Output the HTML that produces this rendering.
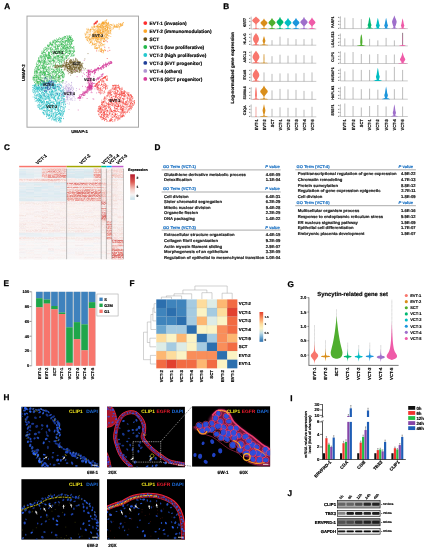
<!DOCTYPE html>
<html lang="en"><head><meta charset="utf-8"><title>Figure</title>
<style>
html,body{margin:0;padding:0;background:#fff;}
body{width:427px;height:550px;overflow:hidden;}
svg{display:block;text-rendering:geometricPrecision;font-family:"Liberation Sans", Arial, Helvetica, sans-serif;font-weight:bold;}
</style></head><body>
<svg width="427" height="550" viewBox="0 0 427 550">
<rect width="427" height="550" fill="#fff"/>
<g id="panelA"><text x="4.30" y="8.90" font-size="8.2" stroke="#000" stroke-width="0.27">A</text>
<rect x="27" y="16.1" width="111.5" height="111.1" fill="#fff" stroke="#a6a6a6" stroke-width="1"/>
<path d="M60.3 38.8h0M66.9 40.4h0M58.3 55.5h0M67 43.8h0M61.2 56.5h0M45.8 76.2h0M54.8 81h0M65.6 42.9h0M69.2 50.6h0M51.5 78h0M36.7 70.7h0M45.6 54.8h0M35.7 74.7h0M68.6 38.8h0M45.8 55.3h0M54 65.1h0M62 61.1h0M49.5 55.2h0M48.6 52.3h0M53 59.9h0M45.5 77.4h0M55.9 42.6h0M62.7 49.1h0M55.6 75.6h0M64.1 46.7h0M42.9 70.7h0M48.6 46.6h0M58.6 81h0M67.4 38.9h0M64.7 58.9h0M49.7 55.2h0M39.1 76.8h0M56.8 41.5h0M51.4 79.8h0M58.5 49h0M48.4 58.1h0M55.1 61.8h0M40 59h0M37.5 64.4h0M58.6 60.3h0M62.4 80.3h0M61.6 75.6h0M61.1 42.2h0M74 55.3h0M39.8 57.3h0M46 71.7h0M60.2 61h0M64.8 49.3h0M68 47.9h0M62.3 39.1h0M36.3 82.7h0M68.6 38.5h0M55.3 47.3h0M45.6 73.7h0M41.8 59.8h0M50.8 60.6h0M47.2 77.1h0M65 48.5h0M45.1 58.6h0M55.9 47.9h0M53 60.6h0M42.9 64.1h0M62.5 81.1h0M40.4 72.2h0M39.5 60.9h0M62.5 47.1h0M37.1 77.1h0M61.9 59.2h0M36.3 72.8h0M64.3 45.4h0M49.3 58.7h0M60 39.8h0M46.3 64.1h0M61.1 70.9h0M52.9 58.6h0M52.3 48.6h0M57.8 42.2h0M42.9 80.8h0M54 58.3h0M46.4 76.9h0M38.6 82h0M48.4 54.8h0M51.9 49.6h0M45.1 83.3h0M41.8 53.4h0M58.8 81.3h0M35.3 71.6h0M71.7 41.8h0M43.6 68.3h0M42.1 82.3h0M44 63.5h0M50.4 61.9h0M38.7 60.4h0M50.5 56.9h0M62.8 80.7h0M74.2 48.2h0M66 58.5h0M42.8 82.2h0M43.9 67.6h0M42.4 66.2h0M54 70.1h0M71.6 47h0M61.7 44.5h0M41.9 84.1h0M43 73.6h0M72.9 51.5h0M49 54.1h0M45.8 53.8h0M42.1 52.7h0M41.8 53.7h0M35.8 80.9h0M47.1 48.6h0M64 51.2h0M43.4 59.1h0M44 56.8h0M58 52.4h0M65.3 47.7h0M62.3 58.1h0M61.2 72.9h0M67.8 50.6h0M46.5 55.2h0M53.2 76.7h0M41.6 84.4h0M44.6 75.1h0M59.3 46.4h0M43.9 65.6h0M46.8 69.9h0M50 63.2h0M61.8 57.1h0M45.4 64.4h0M42.5 72.2h0M51.3 76.5h0M36.6 66.7h0M45.5 61.9h0M71.2 54.1h0M39.1 75.6h0M67.4 44.7h0M44.1 72.1h0M65.4 37.4h0M55.6 67.3h0M50.9 68.6h0M59.1 59.1h0M52.6 44.3h0M51.5 60.9h0M64.4 74.9h0M38.8 77.8h0M71.7 43.3h0M48.2 73.3h0M67.6 42.2h0M44.5 60.9h0M40.2 82.6h0M65.7 40.5h0M58.1 80h0M50.3 75.6h0M48.6 74.7h0M34.3 75.7h0M57.8 68.9h0M38.4 66.3h0M42.8 65.4h0M53.1 42.2h0M37.3 67.1h0M59.8 63.2h0M43.1 81h0M58.7 60.6h0M46.8 49.8h0M52.7 73.1h0M47.7 72.6h0M44.5 62.7h0M44.5 68.7h0M43.1 72.5h0M70.6 51.4h0M53.2 77.4h0M59.3 39.1h0M37.7 82.5h0M34.7 69.6h0M36.3 64.3h0M71.5 37.7h0M59.7 77.3h0M37.1 74.1h0M44.5 72.7h0M54.8 78.5h0M51.3 73.8h0M42.4 78.7h0M53.3 75.7h0M67.9 48.6h0M62.3 60.3h0M48.2 55.3h0M70.2 37.4h0M54.2 54.9h0M55.1 73.1h0M64.3 43h0M38.5 58.9h0M46 71.1h0M43.8 52h0M42.1 85.5h0M63.7 57h0M41.1 55.3h0M61.9 60.6h0M58.9 55.4h0M57.3 74h0M62.1 78h0M45.5 67.5h0M43.3 56.2h0M60.9 81.7h0M39.7 74.8h0M55.2 56.7h0M50.1 73.9h0M50.5 56.8h0M42.2 72.8h0M67.3 55.6h0M53.3 63.6h0M59.5 76.8h0M55.5 42.2h0M44.1 54.3h0M45.3 58.9h0M69.6 37.4h0M39.1 77.4h0M66.4 52.2h0M40.4 79.7h0M67.5 44.9h0M51.5 80.4h0M38.8 60.2h0M53.8 60.4h0M56.3 69.3h0M59.2 67h0M71.6 51.8h0M70.4 36.4h0M68.4 53.5h0M41.1 56.9h0M45 77.2h0M60.4 75.8h0M34.7 71.8h0M40.7 81.3h0M58.4 66.5h0M42.1 68.8h0M60.8 53.2h0M43.8 50.9h0M60.2 45.8h0M62.6 41.7h0M63.3 47.5h0M35.6 67.3h0M67.3 38.8h0M57.8 58.1h0M48 68.1h0M68.7 51.8h0M58.7 50.4h0M66.9 50h0M58.6 76.9h0M57.4 48.3h0M70.6 52.4h0M41.6 73.9h0M61.5 59.6h0M66.6 57.6h0M43.4 64.2h0M53.2 65.4h0M62 53.9h0M38 67.8h0M49.1 61.8h0M55.8 48.9h0M73.6 48.3h0M57.5 79h0M36.8 66.4h0M44.7 63.6h0M51.1 57.5h0M44.7 52.4h0M34.3 73.9h0M61.5 50h0M46.4 48.1h0M63.5 44.8h0M71.3 42.8h0M51.4 52.4h0M36.2 72.2h0M44.2 56.9h0M54.8 52.1h0M35.7 81.2h0M44.2 49.3h0M70.3 39.3h0M33.9 76.2h0M41.1 57.8h0M36.8 66.4h0M58.5 70.9h0M35.9 72.2h0M67.5 51.7h0M34.1 81.1h0M41.2 77.8h0M55.5 58.3h0M46.6 71.1h0M53.8 61.2h0M73.9 46.6h0M67.3 36.2h0M37.7 79.4h0M54.2 60.9h0M39.3 65.7h0M64.9 43.2h0M49.8 78.6h0M65.4 52.7h0M69.8 37.4h0M43.2 57h0M39.7 84.2h0M70.1 37.5h0M44.4 62.4h0M54.8 57.5h0M60.8 41h0M44.6 59h0M50.7 50h0M56.9 67.6h0M45.7 47.3h0M47.4 78.8h0M46.5 74.8h0M49.7 57.7h0M48.5 68.7h0M54.9 72.1h0M72.3 41.5h0M57.6 55.8h0M49 57.7h0M49.1 64.1h0M52.2 44.9h0M57.1 40.3h0M41.9 56.8h0M54.4 70.5h0M61.1 62.1h0M47.8 62.4h0M54.3 39.8h0M50.2 42.9h0M60.2 65.7h0M66.5 50.7h0M60.8 44.9h0M57.7 56.7h0M39.6 61.1h0M65.2 51.7h0M48.8 58.3h0M52.7 66.9h0M69.1 50.7h0M43.4 55.3h0M66.1 47.7h0M74.3 50.2h0M50 56.2h0M47.8 47.9h0M62.8 39.5h0M52 78h0M63.7 55.4h0M54.8 47.2h0M43.8 81.2h0M59.1 46.3h0M55.3 49.3h0M57.2 51h0M69.3 51.8h0M48.7 60.7h0M63.9 48.9h0M60.5 52.3h0M43.4 78h0M38 81.4h0M46.5 67h0M63 47.6h0M66.1 49.1h0M38.6 74.9h0M36.8 69.5h0M59.3 57.6h0M38.3 73h0M43.7 62.4h0M48.1 56.2h0M54.5 58h0M69.7 43h0M55.8 73.2h0M52.8 74.3h0M48.2 45.9h0M62.3 58.4h0M36.5 71.5h0M53.6 57.1h0M60.6 47.9h0M60.3 78.9h0M67.2 51.2h0M67.3 46.9h0M53.7 61.1h0M35.3 70.5h0M52.5 44.7h0M50.5 49.4h0M47.9 56.4h0M51.8 63.9h0M47.6 57.9h0M58.8 75.8h0M52.7 68.9h0M61.3 57.4h0M57 56h0M38.4 79.3h0M43.8 60.6h0M38.4 61.4h0M63.9 73.6h0M38.1 78.5h0M56.8 74.4h0M42.8 53.8h0M46.3 70.6h0M40.3 72.3h0M67.6 40h0M63.9 37.6h0M66.6 40.4h0M41.1 57.7h0M66.5 45.2h0M62.5 76.3h0M39.6 60.5h0M40.4 77.1h0M40.3 77.6h0M42.5 80.7h0M47.9 59.2h0M60.9 48.9h0M56.7 73.6h0M60 52.5h0M45.2 73.9h0M48.3 63.3h0M53.4 54.2h0M51.9 64.2h0M44.7 50.4h0M47.7 82.1h0M48.2 74.4h0M53.4 81h0M62.9 46.8h0M41.3 72.3h0M40.3 61.5h0M41.8 51.3h0M61.4 52.3h0M59.1 51.8h0M59.1 72.1h0M39.4 73.6h0M60.7 65.3h0M62.6 74.7h0M44.9 61.7h0M52.1 69.6h0M43 73.6h0M56.2 44.5h0M40.7 72.7h0M65 47.4h0M47.1 76.8h0M37.4 72h0M68.4 38.7h0M44.4 57.9h0M60.2 50.9h0M39.7 79.8h0M66.5 49.5h0M39.3 70h0M69.5 46.4h0M69.7 44.3h0M71.6 42.9h0M62.4 39.2h0M44.4 57.1h0M46.2 79.8h0M51.6 44.8h0M53 40.8h0M48.4 45.4h0M51 63.4h0M60 61.4h0M50.4 51.1h0M49.4 55.9h0M43.9 66.5h0M38.2 77.9h0M61.8 51.4h0M42.4 67.6h0M49.5 61.4h0M59.2 62.4h0M63.4 61.9h0M60.1 77.1h0M49.3 77.6h0M47.9 76h0M62.5 57.1h0M39.1 69.6h0M49 52.4h0M40.5 72h0M68.3 39.4h0M50.8 75.5h0M51.6 54.2h0M59.8 76.8h0M71.7 44.3h0M61 51.3h0M64.3 36.4h0M68.7 55.8h0M62 73h0M56.6 74.5h0M37.1 77.1h0M62.4 71.5h0M44.6 50.5h0M54.2 57.4h0M48.4 58.4h0M66.5 45.2h0M45.9 62h0M44.4 74.7h0M57 58.5h0M69.7 39.7h0M56.3 75.2h0M68.3 42.7h0M36.6 75.4h0M44.1 81.3h0M62.2 37.5h0M58.2 52.2h0M47.2 76.6h0M48.9 67.6h0M52.5 71.9h0M69 41.2h0M55.2 49.2h0M72.5 39.2h0M55.7 40.6h0M69.2 46.7h0M73.5 52.4h0M47.1 57.6h0M65.9 50.1h0M56.1 75.2h0M55.1 40.4h0M48.1 54.4h0M73 51.5h0M69.7 40.9h0M52.3 43.3h0M41.7 55.9h0M69.5 35.8h0M57 69.8h0M49.8 61.3h0M57.5 46.2h0M62.3 76h0M71.3 35.8h0M43.3 51.9h0M54 59.9h0M60.3 44.4h0M37.7 72.7h0M61.9 72h0M58.1 56.2h0M38 85.3h0M53 46.7h0M63.1 54.3h0M59.7 77.1h0M37.4 76.1h0M47.6 45.3h0M44 70h0M38.4 69.5h0M47.5 45.8h0M41.1 77.4h0M40.7 82.8h0M55.5 79.8h0M36.8 66.7h0M60.1 67.1h0M35.1 77.4h0M63.5 73.5h0M39.7 65.1h0M44.4 73.7h0M57.1 77.3h0M54.7 79.4h0M46 54.5h0M44.5 55h0M42.1 80.7h0M65.8 50.5h0M56.5 69.7h0M45.3 67h0M50.2 76.9h0M62.9 74.2h0M47.3 55.3h0M53.7 78.2h0M57.4 48h0M38.4 69.2h0M69.7 41h0M58.5 77.4h0M37.3 69h0M62.4 38.7h0M60 42.3h0M56.5 76h0M42.3 67.7h0M42.8 74.7h0M65.6 36.5h0M59 72.3h0M58.7 46.5h0M73.9 52h0M38.6 57.6h0M50 48.8h0M51.7 45.5h0M64.3 38.3h0M43.2 52h0M66.5 58.6h0M53.6 77.3h0M55.5 45.8h0M64 54.4h0M58.1 53.6h0M59.1 79.9h0M43.9 81.6h0M62.7 57.3h0M52.8 55.1h0M61 71.1h0M43.1 54.4h0M65.1 36.8h0M42.7 81.4h0M59.9 82h0M64.8 40h0M67.6 43.8h0M33.6 77.9h0M56.8 49.9h0M34 77.4h0M61.4 46.4h0M55.9 52h0M68.4 41h0M39.4 65.9h0M61.7 65.7h0M64.2 74.9h0M69.2 58.1h0M51.5 71.5h0M42.4 81h0M37.2 76.8h0M38.8 61.8h0M45.2 82h0M51.5 69.2h0M57.8 68.1h0M62 49.2h0M45.1 56.1h0M37.2 82.4h0M68.1 45.8h0M40.8 80.6h0M62 45h0M49.2 68.4h0M34.3 78.4h0M63.4 42.5h0M55.2 40.3h0M49.2 74.3h0M48.3 53.8h0M35.3 69h0M52.8 71.7h0M43.4 72h0M68.7 40.6h0M40.7 79.3h0M63.6 39.1h0M61.5 53.4h0M59.7 61.4h0M55.1 46.5h0M39.2 75h0M48.7 81.7h0M71.4 39.3h0M73.7 55.6h0M43.5 59.1h0M42.8 77.5h0M42.3 84.3h0M57.9 47.9h0M38.6 84.4h0M57.5 80.5h0M58.2 57.6h0M45.5 83.4h0M45.7 49.4h0M55 77.8h0M40.8 70.8h0M55.1 68.8h0M53.5 69.3h0M62.1 72.3h0M66.4 46.8h0M70.4 47.4h0M65.3 41.9h0M49.1 55.9h0M57 53.3h0M62.3 43h0M60 71.8h0M45 47.5h0M55.6 72h0M40.5 70.9h0M54.6 51.4h0M59.5 69.7h0M48.1 59.8h0M62.3 55.5h0M67 40.5h0M61.2 64.4h0M37.7 67.9h0M55.4 71.6h0M44.5 66.9h0M61 49.1h0M46.8 51.3h0M55.1 42.3h0M54.3 61h0M65.2 40.8h0M43.5 69.6h0M61.9 74.7h0M60.9 49.1h0M38.5 58.9h0M45.4 74.3h0M40.2 62.4h0M65.4 57h0M44.5 72.5h0M45.2 58.5h0M41.5 83.5h0M39.8 79.3h0M50.6 76.9h0M46.8 78.7h0M49.1 53.2h0M71.9 55.4h0M44.2 81.9h0M43.9 68.2h0M55.2 53h0M38.7 82.2h0M34.8 79.5h0M69.6 46.2h0M67.2 46.9h0M41.9 57.4h0M45.1 67.4h0M63.7 50.8h0M57.2 77.3h0M42.6 53.3h0M38 81.3h0M62.3 56.8h0M66.1 52.3h0M41.9 80.2h0M62.7 82.8h0M63.1 44.5h0M38.4 83.5h0M40.9 80.4h0M54.8 80.7h0M38.6 67.5h0M43.5 49h0M47.5 71.9h0M55.1 43.8h0M57.5 71h0M45.7 78.1h0M36.5 76.1h0M47.3 74.4h0M50.5 66.8h0M45.9 60.8h0M41.6 65.4h0M49.6 53.7h0M33 78.9h0M71.5 56.1h0M61.2 72.9h0M58.5 69.3h0M50.7 43.8h0M53.6 60h0M59.4 59.8h0M65.7 48.6h0M45.1 52.6h0M35.7 76.3h0M45.3 71.8h0M37.2 83h0M69.7 54.1h0M41.2 66h0M51.1 47.7h0M63 44.3h0M64 37.9h0M50.6 75.6h0M59.3 51.8h0M49.5 69.4h0M65.8 55.8h0M58.8 52.2h0M61.9 51.9h0M39.6 79.9h0M37.2 83.1h0M56.1 81.8h0M36.8 74.9h0M63.4 47.9h0M53.6 71.5h0M63.9 59h0M53.4 41.6h0M35.4 85.1h0M59.9 54.1h0M52.2 72.6h0M66.8 41.1h0M40.1 82.1h0M70.3 45.4h0M56.4 79.2h0M64.9 45.7h0M71.3 43h0M52.4 60.6h0M41.3 79.8h0M38.6 65.1h0M45.8 66.9h0M60.8 54.6h0M57 46.1h0M61.9 69.9h0M74.2 51h0M67.9 41.2h0M54.1 51.9h0M36.6 77.9h0M59.2 67.7h0M48.4 81.1h0M39.8 65.5h0M43.3 73.3h0M49.5 52.8h0M58.8 44.4h0M36.7 68.6h0M72.2 47.9h0M51.8 44.1h0M60.8 43.2h0M53.9 43.9h0M37.1 81.5h0M47.3 49.1h0M62.5 57.2h0M52.7 44.9h0M45.1 82.7h0M53.2 40.9h0M63 76h0M57.4 71.4h0M62.9 49.1h0M36.8 71.8h0M46.9 80.9h0M41.2 61.9h0M54.4 65.6h0M54.5 56.9h0M44.8 73.7h0M43.3 82.5h0M49.2 71.2h0M41.9 58.5h0M61.4 67.6h0M67.5 47.3h0M63.9 60.4h0M63.3 80.3h0M50.9 51.3h0M44.5 82.9h0M70.5 56.3h0M37.7 81.4h0M48.9 55h0M47.2 69.8h0M61.7 67.1h0M70.8 46.7h0M60.4 65.9h0M46.4 56.1h0M68.9 47.5h0M44.6 74.6h0M49.3 45.7h0M56.4 55h0M65.1 57.8h0M48.4 57.8h0M39.6 61.8h0M41.6 80.4h0M57.2 49.3h0M37.8 68.9h0M69 52.1h0M49.7 42.8h0M49.3 47.1h0M49.1 73.7h0M61.4 69.5h0M40.4 68.6h0M38.5 66.2h0M56 41.7h0M45.5 69h0M57.4 45.8h0M65.6 53.4h0M61.6 40.7h0M44.7 77.6h0M34.2 79.7h0M55.8 78.7h0M59.2 41.6h0M52.4 75.2h0M64.4 46.3h0M58.6 78.4h0M66.4 58.1h0M43.6 70.8h0M73 53.8h0M69.3 53.9h0M61.3 56.6h0M41.6 71.6h0M44.3 67.9h0M42.4 56.9h0M58.4 66.5h0M61 75.5h0M50.6 62h0M40.2 64.5h0M34.7 82.6h0M57.1 62h0M63.3 46.3h0M59.3 70h0M37.8 77.9h0M43.1 50.9h0M63.9 40.8h0M38.1 70.5h0M35.2 73.4h0M51.9 56.8h0M40 56.1h0M56.6 59.2h0M70.4 38.1h0M59.9 78.3h0M62.5 71.6h0M51.5 51.8h0M61 50.2h0M68 41.4h0M34.5 72.4h0M53.7 56.1h0M73.8 55.8h0M46 68.5h0M69.8 45h0M40.6 61.1h0M43.7 63.7h0M71.4 50.3h0M71.8 40.5h0M41.6 60.9h0M69.3 38.1h0M62.1 65.5h0M40.6 57.1h0M44.9 67.2h0M54.1 61.1h0M71.7 48h0M72.4 47.9h0M36.5 79.7h0M41.9 59h0M60.8 71.2h0M49.3 55.9h0M60.1 55.5h0M52.6 77h0M69.5 48.7h0M49 75.1h0M57.2 46h0M62.7 47.3h0M46.4 48.7h0M69.6 54h0M37 71.2h0M71 41.5h0M55.8 76.4h0M49.1 44.4h0M46.7 70.4h0M51.7 58.8h0M58.7 75.3h0M54.4 52h0M40.9 84.8h0M50.2 78.1h0M45.6 59.6h0M57.4 64.9h0M58.7 38.7h0M64.3 76.3h0M64.7 37h0M70.3 47.9h0M57 81.6h0M52.8 66.2h0M70.5 38.2h0M66.8 47.9h0M54.2 65.2h0M43 62.1h0M40.6 63.4h0M45 61h0M46.5 71.4h0M54.6 42h0M36.6 73.4h0M74.7 51.5h0M61.4 69.7h0M44.4 61.9h0M44 71.2h0M65.1 51.5h0M53.1 76.9h0M70 43h0M60.6 38.4h0M50.1 58.2h0M62.3 41.9h0M63.9 46.9h0M60.9 59h0M37.8 61h0M49 78h0M59.6 72.4h0M53.6 49.9h0M39.4 81.6h0M48.9 76.7h0M50.4 44.8h0M49.8 55.4h0M60.2 53.9h0M57.2 58h0M50.2 43.4h0M50.5 47.8h0M42.5 74.7h0M61.9 69.7h0M56.9 68.5h0M34.5 73.1h0M40.7 76.1h0M61 56.3h0M61.7 62.4h0M41.9 78.3h0M62.1 50.9h0M56.1 77.6h0M33.1 79.6h0M65.5 50.4h0M64.8 59.6h0M43.7 68.5h0M41.8 62h0M45.7 53.2h0M58 44.4h0M44.6 60.5h0M44.7 73.1h0M35.3 77.7h0M43.4 65.1h0M47 81.6h0M38.1 82.4h0M42.8 62.8h0M59.7 45.5h0M41 71.5h0M39.5 61.7h0M59.4 79.7h0M46.6 56.4h0M70.7 45.1h0M37.5 83.1h0M46.5 69.8h0M71.3 54.8h0M45.6 62.8h0M36.6 70.9h0M59.2 76.8h0M64.7 45.3h0M57.6 41.7h0M63.2 37.2h0M40 61.9h0M50.1 48.8h0M55.5 80.3h0M46.8 51h0M63.7 73.3h0M63.6 72.4h0M59.5 68.5h0M56.7 41.8h0M56.2 53.7h0M49.5 58.2h0M33.7 80.1h0M62.1 75.9h0M69.9 40.8h0M52.4 42.2h0M52.8 80.3h0M58.5 56.1h0M46.7 64.6h0M42 71.3h0M46.3 66.3h0M60.3 52.9h0M59 81.6h0M44.7 75.4h0M71.4 43.7h0M46.6 55.5h0M48.8 75h0M55.1 70h0M69.6 53.5h0M48 69.8h0M46.8 48.1h0M62.5 80.2h0M54.9 77.1h0M68 41.8h0M41 75.5h0M45.1 48.9h0M57.7 53.3h0M59.9 69.4h0M42.5 60.9h0M34.8 77.6h0M58.1 75.8h0M62.1 40h0M39.9 68.8h0M48.6 63.6h0M55.9 75.4h0M36.8 80h0M37.7 70h0M49 52h0M66.3 52.3h0M69.3 53.6h0M48.5 48.6h0M56.2 62.4h0M71.3 39.6h0M72.2 38.5h0M39.9 62.6h0M50.7 59.2h0M60.7 50.6h0M47.8 80.2h0M53.2 79h0M67.5 53.9h0M56.8 51.5h0M56.2 57.4h0M63.9 77.4h0M73.7 46.4h0M45.4 69.1h0M63 59.2h0M53.3 65.6h0M53.5 42.5h0M48.7 53.4h0M47.2 81.6h0M67.6 36.8h0M73 40.3h0M73.6 47.8h0M57.7 52.9h0M70.4 48.2h0M72.3 47.8h0M37 81.5h0M52.9 75.2h0M44.6 60.7h0M68.6 55.6h0M68.9 36.1h0M40.9 56h0M37 72.3h0M51.6 47.1h0M36.4 71h0M74.1 51.6h0M50.1 70.4h0M37.6 66.9h0M58 73.8h0M58.1 56.7h0M55.9 51.2h0M42.1 52.8h0M53.8 72.7h0M58.6 46h0M48.1 67.5h0M47 80.1h0M58.8 75.8h0M56.2 56.4h0M62.8 41.6h0M60.1 50.7h0M63.6 76h0M55.1 47.3h0M49.3 73.6h0M63.8 47.8h0M54 70.3h0M50.8 72.7h0M57.4 55.9h0M35 71.3h0M63.5 77.8h0M50.2 48.2h0M72 43.8h0M46.4 62.2h0M43.1 68.6h0M49.2 45.8h0M46.7 56.2h0M43.2 81.8h0M70.2 41.1h0M46.1 66h0M34 77.6h0M65.7 44.7h0M44.1 64.8h0M37.7 75.9h0M60.5 66.8h0M42 62.6h0M58.5 62.4h0M58.4 39.8h0M54.9 52.7h0M55.9 77.2h0M64.6 46.2h0M65.3 46.3h0M63.6 72h0M44.7 68.9h0M53.3 62.5h0M51.3 52.7h0M44.9 52.4h0M49.1 55.3h0M64.1 55.2h0M48.7 49.4h0M66.6 38.1h0M65.8 41.7h0M52.9 80.7h0M40.2 79.4h0M53.2 60h0M64.2 60h0M70 43.9h0M58.1 59.1h0M56.7 50.3h0M49.4 56.9h0M39.4 60.5h0M54.6 76.5h0M37.5 73.1h0M70 46.7h0M47.4 71.5h0M36.9 65.4h0M62.5 41.3h0M36.8 75.7h0M58.7 41.5h0M60.6 78.8h0M69.9 40.3h0M54.7 40.6h0M57.8 46.8h0M59.6 44.8h0M54.7 50.5h0M58.9 49.7h0M42.3 74.3h0M72.3 47.6h0M47.5 57.9h0M57.7 40.4h0M51.7 61.7h0M47.4 45.1h0M59.6 60.8h0M38.8 81.8h0M59.3 76.4h0M58.7 79.5h0M64.2 38.5h0M61.6 43.6h0M53.7 51.1h0M44.8 56.7h0M53.3 69.9h0M44.9 74.7h0M34.5 71h0M55.3 44.6h0M54.1 71.6h0M34.7 85.5h0M68.5 48.9h0M63.4 48.4h0M68.2 48.1h0M61.9 62.6h0M62.3 51.6h0M44.6 61.4h0M65.2 53.5h0M35.7 83.8h0M70.7 50.9h0M61 38.5h0M40.6 67.1h0M40.2 73h0M55.6 76.5h0M46.4 80.3h0M73.3 52.8h0M59.9 57.3h0M55.5 59.9h0M66.8 56.9h0M70.4 37.6h0M50.4 73.8h0M55.1 49.6h0M56.9 53.1h0M45.3 57h0M61 56.5h0M56.3 71.7h0M60.9 52.8h0M62 63.8h0M49 66.6h0M48.8 54.3h0M39.8 69.7h0M69.2 36.1h0M58.7 66.7h0M56.6 48.5h0M69.7 50.9h0M41.8 68.2h0M45.9 75.8h0M37.1 71.5h0M72 55.2h0M34.8 80.4h0M40.5 83.1h0M56.3 44.9h0M61.4 61.5h0M68.7 37.2h0M57.8 46.9h0M58.8 72h0M49.9 79.9h0M44.6 81.2h0M51.8 54.6h0M69.5 36.7h0M68.4 39.8h0M50.9 65.2h0M55.7 58.3h0M61.7 82.2h0M56.1 80.6h0M68.3 44.5h0M51.6 50.7h0M42.1 60.2h0M73.8 49.6h0M40 78.5h0M55 43.6h0M42.2 65.4h0M36.9 62.3h0M62.3 76.5h0M52.7 78.6h0M44.2 66.7h0M61.3 44h0M35.6 83.9h0M40.3 73.7h0M48.6 72.5h0M39.8 81.5h0M58 51.1h0M36.6 77.9h0M62.1 55.6h0M45.3 72.9h0M62.3 51.9h0M44.1 65.4h0M70.6 53.1h0M37.7 61.1h0M36 77.5h0M36.4 77h0M50 60.8h0M61.7 69.8h0M44.1 76.2h0M69.1 48.5h0M61.6 40.9h0M67.5 47.4h0M63.7 51.7h0M61.7 53.1h0M56.7 41.9h0M38.8 79.4h0M58.9 56h0M45.6 55.7h0M61.9 43.7h0M68.9 39.6h0M61.2 38.9h0M48.9 57.7h0M45.7 49.6h0M72.5 40.9h0M43.6 61.2h0M61.6 43.1h0M34.7 75.7h0M67.8 39.1h0M60 42.1h0M52.6 45.2h0M59.3 37.5h0M57.5 60h0M53.8 45.8h0M62.7 45.3h0M52.9 60.6h0M45.8 54.7h0M64.1 53.8h0M48.8 80h0M66.1 56.4h0M65.6 44h0M52.8 41.9h0M62.3 51h0M69.8 49.7h0M45.5 57.1h0M36.8 83.8h0M40.2 83.2h0M49.3 75.5h0M67.2 52.6h0M54.3 74.3h0M39.3 72.1h0M61.3 44.5h0M33.2 78.2h0M59.6 82.1h0M55.8 56.3h0M45.3 73.4h0M38.5 60.8h0M40 83.6h0M38.5 63.6h0M64.1 41.5h0M62.7 72.6h0M71.9 39.6h0M51.2 69.3h0M66.9 40.8h0M43 56.1h0M38.5 76.8h0M38.3 69.8h0M38.7 62.4h0M58 48h0M57.3 39.6h0M54.3 72.9h0M63.3 45.2h0M70.5 39.5h0M52.1 77.9h0M65 42.5h0M62.3 44.1h0M61.1 57.5h0M40.9 80.4h0M62.5 57.7h0M67.6 37.6h0M55.3 63.2h0M59.6 70.9h0M74 54.5h0M57.8 45.8h0M58 59.9h0M54.6 52.9h0M72.8 56.2h0M55.2 43.6h0M66.6 52.2h0M45.7 77.3h0M43.6 72.8h0M34.7 82.5h0M59.6 64.7h0M46.9 69.3h0M39.4 72.5h0M66.9 52.1h0M58.6 73.2h0M63.9 57.9h0M44.2 78.8h0M50.9 58.7h0M70.2 50.3h0M62.6 74.6h0M47.3 74.6h0M50.8 48.9h0M58.8 72.2h0M55.2 46.6h0M35.2 68.2h0M61.9 81.3h0M50.1 61.9h0M56.3 71.1h0M48.7 70.2h0M53.3 78.3h0M59.7 42.9h0M50 64.1h0M43.8 52.7h0M43.7 63.7h0M58.4 39.4h0M72.5 53.7h0M32.9 77.2h0M48.6 46.6h0M44.3 83.1h0M51.9 49.4h0M52.6 53.3h0M50 67.1h0M70.8 41.7h0M65.9 38.5h0M66.2 49.6h0M59.6 52.5h0M48 46.5h0M45.2 72.2h0M50.8 56.4h0M63.2 77h0M55.7 53.1h0M48 74.5h0M36.4 77.5h0M53 59.3h0M64.9 54.9h0M49 52.8h0M36.7 80.4h0M64 74.1h0M41.9 60.9h0M70.7 44.5h0M56.5 72.3h0M59.1 78.3h0M49.2 72.5h0M48.6 52.3h0M56.7 66.7h0M49.2 61.4h0M60.1 57.8h0M47.7 64.2h0M44.1 71.9h0M57.5 69.9h0M38.7 78.2h0M48.7 67.4h0M63.4 41.7h0M40.3 56.1h0M57.1 61.1h0M67.6 49.2h0M47.7 57.5h0M66.1 45.2h0M65.8 41.6h0M61.4 46.7h0M66.4 55.6h0M73.3 40.6h0M45.6 59.3h0M64.2 48.3h0M53 53.1h0M60.7 59.7h0M69.2 51.1h0M66.8 47.7h0M34.4 77.3h0M55.7 72h0M40.3 67.5h0M40.4 62.6h0M55.5 48h0M50.4 44.2h0M70 51.5h0M60.6 73.4h0M63.6 80.8h0M54.6 78.4h0M72.8 50.6h0M47.3 50.5h0M70.5 38.6h0M66.9 56.5h0M72 53.5h0M65.6 45.1h0M38.5 78.2h0M50.3 43.7h0M70.1 50.9h0M59.6 75.3h0M38.7 83.4h0M59.9 51.2h0M44.8 80h0M42.1 67.8h0M49.4 76.4h0M37 81.5h0M42 74.4h0M52.9 76.9h0M49 71.4h0M39 58.9h0M72.1 40.2h0M59.6 63.5h0M43.9 52.2h0M55.4 57.5h0M52.4 49.9h0M56 71.9h0M39 69.2h0M34.9 85.6h0M48.5 72.3h0M37.2 64.7h0M50.4 42.1h0M43.3 71.2h0M48.9 57.9h0M71 46.3h0M57.2 66h0M62.1 39.4h0M68.2 42.4h0M64.1 49h0M36.9 80.2h0M48.4 56h0M70.1 39.3h0M67.8 55.7h0M43.8 55.2h0M47.3 61h0M47.3 64.5h0M49.4 44.8h0M36.6 63.6h0M70.4 52.2h0M57.9 74.1h0M56.5 82.2h0M65.8 41.3h0M44.9 71.6h0M35.8 75.7h0M43.4 72.5h0M69.5 43.1h0M52.3 49.2h0M36.6 85h0M49 60.4h0M58.3 48.5h0M67.2 57h0M59.4 70.5h0M43.7 61.9h0M47.5 58.4h0M61.5 45.1h0M57.6 52.1h0M58.6 41.6h0M45.2 75.3h0M52.1 59.9h0M58.6 58.8h0M42.8 65.3h0M33.6 77.6h0M70 37.5h0M42.7 67.9h0M34.4 75.3h0M66.9 35.7h0M58 56.6h0M53.5 58.2h0M49.4 74.1h0M55.4 51.6h0M38.1 84.4h0M63.1 53.8h0M53.1 71.2h0M70 42.2h0M51.5 44.5h0M56.5 38.8h0M60.1 60.9h0M40.2 82.6h0M51 43h0M66.2 48.1h0M67.8 47.4h0M53.9 47.2h0M53 72.4h0M62.2 48.5h0M63.6 50.9h0M60.3 41.5h0M50.5 58.1h0M73.9 50.3h0M58.7 56.2h0M57.4 70.9h0M53.8 71.5h0M35.9 79.1h0M50.3 52h0M63.2 60.8h0M56.9 40.1h0M65.4 48.6h0M65.2 36.6h0M46.1 63.5h0M42.9 66.6h0M48 64.6h0M43.7 68.9h0M41.6 72.9h0M41.3 84.7h0M53.7 42.3h0M58.7 56.4h0M69.8 53.5h0M56.5 41.5h0M38.1 68.8h0M42.9 66.7h0M40.4 76h0M62 54.2h0M40.6 74.7h0M40.9 63.8h0M62.4 77.5h0M44.9 78.9h0M71.9 41.8h0M55.5 63.8h0M40.2 75.2h0M56.9 49.4h0" stroke="#2FB74C" stroke-width="0.66" stroke-linecap="round" fill="none"/>
<path d="M41.4 89.1h0M44.4 105.2h0M51.1 92.4h0M33.8 85.2h0M49.7 104h0M53.6 113.2h0M63.5 104.2h0M46 86.9h0M57.3 117.4h0M46.7 102.3h0M50.2 85.6h0M33.8 85.7h0M52.5 119h0M49.8 95.1h0M61.4 91.3h0M41.4 93.5h0M56 95.9h0M43.7 103.1h0M40.3 97.5h0M55.5 119.6h0M62.5 90.2h0M39.8 95.7h0M62.5 98.3h0M59 104h0M48.1 94.8h0M55.3 92.3h0M40.9 87.8h0M53.2 103.8h0M43.9 103.4h0M37.5 89.7h0M50 104.7h0M53.4 119.9h0M43.7 106.4h0M54.7 95.6h0M40 84.1h0M41.5 92.9h0M64.1 101.9h0M49.9 114.1h0M44.3 88h0M47.1 104.7h0M46.6 106.6h0M54.5 84.9h0M57.2 95.7h0M47.2 107h0M43.2 83.6h0M41.7 105.9h0M52.1 96.9h0M40.5 106.1h0M41.4 96.7h0M54.5 98.9h0M49.7 104h0M47.1 106.6h0M43.8 100.6h0M51.1 93.3h0M46.7 98.8h0M51 83.5h0M39.8 90.6h0M54.1 96.9h0M49.2 118.2h0M40.6 84.7h0M45.4 84.5h0M58.4 96.4h0M34.2 88h0M35 92.4h0M50.9 91.2h0M64.1 109.2h0M54.2 83.1h0M47.4 89.6h0M53.4 92.8h0M58.4 120.3h0M44.8 94.3h0M49.3 107.4h0M62.7 114h0M55.3 87.3h0M49 110.7h0M49.8 85.9h0M44.4 108.1h0M62.3 112.4h0M39.6 99.6h0M40.1 100.2h0M53.9 98.5h0M44 82.5h0M47.4 111.5h0M60.6 120.9h0M47.5 112.4h0M51.9 83.2h0M45.4 90.7h0M42.9 112.1h0M51.2 111h0M54.8 99.1h0M42.4 91.8h0M63.8 108.8h0M56.8 106.9h0M46.3 92h0M47.4 96.8h0M62.1 90.6h0M54.4 105.9h0M50.3 94.4h0M44.1 107.6h0M61.8 99.1h0M48.4 89.2h0M45.7 96.5h0M55.8 93.5h0M46.3 96.8h0M47.8 97.1h0M48.7 107.3h0M37.9 106h0M58.2 97.2h0M39.8 105.8h0M44.4 102.2h0M44.1 110.4h0M50.7 85h0M38 101.3h0M47.6 108.9h0M50.9 109.6h0M44.3 89.1h0M41.5 103.8h0M58.1 102.3h0M63.2 91.7h0M59.6 102.1h0M58.3 88.9h0M48 93.6h0M42.1 87.5h0M50.9 113.8h0M60.6 93.1h0M56.6 102.5h0M59.4 122.3h0M46.5 82.2h0M40.1 89.6h0M63.5 92.2h0M61.1 114.6h0M45 106.8h0M60.9 87.9h0M34.5 91.6h0M41.7 102.3h0M39.8 103.9h0M41.6 105.8h0M64.1 99h0M42.4 101.3h0M56.8 93.3h0M56 101.4h0M47.1 108.4h0M46.7 104.5h0M49.5 110.5h0M54.4 85.8h0M42.3 86.6h0M55.6 105h0M34.9 96.7h0M41.2 90.8h0M46.7 95.3h0M56.5 89.3h0M63 116.2h0M62.4 115.4h0M51.5 89.8h0M55.4 90.6h0M43.4 90.6h0M34.1 90.8h0M53.8 86.1h0M65.1 94.9h0M49.8 102.3h0M58.3 103.3h0M57.3 104.8h0M47.9 114.7h0M60.4 107.2h0M57.8 98h0M58.7 120.3h0M37.5 88h0M47.4 87.7h0M44.6 101.4h0M48.1 83.5h0M51.9 85.2h0M50 87.8h0M61.6 85.1h0M46.9 105.4h0M55.1 83h0M47.6 87.8h0M57.4 93.9h0M61.9 102.5h0M54.6 119.6h0M59.1 86.9h0M51.8 115.7h0M36.2 101.4h0M54 106.5h0M62.7 109.1h0M53.9 116.5h0M55.9 115.8h0M47.2 115h0M39.3 88.3h0M62.1 97.9h0M61.8 96.7h0M60.2 110.2h0M56.6 105.2h0M61.1 112.1h0M40.7 95.7h0M54 119.5h0M61.5 116h0M53.8 103.9h0M34.2 93.9h0M39.4 94.2h0M51.8 91.3h0M55.4 90.7h0M55.4 80.9h0M63.6 111.6h0M45.9 87.9h0M44 82.9h0M56.6 106.8h0M59.5 118.7h0M36 90.7h0M42.9 102.3h0M59.5 93.2h0M59.6 113.5h0M54.6 81.2h0M52.7 106.8h0M52 85.1h0M58.7 118.3h0M44 114.6h0M43.7 107.3h0M41.8 96.6h0M37.5 88.3h0M55 109.7h0M44.2 106.3h0M39.5 98.2h0M54.7 96.9h0M53.6 113.5h0M55 112h0M50.2 87h0M36.1 97.2h0M60.8 90.6h0M39.1 105h0M40.1 88.6h0M59.3 116.2h0M44.8 93.8h0M44.2 86.9h0M40 102.7h0M49.6 91.5h0M58.2 85.6h0M52.4 94.1h0M49 98.2h0M51.2 101.3h0M37 87.7h0M64.9 102.7h0M50.3 89.1h0M47.4 109.7h0M48.8 97.2h0M39.2 100.5h0M57.7 94.3h0M57.8 109.4h0M49.3 114.2h0M54.5 87.6h0M32.5 91.2h0M56 116.2h0M40.7 85.4h0M64 104.2h0M62.7 89.9h0M41.1 85.7h0M51.5 110.3h0M49.1 97h0M38 84.3h0M54.9 106.8h0M62.2 102.5h0M46.6 114.3h0M41.4 90.4h0M54 96.8h0M60.9 97.8h0M52.6 110.2h0M64.6 111h0M59.5 117.6h0M38 87.8h0M45.8 99.4h0M48.1 82.4h0M54.6 119.2h0M51.4 115.7h0M57.3 102.7h0M50.5 102.8h0M42.6 98.4h0M46.8 83.1h0M45.5 98.9h0M63 102.7h0M63.9 109.2h0M54.9 93.2h0M63.9 90.4h0M39.2 86.3h0M39.6 90.3h0M40.2 98.4h0M40.2 91.4h0M61.7 106.4h0M47 93.6h0M37.3 89h0M52 88.3h0M49.1 110.5h0M55.4 95.7h0M48.4 115.2h0M41.1 104.9h0M60.9 118.5h0M64.1 101.8h0M41.4 89.5h0M62.4 94.9h0M58.8 118h0M53 117.3h0M63.1 102.9h0M47 108.3h0M51.1 112.8h0M43.6 108h0M40.5 100.7h0M35.4 85.4h0M43.3 82.9h0M46.6 91.7h0M59.2 95.3h0M39.6 90.7h0M41.4 84.7h0M56 118.3h0M44.9 86.8h0M48.9 88.5h0M53.2 105.7h0M54 120h0M38.3 97h0M42.7 108.3h0M46.3 108.1h0M63.6 112.7h0M55.2 89.2h0M63.2 93.7h0M44.3 114.6h0M34.8 95.2h0M46.8 115.8h0M36.1 98.3h0M35.7 89.1h0M57 121.8h0M60.2 88.3h0M59 83.7h0M38.5 98.5h0M48.6 102.7h0M44 82.9h0M53.7 107.8h0M56.1 121.4h0M43.3 87.5h0M37.8 88.3h0M38.1 86.2h0M47.7 102.3h0M53.2 117.9h0M37 85.9h0M46.9 107.4h0M51.3 97.6h0M56.2 113h0M46.3 90h0M51.3 96.8h0M41.2 98.1h0M61.5 92.2h0M48.2 99.3h0M49 100.1h0M44 95.1h0M39.9 102.2h0M49.8 106.2h0M60.4 108.9h0M57.7 100.4h0M61.4 94.7h0M38.3 100.8h0M47.3 84.8h0M60.3 91.5h0M51.3 109.3h0M32.5 85.6h0M61.1 90.1h0M50.5 106.4h0M62.6 92.9h0M54.8 86.2h0M53.7 80.8h0M54.5 103.8h0M51.5 106.3h0M38.5 101.5h0M36.4 88.5h0M43.4 89.1h0M45.2 114h0M58.7 89.1h0M62.6 93.9h0M60.8 110.6h0M55.7 87.2h0M46.1 111.3h0M48.4 83.5h0M51.8 91.9h0M49.7 118.5h0M47.6 96.4h0M50.2 88.8h0M63.4 100.4h0M50.2 94.9h0M52.8 93.9h0M49.5 105.3h0M43.4 110.6h0M40.1 106.4h0M58.9 113.6h0M55.6 100.5h0M47 94.1h0M56.2 112.6h0M54.6 84.5h0M52.4 90.6h0M43 106.5h0M56.9 107.8h0M52.4 109.2h0M51.4 89.3h0M62.4 94.7h0M52.8 84.5h0M48.5 103h0M47.1 114h0M64.9 101h0M59.5 95.5h0M49.1 92h0M50.7 102.7h0M35.1 92.4h0M50.2 85.3h0M56 82.8h0M34.3 86.2h0M62.9 114.1h0M46.2 82.7h0M51.8 85.5h0M50.5 106.9h0M33.2 89.4h0M60.3 88.3h0M60.5 90.7h0M39.9 89.8h0M64.5 108h0M52.6 104.5h0M64.1 100.1h0M44 100.3h0M37.5 90.3h0M48.4 83h0M47.4 104.3h0M51.5 87.4h0M60.9 105.8h0M47.1 110.2h0M56.3 104.2h0M43.6 107.7h0M44.3 91.3h0M38.3 107.1h0M55 96.8h0M50.6 106.1h0M54.2 94.4h0M60.9 100.8h0M52.5 91.6h0M49.8 92.6h0M41.9 85.5h0M45.7 84.4h0M47.9 98.3h0M43.3 112.5h0M51.5 95.6h0M35.6 93.6h0M49.2 86.3h0M57.4 86.8h0M35.9 86.6h0M45 96.3h0M43.8 88.2h0M64.6 96.1h0M39.1 93.6h0M58 84.5h0M53 107.8h0M61.5 121.1h0M52.9 83h0M41.1 86h0M36.9 96.1h0M51.3 91.9h0M56.2 101.1h0M47.5 103.3h0M60.5 120.4h0M42.8 83.8h0M58.7 110.3h0M49.4 92.9h0M50.2 111.8h0M59.2 104h0M57.8 103.4h0M52.3 117.6h0M50.7 100.6h0M59.5 120h0M33.1 97h0M52.9 88.8h0M39.4 97h0M64 103.2h0M55.1 84.6h0M59.2 87.9h0M45.4 87.4h0M50 117.1h0M60.4 84.1h0M34.7 86.8h0M53.2 101.7h0M51.4 116h0M56.6 101h0M61.6 111.1h0M60.1 110.2h0M36.1 88.2h0M55.8 95.4h0M40.1 99.5h0M59.7 111.9h0M42.7 103h0M60.5 113.9h0M59.8 105.7h0M40 100.5h0M58.2 92.8h0M61.6 106.5h0M46.7 87.8h0M55.3 107.6h0M43 89.9h0M63.6 118.4h0M56.3 103.8h0M46.4 88.3h0M59.1 118.6h0M49.1 85.1h0M55.5 100.8h0M62.1 100.8h0M45.5 97h0M49.7 97.4h0M37.2 90.9h0M52.8 112.1h0M52.4 91.3h0M60.9 118.9h0M51.7 91.5h0M41.6 100.3h0M36.7 87.4h0M35.9 86.8h0M59.6 103.9h0M56.6 81.6h0M47.2 101.8h0M49.5 84.1h0M46.9 109.9h0M53 87.5h0M35.7 84.5h0M57 118.1h0M43.4 87.8h0M53.3 85.8h0M40.3 97.1h0M50.3 84.1h0M52 96h0M51.5 102.3h0M40.1 95.8h0M47.7 86h0M51.3 118.9h0M42.2 107.9h0M39.2 96.5h0M52 90.9h0M50.9 104.5h0M38.3 88.5h0M48.1 118.6h0M34.7 88.9h0M43.1 93h0M59.1 102.4h0M54.2 97.4h0M37.3 89.2h0M38.3 105.7h0M54 97.5h0M50.4 93.2h0M48.5 96.4h0M39.9 108.6h0M59.6 94.9h0M61 85.5h0M60.2 117.4h0M64.4 96.5h0M61.9 113.5h0M60.8 108.6h0M60.5 100.3h0M38.1 87.7h0M49.5 82h0M54.8 86.2h0M59.4 87.7h0M50.5 105.4h0M54.2 115.9h0M51.5 114.7h0M49.6 114.9h0M64.1 98.9h0M61.3 98.6h0M45.8 106h0M48.3 83h0M37.8 94.9h0M58.7 86.5h0M52.7 84.9h0M34.3 88.6h0M55 90h0M48.5 110.5h0M35.5 87.3h0M54.6 87.5h0M58.6 111.5h0M46.1 110.4h0M58.3 98.3h0M53 80.8h0M55.1 117.8h0M53.5 86.9h0M57.2 97.1h0M42.3 87.5h0M55.7 95.1h0M46.9 107.3h0M38.9 107.4h0M38.6 98.5h0M45.7 91.4h0M40 94.1h0M41.4 100.1h0M54.8 91.2h0M36.8 91.7h0M60.4 115.5h0M40.6 86.1h0M40.7 101.3h0M57.8 103h0M59.6 84.1h0M54.5 89.1h0M56.9 87.8h0M43.3 93.9h0M57 103.7h0M53.9 82.8h0M47.5 102.1h0M34.4 90.5h0M43.4 113.4h0M46.3 102.6h0M60.1 104.2h0M55 108.6h0M44.6 113.8h0M63.2 101.6h0M57.5 94.4h0M54.4 96.9h0M44.8 97h0M38 107.2h0M59.5 112.3h0M35.6 89.3h0M41.8 102.6h0M43.9 94.4h0M45.3 92.9h0M37.9 93.9h0M50.9 94.5h0M34.6 97.5h0M42.2 98.1h0M53.8 99.7h0M63.6 89.6h0M48.4 81.5h0M64.1 92.9h0M52.4 87.8h0M51.4 113.3h0M55.6 99.7h0M38.5 89.2h0M32.7 87.5h0M63.3 95.3h0M59.1 109.6h0M59.3 104.9h0M53.1 115.2h0M37.1 87.3h0M36.5 88.9h0M56.3 120h0M61.7 104.3h0M37.1 95.9h0M63.6 87.9h0M63.2 111.5h0M57.6 94.3h0M42 109.9h0M41.8 83.2h0M38.1 99.5h0M54.8 98.6h0M35.8 91.7h0M53.5 88.6h0M41 95.7h0M55.8 112.4h0M57.4 86.2h0M37.4 88.2h0M38.9 88.8h0M42.4 107.5h0M42.4 94.5h0M36.8 100.3h0M51.7 120h0M46.9 83h0M43.7 92.5h0M34.7 85h0M58.5 87.2h0M55.5 88.3h0M49.2 110h0M53.4 106.6h0M37.5 99.4h0M55 99.3h0M41.8 102.7h0M63.1 91.9h0M45.3 110.9h0M45.5 112.2h0M47.6 85.9h0M59.6 95.8h0M48.3 96.5h0M47.2 110.9h0M49.7 104.3h0M55.6 111.1h0M62.2 106.6h0M37.8 102.7h0M40 109.4h0M43 90h0M51.2 92.5h0M45.7 89.7h0M43.9 112.5h0M52.7 92.3h0M43.8 87.7h0M41.4 100.8h0M45.4 104.8h0M46.9 93.5h0M59.2 98.3h0M43.3 88.4h0M47.9 113.5h0M37.3 105.3h0M52.5 87.7h0M48.5 94.4h0M32.5 89.9h0M56.6 110.3h0M61.4 118.6h0M55.4 84.8h0M44.7 93.7h0M49.2 80.9h0M63.8 93.3h0M42.6 88.9h0M61.4 94.2h0M34.8 86.3h0M39.1 87.5h0M48.6 108.2h0M55.5 86.9h0M62.9 97.1h0M33.6 88.9h0M60.3 112.8h0M36.1 97.4h0M49.9 84.2h0M52.4 97.2h0M55.3 109.9h0M38.8 87.5h0M35.2 101.2h0M42.4 97h0M52.7 114.1h0M46.7 83.9h0M42.3 92.9h0M45.5 107.6h0M54.8 120.7h0M46.5 105.7h0M61.6 102.8h0M38.7 96.2h0M62.8 112h0M41.4 95.7h0M39.7 95.8h0M55.7 115h0M58.6 106.9h0M64.6 99.8h0M51.6 116.2h0M49.1 115.4h0M34.7 94.9h0M49.6 115.1h0M50.1 96h0M38.6 91.4h0M54.1 90.9h0M55.6 118.1h0M38.9 89.5h0M39.6 94.1h0M46.7 99h0M59.7 113.3h0M55.4 116.2h0M36 89.9h0M39.1 104.3h0M45.8 92.5h0M44.5 110.7h0M38.6 94.6h0M42.6 95.4h0M62.1 116h0M58.1 110.7h0M46.4 112.6h0M34.5 88.7h0M63.6 93.7h0M50.9 98.8h0M35 84.5h0M56.9 90.4h0M47 92h0M55.3 88.7h0M43.2 113.4h0M48.7 103.3h0M64.1 98.7h0M55.7 99.4h0M39.3 99.9h0M63.6 105h0M54.1 105.7h0M53.1 118.5h0M43.1 104.9h0M58.7 120.9h0M48.7 105.5h0M37 100.2h0M44.8 110h0M49 101.7h0M46.1 95.2h0M57.7 99.3h0M63.5 93h0M62.3 115h0M48.9 114.9h0M42.6 90.8h0M38 100.4h0M52.5 116.3h0M54.9 88.1h0M42.8 101.7h0M37.2 99h0M43.3 85.7h0M59.3 100.9h0M40.4 91.3h0M39.3 87h0M51.9 102.4h0M48.4 116.3h0M62 96.5h0M42.3 92.5h0M48.6 95.3h0M63.4 96.4h0M62.9 110.8h0M63.5 113.6h0M54.3 109.4h0M47.9 90.9h0M58.6 98h0M42.9 104.5h0M56.5 103.2h0M44.4 84.5h0M63.5 95.2h0M38 95.6h0M50.1 106.4h0M52.5 97.9h0M59.7 101.9h0M54.6 117.5h0M61.9 100h0M53.3 91.7h0M40.1 86.8h0M51.7 81.1h0M49.4 112.5h0M57.2 107.8h0M33.8 90.8h0M36.2 98.4h0M44 84.6h0M42.2 101.7h0M58.2 102.2h0M51.7 111.6h0M55.9 86.7h0M60.2 113.6h0M50.6 108.5h0M41.4 96.4h0M58.3 116.5h0M41.6 92.3h0M53.2 95.1h0M50.1 106.4h0M48.6 109.9h0M49.3 98.8h0M41.7 83.6h0M47.4 87.2h0M47.1 105.1h0M61.1 95.9h0M53 94.7h0M59.5 119h0M46.2 102.6h0M52.3 85.5h0M63.6 107.2h0M50.8 111.2h0M53.7 82.4h0M44.3 103.8h0M44.4 102.1h0M36.2 91.9h0M38.3 86.3h0M58.3 105.4h0M34.6 99.1h0M36.8 94.9h0M38.4 89.9h0M42 90.1h0M51.1 110.8h0M51.6 93.7h0M63.7 105h0M51.2 108.6h0M64.5 111.8h0M36.9 98.2h0M35.8 89.7h0M51 115.5h0M64 92.1h0M63 93.4h0M36.2 100.7h0M55.5 115.8h0M58.8 99.1h0M57.7 114.6h0M48.5 101.3h0M33.4 92.3h0M58.4 111.3h0M55.5 116.5h0M48.1 115.7h0M57.1 94.6h0M53.5 97.7h0M42.9 85.1h0M40.7 95.1h0M63.7 93.1h0M50.5 117.2h0M63.5 99.2h0M57.6 98.6h0M40.9 88.3h0M42.8 99.4h0M56.6 114.7h0M58.5 111.3h0M59.7 90.4h0M52.1 84.9h0M56 104.8h0M58.8 87.9h0M39.2 87.8h0M47.1 87.8h0M49.7 100.4h0M45.3 98.7h0M51.4 105.6h0M53 86.5h0M56.3 120.3h0M61.1 106.5h0M44.6 98.2h0M45.9 85.1h0M59.6 89.5h0M58.3 89.3h0M50.2 94.9h0M47 109.9h0M47.2 86.6h0M51 82.8h0M50.4 88.2h0M44.7 110.9h0M51.5 94.7h0M39.8 87.5h0M34.7 85.7h0M58.8 106h0M54 92h0M41.7 108.3h0M54.1 108.9h0M38.4 100.2h0M47 85.7h0M55.1 108h0M37.5 100.3h0M59.7 112.9h0M50.5 100.8h0M59.5 102.6h0M57.9 101.6h0M55.8 87.3h0M46.5 101.4h0M39.4 100.6h0M36.1 89.3h0M52.3 91.2h0M55.8 113.9h0M48.5 96.4h0M47.1 101.6h0M52.3 102.5h0M53.6 85.1h0M60 96.4h0M60.9 117.5h0M63.7 96h0M46.2 88.7h0M35.9 95.5h0M48.3 97.8h0M56.9 88h0M44.5 88.9h0M43.6 110.2h0M58.6 95.2h0M55.7 105.2h0M49.8 98.6h0M41 94.6h0M58.3 108.8h0M60.6 115h0M60.7 119h0M36.2 87.2h0M64.3 94h0M60.9 114.3h0M41.3 88.4h0M49.1 111.2h0M44.2 96.2h0M56.1 113.6h0M50.3 116.4h0M55.4 119.1h0M40.7 89.1h0M53.1 102.9h0M64 101.7h0M48.2 94.8h0M48.5 98.4h0M65.6 104.5h0M52 104.6h0M47.9 95.9h0M42.9 104.7h0M51.1 102.4h0M49.7 91.2h0M33.9 87.4h0M56.6 114.7h0M44.6 106h0M41.2 108.3h0M49.3 106.2h0M41.2 108.1h0M53.9 103.3h0M40.7 96.4h0M34.8 88.3h0M55.7 85.8h0M59.6 94.2h0M46 91.9h0M49.9 103.3h0M63.3 99.4h0M39.4 99.5h0M42.6 84.8h0M60.3 114.2h0M58.2 108.5h0M55.4 109.3h0M60.2 121.2h0M46.4 114.2h0M57.3 110h0M59.3 103.4h0M58.6 113.3h0M46.4 116.7h0M36.7 86.4h0M53.4 102.4h0M61.2 97.8h0M46.6 116.2h0M37.7 92.1h0M61.7 113.3h0M49.8 117.7h0M51.8 80.1h0M54.8 112.5h0M41.2 89.4h0M40 106.3h0M45.5 91.4h0M53.5 108.4h0M50.3 85.9h0M61.8 91.9h0M52.6 92.9h0M41.2 84.9h0M59.7 103.5h0M40.1 97.6h0M51.6 116.2h0M55.1 91.3h0M58.2 89.6h0M53 84h0M52.9 113.7h0M54.3 103.3h0M56 95h0M39.4 108.6h0M43.8 95.5h0M48.2 103.6h0M53.2 85.6h0M51.4 83.3h0M56.8 118h0M53.1 94.2h0M52.8 101.2h0M56.7 92.4h0M43.7 94.1h0M47 104.3h0M52.3 87.1h0M40.6 97.5h0M58.8 105.2h0M52.4 86.6h0M62.6 93.6h0M61.2 118.2h0M57.1 98h0M42.6 84h0M39.4 107.6h0M45.9 103.6h0M44 86h0M39.9 105h0M57 86.3h0M38.8 104.5h0M55.5 106.7h0M58 106.1h0M43.1 98.1h0M59.3 84.5h0M49.9 97.1h0M47.8 85h0M57.7 112.2h0M57.5 112.5h0M61.6 111.7h0M59.3 119.9h0M58.5 109.6h0M41.8 108.9h0M38.8 87.1h0M46.5 87.9h0M50 99.8h0M52.1 111.8h0M63.5 118.7h0M65.3 106.7h0M45.1 84.9h0M55.7 99.7h0M46 92.2h0M45.4 105.3h0M49.3 114.9h0M57.8 93.1h0M62.8 107.3h0M59.2 105.6h0M58.4 120.3h0M37.1 94.4h0M37.9 89.9h0M61.6 118.4h0M54.6 113.9h0M54.8 81.3h0M49.1 84.8h0M59.6 93.6h0M49.6 115.6h0M41.1 97.4h0M40.6 95.5h0M36.9 95.2h0M39.7 93.7h0M35.7 98.5h0M57.1 91.8h0M60.1 88.9h0M50.8 96.1h0M48.4 103.7h0M57.6 84.4h0M51 90h0M57.5 114.4h0M40.8 100.1h0M39.4 102.2h0M59.3 98.9h0M44.1 84.4h0M52 82.4h0M56.3 89.9h0M49.4 99.9h0M65.1 106.1h0M43.4 92.9h0M42.8 82h0M59.6 95.4h0M55.6 108.8h0M47.1 98.2h0M59.9 93.9h0M34.3 86.5h0M43.3 100.1h0M40.6 82.9h0M58.6 96.3h0M59.7 119.4h0M45.5 96.2h0M63.5 114.1h0M56 84.5h0M46.1 88.6h0M55.3 116.8h0M43.6 98.8h0M58.4 107.5h0M43.4 113h0M37.5 87.4h0M49 85.1h0M54.6 105.2h0M60.8 107.1h0M61.6 100.3h0M38.6 88.4h0M46.7 101.5h0M52.1 111.3h0M39.6 99.8h0M56.5 90.7h0M50 81.2h0M36.1 95.7h0M63.3 95.9h0M56.3 86h0M57.6 86.4h0M61.4 86.8h0M58.2 110.6h0M53.5 114.7h0M41.8 101.7h0M42 98.1h0M40.3 100.3h0M65.2 107.1h0M57.7 119.2h0M44.4 87.9h0M60.8 114.3h0M51.5 97.7h0M57.8 84.3h0M58.3 113.5h0M54.1 101.7h0M44.5 99.3h0M44.8 85.2h0M50.9 93.5h0M46.2 86.1h0M61 110.7h0M60.8 122.4h0M53.3 98.5h0M45.7 104.4h0M46.7 113.4h0M64.4 110.8h0M49.3 84.1h0M43.3 97h0M50 107.3h0M44.9 107.7h0M41.2 97.7h0M33.2 92.6h0M58.4 98h0M63.1 107.7h0M46.8 91.7h0M38.8 85.4h0M62.3 110.3h0M55.8 81.6h0M59.9 102.5h0M59.9 114.6h0M40.8 84.6h0M58.8 90.8h0M47.5 114.9h0M44.1 95.2h0M48.2 106.8h0M57.2 104.1h0M46.8 97.4h0M49.9 83h0M36.3 88.2h0M46.1 97.7h0M40 89h0M59.7 102.6h0M45.5 99.5h0M41.4 86.2h0M60.2 121.2h0M33.1 87.6h0M37.6 91.7h0M53.1 94.4h0M42.2 102.6h0M46.6 104h0M42.8 112.4h0M49.6 103.9h0M50 94.9h0M39.8 87.7h0M55.2 93.8h0M48.5 83.1h0M42.7 109h0M52.1 108.7h0M41.5 89.9h0M48.3 118.3h0M42.1 102.2h0M38.5 98.8h0M41.6 89.3h0M51.2 105.4h0M58.8 94.1h0M53.3 95.6h0M58.2 104.2h0M45.9 84h0M40.6 101.7h0M59.7 93.4h0M65.5 104.1h0M57.9 108.9h0M48.8 87.3h0M41.8 108.9h0M57.2 108.9h0M54.7 84.8h0M56.6 119h0M36 98.6h0M52.8 90h0M40.2 109h0M56.1 114.5h0M44.1 84.7h0M40.8 98.8h0M62.8 95.6h0M58.7 114.4h0M57.3 105.7h0M45.9 111.7h0M43.4 101.5h0M54.3 87.8h0M43.1 88h0M38.5 92.6h0M55.3 120.1h0M63.5 96.1h0M56.9 115.4h0M61.7 94.3h0M58.3 106.8h0M59.8 107h0M61.9 86.2h0M41.6 102.3h0M49.8 81.7h0M47.7 114.2h0M59.7 110.8h0M53.5 115h0M47.6 104.9h0M61 103.7h0M44.1 102.3h0M44.1 96.4h0M61.7 91.3h0M44.5 93.4h0M50.6 107.5h0M46.9 108.1h0" stroke="#22BEC3" stroke-width="0.66" stroke-linecap="round" fill="none"/>
<path d="M79 63.2h0M69.5 67.1h0M78.7 68.4h0M73.2 60.8h0M80.7 66.3h0M69.4 72.5h0M69.5 68.6h0M63.6 65.5h0M79 66.3h0M77.4 65.8h0M69.1 66.4h0M78.6 64.3h0M78.7 68.3h0M82.9 67.9h0M66.6 65.8h0M63.9 65.7h0M81.1 64.7h0M70.2 66.5h0M68.3 68.4h0M69.1 66.9h0M66.9 64.2h0M75.1 67.4h0M70 70.5h0M73.6 64.7h0M81.3 67.3h0M75.7 65.4h0M77.6 71.2h0M66.4 62.5h0M71.4 63h0M70.5 70.1h0M73 61.9h0M72.3 71.4h0M72.7 64.7h0M66.2 62.8h0M66 67.3h0M69.6 66.7h0M69 64.3h0M69.2 61.9h0M73.9 65.7h0M71.6 61.9h0M72 70.1h0M68.3 68.6h0M80.9 65.4h0M70.4 69.2h0M72.5 68.2h0M80.2 62h0M73.5 65.7h0M66.2 65.7h0M76.1 67.9h0M80.1 64.3h0M76.2 67.5h0M69.2 69.1h0M82 65.9h0M64.7 65.4h0M70.2 62.7h0M69 64.5h0M71.8 67.6h0M73.3 59.9h0M79.3 66.6h0M80.7 70h0M67.3 70.6h0M74.2 67.7h0M79.5 72.5h0M75.8 70h0M76.5 63.6h0M72.7 66.1h0M78.2 67.4h0M72.2 62.8h0M79.6 67.7h0M73.3 67.3h0M74.7 69.2h0M64.4 63.3h0M69.7 70.2h0M73 71.8h0M76.5 71.6h0M70.7 61.5h0M72.7 64.2h0M81 63.5h0M71.5 62.7h0M71.9 70.4h0M80.5 62.5h0M69.8 61.3h0M73.5 62.8h0M70.1 67.1h0M78.6 61.5h0M67.4 64.4h0M67.8 70.1h0M81.5 66.2h0M80.7 66.9h0M71.7 71.2h0M77.6 69.7h0M63.9 65.2h0M69.7 65.6h0M68.2 70.1h0M79.7 67h0M80.4 71.1h0M68.5 64.5h0M71.2 59.8h0M79.3 70.2h0M78.2 69.1h0M65.3 64.6h0M79.1 68.7h0M75.8 60.9h0M71.5 71.9h0M68 68.2h0M70.4 67.6h0M64.8 69.8h0M81.2 68.5h0M70.5 72.1h0M70.2 66.7h0M66.5 61.1h0M79.5 71.3h0M74.5 69.1h0M71.5 64.8h0M67.4 67h0M79 62.3h0M66.5 61.8h0M66.9 67.6h0M69.4 61.3h0M77.7 71.6h0M78.5 67.4h0M72.4 69h0M64.1 67.3h0M77.4 64h0M67.7 68.1h0M64.8 62.2h0M70 66.7h0M70.4 68.4h0M73.2 67.1h0M70.8 65.7h0M72.3 64.8h0M77.2 60.1h0M75.1 64.4h0M71.2 60.2h0M70.5 66.2h0M70.9 64h0M69 66.2h0M69.1 63.9h0M68.2 64.3h0M68.4 68.9h0M67.6 70.2h0M74.8 62.4h0M75.1 71.9h0M73 64.6h0M67.4 68.2h0M66.6 62.9h0M70.9 64.1h0M70.5 62.8h0M72.5 73.2h0M70.5 63.1h0M67.1 66h0M82 65.5h0M66.7 62.8h0M75.5 72.3h0M77.7 61.2h0M80.5 69.9h0M64.6 68.9h0M79.2 64.5h0M71.4 71.6h0M75.1 65h0M71.9 69.6h0M72 71.4h0M77.4 62.1h0M74 67.6h0M73.8 61.3h0M70.9 69.5h0M72.6 61.7h0M82.9 63.4h0M80.2 65.7h0M73.6 66.9h0M79 67.1h0M71.3 71.8h0M73.9 72.4h0M67.7 62.5h0M67.2 71h0M70.3 66h0M80.7 65.3h0M69.5 60.7h0M76 64.2h0M77.4 66h0M74.3 69.3h0M71.7 72.1h0M79.4 69.8h0M79.7 63h0M76.4 69.8h0M68.9 66.5h0M76.2 66.9h0M75.4 59.6h0M79.9 68h0M80.7 67.4h0M78.5 67.9h0M68.4 64.4h0M68.9 63.8h0M72.5 64h0M75.5 62h0M66.9 60.5h0M65.4 65.5h0M72.4 63h0M66.8 60.5h0M68.1 64.8h0M73.9 64h0M77.1 65.4h0M68.7 68.8h0M78.7 64.1h0M66 69.7h0M79.9 63h0M67.8 66.9h0M76.2 59h0M68.3 71.6h0M81.1 69.5h0M81.7 68.9h0M65.5 66.2h0M78.6 68.9h0M69.2 64.7h0M74.5 70.1h0M71 71.3h0M78 61.3h0M77.1 60h0M75.7 60.9h0M66 65.5h0M82.2 63.2h0M75.1 67.9h0M77.7 68.4h0M77.7 62.2h0M77.5 70.9h0M69.9 62.5h0M81 65.5h0M71.2 68.6h0M79.8 68.1h0M63.6 64h0M73.3 64.8h0M69.9 62.3h0M67.3 68.7h0M78.7 68h0M80.6 67.1h0M66.9 66.2h0M75.2 67.2h0M71.1 67.1h0M79.9 70.8h0M64.9 66.8h0M68.5 63.6h0M64.8 69.1h0M70.8 63.3h0M76.3 65.3h0M73.2 62.7h0M67.9 65.9h0M74.6 61.5h0M73.6 64.3h0M66.7 62.6h0M62.7 64.7h0M81.2 72h0M67.4 67.6h0M72.7 72.6h0M78.8 65.4h0M72.9 67.9h0M72.1 68.8h0M73.5 69.9h0M80 63.6h0M79.3 65.5h0M71.7 60.9h0M66 67.9h0M79.8 61.5h0M80 62.6h0M76 70.8h0M74 69.6h0M74.5 61h0M77.3 64.6h0M70.9 61.4h0M73.6 62.2h0M70.7 60.4h0M75.3 61.5h0M70.2 71.2h0M67.1 68.2h0M69.7 68.5h0M71.2 70.9h0M77.7 63.9h0M77.2 64h0M76.2 71h0M76.9 61.9h0M79.9 67.6h0M73.4 70.6h0M71.1 68.8h0M79.6 69h0M69.8 62.2h0M73.4 66.4h0M70.2 60.2h0M69.8 68.1h0M65.2 64.9h0M65.7 68h0M69.9 63.3h0M79.5 65.4h0M76.9 67.7h0M73.8 63.4h0M69.3 64.9h0M82.3 67.4h0M65 63.2h0M64.6 61.3h0M72.6 66h0M76.4 66.5h0M77 61h0M72.7 62h0M76.1 67.3h0M64.9 62.4h0M77.6 62.2h0M66.2 66.2h0M81.1 70h0M77.2 65.6h0M75.4 65h0M67.3 67.7h0M79.7 69h0M78 65.1h0M74.7 71.8h0M81.8 65.1h0M80.9 65.8h0M67 66.3h0M76.5 67.6h0M80.2 64.3h0M75.3 66.8h0M66.9 63.6h0M69.7 66.2h0M68.9 66.6h0M74.7 62.4h0M76.8 70.8h0M74.3 63.2h0M71.3 62.4h0M70.2 67.2h0M68.3 71.9h0M77.4 67.1h0M71.7 65.5h0M69.9 69.9h0M70 72.7h0M78.6 63.8h0M82.5 66.5h0M71.6 67.8h0M73.8 71.8h0M71 62h0M65.2 66.5h0M68 62.5h0M74.2 64.8h0M73.6 63.9h0M73.1 66h0M81.9 64.5h0M64 70h0M65.9 66.6h0M78.2 72.1h0M65.9 64.4h0M79.7 70.3h0M66.7 64.9h0M74.9 68.1h0M69.5 65.6h0M56.5 65.9h0M54.8 67.5h0M62.3 66.8h0M62.8 66.5h0M55.8 65.9h0M55.1 66.4h0M60.2 66.8h0M63.1 65.6h0M57.2 65.7h0M55.7 65.1h0M61.3 66h0M55.5 67.2h0M63 65.9h0M62.5 66.8h0M58 65.4h0M61.9 65.6h0M58.5 66.7h0M63.9 65.6h0M54.1 66.8h0M62.7 65.2h0M55.6 67.5h0M58.2 67h0M56.8 66.9h0M56 65.6h0M59.8 66h0M59.2 66.1h0M60 66.8h0M57.8 67.8h0M59.6 65.9h0M63.8 66.7h0M57.8 65.7h0M58.1 66.4h0M56.9 68.1h0M55.4 66h0M61.8 67h0M63.4 65.3h0M56.8 67.5h0M60.8 65.5h0M58.6 66h0M55.7 64.6h0M83.8 68.2h0M87.7 71.2h0M88 53.6h0M79 70.9h0M84.1 70h0M76.5 68.6h0M75.2 69.8h0M84.9 58.9h0M70.7 59.6h0M69.7 68.4h0M75 68.9h0M78.8 69.2h0M71.5 66.4h0M66.4 64.7h0M73 68.9h0M62.8 72.6h0M73.2 59.2h0M72.6 69.9h0M74.4 64.9h0M67.6 68.1h0M74.8 68.5h0M71 73.2h0M61.2 67h0M62.4 57.2h0M74.9 71.2h0M71.7 69.2h0M72.4 72.8h0M69.6 69.7h0M75.9 59h0M81.7 64h0M65.8 63.7h0M79.6 64.9h0M79 62.3h0M75.4 58.3h0M71.6 73.5h0M70 67.9h0M61.1 75.3h0M72.1 69.3h0M70.9 61.8h0M71.2 65.3h0M66.5 66.2h0M66.9 64.5h0M54.1 62.1h0M75.7 68.1h0M71.9 69h0M85.4 68.7h0M74.4 66.5h0M75.9 70.2h0M58.3 77.5h0M80.1 69.3h0M69.4 66.4h0M68.3 73.7h0M68.8 58.9h0M72 62.7h0M74.8 67.7h0M67.7 59.3h0M71.2 60.5h0M72.2 67.8h0M70.8 67.8h0M70.7 75.2h0" stroke="#6E5A22" stroke-width="0.7" stroke-linecap="round" fill="none"/>
<path d="M62.2 87.6h0M72.1 86.9h0M70.4 91.9h0M68.2 85.9h0M66.8 92.2h0M60.9 93h0M66.7 81.8h0M68.7 91.2h0M63 98.7h0M67.8 87.3h0M65.1 94.4h0M66.3 96.5h0M63.9 94.2h0M69.7 95.5h0M65.4 88.2h0M64.3 93.4h0M61.1 106.8h0M67.2 98.9h0M67.1 99.5h0M67.3 97.9h0M71.5 94.4h0M63.9 95h0M68.7 91.4h0M67.4 96.3h0M61.1 95.6h0M73.6 89.6h0M72.3 90.7h0M67.1 91.2h0M68 89.1h0M66.1 91.8h0M65 92.6h0M71.6 88.8h0M68.8 89.2h0M64.2 92.8h0M67.2 97.8h0M70.5 93.4h0M65.9 99.6h0M63.7 89.1h0M70.6 94.9h0M70.2 91.8h0M70.6 98.7h0M61.6 95.5h0M71.4 87.8h0M64.9 94.7h0M70.2 92.8h0M62.6 93.9h0M67.7 91h0M71.6 82.4h0M68.4 89.9h0M70.1 91.3h0M73.9 93.8h0M66.3 84.9h0M67.2 92.6h0M73.4 94.7h0M68.7 88.4h0M68.8 88.1h0M63.4 95h0M66.6 86.3h0M71.9 98.8h0M69.6 84.8h0M65.3 88.1h0M69 109.5h0M71.2 92.3h0M65.3 86h0M65.6 93.7h0M67.3 95.3h0M69.9 87.3h0M70.9 93h0M73.5 92.2h0M66.9 92.3h0M72.3 95.4h0M72.1 97.9h0M69.2 104.2h0M67.8 91.7h0M71.9 87.2h0M69.2 97.7h0M65.1 83.6h0M63.4 98.4h0M76.5 88.5h0M63.7 86.7h0M73.4 96.6h0M70.4 89.3h0M70.4 89.2h0M70.1 89.1h0M63.9 90.6h0M69.6 94.4h0M66.3 97.3h0M62.8 83.2h0M70.2 92.1h0M68.1 90.6h0M70 93.9h0M72.9 88.2h0M63.9 92.2h0M67.3 91.3h0M60.9 94.6h0M73.9 94.6h0M72.4 95.7h0M69.1 94.8h0M71.9 95.1h0M70.4 92.5h0M65.7 94.5h0M66.9 95.6h0M60.7 101.5h0M72.7 100.3h0M69.6 87.7h0M66.9 87.1h0M69.7 92.9h0M68.8 83.7h0M63.2 82.1h0M73 95.3h0M68.5 91.1h0M62.2 91h0M66.9 88.7h0M71.7 82.9h0M68.9 96.8h0M71 85.4h0M58.8 99.6h0M73.2 92h0M67.4 94.5h0M72 93.4h0M67.2 93.9h0M69.6 102.9h0M68.4 88.3h0M74.9 100.2h0M73.4 88.2h0M66.3 86.1h0M67.9 99.3h0M71.6 93.1h0M69.2 95.2h0M67.9 87.7h0M66 101h0M65.2 87.2h0M70.3 91.2h0M67.2 93.6h0M67.9 84.7h0M71.6 93.9h0M74.3 97h0M66.4 90.7h0M66 82h0M71 89.5h0M71.8 93.7h0M68 100.8h0M65.2 101.5h0M67.2 103.4h0M72.4 90.3h0M74.5 94.9h0M69.7 90.9h0M68.3 90.8h0M67.3 96.8h0M71.3 99h0M72.6 92.5h0M71.1 91.6h0M70.5 95.9h0M69.8 89h0M64.4 101.3h0M65.8 89.8h0M69.8 91h0M70 99.6h0M63.2 93.3h0M70.6 86h0M71 100.1h0M68.6 95.2h0M67.5 97.7h0M66.8 92.9h0M66.2 89.4h0M72.5 92.6h0M71.6 85.1h0M64.4 88.5h0M75.1 98.6h0M76.2 90.7h0" stroke="#B59AD6" stroke-width="0.7" stroke-linecap="round" fill="none"/>
<path d="M50.9 86.4h0M47.5 87.3h0M48.4 86.8h0M41.5 80.8h0M44.6 91.5h0M52 81.1h0M50.5 82.7h0M44.1 81.3h0M60.3 85.3h0M48.2 89.8h0M49.6 80.6h0M57 93.6h0M51.7 81.6h0M48.3 85.4h0M44.2 95.3h0M48.6 82.7h0M47.5 83.6h0M38.6 85.5h0M53.2 85.8h0M50.3 84.6h0M41.7 87.2h0M51.2 80.9h0M44.1 82.6h0M43.3 75.2h0M47 82.6h0M49 89.6h0M45 78.8h0M48.1 87.6h0M54.2 88.6h0M49.1 85.1h0M41.7 87.6h0M51.6 84.6h0M47.4 86.5h0M50.3 87h0M50.2 78.9h0M46.3 78.4h0M51.7 95h0M45.4 84.4h0M49.5 82.2h0M55.2 85.7h0M57 93.9h0M50.5 82h0M53.7 83.9h0M45.4 84.1h0M53 81.8h0M47.6 88.4h0M47.4 88.4h0M53.3 83h0M43.9 80.3h0M53.5 87.1h0M48.8 83.4h0M52.7 83h0M59.2 86.2h0M42.2 89.1h0M49.5 84.9h0M47.8 89.6h0M46.6 91h0M45.5 88.5h0M42.6 88.7h0M44.7 84h0M51.5 81.9h0M50.6 84.9h0M53.6 88.4h0M49.5 84.2h0M45 90.4h0M47.6 80h0M45.4 77.5h0M45.1 83.1h0M49.5 88.5h0M51.7 77.8h0M46.6 87.2h0M49.8 84.8h0M45.4 87.6h0M48.1 83.9h0M48 84h0M49.7 89.2h0M48.8 82.4h0M48 84.3h0M50.4 87.8h0M54.9 88.4h0M41.8 81.6h0M43.5 86h0M57.7 86.7h0M46.2 90.3h0M50.9 81.7h0M44.7 90.6h0M51.4 76.7h0M45.5 87.1h0M43.1 84.8h0M45 78.3h0" stroke="#24429B" stroke-width="0.7" stroke-linecap="round" fill="none"/>
<path d="M109.3 27.1h0M100.1 25h0M97.5 35.7h0M95.7 31.9h0M104 23.3h0M96.5 37.9h0M100.2 32.5h0M96.3 40.8h0M93 31.5h0M102.2 22.2h0M102.3 44.1h0M95.8 43.5h0M102.2 31.5h0M94.5 32.4h0M87.3 39.9h0M89.3 40.3h0M94 26.1h0M98 31.8h0M97.7 32.8h0M99.3 37.7h0M100.6 35.8h0M100.6 45.8h0M110.6 24.5h0M121.9 25.5h0M107.8 23.4h0M122.6 24.9h0M101.9 29.8h0M98.5 29.3h0M108.6 30.5h0M107.6 39h0M99.9 23.7h0M103.6 52.8h0M97.6 26.3h0M86.6 32.7h0M103.8 27.8h0M92.7 40h0M92.7 44.3h0M93.8 29.2h0M102.1 30.8h0M103.8 31.7h0M116.6 26.8h0M93.7 33h0M96.6 41.8h0M86.5 34h0M110.8 36.5h0M101.8 23.8h0M98.2 44.9h0M106.1 39.8h0M87.6 38h0M87.8 40.4h0M106 25.7h0M92.9 38h0M109.6 28.6h0M117.9 24.5h0M100.9 32.9h0M114.3 25.1h0M94.9 31.2h0M101.7 24.9h0M86.6 29h0M90.5 42.5h0M100.4 29.9h0M99.2 30.9h0M103.8 44.5h0M100.3 27h0M94.6 44.4h0M105.4 21h0M91.9 45.3h0M99.2 35.3h0M85 33.3h0M101.9 24.2h0M99.9 29.4h0M89.3 36h0M101.4 43.5h0M110.3 33.4h0M102 25.6h0M101.2 46h0M102.4 22.5h0M91.3 37.7h0M103.7 22.1h0M103.5 29.7h0M105.8 21.2h0M100.6 51.5h0M91.4 38.4h0M106.5 23h0M100 28.4h0M100.7 25.4h0M105.1 28.2h0M104.3 49.8h0M97.9 29.4h0M107.4 30.1h0M90.8 31.9h0M108.8 33.7h0M99.4 36.3h0M95.3 35.2h0M106.8 25.6h0M97.9 32.9h0M94 36.5h0M87.9 29.6h0M99.2 47.3h0M91.9 39.8h0M123.5 22.6h0M104.8 38.2h0M102.2 23.1h0M111.8 27.3h0M98.6 39.6h0M104.1 46h0M97.7 31.9h0M103.8 22.5h0M113.2 24.1h0M103.7 27.1h0M98.8 38.9h0M89 38.5h0M88.4 37.6h0M106.7 34.8h0M93.3 39.2h0M103.6 41.7h0M109.7 25.7h0M94.6 44.7h0M105.3 29.7h0M95 36.2h0M104.8 44.2h0M87.8 32.3h0M89.9 39.6h0M96.2 39.2h0M101.5 37.2h0M92.4 43.5h0M110.7 30.4h0M90.1 29.7h0M92.7 37.4h0M90.8 29.7h0M120.2 23.7h0M105.5 30.8h0M101.8 23.9h0M98.5 41.6h0M100.9 30.4h0M103.6 51.6h0M97.3 39.8h0M98.8 31.1h0M96.3 38.4h0M123.2 22.9h0M92.9 34.6h0M94.6 33.7h0M90 30.9h0M122.6 23.3h0M95.4 32.7h0M101.4 38.9h0M115.1 27.2h0M111.7 25.3h0M88.2 38.1h0M101.2 25.2h0M97.4 37.7h0M102.8 25.1h0M107.4 28.9h0M107.8 24.6h0M109.1 32.9h0M102.3 33.3h0M100.5 36.5h0M103.1 38.4h0M102.8 28.8h0M101.5 49.8h0M118.8 27.3h0M108.8 33.2h0M105.9 21.9h0M93.3 33.4h0M94.8 35.2h0M90.9 42.8h0M90.7 39.5h0M91.4 41.8h0M100.7 37.3h0M98.6 42.1h0M97.9 26h0M115.4 26.5h0M90.3 42.6h0M108.2 35.3h0M94.7 26.7h0M101.4 52.1h0M97.8 27.2h0M101.1 27.2h0M98.7 37.5h0M102.8 29.6h0M93.1 37.3h0M90.1 34.5h0M93.2 26.4h0M95 29.7h0M91.9 36.8h0M103.4 23.1h0M91.1 35.4h0M103.7 33.8h0M85.3 34.9h0M99.1 37.8h0M104 41.1h0M107.6 28.6h0M99.8 33.7h0M105.5 22.5h0M96.5 34.1h0M121.3 26h0M100.5 44.5h0M98.3 33.5h0M85.8 37.1h0M93.8 34.4h0M89.5 39.6h0M102.9 30.9h0M98 43.1h0M100.4 27.2h0M106.9 23.6h0M97.7 39.3h0M118 25.5h0M101.6 32.9h0M106.6 23.9h0M94.9 38.4h0M90.4 38.3h0M100.1 27.9h0M102.7 26.8h0M97.2 39.2h0M102 49.3h0M100.8 36.1h0M105.1 23.7h0M104.3 30.7h0M105.5 31.1h0M102.7 25.8h0M92.3 44.1h0M95.1 27.1h0M110.7 30.2h0M89.9 39.5h0M100.8 42.1h0M104.2 41.4h0M88 32.9h0M86.5 31.7h0M94.3 37.8h0M96.2 47.4h0M102.9 23.6h0M117.5 27.2h0M106.6 36.1h0M101.6 35.3h0M85.8 34.2h0M100.4 33.3h0M90.4 29.2h0M100.7 32.8h0M104.9 49.3h0M108.1 33h0M86.4 37.1h0M99.4 36.6h0M101.3 37.6h0M105.4 28.5h0M98.2 30.9h0M109.8 29.7h0M95 40.1h0M102.2 27.1h0M92.8 44.4h0M92.5 29.6h0M101.8 37.5h0M103 28.1h0M94.7 33.1h0M101.5 50.6h0M98.1 33.8h0M100 39.5h0M100.4 38.4h0M94.6 37.6h0M117.7 26.5h0M106.5 33.1h0M86.3 39.7h0M95.5 36.8h0M98.5 24.8h0M110.2 30.9h0M106.7 27.3h0M100.2 32.5h0M99.5 31.9h0M97.2 25.9h0M98.7 35.7h0M98.9 47.6h0M107.5 29.4h0M97.9 39.7h0M98 32.3h0M101.2 48.2h0M114.3 27.2h0M99 23.9h0M104 41h0M103.1 27.8h0M100 32h0M101.2 50.3h0M97.9 37.8h0M103.5 22h0M90.5 41.6h0M89.9 30h0M110.9 30.7h0M103 39.9h0M105.5 34.3h0M96.2 29h0M94.1 43.5h0M101.4 38.1h0M105.6 33.1h0M101.7 40.2h0M104.1 22.2h0M109.9 27h0M103.5 44.9h0M107.5 24.5h0M100.9 42.2h0M104.4 38.7h0M96.2 43.6h0M102.1 23h0M103.2 38.4h0M104.8 32.9h0M110.4 32.5h0M105.3 30.1h0M93.1 35h0M104.2 36.9h0M119.8 24.3h0M95.6 37h0M95.3 31.8h0M91.5 27h0M97.2 38.9h0M107 28h0M94.4 47.8h0M101.2 49.3h0M87.1 32.8h0M89.9 32.7h0M93.3 38.7h0M112.6 29h0M118.8 26.4h0M95.3 48.5h0M108.7 38.3h0M103.3 50.5h0M93.6 44.6h0M96 38.4h0M85.9 37.6h0M104 26.5h0M94.5 41.8h0M121.4 25.2h0M103.2 22.8h0M100.7 31.1h0M94.3 27.2h0M108 28.6h0M95 48.5h0M101.8 33.2h0M102.7 33.4h0M108.4 31.9h0M92 38.3h0M99.5 36.6h0M102.7 32.4h0M90.3 31.2h0M107.3 34.6h0M100.6 38.1h0M99.4 26.6h0M89.9 39.1h0M97.7 29.7h0M100.2 26.8h0M105.2 24.7h0M104.4 35.7h0M97.1 41.5h0M103.1 32.1h0M103.3 27.1h0M105.3 30.4h0M107.5 27.8h0M103.3 24.5h0M106.7 34.7h0M101.1 43.5h0M92.6 28h0M104.6 31.8h0M102.5 35.4h0M119.4 27.8h0M106.2 20.8h0M104.2 33h0M92.1 41.8h0M110.8 31.7h0M104.6 23.8h0M96.8 49h0M111.3 24.5h0M108.9 29h0M97.9 37.2h0M88.4 30h0M105.3 28.5h0M85.2 34.4h0M101.9 35.4h0M99.9 49.2h0M89.4 43.3h0M104.9 28.9h0M98.1 28.5h0M104.8 28.5h0M98.2 30.7h0M100 33.5h0M107.3 35.1h0M103.8 31.4h0M100 39.1h0M96.4 26.3h0M110.4 28.3h0M97.5 31.4h0M103.5 23.8h0M96.7 48.5h0M95.7 45.8h0M104.4 34.2h0M94.1 30.4h0M102.1 34.3h0M111.9 25h0M107.4 27.9h0M94.5 30h0M106.1 29.7h0M94.5 27.1h0M89.4 38.2h0M97.2 36.9h0M96.9 36.7h0M92.8 42.8h0M122 24.4h0M118.7 23.4h0M96.3 32.2h0M98.1 37.4h0M100.1 30.4h0M93.7 37h0M87.2 30.1h0M104.4 21.1h0M106.1 24.8h0M97.2 34.6h0M99.5 48h0M110.1 31.2h0M105.7 34.1h0M97.8 38.1h0M99.7 41.8h0M107.2 37.1h0M93 33.8h0M93.8 35.1h0M101.3 41.9h0M95.2 34.4h0M104.7 39.4h0M104.3 38.7h0M94.5 32h0M97.2 32.4h0M101.8 28.3h0M93.4 29.8h0M98.3 26.3h0M90.9 41.8h0M98.7 27.5h0M98.5 45.8h0M112.2 25.3h0M94.7 26.8h0M95.6 47.9h0M100 50.6h0M101.2 48.5h0M98.3 34h0M93.6 38.5h0M97.5 48.6h0M93.1 27.7h0M92.6 38h0M122.9 24.9h0M89 36.2h0M106.7 33.3h0M95.7 36.5h0M89.3 34.4h0M99.5 24.7h0M97.3 25.1h0M104.9 24.6h0M106 23.2h0M93.8 30h0M110.1 25h0M108.2 23.9h0M96.1 36.6h0M108.6 23h0M95.9 37.4h0M102.2 37.7h0M98.3 32.9h0M116.6 26.1h0M102.2 45.7h0M102.4 22.4h0M106.9 26.7h0M102.6 23.5h0M106.5 30.2h0M102.4 25.4h0M99.6 29.3h0M103.4 37.2h0M89.1 31.2h0M86.9 38.7h0M94.7 44.2h0M102.3 50.5h0M94.1 25.6h0M104.2 50.7h0M99.9 32.1h0M119.7 26.7h0M104.1 36.6h0M108.7 27.2h0M107.7 27.6h0M88.6 41.8h0M100.1 26.8h0M97.2 47.6h0M96.7 30.8h0M116.3 26.7h0M96.3 48.2h0M100.1 33.5h0M99 26.6h0M92.7 43.2h0M105.5 22.8h0M87.7 31h0M90.9 29.7h0M108.2 23.4h0M102 24.1h0M100.1 51.3h0M99.7 26.8h0M99.9 26.8h0M114.2 26h0M108.5 22.3h0M98 26.7h0M95.1 38.4h0M105.2 37h0M103.1 37.8h0M105.3 34.8h0M107.8 23.7h0M93.3 33.2h0M100.1 35h0M101.1 40.1h0M95.9 44.2h0M96.9 40.2h0M109.5 31h0M120.8 23.5h0M102.7 33.6h0M106.5 34.9h0M95.6 39.4h0M116.5 24.4h0M102.1 32.9h0M113.4 28.7h0M96.6 35h0M90.8 33.9h0M114.3 25.4h0M100.9 49.8h0M101.7 28.8h0M99.5 35.2h0M87.8 32.1h0M98.7 28.9h0M106.4 31h0M104.4 22.9h0M97.2 32.1h0M113.2 27.1h0M96.2 34.4h0M103.9 32.3h0M122.4 25.4h0M116.6 26h0M98.2 38.6h0M107.7 30h0M103.5 51.1h0M104.5 22.9h0M108.2 31.9h0M100.9 49.2h0M99 32.4h0M107.6 35.5h0M107.2 29.5h0M100.5 40.7h0M99 38.2h0M85.4 37.6h0M95.7 34.4h0M101.1 33.9h0M105.7 28.3h0M88.2 38.9h0M107 26.2h0M97.4 30.5h0M88.1 28.4h0M107.8 31.6h0M109.1 26h0M119.9 26.8h0M103.8 30.1h0M89.8 40.9h0M108.6 25.6h0M100.6 31h0M103.6 35.1h0M102.7 23.2h0M86.9 36.3h0M102.8 50.1h0M102 38.6h0M118.3 25.7h0M94.3 35.6h0M110.4 26.6h0M91 42.3h0M103.7 22.8h0M120.5 24.5h0M102.1 29.6h0M114.5 26.6h0M107.6 34.4h0M101.1 32.8h0M103.8 27.5h0M95.4 40.4h0M106.5 36.1h0M107 25.1h0M108.6 36.1h0M118 24.9h0M91.3 28.1h0M109.9 28.4h0M115 25.3h0M100.2 33.4h0M101.2 34.2h0M108.5 27.2h0M105.9 35.6h0M106.4 25.4h0M106.8 19.6h0M102.9 22.9h0M99.2 34.2h0M96.6 45.5h0M98.9 24.1h0M100.4 24.9h0M99.5 34.8h0M110.4 30.3h0M101.9 25.5h0M105.2 28.3h0M95.9 30.9h0M104.7 29.6h0M107.2 37.5h0M106.3 22.9h0M97 28.9h0M98.5 31.3h0M95 26.3h0M103.6 26.3h0M101 45.1h0M106.5 37.2h0M109.4 33.1h0M97.8 48.4h0M101.7 27.6h0M100.5 32h0M99.4 45.5h0M106.3 29.5h0M106.2 32.9h0M98.3 27.8h0M86.7 37.2h0M122.3 23.8h0M106.9 31.8h0M116.7 27.5h0M120.1 26.2h0M102.1 45.1h0M96.2 37.6h0M108 25.7h0M95.4 37.7h0M107.7 32.7h0M105.6 40.4h0M90.3 29.8h0M102.9 38.2h0M109.8 24.3h0M92.4 38.3h0M96.1 31.5h0M101.9 27.1h0M97.9 47.3h0M107.5 38h0M96.7 26.8h0M91.1 29.8h0M96.3 41.2h0M104.3 35.5h0M100.1 29.4h0M103 29h0M107.7 26.2h0M105.7 26.5h0M90 34.8h0M98 26.1h0M102.6 26.8h0M98 32.8h0M101 32.8h0M111.5 29.1h0M94.6 46.7h0M109.3 35.9h0M99.5 42.1h0M98.1 32.1h0M102.8 31.2h0M106.9 27.4h0M121.1 24.9h0M103 24.1h0M104.5 38.6h0M120.1 24.6h0M103.6 26.1h0M98.7 34.6h0M105.2 26.1h0M102.5 38.1h0M95.5 33.2h0M94.9 36.2h0M106.5 22.7h0M87.2 37.8h0M96 44.6h0M99.6 37.5h0M108.7 23.2h0M96.8 26.8h0M99.4 46.5h0M89.4 36.7h0M103.6 23.9h0M121 24.4h0M103 28.3h0M85.3 35.8h0M102.7 44.3h0M93.2 35.7h0M103.4 23.1h0M105.2 27h0M113.8 26.3h0M101.6 26.6h0M94.1 44.9h0M95.6 46.3h0M96.5 48.1h0M110.2 27.8h0M103.9 39.1h0M107.5 27.8h0M107.7 33.1h0M88.9 37.1h0M97.5 37.5h0M102.1 23.4h0M93 28.3h0M98.3 50.9h0M106.5 20.4h0M106.5 25.1h0M98.8 40.2h0M87.7 40.1h0M102.1 39.1h0M99.3 31.7h0M91.3 40.1h0M90.8 29.6h0M104.4 26.3h0M99.8 43.9h0M96.9 37.3h0M97.3 27.4h0M100.5 26.1h0M106.8 30.5h0M111 33.9h0M102.5 35.1h0M94 40.1h0M105.2 25.8h0M97.7 42.2h0M101.2 24h0M103.2 50.9h0M108.6 31.2h0M97.8 31.2h0M100.9 27.6h0M106.7 38.1h0M97.5 35.5h0M120.5 25.5h0M87.3 40.7h0M108.5 24.4h0M95.4 29h0M103.6 31.7h0M88.3 29.5h0M105.8 31.8h0M102.4 31.1h0M100.5 30.6h0M106.9 22.7h0M96.1 37.9h0M100.3 30.5h0M105.4 36.9h0M105.2 37.3h0M92.7 36.4h0M102.7 35.3h0M90.9 40.3h0M104.2 23.2h0M107.6 31.2h0M105.3 26.4h0M96 36.6h0M101.4 38.9h0M107.2 26.4h0M104.7 41.7h0M88.1 34.4h0M103.8 30h0M96.6 34.9h0M117.4 27.2h0M113.3 27.8h0M97.4 41.1h0M115.3 27.2h0M99.2 36.2h0M96.9 41.9h0M97.9 37.6h0M114.8 26.6h0M102.8 52.6h0M92.9 27.1h0M97.3 26.1h0M94.7 35.1h0M99.6 30.7h0M106.3 37.1h0M102.6 22.1h0M103.2 31.9h0M105.3 37.9h0M98.8 36.9h0M93.9 37.5h0M87.8 36.2h0M96.4 37.8h0M102.8 31.4h0M92.4 34.8h0M99.9 26.5h0M96.2 30.5h0M105.1 28h0M90.2 35.9h0M116.7 26.1h0M120.7 26.1h0M119.2 29.1h0M99.7 35.3h0M104.3 39.7h0M100.3 40h0" stroke="#F8A42A" stroke-width="0.68" stroke-linecap="round" fill="none"/>
<path d="M111 120.3h0M114.2 100.2h0M116.2 100.4h0M108.8 91h0M119.5 101.9h0M103.9 115.1h0M111.5 97.6h0M103.8 102.9h0M122.7 109h0M123.3 107.2h0M116.5 102.1h0M121.8 88.9h0M126.1 104.1h0M110.7 101.8h0M101.8 109.8h0M102.6 113.1h0M102.9 117.4h0M131.4 98h0M117.8 120h0M103 114.3h0M107.7 95.9h0M123.5 99.6h0M114.5 85.2h0M103.5 101.5h0M122.6 102.1h0M127.8 96.9h0M114.7 105.2h0M116.6 88h0M106.2 105.4h0M114.2 88.6h0M113.1 85.4h0M129.1 96.8h0M122.4 112.3h0M106.5 108.6h0M125.5 111.8h0M109.3 104.4h0M118.3 116h0M100.8 116.5h0M109.9 100.6h0M114 89.6h0M116.2 100.4h0M121.1 111.6h0M112.5 91.5h0M105 118.8h0M127.5 93.9h0M127.6 94.5h0M100.8 108.1h0M108.8 93.5h0M130.5 105.1h0M105 98.1h0M121.7 107.5h0M101.5 117h0M111.2 119.1h0M106.8 95.9h0M116.1 103.8h0M115.4 101.1h0M120.7 117.4h0M102.6 110.1h0M110.5 121.1h0M123 113.2h0M125.2 103.7h0M126.1 108.6h0M130.2 97.8h0M106.4 120h0M130.1 110h0M129.4 100.1h0M130 94.5h0M107.1 116.8h0M101.3 106.3h0M118.1 106.3h0M129.9 108.3h0M117.7 92.6h0M113.5 96.5h0M123.5 106.2h0M123.9 93.5h0M122.2 116.4h0M116.4 103h0M119.7 94.2h0M132.4 101.1h0M108.2 117.7h0M104.5 98.9h0M121.4 108.7h0M124.9 94.3h0M104.2 110h0M109.9 121.3h0M120.6 94.2h0M122.9 114.5h0M111.7 104.9h0M128 95h0M125.3 109.8h0M128.3 95.6h0M116.7 108.5h0M115.7 95.8h0M118.6 96.5h0M122.9 115.6h0M100.6 108.5h0M114.7 115.6h0M121.8 115.2h0M105.2 110.8h0M109.2 96.7h0M114.8 102.8h0M124.6 116h0M104.2 105.1h0M119.3 88.2h0M121.9 106.8h0M112.2 100h0M109.3 99.3h0M131.1 104.2h0M99 111.9h0M123.2 98.7h0M118.4 119.1h0M122.8 93.7h0M119 103.7h0M131.3 95.2h0M116.2 105.2h0M114.2 106.7h0M107.9 111.8h0M128.5 101.8h0M116.2 111.5h0M104.4 113.5h0M104.2 114.8h0M121.8 110h0M104.6 120.1h0M107.5 115.6h0M123.6 101.6h0M123 103.6h0M134.1 101.9h0M117.8 115.6h0M110.9 91.6h0M115.2 97.7h0M116.5 103.9h0M117.4 113.9h0M102.7 119.3h0M121.5 106.9h0M123.9 106.4h0M101.8 102h0M111 90.8h0M103.2 117.9h0M114.3 116.4h0M109.4 100.9h0M124.3 103.8h0M130.4 103.5h0M117.1 94.2h0M111.3 105.3h0M123.1 111.2h0M123.7 109h0M114.4 85.4h0M122.8 93.1h0M111.2 111.1h0M123.7 93.6h0M123.4 100.5h0M99.2 106.7h0M109.1 114.2h0M128.6 94.9h0M119.5 101.9h0M127.8 101.1h0M110.2 120.5h0M108.2 100.3h0M114.8 110.9h0M111.1 102h0M129.5 99.4h0M124.5 104.7h0M115.6 97.3h0M129 108.6h0M122.6 105.1h0M124.3 96.8h0M118.2 109.4h0M108.1 106.2h0M117.5 90.7h0M120.3 105.2h0M131.9 97.7h0M127.6 111.9h0M100.6 117.8h0M105.3 114.2h0M106.2 102.7h0M134.4 102.4h0M110.1 119.8h0M100.5 112.6h0M105 103.2h0M121.6 116.4h0M125.3 94.5h0M117.4 87.5h0M107.3 116.7h0M120.8 90.9h0M118.8 86.3h0M115.7 85.9h0M119.5 94.7h0M120.9 98.1h0M103.6 118.5h0M126.8 93.1h0M115.1 99.9h0M101.4 116.7h0M116.6 93.8h0M98.4 114h0M126.1 104.4h0M98.5 108.8h0M130.3 107h0M114.1 91.4h0M106.8 107h0M125.7 101.6h0M120.8 106.8h0M131.3 108.8h0M114.4 99h0M120.6 116h0M133.9 101.8h0M115.4 97h0M106.6 112h0M109 121.5h0M126 107.7h0M128.1 95.7h0M107.6 103.7h0M110.5 98.9h0M106 97.2h0M101.5 111.7h0M111.3 100.6h0M111.1 102.4h0M126.8 109.1h0M127.7 107.2h0M111.5 100.2h0M111.9 113.9h0M114.3 116.7h0M111.8 119.7h0M128.7 106.7h0M114.3 116.6h0M113 89.9h0M120.6 109.1h0M121.4 112.3h0M123.2 106.7h0M123.1 98.6h0M100.8 107.5h0M119.9 109.1h0M115.3 93.8h0M126.8 102h0M124.8 99.5h0M123.8 114h0M102.4 109.2h0M108 92.3h0M109.1 99.5h0M106.8 116.5h0M130.6 105.9h0M100 112.2h0M107 104h0M125.3 96.1h0M119.9 93.5h0M114.6 107.5h0M124.4 92h0M115.4 114.7h0M101.9 103h0M100.6 107.3h0M98 111.5h0M97.8 110.7h0M120.7 113.9h0M127.2 110.7h0M106.3 108h0M116.3 99.8h0M111 110.1h0M103.7 107.1h0M114.1 88.3h0M122.9 93.6h0M107.2 114.3h0M102.3 102.4h0M119.4 100.8h0M116.9 97.1h0M113.9 87h0M120 94.9h0M114.1 93.6h0M110.5 92.5h0M130.1 104.7h0M116.1 85.8h0M134.3 103.4h0M121.5 91.8h0M132.9 97.7h0M104.3 98.4h0M109.8 96.1h0M115.2 86.1h0M117.2 90.4h0M109.7 90.3h0M113.3 112.3h0M111 99.7h0M113.1 100.3h0M112.1 97.2h0M131 103.8h0M115.8 92.6h0M106.5 119.5h0M108.4 105h0M124.4 112.6h0M110.8 107.8h0M128.2 106.4h0M128.2 103.9h0M110.1 90.9h0M128.3 109.1h0M105.6 119.2h0M110.4 99.8h0M111.6 115h0M131.6 108.9h0M119.7 92.4h0M117.8 85.8h0M115.7 114h0M119.8 118.2h0M103.3 118.5h0M115.4 116.9h0M100.6 109.9h0M98.8 106.6h0M113.1 85.7h0M118.7 104.1h0M109.8 111.8h0M113.9 92.1h0M107.1 106.6h0M109.7 112.9h0M116.8 106.4h0M101.8 108.9h0M103.2 107.1h0M103.8 105.7h0M104.8 96.6h0M122.7 98.6h0M122.8 116.3h0M122.5 106.5h0M112.7 111.4h0M120.9 116.1h0M112.9 105.9h0M119.1 118.9h0M110.7 109h0M104.2 105.4h0M131.1 95.2h0M104.3 97.9h0M113.8 110.9h0M123.2 103.8h0M110.2 120h0M121.2 101.5h0M104.2 116.2h0M127 105.2h0M118.9 98.9h0M124 95.2h0M127.2 97.7h0M114.3 89.2h0M106.7 116h0M106.2 105.2h0M111.4 111.4h0M100.5 108.7h0M106.8 95.9h0M109.6 114.1h0M104.9 99.9h0M131.5 96.5h0M108 114.6h0M117.8 120h0M109.1 106.8h0M121.3 107.5h0M101.9 104.9h0M128.4 94.7h0M119.6 88.5h0M134.3 100.8h0M126.3 104.3h0M115.2 111.5h0M114.3 113.8h0M103.5 115.9h0M110.3 108.6h0M130.1 97.2h0M121.1 110h0M121.9 102.3h0M120.2 106.1h0M127.1 112.1h0M119.8 97.6h0M112.2 117.1h0M116 96.8h0M122.4 116.9h0M114.9 110.7h0M110.1 93h0M118.8 105h0M124 111.4h0M118 105.4h0M122.5 95.5h0M118.7 91.4h0M115.5 92.6h0M130.1 102.9h0M120.6 98.4h0M126.4 101.1h0M103.6 102.5h0M117.2 111h0M116.1 88.4h0M104.2 112.9h0M123.8 96.6h0M126.7 102.5h0M124.7 95.7h0M108.3 107.5h0M123.9 116h0M104.6 111.7h0M120.3 88.4h0M114.7 108.6h0M106.5 113.8h0M105.5 106.4h0M101.4 114.9h0M122.2 111.9h0M112.8 121.6h0M115.3 104.9h0M120.8 92h0M116.4 96.3h0M131 100.9h0M121.8 93.1h0M120.9 116h0M115.3 115h0M110.6 93.5h0M99.5 110.2h0M119.9 119.1h0M125.4 92h0M124.2 111.8h0M108.7 115.5h0M98.3 111.3h0M123.5 112.9h0M116.9 108.9h0M107.1 114.6h0M103.8 107.3h0M130.3 102h0M104 100.1h0M109.3 92.4h0M107.4 114.8h0M99.7 108.1h0M126 102.8h0M113 104.8h0M103.4 99.1h0M116.1 90h0M110.4 110.9h0M108.1 95.1h0M132 107.5h0M120.1 94.7h0M104.3 118.6h0M115.7 89h0M108.6 102.2h0M122.6 109h0M129.1 96.8h0M105 106h0M108.9 108.5h0M112.7 100.7h0M101.7 114.6h0M116.1 85.7h0M118.4 111.5h0M131.5 95.9h0M107.4 96h0M112 101h0M117.6 97.5h0M114.2 89h0M122 100.3h0M115.4 102.7h0M111 89.5h0M120.8 100.7h0M132.8 98.6h0M116.3 99.7h0M132.2 105.8h0M124.6 107.2h0M108.8 99.6h0M118 90.7h0M113.8 92.9h0M110.2 95.4h0M112.8 88.7h0M124.2 92.8h0M115 89.5h0M120.6 101.1h0M114.4 111.1h0M112.6 111.5h0M106.2 110h0M125.8 104.7h0M111.4 102.1h0M115.4 85.3h0M119 99.6h0M108.2 117h0M123 102.1h0M123.4 115.8h0M115.4 102.2h0M113.4 99.9h0M109.7 113.3h0M108.2 92.2h0M101.9 119.6h0M132.2 105.6h0M115.2 105.2h0M127.9 110h0M111.7 94.6h0M126 105.8h0M104.8 114.1h0M115.3 93.4h0M119.9 112h0M103.1 101.9h0M101.8 108.4h0M124.5 92h0M100.4 108.7h0M104.5 120.6h0M119.1 106.6h0M102.1 114.6h0M116.2 106.4h0M102.2 117.4h0M108.7 94.9h0M129.9 108.3h0M111.3 118h0M130 106.9h0M107.6 110.6h0M122.7 110.2h0M114.6 104.1h0M112 103.3h0M119.8 118h0M101.4 112.7h0M119.7 115.4h0M116.8 92.7h0M116.8 89.7h0M100 106.3h0M121.3 92.8h0M114.9 99.3h0M111.8 102.9h0M120.7 108h0M129.4 106h0M131 96.1h0M108.2 92.6h0M129.5 106.6h0M122.2 105.3h0M114.1 112.6h0M121.2 95.7h0M119.9 103.5h0M109 104.8h0M100.7 116.3h0M119.5 86.8h0M125.9 112.7h0M109 92.2h0M121.9 92.5h0M116.8 98h0M110.8 91.9h0M130.6 99.3h0M111.6 95.2h0M118.1 107.1h0M120.7 105.7h0M118.6 94.4h0M116.6 93.5h0M120.8 94.4h0M111.5 111.4h0M106.6 103.5h0M104.9 108.8h0M122 94.5h0M103 118.9h0M123.5 92.9h0M113.9 101h0M123.2 95.3h0M114.2 120.9h0M113.7 103.1h0M131.7 102.8h0M123.1 98.2h0M112.2 103.2h0M127.5 112h0M109.6 120.5h0M100.7 117.1h0M127.4 99.2h0M102.9 101.8h0M126.2 112.2h0M125.6 104.6h0M117.3 85.6h0M118.4 85.6h0M124 96.2h0M118.4 105.9h0M106 105.5h0M123.2 108.3h0M122.2 111.4h0M114.9 94.4h0M122.1 88.5h0M117.8 98.4h0M126.9 106.5h0M104.2 118.4h0M104.8 97.5h0M109.6 93.7h0M121.6 96.7h0M116 106.5h0M102.9 117.4h0M129.6 95.7h0M106.1 108.6h0M117.6 107h0M129.1 102.6h0M108.6 103h0M108.2 104h0M126 98.1h0M111.2 118.6h0M118.7 106.3h0M115.5 113.8h0M116 109h0M99 114.5h0M129.4 98.5h0M102.4 104.9h0M122.8 91.6h0M110.2 94.1h0M116.3 87h0M115.3 95.5h0M131.5 100.5h0M122.2 110.4h0M110 103.8h0M128.4 98.7h0M121.1 100.1h0M121.5 90.1h0M110.3 109.5h0M115.5 91.4h0M98.2 109.1h0M102.8 109.8h0M101.3 112.4h0M106.2 118.1h0M115 102h0M101.8 104.6h0M129.4 112.3h0M103.2 101.9h0M125.7 103.6h0M128.5 94.8h0M103.6 101.7h0M132.8 104.3h0M124.1 94.2h0M109.6 92.1h0M109.6 109.9h0M120.2 99.3h0M131.6 102.4h0M127.9 103.3h0M99.4 116.3h0M122.1 116.2h0M106.2 99.4h0M131.1 107.2h0M112.7 87h0M104.1 106.9h0M121.3 94h0M111.4 97.9h0M123.4 99.4h0M128.4 109.8h0M111.7 92.6h0M117.1 106.5h0M117.5 106.8h0M104.2 112.4h0M123.9 108.3h0M124.3 93.3h0M124.7 91.2h0M123.4 115.4h0M104.5 116.6h0M117.2 108.4h0M114.3 105.8h0M109 110.8h0M127.8 105.1h0M115.5 110.9h0M104.3 114.8h0M114.9 91.8h0M121.7 113.5h0M100.3 113.3h0M112.6 100.7h0M110 113.1h0M115.7 118.9h0M109.9 93.9h0M118.6 105.9h0M112.1 98.6h0M130.1 95.3h0M104.7 101.8h0M102.4 105.6h0M132.2 96.6h0M127 104.2h0M122.6 115.3h0M101.3 111.6h0M119.2 112.1h0M115.3 96.6h0M98.6 111h0M107.2 110.6h0M116.8 111.4h0M107.7 110.1h0M127.8 104.3h0M122.8 110.2h0M104.9 101.1h0M110.3 104.6h0M104.6 106.8h0M119.5 98h0M122.6 98.7h0M116.1 85h0M117.5 117.4h0M118.7 105.7h0M105 101h0M115.5 87.3h0M123 102.7h0M107.5 111.3h0M132.1 96.5h0M113.4 100.3h0M115.7 108.7h0M117.6 104h0M113.7 117.2h0M125.3 102.5h0M118.9 118.2h0M107 98.4h0M125.8 95.7h0M115.9 108h0M120.7 114.4h0M121.9 112.9h0M132.3 103.9h0M133.1 101.2h0M100.7 107.8h0M131.4 101.9h0M127.4 100.4h0M107.9 104.7h0M107.8 94.7h0M106.8 110.7h0M110.2 106.3h0M104.1 112.1h0M118.6 106.4h0M118.1 111.4h0M123.2 110.5h0M130.4 100.6h0M117.5 109h0M124.4 90.7h0M131.3 99.5h0M101.3 109.9h0M101.8 100.2h0M118.6 102.1h0M120.9 104.8h0M114.4 107.3h0M104.9 108.8h0M128.7 110.9h0M108.7 104.6h0M118.2 104.6h0M112.2 88.8h0M107.5 120.9h0M115.8 87.7h0M99.4 112.9h0M118.4 87.2h0M112.1 97h0M115.8 112.1h0M111 90.2h0M122.8 111.1h0M104 119.4h0M115.6 94h0M115.6 114.4h0M103.1 115.6h0M113.4 110.5h0M122.8 102.9h0M111.3 110.4h0M117.4 104h0M105.3 111.5h0M110 97.6h0M116.7 101.6h0M115.1 114.9h0M109 112.1h0M112.1 121.1h0M99.9 109h0M107.7 93.4h0M101.5 104.4h0M118.5 101.1h0M133.7 104.2h0M105.3 98.6h0M117.6 110.3h0M121.2 89.2h0M111.7 103h0M114.3 98.6h0M130.4 98.7h0M134.3 100.6h0M114.1 110.5h0M115 88.9h0M121.6 95h0M122 87.4h0M123.9 103.9h0M128.6 95h0M99.9 108.1h0M100 108.7h0M127 93.4h0M125.9 101.5h0M130.9 107.9h0M102.1 107.3h0M110.9 95h0M122.3 94.8h0M103.5 112.3h0M116.5 118.2h0M116.5 116.5h0M116.5 116.9h0M121.8 91.8h0M111 94.4h0M116.4 114.6h0M126.9 92.2h0M124.4 98.3h0M105.5 119.4h0M107.3 110.7h0M122.8 91.9h0M118.5 85h0M102.1 107h0M127.3 98.5h0M118 88.2h0M101.7 102.2h0M100.7 111.6h0M108.4 106.9h0M133.4 105.5h0M103.8 116.3h0M103.9 104.7h0M124.8 103.2h0M130.7 94.8h0M119.9 89.7h0M110.3 104.3h0M106.8 121.4h0M106.6 114.8h0M122.5 108.5h0M118.3 98.3h0M102 104.3h0M98.9 110.9h0M112.3 100h0M130.2 99.3h0M132.5 103.5h0M125.5 113.9h0M132.5 98.9h0M110.1 116h0M103.4 110.1h0M129.3 101.3h0M112.7 119.5h0M116.5 108.7h0M122.3 89.6h0M101.3 114.5h0M121.5 95.2h0M123.4 91.1h0M121.5 109.5h0M116.7 95.5h0M103.7 117.7h0M109 103.2h0M98.7 108.8h0M115.5 105.7h0M100.6 108.8h0M125.9 107.3h0M99.5 109.7h0M105.5 109.3h0M131.3 97.1h0M114.6 93.3h0M104.3 106.5h0M111.9 94.9h0M125.2 91.8h0M134.3 102.6h0M116 117.7h0M112.5 85.4h0M112.8 104.7h0M98.9 114.9h0M108.9 104.2h0M120.3 107.3h0M120.5 97.1h0M119.2 101.5h0M120.9 109.1h0M117.5 118.5h0M130.7 95.1h0M113.4 85.7h0M114.3 109.1h0M113.9 101.3h0M100 106.7h0M109 107.7h0M114.5 119.3h0M118.6 101.8h0M119.5 89.2h0M105.3 108.2h0M106 102.2h0M117.7 91.3h0M110.3 120.6h0M101.9 103.2h0M114.9 120.9h0M104 114.2h0M118.1 99.2h0M115.2 114.9h0M128 92.5h0M118 94.5h0M101.3 115.6h0M108.8 105.1h0M120.8 97.6h0M132.3 103.7h0M118.1 87.8h0M118.1 117.7h0M115.3 90.2h0M118.5 117.9h0M123 109.2h0M119.1 87.7h0M112.8 114.3h0M109.9 100.1h0M117.1 102.6h0M105.7 115h0M117 94.6h0M122 101.4h0M112.6 114.5h0M131.6 106.2h0M109.9 101.7h0M101.7 117.9h0M115.2 119.9h0M124.3 93.5h0M126.9 102h0M113.5 85.9h0M104.4 112.3h0M104 115.3h0M112.7 99.2h0M122.3 109.9h0M109.7 107.5h0M119.2 93.7h0M111.3 119.8h0M118.9 105.9h0M102.5 103.7h0M129.8 100.7h0M103.3 113.4h0M103.4 112.2h0M124.6 95.6h0M100 105.6h0M129 92.7h0M122.4 116.4h0M110 113.9h0M118.7 87.5h0M126.2 96h0M124.2 109.8h0M111 112h0M115.8 113.9h0M111.4 120.5h0M121.5 91.5h0M110.3 119h0M112 116.4h0M105 114.3h0M123.1 95.6h0M116.2 117.2h0M116.6 102.9h0M106.9 112.8h0M122.5 110.5h0M115.3 110.2h0M112.9 103.9h0M111.2 111.1h0M123.7 102.8h0M112.4 114.3h0M113.3 115.3h0M115.3 88.2h0M118.4 94.5h0M111.6 97.4h0M120.3 109h0M113.8 96.1h0M120.2 102.3h0M127.4 97.8h0M105.6 107h0M123.5 112.4h0M123.6 102.2h0M123.9 93h0M115.2 100.1h0M119.5 96.1h0M112.6 99.1h0M122 93.5h0M105 109.7h0M123 109.6h0M111.8 109.9h0M128.8 93.6h0M120.9 92.9h0M134.2 104.1h0M119.3 95.6h0M129.5 109.6h0M115.4 87.3h0M120 100.1h0M131.1 106.4h0M112.6 113h0M129.6 105.3h0M99.5 109h0M105.6 117.4h0M102.9 111.1h0M101.8 110.7h0M114.9 110.7h0M116.8 95.2h0M123.1 93.2h0M98.8 107.2h0M124.5 96.4h0M130.6 103.3h0M113.2 103.9h0M109.3 106.2h0M120.2 90.8h0M115 96.5h0M120.4 112.7h0M112.2 88.1h0M110.8 102.7h0M117.5 91.3h0M120 102.6h0M110.6 108.6h0M119.9 89.3h0M112.5 105.4h0M121.6 93.3h0M106.1 117.1h0M132.3 106.9h0M103.9 112.6h0M108.7 93.8h0M118.9 116.3h0M108.3 103.9h0M124.5 112.2h0M108.6 100.1h0M117.4 93.2h0M112.5 117.5h0M114.1 87.7h0M100.4 110.1h0M130.2 108.5h0M121.7 102.8h0M124.1 93h0M104.1 111h0M121.6 117.2h0M100.3 92.9h0M107.2 88.3h0M105.6 84.7h0M99.1 84.4h0M99 88.8h0M97.7 85h0M101.6 83.1h0M98.2 88.3h0M98 87.8h0M100.3 88.6h0M101.8 89.2h0M106.3 85.8h0M104.5 85.1h0M100.1 85.6h0M104.8 92.5h0M100.9 91.5h0M106 87h0M102 81h0M101.6 84.6h0M106.2 80h0M107.6 79h0M107.3 87.2h0M100.6 93h0M107.6 80.1h0M102.9 86.5h0M107 88.8h0M103.1 80.3h0M103.3 81.7h0M97.7 86.4h0M102.8 88.6h0M102.6 86.3h0M105.5 78.6h0M97 87.1h0M97.5 87h0M106.2 79.1h0M98 87h0M103.2 85.4h0M103.9 91.9h0M104.9 83.7h0M107.4 76.2h0M99.3 92.8h0M100.5 89.5h0M99.1 92.4h0M102.1 82.2h0M104 85.5h0M104.2 82h0M106.4 79.7h0M105.6 88.5h0M105.5 89.5h0M102 90.4h0M97.6 87.9h0M100.9 85.4h0M104.9 85.8h0M98.3 88h0M100 88.9h0M100.4 90.3h0M100.9 87.4h0M104.1 83.5h0M105.5 87.9h0M104.6 78h0M102.6 81.1h0M101.5 84.6h0M103.8 93.6h0M100.1 88.6h0M105.6 84h0M104.1 87.5h0M103.7 87.4h0M106.9 80.4h0M104.7 90.8h0M106.4 85.9h0M103.9 81.1h0M107.6 78.1h0M96.4 88h0M101.4 93h0M98 89.9h0M102.4 90.9h0M97.7 86.7h0M103 80.3h0M99 90.1h0M101.5 81.2h0M98 87.8h0M107.8 85.8h0M98.3 85.3h0M105.5 86.5h0M99 84.5h0M103.6 81.9h0M101.8 84.3h0M99.2 90.9h0M97.1 89.3h0M99.3 82.8h0M102.2 92.9h0M101.4 84.3h0M105.6 85.8h0M100 90.9h0M103.6 84.6h0M105.1 77.7h0M99.1 82.4h0M104.3 91.8h0M101.8 90.3h0M105.2 87.8h0M102.1 84.5h0M97.1 85.7h0M106 84.4h0M107.1 80.2h0M97.9 89.2h0M106.1 86.5h0M105.6 87.9h0M105.5 77.6h0M100.1 87.9h0M103.9 88.1h0M97.2 83.9h0M95.3 85.2h0M99 81.9h0M96.5 84.8h0M96.1 86h0M97 84.5h0M99.5 81.3h0M94.8 86.3h0M97.4 83.5h0M98.5 81.9h0M97.4 82.9h0M96 85.4h0M96.8 83.6h0M95.8 85h0M94.4 86h0M98 82.4h0M96.6 83.5h0M98.1 83h0M99.3 81.3h0M95.4 86.3h0M99 81.3h0M95.4 86.6h0M95.6 85.9h0M96 84.2h0M96.5 84.5h0M105.2 76.6h0M103.8 77.6h0M105.9 76.6h0M103.3 78.4h0M103.4 77.9h0M106.5 75.9h0M100.9 80.6h0M104.7 76.9h0M102.7 78.8h0M100.5 80.3h0M101.5 78.9h0M104.8 77.6h0M105.9 76.8h0M104.6 77.3h0M105.5 76.7h0M105 77h0M104.1 78.1h0M101 79.4h0M103.3 77.8h0M100.9 80h0M104.8 77.5h0M102.6 79h0M102.7 78.6h0M100.5 79.6h0M103.2 78.2h0" stroke="#F53A32" stroke-width="0.64" stroke-linecap="round" fill="none"/>
<path d="M95.3 23.4h0M96.1 23.8h0M95.2 22.3h0M95.5 22.7h0M97.1 22.4h0M96.1 23.1h0M96.1 22h0M94.8 23.8h0M94.7 23.5h0M96.1 23.2h0M95.7 22.8h0M97.1 21.6h0M94.6 24.4h0M97.5 21.3h0M97.2 21.3h0M96.2 22.4h0M96.8 21.2h0M94 23.8h0M96.8 21.7h0M94.7 23.3h0M97.3 21h0M95.5 23.3h0M93.9 24.2h0M95.7 23.2h0M96 22.3h0M107.9 51.1h0M99.9 42.8h0M108.9 47.8h0M107.2 58.5h0M104.8 47.3h0M106.1 40.9h0M103.7 41.2h0M107.3 41.8h0M105.5 50.6h0M101.3 51.6h0M96.7 50.9h0M109.8 50.4h0" stroke="#F53A32" stroke-width="0.8" stroke-linecap="round" fill="none"/>
<path d="M93.8 70.4h0M111.1 62h0M106.2 66.1h0M105.1 65.8h0M104 67.2h0M103.4 64h0M94.7 69.2h0M100.3 68.1h0M107.2 64.6h0M100.5 67.7h0M100.4 68.1h0M111.9 62.9h0M95.8 69.5h0M105.1 64.8h0M99.3 69.1h0M106.3 66.6h0M102.6 66.9h0M111.8 62.6h0M103.6 64.9h0M101.1 68.9h0M110 63.2h0M101.8 67.3h0M111.1 62h0M108.5 62.2h0M106.5 66.5h0M111.2 63.4h0M97.4 68.8h0M100.9 68.6h0M95.2 71.7h0M106.7 65h0M94.6 70.3h0M103.1 65.5h0M108.7 65.6h0M106.2 64.6h0M105.8 63.3h0M105.4 64.5h0M98.4 68.6h0M106.7 65h0M99.7 65.5h0M105.8 64.5h0M98.1 69.1h0M101.4 66.8h0M97.4 68h0M101.2 68.7h0M102.5 66.5h0M102.9 66.7h0M96.2 69.6h0M104.1 65h0M111.2 62.1h0M102 66.8h0M103.3 67.2h0M110 63.5h0M94.8 70.4h0M98.8 68h0M101.9 69.1h0M98.6 67.5h0M109.9 62.8h0M96 68.9h0M104.7 65h0M107 63.3h0M111.5 62.2h0M108.6 62.6h0M109.9 63h0M110.9 63.5h0M105.7 64h0M107.5 64h0M111.1 62.3h0M107.9 64.2h0M103.2 65.8h0M110.1 61.7h0M106.9 65.2h0M107.5 64.4h0M100.4 67.6h0M95.9 69.7h0M102.9 65.6h0M98 68.6h0M105.6 63.1h0M95.6 70.4h0M104.2 67.4h0M94.8 70.3h0M105 65.3h0M105.2 64.8h0M96.6 69.4h0M102.8 67.4h0M99.2 68.5h0M94.4 70h0M97 70.2h0M109.6 64.2h0M103.5 68.4h0M107.2 64.6h0M111.2 62.9h0M94.5 71.7h0M110 63.7h0M103.6 66.2h0M103.3 67.8h0M98.4 70.7h0M103.2 66.5h0M102.7 65.5h0M110.8 61.6h0M105.7 66.1h0M96.5 69.7h0M109.5 64h0M101.3 67.8h0M97 69h0M98 68.5h0M107.9 63.4h0M94 71h0M94.2 70.6h0M98.7 69h0M110.9 63.3h0M98.8 68.7h0M109.7 63.2h0M106.4 64.2h0M108.2 63.4h0M108.7 63.7h0M98 68.7h0M95.1 71.4h0M99.1 68.4h0M95.8 70.2h0M110.1 61.4h0M89.3 84.6h0M88.1 74.2h0M88.7 79.8h0M88.1 75.2h0M87.8 79.9h0M87.7 80.4h0M88 81.7h0M88.9 87.7h0M90 74.5h0M87.9 70.3h0M88.8 74.5h0M90.3 85.6h0M88.6 73.9h0M89.1 80.7h0M88.8 70.7h0M88.5 79.3h0M90.9 77.6h0M90 81.8h0M91 88.5h0M90.7 87.4h0M88.8 87.3h0M90.5 87.6h0M87.9 72.7h0M90.7 87.5h0M89.3 79.4h0M90.1 80.5h0M88.8 82h0M90.5 81.3h0M89.3 80.4h0M90 89h0M88.5 73.3h0M88.9 76.7h0M87.6 76.8h0M87.6 76.7h0M88.9 78.2h0M90.3 79.1h0M89.9 80h0M88.9 76.3h0M89.2 80.5h0M90.2 88.1h0M89.4 87h0M90.4 85.4h0M91.8 83.1h0M86.5 72.5h0M91 89.5h0M89.6 85.2h0M90.3 88.2h0M89.1 77h0M91.1 84.3h0M88.6 72.9h0M89.3 70.4h0M88.2 73.2h0M88.3 74.8h0M89.6 72h0M90 83.5h0M91.2 82.2h0M88.4 82.5h0M89.8 74.5h0M91.3 80.6h0M87.1 70.2h0M88.6 74.4h0M89.5 72.2h0M88.9 70.9h0M88.6 75.7h0M89.1 84.7h0M89.6 71.7h0M88.9 80.7h0M89.5 85.6h0M90.2 74.2h0M90.2 81.1h0M90.6 87.7h0M91.5 87.7h0M88.8 77.7h0M90.7 85.1h0M88.3 70.6h0M87.2 83.1h0M87.9 81.1h0M91.5 85.4h0M91.3 83.5h0M89.8 85.4h0M90.8 71.1h0M92.1 84.7h0M88.8 78.3h0M89.4 77.9h0M90.7 84.8h0M90.5 82.7h0M89.6 84.4h0M90.7 71.2h0M90.2 75.4h0M88.2 79h0M88 72.3h0M88.9 83.3h0M88.4 80h0M89.8 78.3h0M91.7 89.5h0M92.1 83.4h0M88.4 73.7h0M90 87.9h0M89.9 83.2h0M89.3 87.9h0M89.1 85.9h0M92.1 84.9h0M89.2 83.4h0M91.3 81.1h0M88.1 76.1h0M89.1 75.2h0M89.3 73.9h0M89.7 77.1h0M90.1 78.8h0M91.8 83.7h0M81.7 94.5h0M87.3 91h0M80.8 94.6h0M87.1 90.1h0M84.8 95.5h0M89.6 88.3h0M80.6 98.2h0M86.3 92.1h0M84.5 93.3h0M87.6 91h0M84.6 91.9h0M84.6 92.5h0M80.8 97.7h0M83.4 95.1h0M83.9 94.6h0M88.3 88.8h0M79.2 95.9h0M90 88.7h0M79.8 96.3h0M80.8 98.2h0M90 89.9h0M83.6 95.6h0M82.8 95.5h0M78.5 97.5h0M88.1 90h0M78.1 97.7h0M81.5 95.9h0M83.4 95.4h0M88 89.3h0M87 90.8h0M82.5 94.1h0M84 92.9h0M85.9 91.5h0M83.2 93.7h0M87 91.7h0M89 88.6h0M81.4 96h0M91 89.4h0M84.6 93.7h0M80 98h0M85.1 93h0M85.2 94.3h0M88.8 88.1h0M86.6 92.7h0M85.8 92.2h0M82.8 97.8h0M89.5 90.1h0M82.6 94.3h0M85.2 91.1h0M85.7 92.9h0M87.6 93h0M82 94.6h0M79.7 98.4h0M84.3 95.4h0M80.1 97.1h0M83 93.5h0M87.5 87.3h0M79 97.6h0M83.9 92.8h0M77.9 98.3h0M79.9 97.5h0M88.6 90.4h0M81.1 94.7h0M86 92.6h0M79.8 100.2h0M89.5 88.8h0M90 88.2h0M90.1 90.2h0M83.9 92h0M79.6 96.4h0M85.1 92.4h0M85.7 92.5h0M80.1 96.6h0M80.7 96.9h0M83.9 93.8h0M82.4 93.9h0M83.1 92.1h0M86.7 91.2h0M78.7 98.2h0M88.4 91.7h0M87.4 90.2h0M83 92h0M88 89h0M85.7 91.3h0M79.9 97.2h0M89.9 89.9h0M79.9 94.8h0M88.8 88.9h0M79.7 98.3h0M86.8 91.1h0M89.5 86.9h0M91.5 88.3h0M91.6 91h0M90 86.8h0M91.5 86.6h0M90.8 86h0M89.4 86.5h0M89.6 87.6h0M90.5 86.8h0M89.8 85.4h0M90.8 85.7h0M92.6 86.1h0M88.3 86.8h0M91.9 85.9h0M92.2 84.8h0M91.5 86.7h0M90.5 85.5h0M90 85.8h0M91.3 86h0M89 87.1h0M87.5 87.6h0M89.1 87h0M93 87.1h0M90.7 85.7h0M90.7 87.6h0M88.5 85.8h0M88.2 86.9h0M89 89.5h0M91.4 87h0M89.4 88.8h0M91.3 87.2h0M88.6 87.2h0M91.5 88.2h0M91.7 86.6h0M92.2 86.4h0M91.9 88.4h0M88.7 87.1h0M92 87.1h0M89.2 85.5h0M91.2 86.3h0M91.7 86.8h0M91.4 86.6h0M89.5 86h0M91.5 87.3h0M90.2 86.9h0M89.8 87.7h0M87.6 88.7h0M91.7 87.1h0M90.2 85.5h0M90.5 87.6h0M91.8 87.9h0M89.1 84.5h0M87.6 86.7h0M90 86.5h0M87 87.6h0M92.6 88.8h0M92.1 86h0M89.7 84.7h0M91 88.6h0M89.9 85.6h0M94 86.4h0M90.7 85.8h0M89 83.8h0M89.5 86.4h0M90.9 86h0M89.1 87.8h0M91.2 86h0M87.7 89.4h0M89.9 87.6h0M88.7 86.6h0M96.3 70.6h0M90.8 71.7h0M88.5 71.5h0M88.4 70.1h0M92.4 71.8h0M93.7 71.4h0M89.4 72.1h0M94.7 70.6h0M89.4 71.3h0M93.1 70.9h0M90.7 73.4h0M93.4 71h0M90.8 72.3h0M90.8 71.3h0M94.2 73.6h0M90 70h0M92 71h0M94.4 72.8h0M92.3 72.1h0M88.4 71.2h0M92.7 72.3h0M88.7 72.4h0M94.3 72.6h0M92.3 72.6h0M95.6 72.6h0M88.8 71.8h0M90.8 71.6h0M95.4 72.4h0M94.4 73h0M88.7 70.3h0M77.1 76.7h0M96.7 92.9h0M96.7 86.8h0M88 87.5h0M85.3 79.9h0M88.5 71h0M86.8 89.7h0M97.3 78.7h0M84.4 74.3h0M81.9 70.5h0M94.7 74h0M78.2 110h0M96.7 78.9h0M106 66.9h0M93.8 76.8h0M94.9 88.9h0M93.3 80.2h0M93.6 83.6h0M98 67.6h0M91.5 79.6h0M87.1 98.5h0M98.6 85.5h0M92.1 71.7h0M94.4 80.2h0M93 98.8h0M93.7 83.4h0M88.7 78.2h0M91.1 92.6h0M86.8 88.1h0M96.2 79.7h0M91.3 69.5h0M91.8 83.9h0M94.4 83.4h0M92.4 82.5h0M75.3 70.4h0M82.4 76.1h0M85.6 86.7h0M98.4 78.4h0M100.3 94h0M98 89.7h0M79.3 89.2h0M89.5 86h0M91.9 71.8h0M92.1 83.2h0M86.5 75.7h0M93.8 99.2h0M97.1 85.2h0M92 92.6h0M87.2 92.6h0M98.7 92.1h0M82.6 86.3h0M101.1 69.5h0M97.5 87.5h0M86.6 72.7h0M90 87.3h0M87.2 77.4h0M84.2 60.4h0M95.9 83.8h0M92.8 71.5h0M83.3 73.1h0M101.2 76.5h0M98.7 79.4h0M102.9 74.3h0M101.9 75.5h0M98.2 78.8h0M99 77.4h0M99.5 78.2h0M102.9 74.8h0M101.8 76.2h0M101.1 74.8h0M97.7 79h0M97.6 77.6h0M99 77.5h0M103 73.5h0M100.7 77h0M101.9 74.5h0M97.3 78.9h0M99.8 76.7h0M99.8 77.9h0M98.4 78.8h0M96 79.5h0M102.3 76.3h0M102.4 74.4h0M96.6 80.7h0M98.7 78.3h0" stroke="#D63E9C" stroke-width="0.7" stroke-linecap="round" fill="none"/>
<text x="97.70" y="37.20" font-size="3.9" text-anchor="middle" fill="#1a1a1a" stroke="#1a1a1a" stroke-width="0.15">EVT-2</text>
<text x="58.00" y="53.50" font-size="3.9" text-anchor="middle" fill="#1a1a1a" stroke="#1a1a1a" stroke-width="0.15">VCT-1</text>
<text x="76.30" y="64.50" font-size="3.9" text-anchor="middle" fill="#1a1a1a" stroke="#1a1a1a" stroke-width="0.15">SCT</text>
<text x="48.20" y="85.50" font-size="3.9" text-anchor="middle" fill="#1a1a1a" stroke="#1a1a1a" stroke-width="0.15">VCT-3</text>
<text x="69.30" y="94.60" font-size="3.9" text-anchor="middle" fill="#1a1a1a" stroke="#1a1a1a" stroke-width="0.15">VCT-4</text>
<text x="51.70" y="107.90" font-size="3.9" text-anchor="middle" fill="#1a1a1a" stroke="#1a1a1a" stroke-width="0.15">VCT-2</text>
<text x="89.50" y="81.10" font-size="3.9" text-anchor="middle" fill="#1a1a1a" stroke="#1a1a1a" stroke-width="0.15">VCT-5</text>
<text x="115.00" y="102.30" font-size="3.9" text-anchor="middle" fill="#1a1a1a" stroke="#1a1a1a" stroke-width="0.15">EVT-1</text>
<text x="79.60" y="132.90" font-size="4.4" text-anchor="middle" stroke="#000" stroke-width="0.17">UMAP-1</text>
<text transform="translate(24.80 72.60) rotate(-90)" font-size="4.35" text-anchor="middle" stroke="#000" stroke-width="0.17">UMAP-2</text>
<circle cx="145.3" cy="23.10" r="1.9" fill="#FF2D2D"/>
<text x="149.60" y="24.80" font-size="4.78" stroke="#000" stroke-width="0.17">EVT-1 (invasion)</text>
<circle cx="145.3" cy="31.07" r="1.9" fill="#FFA726"/>
<text x="149.60" y="32.77" font-size="4.78" stroke="#000" stroke-width="0.17">EVT-2 (immunomodulation)</text>
<circle cx="145.3" cy="39.04" r="1.9" fill="#5E4B1A"/>
<text x="149.60" y="40.74" font-size="4.78" stroke="#000" stroke-width="0.17">SCT</text>
<circle cx="145.3" cy="47.01" r="1.9" fill="#22B84A"/>
<text x="149.60" y="48.71" font-size="4.78" stroke="#000" stroke-width="0.17">VCT-1 (low proliferative)</text>
<circle cx="145.3" cy="54.98" r="1.9" fill="#24C8CE"/>
<text x="149.60" y="56.68" font-size="4.78" stroke="#000" stroke-width="0.17">VCT-2 (high proliferative)</text>
<circle cx="145.3" cy="62.95" r="1.9" fill="#1F3F99"/>
<text x="149.60" y="64.65" font-size="4.78" stroke="#000" stroke-width="0.17">VCT-3 (EVT progenitor)</text>
<circle cx="145.3" cy="70.92" r="1.9" fill="#B094D2"/>
<text x="149.60" y="72.62" font-size="4.78" stroke="#000" stroke-width="0.17">VCT-4 (others)</text>
<circle cx="145.3" cy="78.89" r="1.9" fill="#D63C9A"/>
<text x="149.60" y="80.59" font-size="4.78" stroke="#000" stroke-width="0.17">VCT-5 (SCT progenitor)</text></g>
<g id="panelB"><text x="223.20" y="8.80" font-size="8.2" stroke="#000" stroke-width="0.27">B</text>
<text transform="translate(234.20 67.70) rotate(-90)" font-size="4.58" text-anchor="middle" stroke="#000" stroke-width="0.17">Log-normalized gene expression</text>
<line x1="251.20" y1="29.00" x2="316.30" y2="29.00" stroke="#b5b5b5" stroke-width="0.7"/>
<line x1="251.20" y1="16.60" x2="251.20" y2="29.00" stroke="#b8b8b8" stroke-width="0.8"/>
<line x1="250.30" y1="28.40" x2="251.20" y2="28.40" stroke="#555" stroke-width="0.4"/>
<text x="249.90" y="29.00" font-size="1.6" text-anchor="end" fill="#444" stroke="#444" stroke-width="0.07">0</text>
<line x1="250.30" y1="25.00" x2="251.20" y2="25.00" stroke="#555" stroke-width="0.4"/>
<text x="249.90" y="25.60" font-size="1.6" text-anchor="end" fill="#444" stroke="#444" stroke-width="0.07">1</text>
<line x1="250.30" y1="21.60" x2="251.20" y2="21.60" stroke="#555" stroke-width="0.4"/>
<text x="249.90" y="22.20" font-size="1.6" text-anchor="end" fill="#444" stroke="#444" stroke-width="0.07">2</text>
<line x1="250.30" y1="18.20" x2="251.20" y2="18.20" stroke="#555" stroke-width="0.4"/>
<text x="249.90" y="18.80" font-size="1.6" text-anchor="end" fill="#444" stroke="#444" stroke-width="0.07">3</text>
<text transform="translate(245.50 22.60) rotate(-90) scale(0.93 1)" font-size="3.8" text-anchor="middle" stroke="#000" stroke-width="0.17">KRT7</text>
<path d="M259.00 29.00C259.90 28.92 258.81 28.66 258.40 28.50C257.99 28.33 256.85 28.71 256.55 27.99C256.25 27.28 256.43 25.05 256.60 24.21C256.78 23.37 257.17 23.41 257.60 22.95C258.03 22.49 258.83 21.88 259.20 21.44C259.57 21.00 259.87 20.73 259.80 20.31C259.73 19.89 259.27 19.40 258.80 18.92C258.33 18.44 257.46 17.83 257.00 17.41C256.54 16.99 256.23 16.57 256.05 16.40C255.88 16.23 256.12 16.23 255.95 16.40C255.77 16.57 255.46 16.99 255.00 17.41C254.54 17.83 253.67 18.44 253.20 18.92C252.73 19.40 252.27 19.89 252.20 20.31C252.13 20.73 252.43 21.00 252.80 21.44C253.17 21.88 253.97 22.49 254.40 22.95C254.83 23.41 255.23 23.37 255.40 24.21C255.57 25.05 255.75 27.28 255.45 27.99C255.15 28.71 254.01 28.33 253.60 28.50C253.19 28.66 252.10 28.92 253.00 29.00C253.90 29.08 258.10 29.08 259.00 29.00Z" fill="#F8766D"/>
<path d="M267.15 29.00C268.13 28.93 267.17 28.74 266.73 28.58C266.29 28.42 264.88 28.41 264.52 28.05C264.17 27.70 264.42 26.92 264.58 26.48C264.74 26.04 265.08 25.83 265.47 25.43C265.86 25.03 266.61 24.47 266.94 24.07C267.27 23.66 267.48 23.38 267.46 23.02C267.45 22.65 267.24 22.33 266.83 21.86C266.43 21.39 265.51 20.74 265.05 20.18C264.59 19.62 264.24 18.78 264.05 18.50C263.87 18.22 264.13 18.22 263.95 18.50C263.76 18.78 263.41 19.62 262.95 20.18C262.49 20.74 261.57 21.39 261.17 21.86C260.76 22.33 260.55 22.65 260.54 23.02C260.52 23.38 260.73 23.66 261.06 24.07C261.39 24.47 262.14 25.03 262.53 25.43C262.92 25.83 263.26 26.04 263.42 26.48C263.58 26.92 263.83 27.70 263.48 28.05C263.12 28.41 261.71 28.42 261.27 28.58C260.83 28.74 259.87 28.93 260.85 29.00C261.83 29.07 266.17 29.07 267.15 29.00Z" fill="#D98E1A"/>
<path d="M275.24 29.00C276.25 28.93 275.26 28.72 274.81 28.56C274.36 28.39 272.91 28.38 272.54 28.01C272.17 27.64 272.43 26.82 272.59 26.36C272.76 25.90 273.11 25.68 273.51 25.26C273.92 24.84 274.68 24.25 275.02 23.83C275.37 23.41 275.58 23.12 275.56 22.73C275.55 22.34 275.33 22.02 274.92 21.52C274.50 21.02 273.56 20.35 273.08 19.76C272.60 19.17 272.24 18.29 272.05 18.00C271.87 17.71 272.13 17.71 271.95 18.00C271.76 18.29 271.40 19.17 270.92 19.76C270.44 20.35 269.50 21.02 269.08 21.52C268.67 22.02 268.45 22.34 268.44 22.73C268.42 23.12 268.63 23.41 268.98 23.83C269.32 24.25 270.08 24.84 270.49 25.26C270.89 25.68 271.24 25.90 271.41 26.36C271.57 26.82 271.83 27.64 271.46 28.01C271.09 28.38 269.64 28.39 269.19 28.56C268.74 28.72 267.75 28.93 268.76 29.00C269.77 29.07 274.23 29.07 275.24 29.00Z" fill="#4FAE2E"/>
<path d="M283.15 29.00C284.13 28.92 283.17 28.70 282.73 28.52C282.29 28.34 280.88 28.32 280.52 27.92C280.17 27.52 280.42 26.62 280.58 26.12C280.74 25.62 281.08 25.38 281.47 24.92C281.86 24.46 282.61 23.82 282.94 23.36C283.27 22.90 283.48 22.58 283.46 22.16C283.45 21.74 283.24 21.38 282.83 20.84C282.43 20.30 281.51 19.56 281.05 18.92C280.59 18.28 280.24 17.32 280.05 17.00C279.87 16.68 280.13 16.68 279.95 17.00C279.76 17.32 279.41 18.28 278.95 18.92C278.49 19.56 277.57 20.30 277.17 20.84C276.76 21.38 276.55 21.74 276.54 22.16C276.52 22.58 276.73 22.90 277.06 23.36C277.39 23.82 278.14 24.46 278.53 24.92C278.92 25.38 279.26 25.62 279.42 26.12C279.58 26.62 279.83 27.52 279.48 27.92C279.12 28.32 277.71 28.34 277.27 28.52C276.83 28.70 275.87 28.92 276.85 29.00C277.83 29.08 282.17 29.08 283.15 29.00Z" fill="#00B871"/>
<path d="M291.15 29.00C292.13 28.93 291.17 28.72 290.73 28.56C290.29 28.39 288.88 28.38 288.52 28.01C288.17 27.64 288.42 26.82 288.58 26.36C288.74 25.90 289.08 25.68 289.47 25.26C289.86 24.84 290.61 24.25 290.94 23.83C291.27 23.41 291.48 23.12 291.46 22.73C291.45 22.34 291.24 22.02 290.83 21.52C290.43 21.02 289.51 20.35 289.05 19.76C288.59 19.17 288.24 18.29 288.05 18.00C287.87 17.71 288.13 17.71 287.95 18.00C287.76 18.29 287.41 19.17 286.95 19.76C286.49 20.35 285.57 21.02 285.17 21.52C284.76 22.02 284.55 22.34 284.54 22.73C284.52 23.12 284.73 23.41 285.06 23.83C285.39 24.25 286.14 24.84 286.53 25.26C286.92 25.68 287.26 25.90 287.42 26.36C287.58 26.82 287.83 27.64 287.48 28.01C287.12 28.38 285.71 28.39 285.27 28.56C284.83 28.72 283.87 28.93 284.85 29.00C285.83 29.07 290.17 29.07 291.15 29.00Z" fill="#00BDC2"/>
<path d="M299.15 29.00C300.13 28.93 299.17 28.72 298.73 28.56C298.29 28.39 296.88 28.38 296.52 28.01C296.17 27.64 296.42 26.82 296.58 26.36C296.74 25.90 297.08 25.68 297.47 25.26C297.86 24.84 298.61 24.25 298.94 23.83C299.27 23.41 299.48 23.12 299.46 22.73C299.45 22.34 299.24 22.02 298.83 21.52C298.43 21.02 297.51 20.35 297.05 19.76C296.59 19.17 296.24 18.29 296.05 18.00C295.87 17.71 296.13 17.71 295.95 18.00C295.76 18.29 295.41 19.17 294.95 19.76C294.49 20.35 293.57 21.02 293.17 21.52C292.76 22.02 292.55 22.34 292.54 22.73C292.52 23.12 292.73 23.41 293.06 23.83C293.39 24.25 294.14 24.84 294.53 25.26C294.92 25.68 295.26 25.90 295.42 26.36C295.58 26.82 295.83 27.64 295.48 28.01C295.12 28.38 293.71 28.39 293.27 28.56C292.83 28.72 291.87 28.93 292.85 29.00C293.83 29.07 298.17 29.07 299.15 29.00Z" fill="#1C96DC"/>
<path d="M307.30 29.00C308.33 28.92 307.32 28.70 306.86 28.52C306.40 28.34 304.93 28.32 304.55 27.92C304.17 27.52 304.44 26.62 304.61 26.12C304.77 25.62 305.13 25.38 305.54 24.92C305.95 24.46 306.73 23.82 307.08 23.36C307.43 22.90 307.65 22.58 307.63 22.16C307.61 21.74 307.39 21.38 306.97 20.84C306.55 20.30 305.59 19.56 305.10 18.92C304.61 18.28 304.25 17.32 304.06 17.00C303.86 16.68 304.14 16.68 303.94 17.00C303.75 17.32 303.39 18.28 302.90 18.92C302.41 19.56 301.45 20.30 301.03 20.84C300.61 21.38 300.39 21.74 300.37 22.16C300.35 22.58 300.57 22.90 300.92 23.36C301.27 23.82 302.05 24.46 302.46 24.92C302.87 25.38 303.23 25.62 303.39 26.12C303.56 26.62 303.83 27.52 303.45 27.92C303.07 28.32 301.60 28.34 301.14 28.52C300.68 28.70 299.67 28.92 300.70 29.00C301.73 29.08 306.27 29.08 307.30 29.00Z" fill="#9F6FCB"/>
<path d="M315.15 29.00C316.13 28.92 315.17 28.71 314.73 28.54C314.29 28.37 312.88 28.35 312.52 27.96C312.17 27.58 312.42 26.72 312.58 26.24C312.74 25.76 313.08 25.53 313.47 25.09C313.86 24.65 314.61 24.04 314.94 23.59C315.27 23.15 315.48 22.85 315.46 22.45C315.45 22.04 315.24 21.70 314.83 21.18C314.43 20.66 313.51 19.95 313.05 19.34C312.59 18.73 312.24 17.81 312.05 17.50C311.87 17.19 312.13 17.19 311.95 17.50C311.76 17.81 311.41 18.73 310.95 19.34C310.49 19.95 309.57 20.66 309.17 21.18C308.76 21.70 308.55 22.04 308.54 22.45C308.52 22.85 308.73 23.15 309.06 23.59C309.39 24.04 310.14 24.65 310.53 25.09C310.92 25.53 311.26 25.76 311.42 26.24C311.58 26.72 311.83 27.58 311.48 27.96C311.12 28.35 309.71 28.37 309.27 28.54C308.83 28.71 307.87 28.92 308.85 29.00C309.83 29.08 314.17 29.08 315.15 29.00Z" fill="#EF5BA8"/>
<line x1="251.20" y1="45.20" x2="316.30" y2="45.20" stroke="#b5b5b5" stroke-width="0.7"/>
<line x1="251.20" y1="32.80" x2="251.20" y2="45.20" stroke="#b8b8b8" stroke-width="0.8"/>
<line x1="250.30" y1="44.60" x2="251.20" y2="44.60" stroke="#555" stroke-width="0.4"/>
<text x="249.90" y="45.20" font-size="1.6" text-anchor="end" fill="#444" stroke="#444" stroke-width="0.07">0</text>
<line x1="250.30" y1="41.20" x2="251.20" y2="41.20" stroke="#555" stroke-width="0.4"/>
<text x="249.90" y="41.80" font-size="1.6" text-anchor="end" fill="#444" stroke="#444" stroke-width="0.07">1</text>
<line x1="250.30" y1="37.80" x2="251.20" y2="37.80" stroke="#555" stroke-width="0.4"/>
<text x="249.90" y="38.40" font-size="1.6" text-anchor="end" fill="#444" stroke="#444" stroke-width="0.07">2</text>
<line x1="250.30" y1="34.40" x2="251.20" y2="34.40" stroke="#555" stroke-width="0.4"/>
<text x="249.90" y="35.00" font-size="1.6" text-anchor="end" fill="#444" stroke="#444" stroke-width="0.07">3</text>
<text transform="translate(245.50 38.80) rotate(-90) scale(0.93 1)" font-size="3.8" text-anchor="middle" stroke="#000" stroke-width="0.17">HLA-G</text>
<path d="M259.40 45.20C260.43 45.12 259.22 44.91 258.80 44.71C258.38 44.50 257.13 44.30 256.90 43.97C256.67 43.64 257.13 43.25 257.40 42.74C257.67 42.23 258.23 41.51 258.50 40.90C258.77 40.28 258.98 39.67 259.00 39.05C259.02 38.44 258.85 37.86 258.60 37.20C258.35 36.55 257.85 35.71 257.50 35.11C257.15 34.52 256.74 34.01 256.50 33.64C256.26 33.27 256.14 33.02 256.05 32.90C255.96 32.78 256.04 32.78 255.95 32.90C255.86 33.02 255.74 33.27 255.50 33.64C255.26 34.01 254.85 34.52 254.50 35.11C254.15 35.71 253.65 36.55 253.40 37.20C253.15 37.86 252.98 38.44 253.00 39.05C253.02 39.67 253.23 40.28 253.50 40.90C253.77 41.51 254.33 42.23 254.60 42.74C254.87 43.25 255.33 43.64 255.10 43.97C254.87 44.30 253.62 44.50 253.20 44.71C252.78 44.91 251.57 45.12 252.60 45.20C253.63 45.28 258.37 45.28 259.40 45.20Z" fill="#F8766D"/>
<path d="M267.74 45.20C268.84 45.14 267.39 44.99 266.86 44.84C266.33 44.69 264.88 44.69 264.55 44.30C264.22 43.91 264.73 43.10 264.88 42.50C265.03 41.90 265.43 41.30 265.43 40.70C265.43 40.10 265.06 39.50 264.88 38.90C264.70 38.30 264.47 37.55 264.33 37.10C264.19 36.65 264.12 36.35 264.06 36.20C263.99 36.05 264.01 36.05 263.94 36.20C263.88 36.35 263.81 36.65 263.67 37.10C263.53 37.55 263.30 38.30 263.12 38.90C262.94 39.50 262.57 40.10 262.57 40.70C262.57 41.30 262.97 41.90 263.12 42.50C263.27 43.10 263.78 43.91 263.45 44.30C263.12 44.69 261.67 44.69 261.14 44.84C260.61 44.99 259.16 45.14 260.26 45.20C261.36 45.26 266.64 45.26 267.74 45.20Z" fill="#D98E1A"/>
<line x1="272.00" y1="45.20" x2="272.00" y2="40.20" stroke="#858585" stroke-width="0.55"/>
<line x1="280.00" y1="45.20" x2="280.00" y2="36.70" stroke="#858585" stroke-width="0.55"/>
<line x1="288.00" y1="45.20" x2="288.00" y2="38.20" stroke="#858585" stroke-width="0.55"/>
<line x1="296.00" y1="45.20" x2="296.00" y2="39.20" stroke="#858585" stroke-width="0.55"/>
<line x1="304.00" y1="45.20" x2="304.00" y2="39.20" stroke="#858585" stroke-width="0.55"/>
<line x1="312.00" y1="45.20" x2="312.00" y2="38.70" stroke="#858585" stroke-width="0.55"/>
<line x1="251.20" y1="63.20" x2="316.30" y2="63.20" stroke="#b5b5b5" stroke-width="0.7"/>
<line x1="251.20" y1="50.80" x2="251.20" y2="63.20" stroke="#b8b8b8" stroke-width="0.8"/>
<line x1="250.30" y1="62.60" x2="251.20" y2="62.60" stroke="#555" stroke-width="0.4"/>
<text x="249.90" y="63.20" font-size="1.6" text-anchor="end" fill="#444" stroke="#444" stroke-width="0.07">0</text>
<line x1="250.30" y1="59.20" x2="251.20" y2="59.20" stroke="#555" stroke-width="0.4"/>
<text x="249.90" y="59.80" font-size="1.6" text-anchor="end" fill="#444" stroke="#444" stroke-width="0.07">1</text>
<line x1="250.30" y1="55.80" x2="251.20" y2="55.80" stroke="#555" stroke-width="0.4"/>
<text x="249.90" y="56.40" font-size="1.6" text-anchor="end" fill="#444" stroke="#444" stroke-width="0.07">2</text>
<line x1="250.30" y1="52.40" x2="251.20" y2="52.40" stroke="#555" stroke-width="0.4"/>
<text x="249.90" y="53.00" font-size="1.6" text-anchor="end" fill="#444" stroke="#444" stroke-width="0.07">3</text>
<text transform="translate(245.50 56.80) rotate(-90) scale(0.93 1)" font-size="3.8" text-anchor="middle" stroke="#000" stroke-width="0.17">ASCL2</text>
<path d="M259.91 63.20C261.10 63.12 259.70 62.91 259.22 62.70C258.74 62.50 257.30 62.29 257.04 61.96C256.77 61.63 257.30 61.24 257.61 60.72C257.92 60.20 258.57 59.48 258.88 58.86C259.18 58.24 259.43 57.62 259.45 57.00C259.47 56.38 259.28 55.80 258.99 55.14C258.70 54.48 258.13 53.63 257.73 53.03C257.32 52.43 256.85 51.92 256.57 51.54C256.30 51.17 256.16 50.92 256.06 50.80C255.95 50.68 256.05 50.68 255.94 50.80C255.84 50.92 255.70 51.17 255.43 51.54C255.15 51.92 254.68 52.43 254.28 53.03C253.87 53.63 253.30 54.48 253.01 55.14C252.72 55.80 252.53 56.38 252.55 57.00C252.57 57.62 252.82 58.24 253.12 58.86C253.43 59.48 254.08 60.20 254.39 60.72C254.70 61.24 255.23 61.63 254.97 61.96C254.70 62.29 253.26 62.50 252.78 62.70C252.30 62.91 250.90 63.12 252.09 63.20C253.28 63.28 258.72 63.28 259.91 63.20Z" fill="#F8766D"/>
<line x1="264.00" y1="63.20" x2="264.00" y2="54.20" stroke="#c9922e" stroke-width="0.6"/>
<path d="M267.60 63.20C268.60 63.14 266.95 62.98 266.40 62.84C265.85 62.71 264.66 63.08 264.30 62.39C263.94 61.70 264.29 60.07 264.25 58.70C264.21 57.34 264.10 54.95 264.05 54.20C264.00 53.45 264.00 53.45 263.95 54.20C263.90 54.95 263.79 57.34 263.75 58.70C263.71 60.07 264.06 61.70 263.70 62.39C263.34 63.08 262.15 62.71 261.60 62.84C261.05 62.98 259.40 63.14 260.40 63.20C261.40 63.26 266.60 63.26 267.60 63.20Z" fill="#D98E1A"/>
<line x1="272.00" y1="63.20" x2="272.00" y2="56.20" stroke="#858585" stroke-width="0.55"/>
<line x1="280.00" y1="63.20" x2="280.00" y2="54.70" stroke="#858585" stroke-width="0.55"/>
<line x1="288.00" y1="63.20" x2="288.00" y2="55.70" stroke="#858585" stroke-width="0.55"/>
<line x1="296.00" y1="63.20" x2="296.00" y2="54.70" stroke="#858585" stroke-width="0.55"/>
<line x1="304.00" y1="63.20" x2="304.00" y2="55.20" stroke="#858585" stroke-width="0.55"/>
<line x1="312.00" y1="63.20" x2="312.00" y2="55.70" stroke="#858585" stroke-width="0.55"/>
<line x1="251.20" y1="81.40" x2="316.30" y2="81.40" stroke="#b5b5b5" stroke-width="0.7"/>
<line x1="251.20" y1="69.00" x2="251.20" y2="81.40" stroke="#b8b8b8" stroke-width="0.8"/>
<line x1="250.30" y1="80.80" x2="251.20" y2="80.80" stroke="#555" stroke-width="0.4"/>
<text x="249.90" y="81.40" font-size="1.6" text-anchor="end" fill="#444" stroke="#444" stroke-width="0.07">0</text>
<line x1="250.30" y1="77.40" x2="251.20" y2="77.40" stroke="#555" stroke-width="0.4"/>
<text x="249.90" y="78.00" font-size="1.6" text-anchor="end" fill="#444" stroke="#444" stroke-width="0.07">1</text>
<line x1="250.30" y1="74.00" x2="251.20" y2="74.00" stroke="#555" stroke-width="0.4"/>
<text x="249.90" y="74.60" font-size="1.6" text-anchor="end" fill="#444" stroke="#444" stroke-width="0.07">2</text>
<line x1="250.30" y1="70.60" x2="251.20" y2="70.60" stroke="#555" stroke-width="0.4"/>
<text x="249.90" y="71.20" font-size="1.6" text-anchor="end" fill="#444" stroke="#444" stroke-width="0.07">3</text>
<text transform="translate(245.50 75.00) rotate(-90) scale(0.93 1)" font-size="3.8" text-anchor="middle" stroke="#000" stroke-width="0.17">ITGA5</text>
<path d="M259.74 81.40C260.88 81.32 259.54 81.11 259.08 80.90C258.62 80.69 257.25 80.48 256.99 80.15C256.73 79.82 257.25 79.42 257.54 78.90C257.83 78.38 258.46 77.65 258.75 77.03C259.04 76.40 259.28 75.78 259.30 75.15C259.32 74.53 259.13 73.94 258.86 73.28C258.59 72.61 258.03 71.75 257.65 71.15C257.26 70.55 256.82 70.03 256.55 69.65C256.28 69.28 256.16 69.03 256.06 68.90C255.95 68.78 256.05 68.78 255.94 68.90C255.84 69.03 255.72 69.28 255.45 69.65C255.18 70.03 254.73 70.55 254.35 71.15C253.97 71.75 253.41 72.61 253.14 73.28C252.86 73.94 252.68 74.53 252.70 75.15C252.72 75.78 252.96 76.40 253.25 77.03C253.54 77.65 254.17 78.38 254.46 78.90C254.75 79.42 255.27 79.82 255.01 80.15C254.75 80.48 253.38 80.69 252.92 80.90C252.46 81.11 251.12 81.32 252.26 81.40C253.40 81.48 258.60 81.48 259.74 81.40Z" fill="#F8766D"/>
<line x1="264.00" y1="81.40" x2="264.00" y2="72.40" stroke="#858585" stroke-width="0.55"/>
<line x1="272.00" y1="81.40" x2="272.00" y2="73.90" stroke="#858585" stroke-width="0.55"/>
<line x1="280.00" y1="81.40" x2="280.00" y2="73.40" stroke="#858585" stroke-width="0.55"/>
<line x1="288.00" y1="81.40" x2="288.00" y2="73.40" stroke="#858585" stroke-width="0.55"/>
<line x1="296.00" y1="81.40" x2="296.00" y2="73.40" stroke="#858585" stroke-width="0.55"/>
<line x1="304.00" y1="81.40" x2="304.00" y2="72.90" stroke="#858585" stroke-width="0.55"/>
<line x1="312.00" y1="81.40" x2="312.00" y2="72.40" stroke="#858585" stroke-width="0.55"/>
<line x1="251.20" y1="99.40" x2="316.30" y2="99.40" stroke="#b5b5b5" stroke-width="0.7"/>
<line x1="251.20" y1="87.00" x2="251.20" y2="99.40" stroke="#b8b8b8" stroke-width="0.8"/>
<line x1="250.30" y1="98.80" x2="251.20" y2="98.80" stroke="#555" stroke-width="0.4"/>
<text x="249.90" y="99.40" font-size="1.6" text-anchor="end" fill="#444" stroke="#444" stroke-width="0.07">0</text>
<line x1="250.30" y1="95.40" x2="251.20" y2="95.40" stroke="#555" stroke-width="0.4"/>
<text x="249.90" y="96.00" font-size="1.6" text-anchor="end" fill="#444" stroke="#444" stroke-width="0.07">1</text>
<line x1="250.30" y1="92.00" x2="251.20" y2="92.00" stroke="#555" stroke-width="0.4"/>
<text x="249.90" y="92.60" font-size="1.6" text-anchor="end" fill="#444" stroke="#444" stroke-width="0.07">2</text>
<line x1="250.30" y1="88.60" x2="251.20" y2="88.60" stroke="#555" stroke-width="0.4"/>
<text x="249.90" y="89.20" font-size="1.6" text-anchor="end" fill="#444" stroke="#444" stroke-width="0.07">3</text>
<text transform="translate(245.50 93.00) rotate(-90) scale(0.93 1)" font-size="3.8" text-anchor="middle" stroke="#000" stroke-width="0.17">S100A4</text>
<path d="M259.40 99.40C260.40 99.32 259.05 99.09 258.60 98.91C258.15 98.72 256.98 98.83 256.70 98.29C256.42 97.76 256.93 96.76 256.95 95.71C256.97 94.66 256.89 93.25 256.80 92.02C256.71 90.79 256.52 89.15 256.40 88.33C256.27 87.51 256.12 87.31 256.05 87.10C255.98 86.90 256.02 86.90 255.95 87.10C255.88 87.31 255.72 87.51 255.60 88.33C255.47 89.15 255.29 90.79 255.20 92.02C255.11 93.25 255.03 94.66 255.05 95.71C255.07 96.76 255.58 97.76 255.30 98.29C255.03 98.83 253.85 98.72 253.40 98.91C252.95 99.09 251.60 99.32 252.60 99.40C253.60 99.48 258.40 99.48 259.40 99.40Z" fill="#F8766D"/>
<path d="M267.42 99.40C268.48 99.31 267.44 99.05 266.96 98.84C266.49 98.63 264.96 98.61 264.57 98.14C264.18 97.67 264.46 96.62 264.63 96.04C264.80 95.46 265.17 95.18 265.60 94.64C266.02 94.10 266.83 93.36 267.19 92.82C267.55 92.28 267.78 91.91 267.76 91.42C267.74 90.93 267.51 90.51 267.08 89.88C266.64 89.25 265.64 88.39 265.14 87.64C264.64 86.89 264.26 85.77 264.06 85.40C263.86 85.03 264.14 85.03 263.94 85.40C263.74 85.77 263.36 86.89 262.86 87.64C262.36 88.39 261.36 89.25 260.92 89.88C260.49 90.51 260.26 90.93 260.24 91.42C260.22 91.91 260.45 92.28 260.81 92.82C261.17 93.36 261.98 94.10 262.40 94.64C262.83 95.18 263.20 95.46 263.37 96.04C263.54 96.62 263.82 97.67 263.43 98.14C263.04 98.61 261.51 98.63 261.04 98.84C260.56 99.05 259.52 99.31 260.58 99.40C261.64 99.49 266.36 99.49 267.42 99.40Z" fill="#D98E1A"/>
<line x1="272.00" y1="99.40" x2="272.00" y2="90.40" stroke="#858585" stroke-width="0.55"/>
<line x1="280.00" y1="99.40" x2="280.00" y2="88.90" stroke="#858585" stroke-width="0.55"/>
<line x1="288.00" y1="99.40" x2="288.00" y2="89.40" stroke="#858585" stroke-width="0.55"/>
<line x1="296.00" y1="99.40" x2="296.00" y2="89.90" stroke="#858585" stroke-width="0.55"/>
<line x1="304.00" y1="99.40" x2="304.00" y2="90.90" stroke="#858585" stroke-width="0.55"/>
<line x1="312.00" y1="99.40" x2="312.00" y2="91.40" stroke="#858585" stroke-width="0.55"/>
<line x1="251.20" y1="116.80" x2="316.30" y2="116.80" stroke="#b5b5b5" stroke-width="0.7"/>
<line x1="251.20" y1="104.40" x2="251.20" y2="116.80" stroke="#b8b8b8" stroke-width="0.8"/>
<line x1="250.30" y1="116.20" x2="251.20" y2="116.20" stroke="#555" stroke-width="0.4"/>
<text x="249.90" y="116.80" font-size="1.6" text-anchor="end" fill="#444" stroke="#444" stroke-width="0.07">0</text>
<line x1="250.30" y1="112.80" x2="251.20" y2="112.80" stroke="#555" stroke-width="0.4"/>
<text x="249.90" y="113.40" font-size="1.6" text-anchor="end" fill="#444" stroke="#444" stroke-width="0.07">1</text>
<line x1="250.30" y1="109.40" x2="251.20" y2="109.40" stroke="#555" stroke-width="0.4"/>
<text x="249.90" y="110.00" font-size="1.6" text-anchor="end" fill="#444" stroke="#444" stroke-width="0.07">2</text>
<line x1="250.30" y1="106.00" x2="251.20" y2="106.00" stroke="#555" stroke-width="0.4"/>
<text x="249.90" y="106.60" font-size="1.6" text-anchor="end" fill="#444" stroke="#444" stroke-width="0.07">3</text>
<text transform="translate(245.50 110.40) rotate(-90) scale(0.93 1)" font-size="3.8" text-anchor="middle" stroke="#000" stroke-width="0.17">C1QA</text>
<line x1="256.00" y1="116.80" x2="256.00" y2="106.80" stroke="#e8837c" stroke-width="0.6"/>
<path d="M257.08 116.80C257.38 116.73 256.89 116.55 256.72 116.40C256.56 116.25 256.20 116.67 256.09 115.90C255.98 115.13 256.09 113.32 256.07 111.80C256.06 110.28 256.03 107.63 256.01 106.80C256.00 105.97 256.00 105.97 255.99 106.80C255.97 107.63 255.94 110.28 255.93 111.80C255.91 113.32 256.02 115.13 255.91 115.90C255.80 116.67 255.44 116.25 255.28 116.40C255.12 116.55 254.62 116.73 254.92 116.80C255.22 116.87 256.78 116.87 257.08 116.80Z" fill="#F8766D"/>
<path d="M267.74 116.80C268.84 116.72 267.39 116.51 266.86 116.30C266.33 116.09 264.88 116.09 264.55 115.55C264.22 115.01 264.73 113.88 264.88 113.05C265.03 112.22 265.43 111.38 265.43 110.55C265.43 109.72 265.06 108.88 264.88 108.05C264.70 107.22 264.47 106.17 264.33 105.55C264.19 104.92 264.12 104.51 264.06 104.30C263.99 104.09 264.01 104.09 263.94 104.30C263.88 104.51 263.81 104.92 263.67 105.55C263.53 106.17 263.30 107.22 263.12 108.05C262.94 108.88 262.57 109.72 262.57 110.55C262.57 111.38 262.97 112.22 263.12 113.05C263.27 113.88 263.78 115.01 263.45 115.55C263.12 116.09 261.67 116.09 261.14 116.30C260.61 116.51 259.16 116.72 260.26 116.80C261.36 116.88 266.64 116.88 267.74 116.80Z" fill="#D98E1A"/>
<line x1="272.00" y1="116.80" x2="272.00" y2="108.80" stroke="#858585" stroke-width="0.55"/>
<line x1="280.00" y1="116.80" x2="280.00" y2="107.30" stroke="#858585" stroke-width="0.55"/>
<line x1="288.00" y1="116.80" x2="288.00" y2="107.80" stroke="#858585" stroke-width="0.55"/>
<line x1="296.00" y1="116.80" x2="296.00" y2="107.80" stroke="#858585" stroke-width="0.55"/>
<line x1="304.00" y1="116.80" x2="304.00" y2="109.80" stroke="#858585" stroke-width="0.55"/>
<line x1="312.00" y1="116.80" x2="312.00" y2="106.80" stroke="#858585" stroke-width="0.55"/>
<text transform="translate(257.60 119.30) rotate(-90) scale(0.9 1)" font-size="4.4" text-anchor="end" stroke="#000" stroke-width="0.17">EVT-1</text>
<text transform="translate(265.60 119.30) rotate(-90) scale(0.9 1)" font-size="4.4" text-anchor="end" stroke="#000" stroke-width="0.17">EVT-2</text>
<text transform="translate(273.60 119.30) rotate(-90) scale(0.9 1)" font-size="4.4" text-anchor="end" stroke="#000" stroke-width="0.17">SCT</text>
<text transform="translate(281.60 119.30) rotate(-90) scale(0.9 1)" font-size="4.4" text-anchor="end" stroke="#000" stroke-width="0.17">VCT-1</text>
<text transform="translate(289.60 119.30) rotate(-90) scale(0.9 1)" font-size="4.4" text-anchor="end" stroke="#000" stroke-width="0.17">VCT-2</text>
<text transform="translate(297.60 119.30) rotate(-90) scale(0.9 1)" font-size="4.4" text-anchor="end" stroke="#000" stroke-width="0.17">VCT-3</text>
<text transform="translate(305.60 119.30) rotate(-90) scale(0.9 1)" font-size="4.4" text-anchor="end" stroke="#000" stroke-width="0.17">VCT-4</text>
<text transform="translate(313.60 119.30) rotate(-90) scale(0.9 1)" font-size="4.4" text-anchor="end" stroke="#000" stroke-width="0.17">VCT-5</text>
<line x1="340.40" y1="28.60" x2="407.80" y2="28.60" stroke="#b5b5b5" stroke-width="0.7"/>
<line x1="340.40" y1="16.20" x2="340.40" y2="28.60" stroke="#b8b8b8" stroke-width="0.8"/>
<line x1="339.50" y1="28.00" x2="340.40" y2="28.00" stroke="#555" stroke-width="0.4"/>
<text x="339.10" y="28.60" font-size="1.6" text-anchor="end" fill="#444" stroke="#444" stroke-width="0.07">0</text>
<line x1="339.50" y1="24.60" x2="340.40" y2="24.60" stroke="#555" stroke-width="0.4"/>
<text x="339.10" y="25.20" font-size="1.6" text-anchor="end" fill="#444" stroke="#444" stroke-width="0.07">1</text>
<line x1="339.50" y1="21.20" x2="340.40" y2="21.20" stroke="#555" stroke-width="0.4"/>
<text x="339.10" y="21.80" font-size="1.6" text-anchor="end" fill="#444" stroke="#444" stroke-width="0.07">2</text>
<line x1="339.50" y1="17.80" x2="340.40" y2="17.80" stroke="#555" stroke-width="0.4"/>
<text x="339.10" y="18.40" font-size="1.6" text-anchor="end" fill="#444" stroke="#444" stroke-width="0.07">3</text>
<text transform="translate(333.80 22.20) rotate(-90) scale(0.93 1)" font-size="3.8" text-anchor="middle" stroke="#000" stroke-width="0.17">PARP1</text>
<line x1="344.80" y1="28.60" x2="344.80" y2="17.60" stroke="#858585" stroke-width="0.55"/>
<line x1="353.06" y1="28.60" x2="353.06" y2="18.10" stroke="#858585" stroke-width="0.55"/>
<line x1="361.32" y1="28.60" x2="361.32" y2="19.10" stroke="#858585" stroke-width="0.55"/>
<path d="M373.38 28.60C374.55 28.52 373.21 28.31 372.78 28.14C372.35 27.97 371.06 27.87 370.78 27.57C370.50 27.26 370.96 26.74 371.08 26.30C371.20 25.86 371.51 25.40 371.48 24.92C371.45 24.44 371.03 23.96 370.88 23.43C370.73 22.89 370.68 22.28 370.58 21.70C370.48 21.13 370.39 20.55 370.28 19.98C370.17 19.40 370.04 18.73 369.93 18.25C369.82 17.77 369.70 17.29 369.63 17.10C369.56 16.91 369.60 16.91 369.53 17.10C369.46 17.29 369.34 17.77 369.23 18.25C369.12 18.73 368.99 19.40 368.88 19.98C368.77 20.55 368.68 21.13 368.58 21.70C368.48 22.28 368.43 22.89 368.28 23.43C368.13 23.96 367.71 24.44 367.68 24.92C367.65 25.40 367.96 25.86 368.08 26.30C368.20 26.74 368.66 27.26 368.38 27.57C368.10 27.87 366.81 27.97 366.38 28.14C365.95 28.31 364.61 28.52 365.78 28.60C366.95 28.68 372.21 28.68 373.38 28.60Z" fill="#00B871"/>
<path d="M381.83 28.60C383.06 28.53 381.66 28.34 381.20 28.18C380.75 28.02 379.40 27.94 379.10 27.66C378.80 27.38 379.29 26.90 379.42 26.50C379.54 26.10 379.87 25.68 379.84 25.24C379.80 24.80 379.36 24.37 379.21 23.88C379.05 23.38 379.00 22.82 378.89 22.30C378.79 21.78 378.69 21.25 378.58 20.73C378.46 20.20 378.32 19.59 378.21 19.15C378.09 18.71 377.96 18.28 377.89 18.10C377.82 17.93 377.86 17.93 377.79 18.10C377.72 18.28 377.59 18.71 377.47 19.15C377.36 19.59 377.22 20.20 377.11 20.73C376.99 21.25 376.90 21.78 376.79 22.30C376.69 22.82 376.63 23.38 376.48 23.88C376.32 24.37 375.88 24.80 375.85 25.24C375.81 25.68 376.14 26.10 376.27 26.50C376.39 26.90 376.88 27.38 376.58 27.66C376.28 27.94 374.94 28.02 374.48 28.18C374.03 28.34 372.62 28.53 373.85 28.60C375.08 28.67 380.61 28.67 381.83 28.60Z" fill="#00BDC2"/>
<path d="M389.90 28.60C391.07 28.53 389.73 28.34 389.30 28.18C388.87 28.02 387.58 27.94 387.30 27.66C387.02 27.38 387.48 26.90 387.60 26.50C387.72 26.10 388.03 25.68 388.00 25.24C387.97 24.80 387.55 24.37 387.40 23.88C387.25 23.38 387.20 22.82 387.10 22.30C387.00 21.78 386.91 21.25 386.80 20.73C386.69 20.20 386.56 19.59 386.45 19.15C386.34 18.71 386.22 18.28 386.15 18.10C386.08 17.93 386.12 17.93 386.05 18.10C385.98 18.28 385.86 18.71 385.75 19.15C385.64 19.59 385.51 20.20 385.40 20.73C385.29 21.25 385.20 21.78 385.10 22.30C385.00 22.82 384.95 23.38 384.80 23.88C384.65 24.37 384.23 24.80 384.20 25.24C384.17 25.68 384.48 26.10 384.60 26.50C384.72 26.90 385.18 27.38 384.90 27.66C384.62 27.94 383.33 28.02 382.90 28.18C382.47 28.34 381.13 28.53 382.30 28.60C383.47 28.67 388.73 28.67 389.90 28.60Z" fill="#1C96DC"/>
<path d="M396.92 28.60C397.69 28.51 396.73 28.30 396.44 28.08C396.15 27.86 395.24 27.86 395.16 27.30C395.08 26.74 395.71 25.57 395.96 24.70C396.21 23.83 396.63 22.86 396.68 22.10C396.73 21.34 396.55 20.91 396.28 20.15C396.01 19.39 395.39 18.31 395.08 17.55C394.77 16.79 394.53 15.93 394.40 15.60C394.27 15.28 394.45 15.28 394.32 15.60C394.19 15.93 393.95 16.79 393.64 17.55C393.33 18.31 392.71 19.39 392.44 20.15C392.17 20.91 391.99 21.34 392.04 22.10C392.09 22.86 392.51 23.83 392.76 24.70C393.01 25.57 393.64 26.74 393.56 27.30C393.48 27.86 392.57 27.86 392.28 28.08C391.99 28.30 391.03 28.51 391.80 28.60C392.57 28.69 396.15 28.69 396.92 28.60Z" fill="#9F6FCB"/>
<path d="M406.04 28.60C407.09 28.53 405.89 28.35 405.50 28.20C405.11 28.05 403.95 27.97 403.70 27.70C403.44 27.43 403.87 26.98 403.97 26.60C404.08 26.22 404.36 25.82 404.33 25.40C404.30 24.98 403.93 24.57 403.79 24.10C403.66 23.63 403.61 23.10 403.52 22.60C403.43 22.10 403.35 21.60 403.25 21.10C403.15 20.60 403.03 20.02 402.94 19.60C402.84 19.18 402.73 18.77 402.67 18.60C402.61 18.43 402.63 18.43 402.57 18.60C402.51 18.77 402.40 19.18 402.31 19.60C402.21 20.02 402.09 20.60 401.99 21.10C401.89 21.60 401.81 22.10 401.72 22.60C401.63 23.10 401.58 23.63 401.45 24.10C401.31 24.57 400.94 24.98 400.91 25.40C400.88 25.82 401.16 26.22 401.27 26.60C401.38 26.98 401.80 27.43 401.54 27.70C401.29 27.97 400.13 28.05 399.74 28.20C399.35 28.35 398.15 28.53 399.20 28.60C400.25 28.67 404.99 28.67 406.04 28.60Z" fill="#EF5BA8"/>
<line x1="340.40" y1="45.90" x2="407.80" y2="45.90" stroke="#b5b5b5" stroke-width="0.7"/>
<line x1="340.40" y1="33.50" x2="340.40" y2="45.90" stroke="#b8b8b8" stroke-width="0.8"/>
<line x1="339.50" y1="45.30" x2="340.40" y2="45.30" stroke="#555" stroke-width="0.4"/>
<text x="339.10" y="45.90" font-size="1.6" text-anchor="end" fill="#444" stroke="#444" stroke-width="0.07">0</text>
<line x1="339.50" y1="41.90" x2="340.40" y2="41.90" stroke="#555" stroke-width="0.4"/>
<text x="339.10" y="42.50" font-size="1.6" text-anchor="end" fill="#444" stroke="#444" stroke-width="0.07">1</text>
<line x1="339.50" y1="38.50" x2="340.40" y2="38.50" stroke="#555" stroke-width="0.4"/>
<text x="339.10" y="39.10" font-size="1.6" text-anchor="end" fill="#444" stroke="#444" stroke-width="0.07">2</text>
<line x1="339.50" y1="35.10" x2="340.40" y2="35.10" stroke="#555" stroke-width="0.4"/>
<text x="339.10" y="35.70" font-size="1.6" text-anchor="end" fill="#444" stroke="#444" stroke-width="0.07">3</text>
<text transform="translate(333.80 39.50) rotate(-90) scale(0.93 1)" font-size="3.8" text-anchor="middle" stroke="#000" stroke-width="0.17">LGALS13</text>
<line x1="344.80" y1="45.90" x2="344.80" y2="38.40" stroke="#858585" stroke-width="0.55"/>
<line x1="353.06" y1="45.90" x2="353.06" y2="38.90" stroke="#858585" stroke-width="0.55"/>
<path d="M365.23 45.90C366.38 45.82 364.83 45.61 364.31 45.44C363.79 45.27 362.44 45.36 362.12 44.87C361.81 44.37 362.39 43.43 362.41 42.45C362.43 41.47 362.35 40.15 362.24 39.00C362.13 37.85 361.92 36.32 361.78 35.55C361.64 34.78 361.46 34.59 361.38 34.40C361.29 34.21 361.35 34.21 361.26 34.40C361.18 34.59 361.00 34.78 360.86 35.55C360.72 36.32 360.51 37.85 360.40 39.00C360.29 40.15 360.21 41.47 360.23 42.45C360.25 43.43 360.83 44.37 360.51 44.87C360.20 45.36 358.85 45.27 358.33 45.44C357.81 45.61 356.26 45.82 357.41 45.90C358.56 45.98 364.08 45.98 365.23 45.90Z" fill="#4FAE2E"/>
<line x1="369.58" y1="45.90" x2="369.58" y2="38.90" stroke="#858585" stroke-width="0.55"/>
<line x1="377.84" y1="45.90" x2="377.84" y2="40.40" stroke="#858585" stroke-width="0.55"/>
<line x1="386.10" y1="45.90" x2="386.10" y2="37.90" stroke="#858585" stroke-width="0.55"/>
<line x1="394.36" y1="45.90" x2="394.36" y2="40.40" stroke="#858585" stroke-width="0.55"/>
<line x1="402.62" y1="45.90" x2="402.62" y2="32.90" stroke="#333" stroke-width="0.6"/>
<path d="M405.86 45.90C406.76 45.81 405.28 45.57 404.78 45.38C404.29 45.18 403.21 45.73 402.89 44.73C402.57 43.73 402.88 41.37 402.85 39.40C402.81 37.43 402.71 33.98 402.67 32.90C402.62 31.82 402.62 31.82 402.57 32.90C402.53 33.98 402.43 37.43 402.39 39.40C402.36 41.37 402.67 43.73 402.35 44.73C402.03 45.73 400.95 45.18 400.46 45.38C399.96 45.57 398.48 45.81 399.38 45.90C400.28 45.99 404.96 45.99 405.86 45.90Z" fill="#EF5BA8"/>
<line x1="340.40" y1="63.50" x2="407.80" y2="63.50" stroke="#b5b5b5" stroke-width="0.7"/>
<line x1="340.40" y1="51.10" x2="340.40" y2="63.50" stroke="#b8b8b8" stroke-width="0.8"/>
<line x1="339.50" y1="62.90" x2="340.40" y2="62.90" stroke="#555" stroke-width="0.4"/>
<text x="339.10" y="63.50" font-size="1.6" text-anchor="end" fill="#444" stroke="#444" stroke-width="0.07">0</text>
<line x1="339.50" y1="59.50" x2="340.40" y2="59.50" stroke="#555" stroke-width="0.4"/>
<text x="339.10" y="60.10" font-size="1.6" text-anchor="end" fill="#444" stroke="#444" stroke-width="0.07">1</text>
<line x1="339.50" y1="56.10" x2="340.40" y2="56.10" stroke="#555" stroke-width="0.4"/>
<text x="339.10" y="56.70" font-size="1.6" text-anchor="end" fill="#444" stroke="#444" stroke-width="0.07">2</text>
<line x1="339.50" y1="52.70" x2="340.40" y2="52.70" stroke="#555" stroke-width="0.4"/>
<text x="339.10" y="53.30" font-size="1.6" text-anchor="end" fill="#444" stroke="#444" stroke-width="0.07">3</text>
<text transform="translate(333.80 57.10) rotate(-90) scale(0.93 1)" font-size="3.8" text-anchor="middle" stroke="#000" stroke-width="0.17">CLIP1</text>
<line x1="344.80" y1="63.50" x2="344.80" y2="52.50" stroke="#858585" stroke-width="0.55"/>
<line x1="353.06" y1="63.50" x2="353.06" y2="52.00" stroke="#858585" stroke-width="0.55"/>
<line x1="361.32" y1="63.50" x2="361.32" y2="54.00" stroke="#858585" stroke-width="0.55"/>
<line x1="369.58" y1="63.50" x2="369.58" y2="54.50" stroke="#858585" stroke-width="0.55"/>
<line x1="377.84" y1="63.50" x2="377.84" y2="54.00" stroke="#858585" stroke-width="0.55"/>
<line x1="386.10" y1="63.50" x2="386.10" y2="55.00" stroke="#858585" stroke-width="0.55"/>
<line x1="394.36" y1="63.50" x2="394.36" y2="54.50" stroke="#858585" stroke-width="0.55"/>
<path d="M406.42 63.50C407.59 63.43 406.29 63.24 405.82 63.05C405.35 62.87 403.85 62.68 403.62 62.38C403.39 62.08 404.14 61.73 404.42 61.26C404.70 60.79 405.29 60.14 405.32 59.58C405.35 59.02 404.90 58.55 404.62 57.90C404.34 57.25 403.89 56.37 403.62 55.66C403.35 54.95 403.18 54.20 403.02 53.64C402.86 53.08 402.75 52.52 402.67 52.30C402.60 52.08 402.64 52.08 402.57 52.30C402.50 52.52 402.38 53.08 402.22 53.64C402.06 54.20 401.89 54.95 401.62 55.66C401.35 56.37 400.90 57.25 400.62 57.90C400.34 58.55 399.89 59.02 399.92 59.58C399.95 60.14 400.54 60.79 400.82 61.26C401.10 61.73 401.85 62.08 401.62 62.38C401.39 62.68 399.89 62.87 399.42 63.05C398.95 63.24 397.65 63.43 398.82 63.50C399.99 63.57 405.25 63.57 406.42 63.50Z" fill="#EF5BA8"/>
<line x1="340.40" y1="80.90" x2="407.80" y2="80.90" stroke="#b5b5b5" stroke-width="0.7"/>
<line x1="340.40" y1="68.50" x2="340.40" y2="80.90" stroke="#b8b8b8" stroke-width="0.8"/>
<line x1="339.50" y1="80.30" x2="340.40" y2="80.30" stroke="#555" stroke-width="0.4"/>
<text x="339.10" y="80.90" font-size="1.6" text-anchor="end" fill="#444" stroke="#444" stroke-width="0.07">0</text>
<line x1="339.50" y1="76.90" x2="340.40" y2="76.90" stroke="#555" stroke-width="0.4"/>
<text x="339.10" y="77.50" font-size="1.6" text-anchor="end" fill="#444" stroke="#444" stroke-width="0.07">1</text>
<line x1="339.50" y1="73.50" x2="340.40" y2="73.50" stroke="#555" stroke-width="0.4"/>
<text x="339.10" y="74.10" font-size="1.6" text-anchor="end" fill="#444" stroke="#444" stroke-width="0.07">2</text>
<line x1="339.50" y1="70.10" x2="340.40" y2="70.10" stroke="#555" stroke-width="0.4"/>
<text x="339.10" y="70.70" font-size="1.6" text-anchor="end" fill="#444" stroke="#444" stroke-width="0.07">3</text>
<text transform="translate(333.80 74.50) rotate(-90) scale(0.93 1)" font-size="3.8" text-anchor="middle" stroke="#000" stroke-width="0.17">NUSAP1</text>
<line x1="344.80" y1="80.90" x2="344.80" y2="71.40" stroke="#858585" stroke-width="0.55"/>
<line x1="353.06" y1="80.90" x2="353.06" y2="69.40" stroke="#858585" stroke-width="0.55"/>
<line x1="361.32" y1="80.90" x2="361.32" y2="69.90" stroke="#858585" stroke-width="0.55"/>
<line x1="369.58" y1="80.90" x2="369.58" y2="69.90" stroke="#858585" stroke-width="0.55"/>
<path d="M381.64 80.90C382.81 80.81 381.47 80.58 381.04 80.38C380.61 80.19 379.32 80.08 379.04 79.73C378.76 79.38 379.22 78.80 379.34 78.30C379.46 77.80 379.77 77.28 379.74 76.74C379.71 76.20 379.29 75.66 379.14 75.05C378.99 74.44 378.94 73.75 378.84 73.10C378.74 72.45 378.65 71.80 378.54 71.15C378.43 70.50 378.30 69.74 378.19 69.20C378.08 68.66 377.96 68.12 377.89 67.90C377.82 67.68 377.86 67.68 377.79 67.90C377.72 68.12 377.60 68.66 377.49 69.20C377.38 69.74 377.25 70.50 377.14 71.15C377.03 71.80 376.94 72.45 376.84 73.10C376.74 73.75 376.69 74.44 376.54 75.05C376.39 75.66 375.97 76.20 375.94 76.74C375.91 77.28 376.22 77.80 376.34 78.30C376.46 78.80 376.92 79.38 376.64 79.73C376.36 80.08 375.07 80.19 374.64 80.38C374.21 80.58 372.87 80.81 374.04 80.90C375.21 80.99 380.47 80.99 381.64 80.90Z" fill="#00BDC2"/>
<line x1="386.10" y1="80.90" x2="386.10" y2="70.40" stroke="#858585" stroke-width="0.55"/>
<line x1="394.36" y1="80.90" x2="394.36" y2="66.90" stroke="#858585" stroke-width="0.55"/>
<line x1="402.62" y1="80.90" x2="402.62" y2="69.90" stroke="#858585" stroke-width="0.55"/>
<line x1="340.40" y1="99.20" x2="407.80" y2="99.20" stroke="#b5b5b5" stroke-width="0.7"/>
<line x1="340.40" y1="86.80" x2="340.40" y2="99.20" stroke="#b8b8b8" stroke-width="0.8"/>
<line x1="339.50" y1="98.60" x2="340.40" y2="98.60" stroke="#555" stroke-width="0.4"/>
<text x="339.10" y="99.20" font-size="1.6" text-anchor="end" fill="#444" stroke="#444" stroke-width="0.07">0</text>
<line x1="339.50" y1="95.20" x2="340.40" y2="95.20" stroke="#555" stroke-width="0.4"/>
<text x="339.10" y="95.80" font-size="1.6" text-anchor="end" fill="#444" stroke="#444" stroke-width="0.07">1</text>
<line x1="339.50" y1="91.80" x2="340.40" y2="91.80" stroke="#555" stroke-width="0.4"/>
<text x="339.10" y="92.40" font-size="1.6" text-anchor="end" fill="#444" stroke="#444" stroke-width="0.07">2</text>
<line x1="339.50" y1="88.40" x2="340.40" y2="88.40" stroke="#555" stroke-width="0.4"/>
<text x="339.10" y="89.00" font-size="1.6" text-anchor="end" fill="#444" stroke="#444" stroke-width="0.07">3</text>
<text transform="translate(333.80 92.80) rotate(-90) scale(0.93 1)" font-size="3.8" text-anchor="middle" stroke="#000" stroke-width="0.17">HAPLN1</text>
<line x1="344.80" y1="99.20" x2="344.80" y2="86.20" stroke="#858585" stroke-width="0.55"/>
<line x1="353.06" y1="99.20" x2="353.06" y2="87.20" stroke="#858585" stroke-width="0.55"/>
<line x1="361.32" y1="99.20" x2="361.32" y2="89.20" stroke="#858585" stroke-width="0.55"/>
<line x1="369.58" y1="99.20" x2="369.58" y2="88.70" stroke="#858585" stroke-width="0.55"/>
<line x1="377.84" y1="99.20" x2="377.84" y2="89.70" stroke="#858585" stroke-width="0.55"/>
<path d="M389.71 99.20C390.82 99.12 389.55 98.89 389.14 98.70C388.73 98.51 387.51 98.41 387.24 98.08C386.97 97.74 387.41 97.18 387.53 96.70C387.64 96.22 387.94 95.72 387.91 95.20C387.87 94.68 387.48 94.16 387.34 93.58C387.19 92.99 387.14 92.33 387.05 91.70C386.96 91.08 386.87 90.45 386.77 89.83C386.66 89.20 386.54 88.47 386.43 87.95C386.33 87.43 386.21 86.91 386.15 86.70C386.08 86.49 386.12 86.49 386.05 86.70C385.99 86.91 385.87 87.43 385.77 87.95C385.66 88.47 385.54 89.20 385.44 89.83C385.33 90.45 385.25 91.08 385.15 91.70C385.06 92.33 385.01 92.99 384.87 93.58C384.72 94.16 384.33 94.68 384.30 95.20C384.26 95.72 384.56 96.22 384.68 96.70C384.79 97.18 385.23 97.74 384.96 98.08C384.69 98.41 383.47 98.51 383.06 98.70C382.65 98.89 381.38 99.12 382.49 99.20C383.60 99.28 388.60 99.28 389.71 99.20Z" fill="#1C96DC"/>
<line x1="394.36" y1="99.20" x2="394.36" y2="89.20" stroke="#858585" stroke-width="0.55"/>
<line x1="402.62" y1="99.20" x2="402.62" y2="87.20" stroke="#858585" stroke-width="0.55"/>
<line x1="340.40" y1="116.50" x2="407.80" y2="116.50" stroke="#b5b5b5" stroke-width="0.7"/>
<line x1="340.40" y1="104.10" x2="340.40" y2="116.50" stroke="#b8b8b8" stroke-width="0.8"/>
<line x1="339.50" y1="115.90" x2="340.40" y2="115.90" stroke="#555" stroke-width="0.4"/>
<text x="339.10" y="116.50" font-size="1.6" text-anchor="end" fill="#444" stroke="#444" stroke-width="0.07">0</text>
<line x1="339.50" y1="112.50" x2="340.40" y2="112.50" stroke="#555" stroke-width="0.4"/>
<text x="339.10" y="113.10" font-size="1.6" text-anchor="end" fill="#444" stroke="#444" stroke-width="0.07">1</text>
<line x1="339.50" y1="109.10" x2="340.40" y2="109.10" stroke="#555" stroke-width="0.4"/>
<text x="339.10" y="109.70" font-size="1.6" text-anchor="end" fill="#444" stroke="#444" stroke-width="0.07">2</text>
<line x1="339.50" y1="105.70" x2="340.40" y2="105.70" stroke="#555" stroke-width="0.4"/>
<text x="339.10" y="106.30" font-size="1.6" text-anchor="end" fill="#444" stroke="#444" stroke-width="0.07">3</text>
<text transform="translate(333.80 110.10) rotate(-90) scale(0.93 1)" font-size="3.8" text-anchor="middle" stroke="#000" stroke-width="0.17">SRSF1</text>
<line x1="344.80" y1="116.50" x2="344.80" y2="103.50" stroke="#858585" stroke-width="0.55"/>
<line x1="353.06" y1="116.50" x2="353.06" y2="106.00" stroke="#858585" stroke-width="0.55"/>
<line x1="361.32" y1="116.50" x2="361.32" y2="107.50" stroke="#858585" stroke-width="0.55"/>
<line x1="369.58" y1="116.50" x2="369.58" y2="106.00" stroke="#858585" stroke-width="0.55"/>
<line x1="377.84" y1="116.50" x2="377.84" y2="105.00" stroke="#858585" stroke-width="0.55"/>
<line x1="386.10" y1="116.50" x2="386.10" y2="106.50" stroke="#858585" stroke-width="0.55"/>
<path d="M397.59 116.50C398.58 116.42 397.45 116.20 397.08 116.02C396.71 115.84 395.62 115.74 395.38 115.42C395.14 115.10 395.54 114.56 395.63 114.10C395.73 113.64 396.00 113.16 395.98 112.66C395.95 112.16 395.59 111.66 395.47 111.10C395.34 110.54 395.30 109.90 395.21 109.30C395.13 108.70 395.05 108.10 394.96 107.50C394.86 106.90 394.75 106.20 394.66 105.70C394.57 105.20 394.46 104.70 394.40 104.50C394.35 104.30 394.37 104.30 394.32 104.50C394.26 104.70 394.15 105.20 394.06 105.70C393.97 106.20 393.86 106.90 393.76 107.50C393.67 108.10 393.59 108.70 393.51 109.30C393.43 109.90 393.38 110.54 393.25 111.10C393.13 111.66 392.77 112.16 392.75 112.66C392.72 113.16 392.99 113.64 393.09 114.10C393.18 114.56 393.58 115.10 393.34 115.42C393.10 115.74 392.01 115.84 391.64 116.02C391.27 116.20 390.14 116.42 391.13 116.50C392.12 116.58 396.60 116.58 397.59 116.50Z" fill="#9F6FCB"/>
<line x1="402.62" y1="116.50" x2="402.62" y2="106.50" stroke="#858585" stroke-width="0.55"/>
<text transform="translate(346.40 119.30) rotate(-90) scale(0.9 1)" font-size="4.4" text-anchor="end" stroke="#000" stroke-width="0.17">EVT-1</text>
<text transform="translate(354.66 119.30) rotate(-90) scale(0.9 1)" font-size="4.4" text-anchor="end" stroke="#000" stroke-width="0.17">EVT-2</text>
<text transform="translate(362.92 119.30) rotate(-90) scale(0.9 1)" font-size="4.4" text-anchor="end" stroke="#000" stroke-width="0.17">SCT</text>
<text transform="translate(371.18 119.30) rotate(-90) scale(0.9 1)" font-size="4.4" text-anchor="end" stroke="#000" stroke-width="0.17">VCT-1</text>
<text transform="translate(379.44 119.30) rotate(-90) scale(0.9 1)" font-size="4.4" text-anchor="end" stroke="#000" stroke-width="0.17">VCT-2</text>
<text transform="translate(387.70 119.30) rotate(-90) scale(0.9 1)" font-size="4.4" text-anchor="end" stroke="#000" stroke-width="0.17">VCT-3</text>
<text transform="translate(395.96 119.30) rotate(-90) scale(0.9 1)" font-size="4.4" text-anchor="end" stroke="#000" stroke-width="0.17">VCT-4</text>
<text transform="translate(404.22 119.30) rotate(-90) scale(0.9 1)" font-size="4.4" text-anchor="end" stroke="#000" stroke-width="0.17">VCT-5</text></g>
<g id="panelC"><text x="3.90" y="149.90" font-size="8.2" stroke="#000" stroke-width="0.27">C</text>
<defs><filter id="hn" x="0" y="0" width="1" height="1" color-interpolation-filters="sRGB"><feTurbulence type="fractalNoise" baseFrequency="0.7 1.3" numOctaves="2" seed="5" result="n"/><feColorMatrix in="n" type="matrix" values="0 0 0 0 0.98  0 0 0 0 0.97  0 0 0 0 0.97  2.3 0 0 0 -0.98" result="w"/><feComposite in="w" in2="SourceGraphic" operator="over"/></filter></defs>
<g filter="url(#hn)">
<rect x="19.20" y="168.70" width="104.20" height="90.50" fill="#faf8f8"/>
<path d="M41.7 169.00h6.3M60 176.20h6.6M54 179.20h6M41.7 179.80h6.3M54 180.40h6M93.5 182.80h7.7M84 194.20h9.5M84 194.80h9.5M101.2 196.00h5.2M93.5 200.80h7.7M106.4 238.60h5.4" stroke="#ea968a" stroke-width="0.65" fill="none"/>
<path d="M48 169.00h6M48 173.20h6M48 174.40h6M41.7 175.60h6.3M66.6 185.20h8.4M93.5 187.00h7.7M93.5 193.60h7.7M84 197.20h9.5M106.4 239.20h5.4M111.8 242.80h5.7M111.8 245.80h5.7M117.5 250.00h5.9M117.5 251.80h5.9" stroke="#ea7e72" stroke-width="0.65" fill="none"/>
<path d="M54 169.00h6M54 174.40h6M60 174.40h6.6M93.5 175.60h7.7M93.5 176.80h7.7M84 187.60h9.5M93.5 187.60h7.7M66.6 192.40h8.4M75 193.60h9M66.6 196.60h8.4M75 196.60h9M93.5 197.20h7.7M84 200.20h9.5M93.5 200.20h7.7M101.2 206.20h5.2M106.4 226.00h5.4M106.4 237.40h5.4M111.8 257.80h5.7M117.5 258.95h5.9" stroke="#e47266" stroke-width="0.65" fill="none"/>
<path d="M60 169.00h6.6M41.7 176.80h6.3M66.6 190.60h8.4M75 194.20h9M101.2 202.60h5.2M106.4 226.60h5.4M106.4 228.40h5.4M106.4 229.00h5.4M106.4 234.40h5.4M106.4 235.60h5.4M117.5 253.00h5.9M117.5 253.60h5.9M111.8 256.60h5.7" stroke="#ea8478" stroke-width="0.65" fill="none"/>
<path d="M93.5 169.00h7.7M93.5 171.40h7.7M60 175.00h6.6M75 185.20h9M84 193.60h9.5M66.6 197.20h8.4M111.8 245.20h5.7" stroke="#e4786c" stroke-width="0.65" fill="none"/>
<path d="M101.2 169.00h5.2M93.5 170.20h7.7M117.5 170.20h5.9M106.4 170.80h5.4M101.2 171.40h5.2M106.4 172.60h5.4M117.5 176.20h5.9M26 179.20h8M66.6 179.20h8.4M101.2 179.20h5.2M75 179.80h9M66.6 180.40h8.4M93.5 186.40h7.7M66.6 190.00h8.4M75 190.00h9M84 190.00h9.5M106.4 191.80h5.4M106.4 196.00h5.4M117.5 198.40h5.9M75 199.00h9M19.2 202.00h6.8M54 202.00h6M75 203.20h9M41.7 203.80h6.3M60 204.40h6.6M84 206.20h9.5M106.4 206.20h5.4M84 208.60h9.5M41.7 214.00h6.3M66.6 214.00h8.4M75 214.00h9M84 214.00h9.5M66.6 215.20h8.4M75 215.20h9M93.5 215.80h7.7M34 216.40h7.7M41.7 216.40h6.3M93.5 216.40h7.7M117.5 216.40h5.9M75 217.60h9M117.5 217.60h5.9M41.7 218.20h6.3M54 218.20h6M101.2 219.40h5.2M101.2 220.60h5.2M111.8 221.80h5.7M117.5 221.80h5.9M26 222.40h8M54 222.40h6M66.6 222.40h8.4M117.5 222.40h5.9M48 224.20h6M66.6 224.20h8.4M84 224.20h9.5M111.8 224.20h5.7M84 224.80h9.5M41.7 226.00h6.3M54 226.00h6M93.5 226.00h7.7M48 226.60h6M93.5 226.60h7.7M101.2 227.80h5.2M66.6 229.00h8.4M75 229.00h9M101.2 229.00h5.2M26 230.20h8M66.6 230.20h8.4M75 230.20h9M34 230.80h7.7M60 230.80h6.6M75 230.80h9M84 230.80h9.5M111.8 230.80h5.7M48 231.40h6M19.2 232.60h6.8M41.7 232.60h6.3M48 232.60h6M60 232.60h6.6M84 232.60h9.5M111.8 233.20h5.7M101.2 233.80h5.2M117.5 234.40h5.9M19.2 237.40h6.8M34 237.40h7.7M54 237.40h6M93.5 237.40h7.7M117.5 237.40h5.9M26 238.00h8M34 238.00h7.7M48 238.00h6M54 238.00h6M19.2 238.60h6.8M54 238.60h6M117.5 238.60h5.9M19.2 239.20h6.8M41.7 239.20h6.3M117.5 239.20h5.9M117.5 241.60h5.9M117.5 244.00h5.9M111.8 246.40h5.7M106.4 250.60h5.4M111.8 258.40h5.7" stroke="#f6ded8" stroke-width="0.65" fill="none"/>
<path d="M106.4 169.00h5.4M48 170.20h6M93.5 172.00h7.7M66.6 173.80h8.4M101.2 176.80h5.2M48 178.00h6M84 178.00h9.5M101.2 178.00h5.2M117.5 178.00h5.9M101.2 178.60h5.2M75 179.20h9M84 179.20h9.5M106.4 179.20h5.4M117.5 179.20h5.9M84 179.80h9.5M106.4 179.80h5.4M106.4 180.40h5.4M93.5 181.00h7.7M101.2 181.00h5.2M48 181.60h6M54 181.60h6M117.5 183.40h5.9M111.8 184.00h5.7M19.2 188.20h6.8M93.5 188.80h7.7M111.8 189.40h5.7M48 190.00h6M84 191.20h9.5M106.4 191.20h5.4M117.5 191.80h5.9M111.8 192.40h5.7M106.4 193.00h5.4M111.8 193.00h5.7M117.5 193.60h5.9M106.4 194.20h5.4M117.5 194.80h5.9M106.4 195.40h5.4M117.5 199.00h5.9M111.8 199.60h5.7M106.4 200.80h5.4M117.5 200.80h5.9M41.7 201.40h6.3M75 202.00h9M117.5 202.60h5.9M54 203.20h6M93.5 203.20h7.7M106.4 203.80h5.4M75 205.00h9M101.2 205.00h5.2M19.2 205.60h6.8M106.4 205.60h5.4M111.8 205.60h5.7M66.6 206.20h8.4M117.5 206.80h5.9M54 208.00h6M106.4 208.00h5.4M106.4 209.20h5.4M111.8 209.20h5.7M54 210.40h6M60 210.40h6.6M54 211.00h6M106.4 211.60h5.4M41.7 212.20h6.3M106.4 212.20h5.4M48 212.80h6M75 212.80h9M117.5 212.80h5.9M66.6 213.40h8.4M111.8 214.60h5.7M19.2 215.20h6.8M106.4 215.20h5.4M111.8 215.20h5.7M54 217.00h6M66.6 217.00h8.4M75 218.20h9M93.5 218.80h7.7M111.8 218.80h5.7M41.7 220.00h6.3M106.4 220.00h5.4M111.8 220.00h5.7M93.5 220.60h7.7M34 221.20h7.7M60 221.20h6.6M101.2 221.20h5.2M19.2 221.80h6.8M54 221.80h6M75 222.40h9M34 223.00h7.7M101.2 223.00h5.2M106.4 223.00h5.4M41.7 223.60h6.3M54 224.20h6M60 224.80h6.6M93.5 224.80h7.7M19.2 225.40h6.8M26 225.40h8M34 225.40h7.7M48 226.00h6M54 226.60h6M111.8 226.60h5.7M75 227.20h9M84 227.20h9.5M41.7 227.80h6.3M48 228.40h6M60 228.40h6.6M111.8 228.40h5.7M34 229.00h7.7M54 229.00h6M93.5 229.00h7.7M19.2 230.20h6.8M48 230.20h6M93.5 230.80h7.7M101.2 230.80h5.2M66.6 231.40h8.4M101.2 231.40h5.2M111.8 231.40h5.7M66.6 232.00h8.4M101.2 232.00h5.2M93.5 232.60h7.7M101.2 236.20h5.2M75 238.00h9M34 238.60h7.7M41.7 238.60h6.3M84 240.40h9.5M106.4 244.60h5.4M101.2 245.80h5.2M75 247.00h9M93.5 247.00h7.7M48 250.60h6M101.2 250.60h5.2M75 252.40h9M75 253.60h9M34 254.20h7.7M54 254.20h6M60 255.40h6.6M106.4 255.40h5.4M19.2 257.20h6.8M34 258.95h7.7" stroke="#f6eae4" stroke-width="0.65" fill="none"/>
<path d="M111.8 169.00h5.7M117.5 174.40h5.9M111.8 175.00h5.7M117.5 175.60h5.9" stroke="#f0bab4" stroke-width="0.65" fill="none"/>
<path d="M117.5 169.00h5.9M111.8 174.40h5.7M48 179.20h6M60 182.20h6.6M101.2 182.80h5.2M101.2 194.20h5.2" stroke="#f0b4a8" stroke-width="0.65" fill="none"/>
<path d="M41.7 169.60h6.3M41.7 170.80h6.3M111.8 171.40h5.7M93.5 176.20h7.7M101.2 185.20h5.2M106.4 230.20h5.4" stroke="#f0a29c" stroke-width="0.65" fill="none"/>
<path d="M48 169.60h6M60 179.80h6.6M60 180.40h6.6M66.6 182.80h8.4M75 189.40h9M93.5 199.60h7.7M101.2 200.20h5.2M106.4 231.40h5.4M106.4 235.00h5.4" stroke="#f09c90" stroke-width="0.65" fill="none"/>
<path d="M54 169.60h6M41.7 175.00h6.3M54 179.80h6M66.6 184.60h8.4M93.5 194.80h7.7M101.2 196.60h5.2M106.4 236.20h5.4M117.5 247.00h5.9M117.5 248.80h5.9M111.8 258.95h5.7" stroke="#f09690" stroke-width="0.65" fill="none"/>
<path d="M60 169.60h6.6M60 170.80h6.6M93.5 170.80h7.7M41.7 171.40h6.3M60 172.60h6.6M93.5 172.60h7.7M93.5 173.20h7.7M41.7 177.40h6.3M48 179.80h6M75 182.80h9M84 182.80h9.5M84 184.60h9.5M84 187.00h9.5M93.5 189.40h7.7M66.6 194.20h8.4M75 199.60h9M106.4 222.40h5.4M106.4 232.60h5.4M117.5 245.80h5.9" stroke="#ea9084" stroke-width="0.65" fill="none"/>
<path d="M93.5 169.60h7.7M111.8 173.20h5.7M48 176.20h6M93.5 179.80h7.7" stroke="#f0aea2" stroke-width="0.65" fill="none"/>
<path d="M101.2 169.60h5.2M106.4 169.60h5.4M41.7 172.00h6.3M54 172.00h6M60 173.80h6.6M84 173.80h9.5M101.2 174.40h5.2M101.2 177.40h5.2M54 178.00h6M111.8 178.00h5.7M106.4 178.60h5.4M106.4 181.00h5.4M66.6 181.60h8.4M106.4 181.60h5.4M117.5 182.20h5.9M106.4 182.80h5.4M111.8 185.20h5.7M106.4 185.80h5.4M117.5 186.40h5.9M106.4 187.60h5.4M106.4 188.20h5.4M117.5 188.20h5.9M106.4 189.40h5.4M106.4 190.00h5.4M117.5 190.00h5.9M111.8 190.60h5.7M75 191.20h9M117.5 191.20h5.9M106.4 197.20h5.4M111.8 197.20h5.7M26 197.80h8M101.2 199.00h5.2M117.5 200.20h5.9M26 201.40h8M93.5 201.40h7.7M111.8 201.40h5.7M34 202.00h7.7M84 202.00h9.5M111.8 202.00h5.7M75 202.60h9M34 203.20h7.7M117.5 203.20h5.9M75 203.80h9M84 203.80h9.5M19.2 204.40h6.8M48 204.40h6M75 204.40h9M26 205.00h8M41.7 205.00h6.3M66.6 205.00h8.4M106.4 205.00h5.4M111.8 205.00h5.7M41.7 205.60h6.3M48 205.60h6M60 205.60h6.6M93.5 205.60h7.7M101.2 205.60h5.2M48 206.20h6M26 206.80h8M34 206.80h7.7M60 206.80h6.6M106.4 206.80h5.4M48 207.40h6M60 207.40h6.6M93.5 207.40h7.7M117.5 207.40h5.9M60 208.00h6.6M111.8 208.00h5.7M41.7 208.60h6.3M48 208.60h6M48 209.20h6M41.7 209.80h6.3M48 209.80h6M54 209.80h6M93.5 209.80h7.7M111.8 209.80h5.7M117.5 209.80h5.9M75 210.40h9M111.8 210.40h5.7M117.5 210.40h5.9M34 211.00h7.7M48 211.00h6M75 211.00h9M93.5 211.00h7.7M117.5 211.00h5.9M34 211.60h7.7M41.7 211.60h6.3M54 211.60h6M60 211.60h6.6M34 212.20h7.7M84 212.20h9.5M111.8 212.20h5.7M34 212.80h7.7M54 212.80h6M84 212.80h9.5M111.8 212.80h5.7M26 213.40h8M34 213.40h7.7M41.7 213.40h6.3M75 213.40h9M26 214.60h8M34 214.60h7.7M41.7 214.60h6.3M54 214.60h6M54 215.20h6M117.5 215.20h5.9M41.7 215.80h6.3M60 215.80h6.6M75 215.80h9M84 215.80h9.5M75 216.40h9M111.8 216.40h5.7M48 217.60h6M93.5 217.60h7.7M60 218.20h6.6M84 218.20h9.5M93.5 218.20h7.7M41.7 218.80h6.3M54 218.80h6M60 218.80h6.6M84 219.40h9.5M106.4 219.40h5.4M111.8 219.40h5.7M26 220.00h8M60 220.00h6.6M19.2 220.60h6.8M26 220.60h8M41.7 220.60h6.3M60 220.60h6.6M66.6 220.60h8.4M106.4 220.60h5.4M26 221.20h8M48 221.20h6M54 221.20h6M66.6 221.20h8.4M75 221.20h9M93.5 221.20h7.7M41.7 221.80h6.3M48 221.80h6M60 221.80h6.6M93.5 222.40h7.7M111.8 222.40h5.7M54 223.00h6M93.5 223.00h7.7M19.2 223.60h6.8M26 223.60h8M34 223.60h7.7M60 223.60h6.6M66.6 223.60h8.4M84 223.60h9.5M93.5 223.60h7.7M106.4 223.60h5.4M111.8 223.60h5.7M26 224.20h8M60 224.20h6.6M101.2 224.20h5.2M19.2 224.80h6.8M54 224.80h6M75 224.80h9M54 225.40h6M60 225.40h6.6M66.6 225.40h8.4M93.5 225.40h7.7M19.2 226.00h6.8M60 226.00h6.6M66.6 226.60h8.4M19.2 227.20h6.8M41.7 227.20h6.3M66.6 227.20h8.4M93.5 227.20h7.7M19.2 227.80h6.8M54 227.80h6M66.6 227.80h8.4M19.2 228.40h6.8M54 228.40h6M84 228.40h9.5M41.7 229.00h6.3M34 229.60h7.7M117.5 229.60h5.9M93.5 230.20h7.7M93.5 231.40h7.7M75 232.00h9M66.6 232.60h8.4M101.2 236.80h5.2M75 238.60h9M26 239.20h8M93.5 239.20h7.7M54 241.00h6M34 242.20h7.7M75 242.20h9M106.4 243.40h5.4M111.8 244.00h5.7M75 245.80h9M106.4 245.80h5.4M19.2 248.80h6.8M106.4 248.80h5.4M75 249.40h9M48 250.00h6M106.4 250.00h5.4M106.4 251.20h5.4M54 252.40h6M84 252.40h9.5M26 253.60h8M84 254.20h9.5M101.2 256.60h5.2M34 257.20h7.7M106.4 257.20h5.4M34 257.80h7.7M84 258.95h9.5M101.2 258.95h5.2" stroke="#f6eaea" stroke-width="0.65" fill="none"/>
<path d="M111.8 169.60h5.7M117.5 169.60h5.9M117.5 170.80h5.9M106.4 171.40h5.4M117.5 172.60h5.9M34 179.80h7.7M106.4 184.60h5.4M117.5 185.20h5.9M111.8 195.40h5.7M111.8 196.60h5.7M106.4 199.60h5.4M111.8 200.20h5.7M111.8 203.20h5.7M106.4 211.00h5.4M41.7 224.20h6.3M48 224.80h6M111.8 224.80h5.7M117.5 230.20h5.9M26 230.80h8M117.5 233.20h5.9M111.8 233.80h5.7M117.5 233.80h5.9M111.8 234.40h5.7M26 237.40h8M41.7 238.00h6.3" stroke="#f6d2cc" stroke-width="0.65" fill="none"/>
<path d="M19.2 170.20h6.8M41.7 178.00h6.3M66.6 185.80h8.4M54 197.80h6M26 202.00h8M54 205.00h6M54 207.40h6M41.7 209.20h6.3M93.5 213.40h7.7M48 214.60h6M19.2 216.40h6.8M117.5 219.40h5.9M117.5 221.20h5.9M41.7 222.40h6.3M19.2 229.60h6.8M26 229.60h8M19.2 231.40h6.8M111.8 232.00h5.7M101.2 235.00h5.2M19.2 241.00h6.8M101.2 241.60h5.2M60 244.00h6.6M66.6 244.00h8.4M26 245.20h8M34 245.20h7.7M93.5 245.20h7.7M60 246.40h6.6M26 247.60h8M84 248.20h9.5M41.7 251.20h6.3M106.4 251.80h5.4M93.5 253.00h7.7M101.2 253.00h5.2M48 256.60h6M41.7 257.80h6.3M101.2 257.80h5.2M54 258.95h6" stroke="#fcf6f0" stroke-width="0.65" fill="none"/>
<path d="M26 170.20h8M75 170.20h9M101.2 170.20h5.2M101.2 172.00h5.2M93.5 173.80h7.7M34 178.60h7.7M84 178.60h9.5M41.7 181.00h6.3M34 181.60h7.7M41.7 181.60h6.3M117.5 181.60h5.9M54 185.80h6M93.5 185.80h7.7M117.5 185.80h5.9M19.2 186.40h6.8M26 188.20h8M54 190.00h6M26 191.20h8M60 191.20h6.6M66.6 191.20h8.4M93.5 191.20h7.7M101.2 191.20h5.2M41.7 197.80h6.3M75 201.40h9M48 205.00h6M19.2 206.20h6.8M34 206.20h7.7M66.6 209.20h8.4M19.2 210.40h6.8M34 210.40h7.7M48 210.40h6M66.6 210.40h8.4M101.2 211.60h5.2M19.2 212.20h6.8M101.2 213.40h5.2M75 214.60h9M26 215.20h8M26 215.80h8M66.6 215.80h8.4M19.2 217.00h6.8M26 217.00h8M34 218.20h7.7M19.2 218.80h6.8M66.6 220.00h8.4M75 220.60h9M84 221.80h9.5M117.5 223.60h5.9M111.8 225.40h5.7M117.5 225.40h5.9M41.7 229.60h6.3M66.6 229.60h8.4M93.5 229.60h7.7M19.2 232.00h6.8M34 232.00h7.7M41.7 232.00h6.3M48 232.00h6M106.4 232.00h5.4M117.5 232.00h5.9M101.2 234.40h5.2M54 236.80h6M60 236.80h6.6M75 236.80h9M106.4 236.80h5.4M117.5 236.80h5.9M26 239.80h8M54 239.80h6M60 239.80h6.6M75 239.80h9M101.2 239.80h5.2M34 240.40h7.7M48 240.40h6M54 240.40h6M60 240.40h6.6M66.6 240.40h8.4M101.2 240.40h5.2M41.7 241.00h6.3M75 241.00h9M101.2 241.00h5.2M54 241.60h6M60 241.60h6.6M75 241.60h9M84 241.60h9.5M93.5 241.60h7.7M19.2 242.20h6.8M26 242.20h8M48 242.20h6M54 242.20h6M19.2 242.80h6.8M26 242.80h8M34 242.80h7.7M41.7 242.80h6.3M48 242.80h6M75 242.80h9M84 242.80h9.5M19.2 243.40h6.8M41.7 243.40h6.3M48 243.40h6M75 243.40h9M26 244.00h8M34 244.00h7.7M48 244.00h6M54 244.00h6M75 244.00h9M84 244.00h9.5M93.5 244.00h7.7M101.2 244.00h5.2M26 244.60h8M34 244.60h7.7M48 244.60h6M54 244.60h6M60 244.60h6.6M66.6 244.60h8.4M75 244.60h9M84 244.60h9.5M101.2 244.60h5.2M19.2 245.20h6.8M54 245.20h6M66.6 245.20h8.4M41.7 245.80h6.3M54 245.80h6M60 245.80h6.6M93.5 245.80h7.7M34 246.40h7.7M48 246.40h6M75 246.40h9M93.5 246.40h7.7M101.2 246.40h5.2M19.2 247.00h6.8M26 247.00h8M41.7 247.00h6.3M48 247.00h6M54 247.00h6M60 247.00h6.6M66.6 247.00h8.4M84 247.00h9.5M101.2 247.00h5.2M19.2 247.60h6.8M34 247.60h7.7M48 247.60h6M54 247.60h6M101.2 247.60h5.2M26 248.20h8M48 248.20h6M75 248.20h9M93.5 248.20h7.7M117.5 248.20h5.9M34 248.80h7.7M41.7 248.80h6.3M93.5 248.80h7.7M101.2 248.80h5.2M26 249.40h8M41.7 249.40h6.3M66.6 249.40h8.4M101.2 249.40h5.2M26 250.00h8M34 250.00h7.7M54 250.00h6M101.2 250.00h5.2M41.7 250.60h6.3M75 250.60h9M19.2 251.20h6.8M34 251.20h7.7M54 251.20h6M66.6 251.20h8.4M84 251.20h9.5M93.5 251.20h7.7M101.2 251.20h5.2M26 251.80h8M34 251.80h7.7M54 251.80h6M60 251.80h6.6M66.6 251.80h8.4M84 251.80h9.5M41.7 252.40h6.3M60 252.40h6.6M26 253.00h8M34 253.00h7.7M48 253.00h6M54 253.00h6M60 253.00h6.6M66.6 253.00h8.4M19.2 253.60h6.8M41.7 253.60h6.3M19.2 254.20h6.8M26 254.20h8M66.6 254.20h8.4M101.2 254.20h5.2M34 254.80h7.7M41.7 254.80h6.3M48 254.80h6M60 254.80h6.6M66.6 254.80h8.4M75 254.80h9M19.2 255.40h6.8M26 255.40h8M54 255.40h6M41.7 256.00h6.3M48 256.00h6M54 256.00h6M66.6 256.00h8.4M75 256.00h9M34 256.60h7.7M41.7 256.60h6.3M54 256.60h6M60 256.60h6.6M66.6 256.60h8.4M75 256.60h9M84 256.60h9.5M75 257.20h9M84 257.20h9.5M101.2 257.20h5.2M66.6 257.80h8.4M75 257.80h9M19.2 258.40h6.8M26 258.40h8M34 258.40h7.7M54 258.40h6M75 258.40h9M84 258.40h9.5M93.5 258.40h7.7M101.2 258.40h5.2M41.7 258.95h6.3M66.6 258.95h8.4" stroke="#fcf6f6" stroke-width="0.65" fill="none"/>
<path d="M41.7 170.20h6.3M66.6 170.20h8.4M26 172.00h8M48 172.00h6M101.2 172.60h5.2M106.4 173.20h5.4M106.4 174.40h5.4M106.4 175.00h5.4M101.2 175.60h5.2M106.4 175.60h5.4M106.4 176.20h5.4M106.4 178.00h5.4M66.6 178.60h8.4M66.6 179.80h8.4M48 181.00h6M111.8 181.00h5.7M66.6 182.20h8.4M101.2 182.20h5.2M117.5 184.00h5.9M106.4 185.20h5.4M106.4 186.40h5.4M111.8 187.60h5.7M93.5 188.20h7.7M101.2 188.20h5.2M111.8 188.20h5.7M84 188.80h9.5M111.8 188.80h5.7M111.8 190.00h5.7M106.4 190.60h5.4M111.8 191.20h5.7M111.8 193.60h5.7M111.8 194.20h5.7M117.5 194.20h5.9M117.5 196.60h5.9M117.5 197.20h5.9M84 197.80h9.5M93.5 197.80h7.7M106.4 197.80h5.4M106.4 198.40h5.4M111.8 198.40h5.7M19.2 199.00h6.8M41.7 199.00h6.3M54 199.00h6M106.4 202.00h5.4M26 202.60h8M41.7 203.20h6.3M106.4 203.20h5.4M26 203.80h8M48 203.80h6M54 204.40h6M111.8 204.40h5.7M117.5 204.40h5.9M41.7 206.20h6.3M93.5 206.20h7.7M101.2 206.80h5.2M41.7 208.00h6.3M93.5 208.00h7.7M60 208.60h6.6M93.5 210.40h7.7M106.4 210.40h5.4M111.8 211.00h5.7M101.2 212.20h5.2M106.4 213.40h5.4M106.4 214.00h5.4M106.4 214.60h5.4M41.7 215.20h6.3M93.5 215.20h7.7M48 215.80h6M106.4 215.80h5.4M66.6 216.40h8.4M106.4 216.40h5.4M54 217.60h6M19.2 218.20h6.8M48 218.20h6M48 218.80h6M75 218.80h9M34 220.00h7.7M111.8 220.60h5.7M41.7 221.20h6.3M19.2 223.00h6.8M48 223.00h6M101.2 223.60h5.2M117.5 224.20h5.9M34 224.80h7.7M41.7 224.80h6.3M66.6 224.80h8.4M48 225.40h6M101.2 225.40h5.2M75 226.00h9M101.2 226.00h5.2M41.7 226.60h6.3M60 226.60h6.6M54 227.20h6M75 227.80h9M26 229.00h8M101.2 229.60h5.2M41.7 230.20h6.3M101.2 230.20h5.2M60 231.40h6.6M26 232.60h8M34 232.60h7.7M117.5 236.20h5.9M93.5 238.60h7.7M75 240.40h9M41.7 242.20h6.3M117.5 244.60h5.9M60 245.20h6.6M75 245.20h9M19.2 249.40h6.8M48 249.40h6M54 249.40h6M26 250.60h8M19.2 252.40h6.8M106.4 253.00h5.4M75 254.20h9M106.4 254.20h5.4M54 254.80h6M26 257.20h8M19.2 257.80h6.8M54 257.80h6M117.5 258.40h5.9" stroke="#f6e4e4" stroke-width="0.65" fill="none"/>
<path d="M54 170.20h6M111.8 176.20h5.7M19.2 180.40h6.8M101.2 184.60h5.2M93.5 199.00h7.7M101.2 221.80h5.2M41.7 228.40h6.3M19.2 238.00h6.8M111.8 239.80h5.7" stroke="#f6ccc6" stroke-width="0.65" fill="none"/>
<path d="M60 170.20h6.6M101.2 173.20h5.2M60 178.00h6.6M19.2 179.20h6.8M111.8 179.20h5.7M101.2 179.80h5.2M111.8 179.80h5.7M117.5 179.80h5.9M111.8 180.40h5.7M19.2 182.20h6.8M26 182.20h8M75 182.20h9M111.8 184.60h5.7M84 186.40h9.5M111.8 187.00h5.7M66.6 188.20h8.4M84 188.20h9.5M93.5 190.00h7.7M106.4 192.40h5.4M111.8 194.80h5.7M106.4 196.60h5.4M66.6 197.80h8.4M66.6 199.00h8.4M111.8 200.80h5.7M101.2 201.40h5.2M93.5 202.00h7.7M60 202.60h6.6M111.8 203.80h5.7M106.4 204.40h5.4M101.2 207.40h5.2M111.8 208.60h5.7M41.7 211.00h6.3M111.8 214.00h5.7M19.2 215.80h6.8M84 217.00h9.5M106.4 218.20h5.4M101.2 222.40h5.2M19.2 224.20h6.8M117.5 224.80h5.9M26 227.20h8M111.8 227.20h5.7M60 227.80h6.6M111.8 227.80h5.7M66.6 228.40h8.4M75 228.40h9M84 229.00h9.5M117.5 229.00h5.9M106.4 229.60h5.4M34 230.20h7.7M41.7 230.80h6.3M54 230.80h6M101.2 232.60h5.2M111.8 235.60h5.7M111.8 236.20h5.7M60 238.00h6.6M93.5 238.00h7.7M84 238.60h9.5M117.5 246.40h5.9M106.4 253.60h5.4" stroke="#f6d8d2" stroke-width="0.65" fill="none"/>
<path d="M106.4 170.20h5.4M111.8 170.20h5.7M101.2 170.80h5.2M84 172.00h9.5M106.4 172.00h5.4M117.5 172.00h5.9M106.4 176.80h5.4M106.4 177.40h5.4M75 180.40h9M84 180.40h9.5M101.2 180.40h5.2M117.5 180.40h5.9M84 182.20h9.5M106.4 182.20h5.4M111.8 182.80h5.7M106.4 183.40h5.4M111.8 183.40h5.7M106.4 184.00h5.4M19.2 185.80h6.8M34 185.80h7.7M111.8 185.80h5.7M54 186.40h6M111.8 186.40h5.7M117.5 187.60h5.9M75 188.80h9M101.2 188.80h5.2M106.4 188.80h5.4M111.8 191.80h5.7M117.5 192.40h5.9M106.4 193.60h5.4M111.8 196.00h5.7M117.5 196.00h5.9M111.8 197.80h5.7M106.4 199.00h5.4M111.8 199.00h5.7M106.4 200.20h5.4M106.4 201.40h5.4M54 202.60h6M84 202.60h9.5M106.4 202.60h5.4M19.2 203.20h6.8M26 203.20h8M48 203.20h6M19.2 203.80h6.8M34 203.80h7.7M66.6 203.80h8.4M34 204.40h7.7M111.8 206.20h5.7M101.2 208.00h5.2M75 208.60h9M106.4 208.60h5.4M117.5 208.60h5.9M101.2 209.20h5.2M106.4 209.80h5.4M60 211.00h6.6M106.4 212.80h5.4M26 214.00h8M48 214.00h6M101.2 214.60h5.2M48 215.20h6M34 215.80h7.7M111.8 215.80h5.7M60 216.40h6.6M84 216.40h9.5M75 217.00h9M106.4 217.60h5.4M66.6 218.20h8.4M106.4 218.80h5.4M93.5 220.00h7.7M60 222.40h6.6M75 224.20h9M84 225.40h9.5M111.8 226.00h5.7M117.5 226.00h5.9M19.2 226.60h6.8M34 227.20h7.7M101.2 227.20h5.2M101.2 228.40h5.2M117.5 228.40h5.9M48 229.00h6M60 229.00h6.6M111.8 229.00h5.7M54 229.60h6M60 230.20h6.6M84 230.20h9.5M111.8 230.20h5.7M19.2 230.80h6.8M66.6 230.80h8.4M117.5 230.80h5.9M41.7 231.40h6.3M117.5 231.40h5.9M54 232.60h6M75 232.60h9M117.5 235.00h5.9M117.5 235.60h5.9M41.7 237.40h6.3M48 237.40h6M66.6 237.40h8.4M75 237.40h9M84 237.40h9.5M66.6 238.00h8.4M84 238.00h9.5M26 238.60h8M66.6 238.60h8.4M34 239.20h7.7M54 239.20h6M60 239.20h6.6M66.6 239.20h8.4M75 239.20h9M48 241.00h6M93.5 241.00h7.7M106.4 241.00h5.4M111.8 241.60h5.7M111.8 243.40h5.7M60 250.00h6.6M60 250.60h6.6M117.5 251.20h5.9M84 257.80h9.5M106.4 258.95h5.4" stroke="#f6e4de" stroke-width="0.65" fill="none"/>
<path d="M48 170.80h6M54 170.80h6M48 180.40h6M93.5 180.40h7.7M93.5 184.60h7.7M101.2 193.00h5.2M117.5 256.60h5.9" stroke="#f09c96" stroke-width="0.65" fill="none"/>
<path d="M111.8 170.80h5.7M41.7 179.20h6.3M34 180.40h7.7M101.2 187.00h5.2M101.2 187.60h5.2" stroke="#f0aea8" stroke-width="0.65" fill="none"/>
<path d="M48 171.40h6M54 171.40h6M84 183.40h9.5M93.5 191.80h7.7M84 192.40h9.5M84 196.60h9.5M101.2 217.00h5.2M101.2 220.00h5.2M117.5 250.60h5.9M117.5 252.40h5.9" stroke="#d8544e" stroke-width="0.65" fill="none"/>
<path d="M60 171.40h6.6M60 173.20h6.6M84 185.20h9.5M84 190.60h9.5M66.6 193.00h8.4M66.6 195.40h8.4M84 196.00h9.5M93.5 196.60h7.7M101.2 214.00h5.2M106.4 227.80h5.4M106.4 230.80h5.4M106.4 233.80h5.4" stroke="#de605a" stroke-width="0.65" fill="none"/>
<path d="M117.5 171.40h5.9M111.8 172.60h5.7M117.5 173.20h5.9M117.5 175.00h5.9M41.7 176.20h6.3M60 179.20h6.6M48 182.20h6M101.2 194.80h5.2M84 199.00h9.5M101.2 199.60h5.2M111.8 237.40h5.7M111.8 238.00h5.7M117.5 238.00h5.9M111.8 239.20h5.7" stroke="#f6c0ba" stroke-width="0.65" fill="none"/>
<path d="M60 172.00h6.6M101.2 173.80h5.2M48 178.60h6M93.5 178.60h7.7M75 185.80h9M117.5 226.60h5.9M84 236.80h9.5M19.2 239.80h6.8M41.7 239.80h6.3M66.6 239.80h8.4M93.5 239.80h7.7M26 241.60h8M34 241.60h7.7M41.7 241.60h6.3M48 241.60h6M66.6 241.60h8.4M66.6 242.20h8.4M101.2 242.20h5.2M54 242.80h6M93.5 242.80h7.7M101.2 242.80h5.2M26 243.40h8M54 243.40h6M66.6 243.40h8.4M84 243.40h9.5M101.2 243.40h5.2M41.7 244.00h6.3M19.2 244.60h6.8M93.5 244.60h7.7M41.7 245.20h6.3M34 245.80h7.7M48 245.80h6M66.6 245.80h8.4M19.2 246.40h6.8M26 246.40h8M66.6 246.40h8.4M84 246.40h9.5M34 247.00h7.7M41.7 247.60h6.3M60 247.60h6.6M66.6 247.60h8.4M75 247.60h9M93.5 247.60h7.7M19.2 248.20h6.8M41.7 248.20h6.3M54 248.20h6M60 248.20h6.6M66.6 248.20h8.4M101.2 248.20h5.2M54 248.80h6M60 248.80h6.6M84 248.80h9.5M19.2 250.00h6.8M41.7 250.00h6.3M75 250.00h9M84 250.00h9.5M93.5 250.00h7.7M34 250.60h7.7M93.5 250.60h7.7M26 251.20h8M19.2 251.80h6.8M41.7 251.80h6.3M48 251.80h6M34 252.40h7.7M48 252.40h6M75 253.00h9M34 253.60h7.7M54 253.60h6M60 253.60h6.6M84 253.60h9.5M41.7 254.20h6.3M60 254.20h6.6M93.5 254.20h7.7M19.2 254.80h6.8M26 254.80h8M84 254.80h9.5M93.5 254.80h7.7M101.2 254.80h5.2M41.7 255.40h6.3M48 255.40h6M66.6 255.40h8.4M93.5 255.40h7.7M101.2 255.40h5.2M19.2 256.00h6.8M60 256.00h6.6M84 256.00h9.5M93.5 256.00h7.7M101.2 256.00h5.2M19.2 256.60h6.8M26 256.60h8M93.5 256.60h7.7M41.7 257.20h6.3M54 257.20h6M41.7 258.40h6.3M48 258.40h6M66.6 258.40h8.4M26 258.95h8M60 258.95h6.6M75 258.95h9" stroke="#f6f6f6" stroke-width="0.65" fill="none"/>
<path d="M111.8 172.00h5.7M117.5 173.80h5.9M101.2 175.00h5.2M66.6 178.00h8.4M19.2 178.60h6.8M26 178.60h8M75 178.60h9M26 181.00h8M60 181.00h6.6M75 181.00h9M117.5 181.00h5.9M19.2 181.60h6.8M26 181.60h8M84 181.60h9.5M93.5 181.60h7.7M117.5 182.80h5.9M60 185.80h6.6M34 186.40h7.7M101.2 186.40h5.2M117.5 187.00h5.9M54 188.20h6M117.5 189.40h5.9M41.7 190.00h6.3M60 190.00h6.6M117.5 190.60h5.9M117.5 195.40h5.9M48 197.80h6M117.5 197.80h5.9M19.2 201.40h6.8M34 201.40h7.7M48 201.40h6M60 201.40h6.6M66.6 201.40h8.4M84 201.40h9.5M117.5 201.40h5.9M34 202.60h7.7M66.6 202.60h8.4M84 203.20h9.5M54 203.80h6M60 203.80h6.6M93.5 203.80h7.7M117.5 203.80h5.9M26 204.40h8M19.2 205.00h6.8M60 205.00h6.6M84 205.00h9.5M93.5 205.00h7.7M117.5 205.00h5.9M26 205.60h8M34 205.60h7.7M54 205.60h6M26 206.20h8M54 206.20h6M60 206.20h6.6M75 206.20h9M19.2 206.80h6.8M75 206.80h9M111.8 206.80h5.7M19.2 207.40h6.8M26 207.40h8M34 207.40h7.7M41.7 207.40h6.3M75 207.40h9M84 207.40h9.5M111.8 207.40h5.7M19.2 208.00h6.8M26 208.00h8M34 208.00h7.7M48 208.00h6M66.6 208.00h8.4M84 208.00h9.5M19.2 208.60h6.8M34 208.60h7.7M66.6 208.60h8.4M34 209.20h7.7M54 209.20h6M75 209.20h9M84 209.20h9.5M19.2 209.80h6.8M26 209.80h8M34 209.80h7.7M66.6 209.80h8.4M26 211.00h8M19.2 211.60h6.8M26 211.60h8M48 211.60h6M84 211.60h9.5M111.8 211.60h5.7M117.5 211.60h5.9M26 212.20h8M48 212.20h6M54 212.20h6M60 212.20h6.6M66.6 212.20h8.4M75 212.20h9M93.5 212.20h7.7M117.5 212.20h5.9M19.2 212.80h6.8M41.7 212.80h6.3M60 212.80h6.6M66.6 212.80h8.4M93.5 212.80h7.7M19.2 213.40h6.8M54 213.40h6M84 213.40h9.5M117.5 213.40h5.9M34 214.00h7.7M60 214.00h6.6M117.5 214.00h5.9M19.2 214.60h6.8M60 214.60h6.6M93.5 214.60h7.7M117.5 214.60h5.9M84 215.20h9.5M54 215.80h6M117.5 215.80h5.9M26 216.40h8M48 216.40h6M54 216.40h6M60 217.00h6.6M111.8 217.00h5.7M19.2 217.60h6.8M26 217.60h8M34 217.60h7.7M66.6 217.60h8.4M26 218.20h8M111.8 218.20h5.7M117.5 218.20h5.9M26 218.80h8M34 218.80h7.7M66.6 218.80h8.4M19.2 219.40h6.8M26 219.40h8M34 219.40h7.7M41.7 219.40h6.3M54 219.40h6M60 219.40h6.6M66.6 219.40h8.4M75 219.40h9M93.5 219.40h7.7M19.2 220.00h6.8M48 220.00h6M54 220.00h6M75 220.00h9M84 220.00h9.5M117.5 220.00h5.9M34 220.60h7.7M48 220.60h6M54 220.60h6M84 220.60h9.5M19.2 221.20h6.8M84 221.20h9.5M26 221.80h8M34 221.80h7.7M41.7 223.00h6.3M60 223.00h6.6M66.6 223.00h8.4M75 223.00h9M84 223.00h9.5M111.8 223.00h5.7M48 223.60h6M54 223.60h6M75 223.60h9M34 224.20h7.7M26 224.80h8M106.4 225.40h5.4M26 226.00h8M84 226.00h9.5M34 226.60h7.7M75 226.60h9M34 227.80h7.7M26 228.40h8M34 228.40h7.7M93.5 228.40h7.7M48 229.60h6M75 229.60h9M84 229.60h9.5M111.8 229.60h5.7M26 232.00h8M60 232.00h6.6M84 232.00h9.5M101.2 233.20h5.2M101.2 235.60h5.2M41.7 236.80h6.3M48 236.80h6M93.5 236.80h7.7M111.8 236.80h5.7M101.2 237.40h5.2M101.2 238.00h5.2M101.2 238.60h5.2M48 239.20h6M48 239.80h6M84 239.80h9.5M106.4 239.80h5.4M117.5 239.80h5.9M19.2 240.40h6.8M93.5 240.40h7.7M106.4 240.40h5.4M34 241.00h7.7M60 241.00h6.6M84 242.20h9.5M93.5 242.20h7.7M66.6 242.80h8.4M60 243.40h6.6M106.4 244.00h5.4M41.7 244.60h6.3M111.8 244.60h5.7M48 245.20h6M101.2 245.20h5.2M19.2 245.80h6.8M26 245.80h8M84 247.60h9.5M106.4 247.60h5.4M111.8 247.60h5.7M106.4 248.20h5.4M111.8 248.20h5.7M66.6 248.80h8.4M34 249.40h7.7M60 249.40h6.6M84 249.40h9.5M93.5 249.40h7.7M19.2 250.60h6.8M54 250.60h6M66.6 250.60h8.4M60 251.20h6.6M101.2 251.80h5.2M93.5 252.40h7.7M106.4 252.40h5.4M84 253.00h9.5M93.5 253.60h7.7M48 254.20h6M34 255.40h7.7M75 255.40h9M34 256.00h7.7M106.4 256.00h5.4M106.4 256.60h5.4M60 257.20h6.6M26 257.80h8M48 257.80h6M93.5 257.80h7.7M106.4 258.40h5.4M19.2 258.95h6.8" stroke="#fcf0f0" stroke-width="0.65" fill="none"/>
<path d="M41.7 172.60h6.3M111.8 175.60h5.7M66.6 189.40h8.4M101.2 190.60h5.2M101.2 191.80h5.2M101.2 192.40h5.2" stroke="#f0a296" stroke-width="0.65" fill="none"/>
<path d="M48 172.60h6M101.2 183.40h5.2M101.2 193.60h5.2M75 194.80h9" stroke="#f0a8a2" stroke-width="0.65" fill="none"/>
<path d="M54 172.60h6M66.6 193.60h8.4M66.6 194.80h8.4" stroke="#f0968a" stroke-width="0.65" fill="none"/>
<path d="M41.7 173.20h6.3M41.7 174.40h6.3M84 184.00h9.5M75 184.60h9M66.6 187.00h8.4M75 187.00h9M93.5 194.20h7.7M75 197.20h9M66.6 199.60h8.4M84 199.60h9.5M75 200.80h9M84 200.80h9.5M111.8 248.80h5.7M111.8 251.80h5.7M117.5 256.00h5.9" stroke="#ea8a7e" stroke-width="0.65" fill="none"/>
<path d="M54 173.20h6M54 175.60h6M48 176.80h6M60 176.80h6.6M54 177.40h6M75 184.00h9M84 195.40h9.5" stroke="#de6660" stroke-width="0.65" fill="none"/>
<path d="M48 173.80h6M111.8 181.60h5.7M84 185.80h9.5M54 232.00h6M93.5 232.00h7.7M41.7 233.20h6.3M93.5 233.20h7.7M60 234.40h6.6M60 236.20h6.6M41.7 240.40h6.3M26 241.00h8M66.6 241.00h8.4M19.2 241.60h6.8M60 242.20h6.6M34 243.40h7.7M84 245.20h9.5M54 246.40h6M26 248.80h8M84 250.60h9.5M66.6 257.20h8.4M60 258.40h6.6" stroke="#f0f6f6" stroke-width="0.65" fill="none"/>
<path d="M54 173.80h6M106.4 173.80h5.4M93.5 178.00h7.7M34 181.00h7.7M60 181.60h6.6M117.5 184.60h5.9M26 185.80h8M101.2 185.80h5.2M101.2 190.00h5.2M117.5 193.00h5.9M106.4 194.80h5.4M34 197.80h7.7M34 199.00h7.7M54 201.40h6M117.5 202.00h5.9M19.2 202.60h6.8M41.7 202.60h6.3M93.5 202.60h7.7M111.8 202.60h5.7M41.7 204.40h6.3M84 204.40h9.5M34 205.00h7.7M66.6 205.60h8.4M75 205.60h9M117.5 205.60h5.9M117.5 206.20h5.9M41.7 206.80h6.3M48 206.80h6M54 206.80h6M66.6 206.80h8.4M84 206.80h9.5M93.5 206.80h7.7M66.6 207.40h8.4M106.4 207.40h5.4M75 208.00h9M117.5 208.00h5.9M26 208.60h8M54 208.60h6M19.2 209.20h6.8M60 209.20h6.6M93.5 209.20h7.7M117.5 209.20h5.9M60 209.80h6.6M75 209.80h9M84 209.80h9.5M26 210.40h8M84 210.40h9.5M19.2 211.00h6.8M66.6 211.00h8.4M66.6 211.60h8.4M75 211.60h9M93.5 211.60h7.7M26 212.80h8M60 213.40h6.6M111.8 213.40h5.7M19.2 214.00h6.8M93.5 214.00h7.7M66.6 214.60h8.4M84 214.60h9.5M34 215.20h7.7M60 215.20h6.6M34 217.00h7.7M41.7 217.00h6.3M48 217.00h6M93.5 217.00h7.7M84 217.60h9.5M111.8 217.60h5.7M117.5 218.80h5.9M48 219.40h6M117.5 220.60h5.9M66.6 221.80h8.4M75 221.80h9M93.5 221.80h7.7M19.2 222.40h6.8M48 222.40h6M84 222.40h9.5M26 223.00h8M117.5 223.00h5.9M41.7 225.40h6.3M75 225.40h9M34 226.00h7.7M66.6 226.00h8.4M26 226.60h8M84 226.60h9.5M48 227.20h6M26 227.80h8M48 227.80h6M84 227.80h9.5M93.5 227.80h7.7M60 229.60h6.6M66.6 236.80h8.4M101.2 239.20h5.2M26 240.40h8M84 241.00h9.5M106.4 241.60h5.4M106.4 242.20h5.4M60 242.80h6.6M106.4 246.40h5.4M106.4 247.00h5.4M106.4 249.40h5.4M26 252.40h8M41.7 253.00h6.3M101.2 253.60h5.2M106.4 254.80h5.4M26 256.00h8M48 257.20h6M60 257.80h6.6M106.4 257.80h5.4M93.5 258.95h7.7" stroke="#fcf0ea" stroke-width="0.65" fill="none"/>
<path d="M93.5 174.40h7.7M54 175.00h6M54 176.80h6M48 177.40h6M93.5 177.40h7.7M93.5 185.20h7.7M75 200.20h9M101.2 217.60h5.2M106.4 224.20h5.4M106.4 233.20h5.4M117.5 245.20h5.9M111.8 253.00h5.7" stroke="#e46c66" stroke-width="0.65" fill="none"/>
<path d="M48 175.00h6M93.5 184.00h7.7M111.8 253.60h5.7" stroke="#ea908a" stroke-width="0.65" fill="none"/>
<path d="M93.5 175.00h7.7M60 177.40h6.6M111.8 247.00h5.7" stroke="#ea786c" stroke-width="0.65" fill="none"/>
<path d="M48 175.60h6M66.6 187.60h8.4M66.6 200.20h8.4" stroke="#e4726c" stroke-width="0.65" fill="none"/>
<path d="M60 175.60h6.6M66.6 196.00h8.4M117.5 254.80h5.9" stroke="#de5a54" stroke-width="0.65" fill="none"/>
<path d="M54 176.20h6M106.4 227.20h5.4" stroke="#ea8a84" stroke-width="0.65" fill="none"/>
<path d="M101.2 176.20h5.2M19.2 181.00h6.8M54 181.00h6M101.2 181.60h5.2M117.5 188.80h5.9M48 202.00h6M66.6 202.00h8.4M66.6 204.40h8.4M93.5 204.40h7.7M84 205.60h9.5M26 209.20h8M41.7 210.40h6.3M48 213.40h6M84 218.80h9.5M93.5 224.20h7.7M19.2 236.80h6.8M60 238.60h6.6M106.4 245.20h5.4M75 251.80h9M93.5 251.80h7.7M48 258.95h6" stroke="#fceaea" stroke-width="0.65" fill="none"/>
<path d="M111.8 176.80h5.7M19.2 179.80h6.8" stroke="#f6c0b4" stroke-width="0.65" fill="none"/>
<path d="M117.5 176.80h5.9M26 180.40h8M41.7 182.20h6.3M101.2 189.40h5.2M101.2 197.20h5.2M101.2 224.80h5.2M111.8 251.20h5.7" stroke="#f6c6c0" stroke-width="0.65" fill="none"/>
<path d="M111.8 177.40h5.7M117.5 177.40h5.9M93.5 179.20h7.7M66.6 184.00h8.4M101.2 184.00h5.2M101.2 200.80h5.2" stroke="#f0b4ae" stroke-width="0.65" fill="none"/>
<path d="M34 179.20h7.7M54 182.20h6" stroke="#f0baae" stroke-width="0.65" fill="none"/>
<path d="M26 179.80h8M93.5 182.20h7.7" stroke="#f6bab4" stroke-width="0.65" fill="none"/>
<path d="M41.7 180.40h6.3M101.2 195.40h5.2M101.2 198.40h5.2M66.6 200.80h8.4" stroke="#f0a89c" stroke-width="0.65" fill="none"/>
<path d="M66.6 181.00h8.4M66.6 186.40h8.4M75 186.40h9M106.4 187.00h5.4M75 188.20h9M66.6 188.80h8.4M75 197.80h9M101.2 197.80h5.2M41.7 202.00h6.3M60 202.00h6.6M48 202.60h6M60 203.20h6.6M66.6 203.20h8.4M93.5 208.60h7.7M101.2 210.40h5.2M84 211.00h9.5M106.4 217.00h5.4M60 217.60h6.6M34 222.40h7.7M101.2 226.60h5.2M60 227.20h6.6M117.5 227.20h5.9M117.5 227.80h5.9M19.2 229.00h6.8M54 230.20h6M26 231.40h8M34 231.40h7.7M54 231.40h6M117.5 232.60h5.9M111.8 235.00h5.7M60 237.40h6.6M84 239.20h9.5M106.4 242.80h5.4M48 248.80h6M101.2 252.40h5.2" stroke="#f6dede" stroke-width="0.65" fill="none"/>
<path d="M84 181.00h9.5M34 182.20h7.7M111.8 182.20h5.7M117.5 199.60h5.9M54 214.00h6M117.5 217.00h5.9M41.7 217.60h6.3M106.4 221.20h5.4M75 231.40h9M84 231.40h9.5M111.8 232.60h5.7M48 238.60h6M111.8 238.60h5.7" stroke="#f6d8d8" stroke-width="0.65" fill="none"/>
<path d="M66.6 183.40h8.4M111.8 242.20h5.7M111.8 252.40h5.7" stroke="#d84e4e" stroke-width="0.65" fill="none"/>
<path d="M75 183.40h9M101.2 204.40h5.2M101.2 215.20h5.2" stroke="#d24242" stroke-width="0.65" fill="none"/>
<path d="M93.5 183.40h7.7M75 191.80h9M93.5 193.00h7.7M101.2 208.60h5.2M101.2 211.00h5.2M101.2 216.40h5.2M111.8 254.20h5.7" stroke="#d84e48" stroke-width="0.65" fill="none"/>
<path d="M75 187.60h9M84 189.40h9.5M75 190.60h9M93.5 190.60h7.7M66.6 198.40h8.4M117.5 242.80h5.9M111.8 250.00h5.7M111.8 254.80h5.7M117.5 257.80h5.9" stroke="#e46c60" stroke-width="0.65" fill="none"/>
<path d="M66.6 191.80h8.4M84 191.80h9.5M93.5 192.40h7.7M75 195.40h9M117.5 249.40h5.9" stroke="#de665a" stroke-width="0.65" fill="none"/>
<path d="M75 192.40h9M93.5 196.00h7.7M106.4 221.80h5.4M106.4 238.00h5.4" stroke="#de6054" stroke-width="0.65" fill="none"/>
<path d="M75 193.00h9M111.8 240.40h5.7" stroke="#cc3030" stroke-width="0.65" fill="none"/>
<path d="M84 193.00h9.5M84 198.40h9.5M101.2 215.80h5.2M101.2 218.20h5.2M111.8 241.00h5.7M117.5 241.00h5.9M111.8 250.60h5.7M117.5 254.20h5.9" stroke="#d24842" stroke-width="0.65" fill="none"/>
<path d="M93.5 195.40h7.7M75 196.00h9M75 198.40h9M106.4 224.80h5.4M111.8 249.40h5.7M111.8 256.00h5.7" stroke="#d85a54" stroke-width="0.65" fill="none"/>
<path d="M93.5 198.40h7.7M101.2 203.80h5.2" stroke="#de6c60" stroke-width="0.65" fill="none"/>
<path d="M101.2 202.00h5.2M111.8 255.40h5.7" stroke="#cc3636" stroke-width="0.65" fill="none"/>
<path d="M101.2 203.20h5.2" stroke="#d24e48" stroke-width="0.65" fill="none"/>
<path d="M101.2 209.80h5.2M117.5 243.40h5.9" stroke="#f6c6ba" stroke-width="0.65" fill="none"/>
<path d="M101.2 212.80h5.2" stroke="#d23c3c" stroke-width="0.65" fill="none"/>
<path d="M101.2 218.80h5.2" stroke="#cc3630" stroke-width="0.65" fill="none"/>
<path d="M48 230.80h6" stroke="#f6d2c6" stroke-width="0.65" fill="none"/>
<path d="M48 233.80h6M84 235.00h9.5M60 235.60h6.6M93.5 235.60h7.7M34 239.80h7.7M93.5 243.40h7.7M41.7 246.40h6.3M117.5 247.60h5.9M75 248.80h9M66.6 250.00h8.4M75 251.20h9M66.6 252.40h8.4M19.2 253.00h6.8M48 253.60h6M66.6 253.60h8.4M84 255.40h9.5M93.5 257.20h7.7" stroke="#f0f0f6" stroke-width="0.65" fill="none"/>
<path d="M117.5 240.40h5.9" stroke="#cc3c36" stroke-width="0.65" fill="none"/>
<path d="M117.5 242.20h5.9" stroke="#d24848" stroke-width="0.65" fill="none"/>
<path d="M117.5 255.40h5.9" stroke="#d2423c" stroke-width="0.65" fill="none"/>
<path d="M111.8 257.20h5.7" stroke="#c62a2a" stroke-width="0.65" fill="none"/>
<path d="M117.5 257.20h5.9" stroke="#c63030" stroke-width="0.65" fill="none"/>
</g>
<g opacity="0.85"><path d="M19.2 169.00h6.8M34 169.00h7.7M26 170.80h8M75 170.80h9M19.2 172.00h6.8M75 172.00h9M19.2 172.60h6.8M66.6 173.20h8.4M26 175.00h8M19.2 175.60h6.8M34 175.60h7.7M19.2 176.80h6.8M19.2 177.40h6.8M26 178.00h8M19.2 182.80h6.8M54 182.80h6M60 182.80h6.6M19.2 183.40h6.8M48 183.40h6M19.2 184.00h6.8M60 184.00h6.6M19.2 184.60h6.8M41.7 184.60h6.3M54 184.60h6M41.7 185.20h6.3M60 185.20h6.6M41.7 185.80h6.3M48 185.80h6M41.7 186.40h6.3M60 186.40h6.6M54 187.00h6M60 187.00h6.6M26 187.60h8M41.7 188.80h6.3M48 188.80h6M60 188.80h6.6M19.2 189.40h6.8M34 189.40h7.7M48 189.40h6M19.2 190.60h6.8M26 190.60h8M34 190.60h7.7M48 190.60h6M60 190.60h6.6M19.2 191.20h6.8M41.7 191.20h6.3M54 191.20h6M26 191.80h8M34 191.80h7.7M41.7 191.80h6.3M48 191.80h6M54 191.80h6M54 192.40h6M19.2 193.00h6.8M41.7 193.00h6.3M48 193.00h6M60 193.00h6.6M26 193.60h8M60 193.60h6.6M19.2 194.20h6.8M26 194.20h8M41.7 194.20h6.3M54 194.20h6M34 194.80h7.7M41.7 194.80h6.3M48 194.80h6M19.2 195.40h6.8M41.7 195.40h6.3M48 195.40h6M34 196.00h7.7M41.7 196.00h6.3M48 196.00h6M60 196.00h6.6M19.2 196.60h6.8M54 196.60h6M60 196.60h6.6M41.7 197.20h6.3M19.2 197.80h6.8M41.7 198.40h6.3M48 198.40h6M54 198.40h6M26 199.00h8M41.7 199.60h6.3M54 199.60h6M26 200.20h8M41.7 200.20h6.3M48 200.20h6M54 200.80h6M19.2 233.80h6.8" stroke="#d2e4f0" stroke-width="0.65" fill="none"/><path d="M26 169.00h8M75 169.00h9M19.2 169.60h6.8M84 169.60h9.5M84 170.80h9.5M19.2 171.40h6.8M66.6 171.40h8.4M66.6 172.00h8.4M19.2 173.20h6.8M26 173.80h8M75 173.80h9M19.2 175.00h6.8M66.6 175.00h8.4M84 175.00h9.5M75 175.60h9M19.2 176.20h6.8M26 176.20h8M26 177.40h8M84 177.40h9.5M26 182.80h8M26 183.40h8M41.7 183.40h6.3M60 183.40h6.6M34 184.00h7.7M41.7 184.00h6.3M54 184.00h6M19.2 185.20h6.8M26 185.20h8M34 185.20h7.7M54 185.20h6M48 186.40h6M19.2 187.00h6.8M34 187.00h7.7M41.7 187.00h6.3M48 187.00h6M41.7 187.60h6.3M34 188.20h7.7M41.7 188.20h6.3M26 188.80h8M34 188.80h7.7M54 189.40h6M34 191.20h7.7M48 191.20h6M19.2 192.40h6.8M54 193.00h6M41.7 193.60h6.3M34 194.20h7.7M60 194.20h6.6M19.2 194.80h6.8M26 194.80h8M54 194.80h6M26 195.40h8M19.2 196.00h6.8M41.7 196.60h6.3M19.2 199.60h6.8M26 199.60h8M19.2 200.20h6.8M34 200.20h7.7M34 200.80h7.7M41.7 200.80h6.3M60 200.80h6.6" stroke="#cce4f0" stroke-width="0.65" fill="none"/><path d="M66.6 169.00h8.4M66.6 169.60h8.4M84 171.40h9.5M84 173.20h9.5M66.6 174.40h8.4M75 174.40h9M84 175.60h9.5M66.6 176.80h8.4M66.6 177.40h8.4M75 177.40h9M75 178.00h9M34 187.60h7.7M54 197.20h6" stroke="#c0deea" stroke-width="0.65" fill="none"/><path d="M84 169.00h9.5M84 170.20h9.5M19.2 170.80h6.8M66.6 170.80h8.4M75 172.60h9M26 174.40h8M75 175.00h9M84 176.80h9.5M34 184.60h7.7M26 187.00h8M60 188.20h6.6M54 193.60h6M26 196.60h8M26 197.20h8M34 197.20h7.7M19.2 198.40h6.8M19.2 200.80h6.8" stroke="#cce4ea" stroke-width="0.65" fill="none"/><path d="M26 169.60h8M26 171.40h8M34 172.00h7.7M26 172.60h8M26 173.20h8M34 173.20h7.7M34 173.80h7.7M34 174.40h7.7M34 176.20h7.7M26 176.80h8M34 176.80h7.7M19.2 178.00h6.8M41.7 182.80h6.3M48 182.80h6M34 183.40h7.7M26 184.00h8M48 184.00h6M48 184.60h6M26 186.40h8M19.2 187.60h6.8M48 188.20h6M19.2 188.80h6.8M41.7 189.40h6.3M60 189.40h6.6M19.2 190.00h6.8M54 190.60h6M60 191.80h6.6M34 192.40h7.7M48 192.40h6M34 193.00h7.7M34 193.60h7.7M48 194.20h6M60 194.80h6.6M34 195.40h7.7M60 195.40h6.6M48 196.60h6M60 197.20h6.6M48 199.00h6M60 199.00h6.6M34 199.60h7.7M48 199.60h6M60 200.20h6.6M48 200.80h6M93.5 233.80h7.7M19.2 234.40h6.8" stroke="#d8eaf0" stroke-width="0.65" fill="none"/><path d="M34 169.60h7.7M34 170.20h7.7M34 170.80h7.7M34 172.60h7.7M111.8 173.80h5.7M26 184.60h8M60 184.60h6.6M48 185.20h6M54 187.60h6M60 187.60h6.6M26 190.00h8M41.7 192.40h6.3M60 192.40h6.6M48 193.60h6M26 196.00h8M19.2 197.20h6.8M60 198.40h6.6M60 199.60h6.6M54 200.20h6M19.2 233.20h6.8M26 233.20h8M48 233.20h6M66.6 233.20h8.4M75 233.20h9M26 233.80h8M34 233.80h7.7M66.6 233.80h8.4M26 234.40h8M34 234.40h7.7M48 234.40h6M66.6 234.40h8.4M19.2 235.00h6.8M34 235.00h7.7M41.7 235.00h6.3M66.6 235.00h8.4M93.5 235.00h7.7M26 235.60h8M34 235.60h7.7M66.6 235.60h8.4M41.7 236.20h6.3M48 236.20h6" stroke="#deeaf0" stroke-width="0.65" fill="none"/><path d="M75 169.60h9M75 171.40h9M66.6 172.60h8.4M84 172.60h9.5M75 173.20h9M19.2 173.80h6.8M19.2 174.40h6.8M84 174.40h9.5M66.6 175.60h8.4M66.6 176.20h8.4M75 176.20h9M84 176.20h9.5M75 176.80h9M34 182.80h7.7M54 183.40h6M54 188.80h6M26 189.40h8M34 190.00h7.7M19.2 191.80h6.8M26 192.40h8M26 193.00h8M34 196.60h7.7M26 200.80h8" stroke="#c6deea" stroke-width="0.65" fill="none"/><path d="M34 171.40h7.7M60 197.80h6.6M60 233.20h6.6M75 233.80h9M75 234.40h9M26 235.00h8M84 235.60h9.5" stroke="#e4eaf0" stroke-width="0.65" fill="none"/><path d="M41.7 173.80h6.3M34 178.00h7.7M41.7 178.60h6.3M111.8 178.60h5.7M75 181.60h9M111.8 221.20h5.7M54 233.20h6M41.7 233.80h6.3M54 233.80h6M60 233.80h6.6M54 234.40h6M84 234.40h9.5M93.5 234.40h7.7M60 235.00h6.6M75 235.00h9M19.2 235.60h6.8M41.7 235.60h6.3M54 235.60h6M19.2 236.20h6.8M26 236.20h8M54 236.20h6M75 236.20h9M34 236.80h7.7M19.2 244.00h6.8M84 245.80h9.5M34 248.20h7.7M48 251.20h6" stroke="#eaf0f6" stroke-width="0.65" fill="none"/><path d="M34 175.00h7.7M60 178.60h6.6M54 235.00h6M48 235.60h6M66.6 236.20h8.4" stroke="#e4f0f0" stroke-width="0.65" fill="none"/><path d="M26 175.60h8M48 187.60h6M41.7 190.60h6.3M19.2 193.60h6.8M54 195.40h6M54 196.00h6M26 198.40h8M34 198.40h7.7" stroke="#d8e4f0" stroke-width="0.65" fill="none"/><path d="M34 177.40h7.7M54 178.60h6M117.5 178.60h5.9M34 233.20h7.7M84 233.20h9.5M84 233.80h9.5M41.7 234.40h6.3M48 235.00h6M75 235.60h9M34 236.20h7.7M84 236.20h9.5M93.5 236.20h7.7M26 236.80h8" stroke="#e4f0f6" stroke-width="0.65" fill="none"/><path d="M48 197.20h6" stroke="#c6e4ea" stroke-width="0.65" fill="none"/></g>
<line x1="66.60" y1="168.70" x2="66.60" y2="259.20" stroke="#666" stroke-width="0.4"/>
<line x1="101.20" y1="168.70" x2="101.20" y2="259.20" stroke="#666" stroke-width="0.4"/>
<line x1="106.40" y1="168.70" x2="106.40" y2="259.20" stroke="#666" stroke-width="0.4"/>
<line x1="111.80" y1="168.70" x2="111.80" y2="259.20" stroke="#666" stroke-width="0.4"/>
<line x1="123.50" y1="168.70" x2="123.50" y2="259.20" stroke="#666" stroke-width="0.4"/>
<rect x="19.20" y="165.80" width="47.40" height="1.50" fill="#F8766D"/>
<rect x="66.60" y="165.80" width="34.60" height="1.50" fill="#A3A500"/>
<rect x="101.20" y="165.80" width="5.20" height="1.50" fill="#00BF7D"/>
<rect x="106.40" y="165.80" width="5.40" height="1.50" fill="#00B0F6"/>
<rect x="111.80" y="165.80" width="11.60" height="1.50" fill="#C25ECD"/>
<text transform="translate(37.60 164.70) rotate(-42)" font-size="4.5" stroke="#000" stroke-width="0.17">VCT-1</text>
<text transform="translate(81.20 164.70) rotate(-42)" font-size="4.5" stroke="#000" stroke-width="0.17">VCT-2</text>
<text transform="translate(103.50 164.70) rotate(-42)" font-size="4.5" stroke="#000" stroke-width="0.17">VCT-3</text>
<text transform="translate(110.10 164.70) rotate(-42)" font-size="4.5" stroke="#000" stroke-width="0.17">VCT-4</text>
<text transform="translate(118.10 164.70) rotate(-42)" font-size="4.5" stroke="#000" stroke-width="0.17">VCT-5</text>
<text x="128.10" y="170.90" font-size="3.65" stroke="#000" stroke-width="0.17">Expression</text>
<defs><linearGradient id="cg" x1="0" y1="0" x2="0" y2="1"><stop offset="0" stop-color="#b2182b"/><stop offset="0.3" stop-color="#dd5a52"/><stop offset="0.6" stop-color="#f6cfc8"/><stop offset="0.8" stop-color="#f7f4f4"/><stop offset="1" stop-color="#c4dfe9"/></linearGradient></defs>
<rect x="130.20" y="174.30" width="4.70" height="25.50" fill="url(#cg)"/>
<text x="136.40" y="179.40" font-size="3.3" stroke="#000" stroke-width="0.13">2</text>
<text x="136.40" y="187.90" font-size="3.3" stroke="#000" stroke-width="0.13">1</text>
<text x="136.40" y="197.40" font-size="3.3" stroke="#000" stroke-width="0.13">0</text></g>
<g id="panelD"><text x="154.60" y="150.30" font-size="8.2" stroke="#000" stroke-width="0.27">D</text>
<text x="162.90" y="168.30" font-size="4.14" fill="#1f74c4" stroke="#1f74c4" stroke-width="0.17">GO Term (VCT-1)</text>
<text x="265.30" y="168.30" font-size="4.14" fill="#1f74c4" stroke="#1f74c4" stroke-width="0.17"><tspan font-style="italic">P</tspan> value</text>
<line x1="161.60" y1="169.90" x2="280.70" y2="169.90" stroke="#444" stroke-width="0.45"/>
<text x="164.00" y="175.50" font-size="4.2" fill="#1a1a1a" stroke="#1a1a1a" stroke-width="0.17">Glutathione derivative metabolic process</text>
<text x="280.40" y="175.50" font-size="4.2" text-anchor="end" fill="#1a1a1a" stroke="#1a1a1a" stroke-width="0.17">4.6E-05</text>
<text x="164.00" y="181.20" font-size="4.2" fill="#1a1a1a" stroke="#1a1a1a" stroke-width="0.17">Detoxification</text>
<text x="280.40" y="181.20" font-size="4.2" text-anchor="end" fill="#1a1a1a" stroke="#1a1a1a" stroke-width="0.17">1.1E-04</text>
<text x="162.90" y="190.40" font-size="4.14" fill="#1f74c4" stroke="#1f74c4" stroke-width="0.17">GO Term (VCT-2)</text>
<text x="265.30" y="190.40" font-size="4.14" fill="#1f74c4" stroke="#1f74c4" stroke-width="0.17"><tspan font-style="italic">P</tspan> value</text>
<line x1="161.60" y1="192.00" x2="280.70" y2="192.00" stroke="#444" stroke-width="0.45"/>
<text x="164.00" y="197.50" font-size="4.2" fill="#1a1a1a" stroke="#1a1a1a" stroke-width="0.17">Cell division</text>
<text x="280.40" y="197.50" font-size="4.2" text-anchor="end" fill="#1a1a1a" stroke="#1a1a1a" stroke-width="0.17">6.4E-31</text>
<text x="164.00" y="203.15" font-size="4.2" fill="#1a1a1a" stroke="#1a1a1a" stroke-width="0.17">Sister chromatid segregation</text>
<text x="280.40" y="203.15" font-size="4.2" text-anchor="end" fill="#1a1a1a" stroke="#1a1a1a" stroke-width="0.17">6.2E-29</text>
<text x="164.00" y="208.80" font-size="4.2" fill="#1a1a1a" stroke="#1a1a1a" stroke-width="0.17">Mitotic nuclear division</text>
<text x="280.40" y="208.80" font-size="4.2" text-anchor="end" fill="#1a1a1a" stroke="#1a1a1a" stroke-width="0.17">5.4E-28</text>
<text x="164.00" y="214.45" font-size="4.2" fill="#1a1a1a" stroke="#1a1a1a" stroke-width="0.17">Organelle fission</text>
<text x="280.40" y="214.45" font-size="4.2" text-anchor="end" fill="#1a1a1a" stroke="#1a1a1a" stroke-width="0.17">2.2E-25</text>
<text x="164.00" y="220.10" font-size="4.2" fill="#1a1a1a" stroke="#1a1a1a" stroke-width="0.17">DNA packaging</text>
<text x="280.40" y="220.10" font-size="4.2" text-anchor="end" fill="#1a1a1a" stroke="#1a1a1a" stroke-width="0.17">1.4E-22</text>
<text x="162.90" y="228.50" font-size="4.14" fill="#1f74c4" stroke="#1f74c4" stroke-width="0.17">GO Term (VCT-3)</text>
<text x="265.30" y="228.50" font-size="4.14" fill="#1f74c4" stroke="#1f74c4" stroke-width="0.17"><tspan font-style="italic">P</tspan> value</text>
<line x1="161.60" y1="230.10" x2="280.70" y2="230.10" stroke="#444" stroke-width="0.45"/>
<text x="164.00" y="236.30" font-size="4.2" fill="#1a1a1a" stroke="#1a1a1a" stroke-width="0.17">Extracellular structure organization</text>
<text x="280.40" y="236.30" font-size="4.2" text-anchor="end" fill="#1a1a1a" stroke="#1a1a1a" stroke-width="0.17">4.4E-15</text>
<text x="164.00" y="241.90" font-size="4.2" fill="#1a1a1a" stroke="#1a1a1a" stroke-width="0.17">Collagen fibril organization</text>
<text x="280.40" y="241.90" font-size="4.2" text-anchor="end" fill="#1a1a1a" stroke="#1a1a1a" stroke-width="0.17">9.2E-09</text>
<text x="164.00" y="247.50" font-size="4.2" fill="#1a1a1a" stroke="#1a1a1a" stroke-width="0.17">Actin myosin filament sliding</text>
<text x="280.40" y="247.50" font-size="4.2" text-anchor="end" fill="#1a1a1a" stroke="#1a1a1a" stroke-width="0.17">2.9E-07</text>
<text x="164.00" y="253.10" font-size="4.2" fill="#1a1a1a" stroke="#1a1a1a" stroke-width="0.17">Morphogenesis of an epithelium</text>
<text x="280.40" y="253.10" font-size="4.2" text-anchor="end" fill="#1a1a1a" stroke="#1a1a1a" stroke-width="0.17">3.3E-05</text>
<text x="164.00" y="258.70" font-size="4.2" fill="#1a1a1a" stroke="#1a1a1a" stroke-width="0.17">Regulation of epithelial to mesenchymal transition</text>
<text x="280.40" y="258.70" font-size="4.2" text-anchor="end" fill="#1a1a1a" stroke="#1a1a1a" stroke-width="0.17">1.0E-04</text>
<text x="296.60" y="168.20" font-size="4.14" fill="#1f74c4" stroke="#1f74c4" stroke-width="0.17">GO Term (VCT-4)</text>
<text x="398.50" y="168.20" font-size="4.14" fill="#1f74c4" stroke="#1f74c4" stroke-width="0.17"><tspan font-style="italic">P</tspan> value</text>
<line x1="295.30" y1="169.80" x2="415.90" y2="169.80" stroke="#444" stroke-width="0.45"/>
<text x="297.70" y="175.40" font-size="4.2" fill="#1a1a1a" stroke="#1a1a1a" stroke-width="0.17">Posttranscriptional regulation of gene expression</text>
<text x="415.60" y="175.40" font-size="4.2" text-anchor="end" fill="#1a1a1a" stroke="#1a1a1a" stroke-width="0.17">4.9E-22</text>
<text x="297.70" y="180.95" font-size="4.2" fill="#1a1a1a" stroke="#1a1a1a" stroke-width="0.17">Chromatin remodeling</text>
<text x="415.60" y="180.95" font-size="4.2" text-anchor="end" fill="#1a1a1a" stroke="#1a1a1a" stroke-width="0.17">4.7E-13</text>
<text x="297.70" y="186.50" font-size="4.2" fill="#1a1a1a" stroke="#1a1a1a" stroke-width="0.17">Protein sumoylation</text>
<text x="415.60" y="186.50" font-size="4.2" text-anchor="end" fill="#1a1a1a" stroke="#1a1a1a" stroke-width="0.17">8.8E-12</text>
<text x="297.70" y="192.05" font-size="4.2" fill="#1a1a1a" stroke="#1a1a1a" stroke-width="0.17">Regulation of gene expression epigenetic</text>
<text x="415.60" y="192.05" font-size="4.2" text-anchor="end" fill="#1a1a1a" stroke="#1a1a1a" stroke-width="0.17">2.7E-11</text>
<text x="297.70" y="197.60" font-size="4.2" fill="#1a1a1a" stroke="#1a1a1a" stroke-width="0.17">Cell division</text>
<text x="415.60" y="197.60" font-size="4.2" text-anchor="end" fill="#1a1a1a" stroke="#1a1a1a" stroke-width="0.17">1.8E-09</text>
<text x="296.60" y="204.10" font-size="4.14" fill="#1f74c4" stroke="#1f74c4" stroke-width="0.17">GO Term (VCT-5)</text>
<text x="398.50" y="204.10" font-size="4.14" fill="#1f74c4" stroke="#1f74c4" stroke-width="0.17"><tspan font-style="italic">P</tspan> value</text>
<line x1="295.30" y1="205.70" x2="415.90" y2="205.70" stroke="#444" stroke-width="0.45"/>
<text x="297.70" y="212.30" font-size="4.2" fill="#1a1a1a" stroke="#1a1a1a" stroke-width="0.17">Multicellular organism process</text>
<text x="415.60" y="212.30" font-size="4.2" text-anchor="end" fill="#1a1a1a" stroke="#1a1a1a" stroke-width="0.17">1.6E-16</text>
<text x="297.70" y="217.92" font-size="4.2" fill="#1a1a1a" stroke="#1a1a1a" stroke-width="0.17">Response to endoplasmic reticulum stress</text>
<text x="415.60" y="217.92" font-size="4.2" text-anchor="end" fill="#1a1a1a" stroke="#1a1a1a" stroke-width="0.17">9.9E-12</text>
<text x="297.70" y="223.54" font-size="4.2" fill="#1a1a1a" stroke="#1a1a1a" stroke-width="0.17">ER nucleus signaling pathway</text>
<text x="415.60" y="223.54" font-size="4.2" text-anchor="end" fill="#1a1a1a" stroke="#1a1a1a" stroke-width="0.17">1.9E-09</text>
<text x="297.70" y="229.16" font-size="4.2" fill="#1a1a1a" stroke="#1a1a1a" stroke-width="0.17">Epithelial cell differentiation</text>
<text x="415.60" y="229.16" font-size="4.2" text-anchor="end" fill="#1a1a1a" stroke="#1a1a1a" stroke-width="0.17">1.7E-07</text>
<text x="297.70" y="234.78" font-size="4.2" fill="#1a1a1a" stroke="#1a1a1a" stroke-width="0.17">Embryonic placenta development</text>
<text x="415.60" y="234.78" font-size="4.2" text-anchor="end" fill="#1a1a1a" stroke="#1a1a1a" stroke-width="0.17">1.9E-07</text></g>
<g id="panelE"><text x="3.40" y="286.10" font-size="8.2" stroke="#000" stroke-width="0.27">E</text>
<rect x="35.80" y="291.80" width="59.85" height="74.00" fill="#d6d6d6"/>
<rect x="36.10" y="291.80" width="6.55" height="6.44" fill="#3E82BD"/>
<rect x="36.10" y="298.24" width="6.55" height="9.10" fill="#1FA64A"/>
<rect x="36.10" y="307.34" width="6.55" height="58.46" fill="#F8766D"/>
<rect x="43.65" y="291.80" width="6.55" height="7.77" fill="#3E82BD"/>
<rect x="43.65" y="299.57" width="6.55" height="4.07" fill="#1FA64A"/>
<rect x="43.65" y="303.64" width="6.55" height="62.16" fill="#F8766D"/>
<rect x="51.20" y="291.80" width="6.55" height="14.21" fill="#3E82BD"/>
<rect x="51.20" y="306.01" width="6.55" height="3.26" fill="#1FA64A"/>
<rect x="51.20" y="309.26" width="6.55" height="56.54" fill="#F8766D"/>
<rect x="58.70" y="291.80" width="6.55" height="20.72" fill="#3E82BD"/>
<rect x="58.70" y="312.52" width="6.55" height="1.48" fill="#1FA64A"/>
<rect x="58.70" y="314.00" width="6.55" height="51.80" fill="#F8766D"/>
<rect x="66.20" y="291.80" width="6.55" height="35.52" fill="#3E82BD"/>
<rect x="66.20" y="327.32" width="6.55" height="35.52" fill="#1FA64A"/>
<rect x="66.20" y="362.84" width="6.55" height="2.96" fill="#F8766D"/>
<rect x="73.75" y="291.80" width="6.55" height="30.34" fill="#3E82BD"/>
<rect x="73.75" y="322.14" width="6.55" height="17.02" fill="#1FA64A"/>
<rect x="73.75" y="339.16" width="6.55" height="26.64" fill="#F8766D"/>
<rect x="81.30" y="291.80" width="6.55" height="32.56" fill="#3E82BD"/>
<rect x="81.30" y="324.36" width="6.55" height="25.90" fill="#1FA64A"/>
<rect x="81.30" y="350.26" width="6.55" height="15.54" fill="#F8766D"/>
<rect x="88.80" y="291.80" width="6.55" height="10.36" fill="#3E82BD"/>
<rect x="88.80" y="302.16" width="6.55" height="5.92" fill="#1FA64A"/>
<rect x="88.80" y="308.08" width="6.55" height="57.72" fill="#F8766D"/>
<line x1="31.70" y1="291.40" x2="31.70" y2="366.20" stroke="#c6c6c6" stroke-width="1.0"/>
<line x1="29.70" y1="365.80" x2="31.40" y2="365.80" stroke="#333" stroke-width="0.55"/>
<text x="29.30" y="367.25" font-size="4.0" text-anchor="end" stroke="#000" stroke-width="0.15">0</text>
<line x1="29.70" y1="351.00" x2="31.40" y2="351.00" stroke="#333" stroke-width="0.55"/>
<text x="29.30" y="352.45" font-size="4.0" text-anchor="end" stroke="#000" stroke-width="0.15">20</text>
<line x1="29.70" y1="336.20" x2="31.40" y2="336.20" stroke="#333" stroke-width="0.55"/>
<text x="29.30" y="337.65" font-size="4.0" text-anchor="end" stroke="#000" stroke-width="0.15">40</text>
<line x1="29.70" y1="321.40" x2="31.40" y2="321.40" stroke="#333" stroke-width="0.55"/>
<text x="29.30" y="322.85" font-size="4.0" text-anchor="end" stroke="#000" stroke-width="0.15">60</text>
<line x1="29.70" y1="306.60" x2="31.40" y2="306.60" stroke="#333" stroke-width="0.55"/>
<text x="29.30" y="308.05" font-size="4.0" text-anchor="end" stroke="#000" stroke-width="0.15">80</text>
<line x1="29.70" y1="291.80" x2="31.40" y2="291.80" stroke="#333" stroke-width="0.55"/>
<text x="29.30" y="293.25" font-size="4.0" text-anchor="end" stroke="#000" stroke-width="0.15">100</text>
<text transform="translate(40.88 367.80) rotate(-90)" font-size="4.1" text-anchor="end" stroke="#000" stroke-width="0.19">EVT-1</text>
<text transform="translate(48.42 367.80) rotate(-90)" font-size="4.1" text-anchor="end" stroke="#000" stroke-width="0.19">EVT-2</text>
<text transform="translate(55.98 367.80) rotate(-90)" font-size="4.1" text-anchor="end" stroke="#000" stroke-width="0.19">SCT</text>
<text transform="translate(63.48 367.80) rotate(-90)" font-size="4.1" text-anchor="end" stroke="#000" stroke-width="0.19">VCT-1</text>
<text transform="translate(70.98 367.80) rotate(-90)" font-size="4.1" text-anchor="end" stroke="#000" stroke-width="0.19">VCT-2</text>
<text transform="translate(78.53 367.80) rotate(-90)" font-size="4.1" text-anchor="end" stroke="#000" stroke-width="0.19">VCT-3</text>
<text transform="translate(86.08 367.80) rotate(-90)" font-size="4.1" text-anchor="end" stroke="#000" stroke-width="0.19">VCT-4</text>
<text transform="translate(93.58 367.80) rotate(-90)" font-size="4.1" text-anchor="end" stroke="#000" stroke-width="0.19">VCT-5</text>
<rect x="96.9" y="294" width="21.2" height="22" fill="#fff" stroke="#a8a8a8" stroke-width="0.6"/>
<rect x="99.40" y="297.60" width="3.30" height="3.40" fill="#3E82BD"/>
<text x="104.20" y="300.75" font-size="4.0" stroke="#000" stroke-width="0.15">S</text>
<rect x="99.40" y="303.60" width="3.30" height="3.40" fill="#1FA64A"/>
<text x="104.20" y="306.75" font-size="4.0" stroke="#000" stroke-width="0.15">G2M</text>
<rect x="99.40" y="309.60" width="3.30" height="3.40" fill="#F8766D"/>
<text x="104.20" y="312.75" font-size="4.0" stroke="#000" stroke-width="0.15">G1</text></g>
<g id="panelF"><text x="129.40" y="285.80" font-size="8.2" stroke="#000" stroke-width="0.27">F</text>
<rect x="156.30" y="299.40" width="10.18" height="8.66" fill="#2C6FAE"/>
<rect x="166.43" y="299.40" width="10.18" height="8.66" fill="#3F84BC"/>
<rect x="176.55" y="299.40" width="10.18" height="8.66" fill="#3F84BC"/>
<rect x="186.68" y="299.40" width="10.18" height="8.66" fill="#A5CBE1"/>
<rect x="196.80" y="299.40" width="10.18" height="8.66" fill="#FDDC9C"/>
<rect x="206.93" y="299.40" width="10.18" height="8.66" fill="#DDECE6"/>
<rect x="217.05" y="299.40" width="10.18" height="8.66" fill="#FDB772"/>
<rect x="227.18" y="299.40" width="10.18" height="8.66" fill="#F26B43"/>
<rect x="156.30" y="308.01" width="10.18" height="8.66" fill="#3F84BC"/>
<rect x="166.43" y="308.01" width="10.18" height="8.66" fill="#2C6FAE"/>
<rect x="176.55" y="308.01" width="10.18" height="8.66" fill="#3F84BC"/>
<rect x="186.68" y="308.01" width="10.18" height="8.66" fill="#A5CBE1"/>
<rect x="196.80" y="308.01" width="10.18" height="8.66" fill="#FBF3C4"/>
<rect x="206.93" y="308.01" width="10.18" height="8.66" fill="#A5CBE1"/>
<rect x="217.05" y="308.01" width="10.18" height="8.66" fill="#FDDC9C"/>
<rect x="227.18" y="308.01" width="10.18" height="8.66" fill="#E2402F"/>
<rect x="156.30" y="316.62" width="10.18" height="8.66" fill="#3F84BC"/>
<rect x="166.43" y="316.62" width="10.18" height="8.66" fill="#3F84BC"/>
<rect x="176.55" y="316.62" width="10.18" height="8.66" fill="#2C6FAE"/>
<rect x="186.68" y="316.62" width="10.18" height="8.66" fill="#A5CBE1"/>
<rect x="196.80" y="316.62" width="10.18" height="8.66" fill="#FDB772"/>
<rect x="206.93" y="316.62" width="10.18" height="8.66" fill="#DDECE6"/>
<rect x="217.05" y="316.62" width="10.18" height="8.66" fill="#FBF3C4"/>
<rect x="227.18" y="316.62" width="10.18" height="8.66" fill="#F26B43"/>
<rect x="156.30" y="325.24" width="10.18" height="8.66" fill="#6BA6CF"/>
<rect x="166.43" y="325.24" width="10.18" height="8.66" fill="#A5CBE1"/>
<rect x="176.55" y="325.24" width="10.18" height="8.66" fill="#A5CBE1"/>
<rect x="186.68" y="325.24" width="10.18" height="8.66" fill="#2C6FAE"/>
<rect x="196.80" y="325.24" width="10.18" height="8.66" fill="#FBF3C4"/>
<rect x="206.93" y="325.24" width="10.18" height="8.66" fill="#FBF3C4"/>
<rect x="217.05" y="325.24" width="10.18" height="8.66" fill="#F98E5A"/>
<rect x="227.18" y="325.24" width="10.18" height="8.66" fill="#F26B43"/>
<rect x="156.30" y="333.85" width="10.18" height="8.66" fill="#FDDC9C"/>
<rect x="166.43" y="333.85" width="10.18" height="8.66" fill="#FBF3C4"/>
<rect x="176.55" y="333.85" width="10.18" height="8.66" fill="#FDB772"/>
<rect x="186.68" y="333.85" width="10.18" height="8.66" fill="#FBF3C4"/>
<rect x="196.80" y="333.85" width="10.18" height="8.66" fill="#2C6FAE"/>
<rect x="206.93" y="333.85" width="10.18" height="8.66" fill="#A5CBE1"/>
<rect x="217.05" y="333.85" width="10.18" height="8.66" fill="#F98E5A"/>
<rect x="227.18" y="333.85" width="10.18" height="8.66" fill="#FDB772"/>
<rect x="156.30" y="342.46" width="10.18" height="8.66" fill="#DDECE6"/>
<rect x="166.43" y="342.46" width="10.18" height="8.66" fill="#A5CBE1"/>
<rect x="176.55" y="342.46" width="10.18" height="8.66" fill="#DDECE6"/>
<rect x="186.68" y="342.46" width="10.18" height="8.66" fill="#FBF3C4"/>
<rect x="196.80" y="342.46" width="10.18" height="8.66" fill="#A5CBE1"/>
<rect x="206.93" y="342.46" width="10.18" height="8.66" fill="#2C6FAE"/>
<rect x="217.05" y="342.46" width="10.18" height="8.66" fill="#F98E5A"/>
<rect x="227.18" y="342.46" width="10.18" height="8.66" fill="#F26B43"/>
<rect x="156.30" y="351.07" width="10.18" height="8.66" fill="#FDB772"/>
<rect x="166.43" y="351.07" width="10.18" height="8.66" fill="#FDDC9C"/>
<rect x="176.55" y="351.07" width="10.18" height="8.66" fill="#FBF3C4"/>
<rect x="186.68" y="351.07" width="10.18" height="8.66" fill="#F98E5A"/>
<rect x="196.80" y="351.07" width="10.18" height="8.66" fill="#F98E5A"/>
<rect x="206.93" y="351.07" width="10.18" height="8.66" fill="#F98E5A"/>
<rect x="217.05" y="351.07" width="10.18" height="8.66" fill="#2C6FAE"/>
<rect x="227.18" y="351.07" width="10.18" height="8.66" fill="#FBF3C4"/>
<rect x="156.30" y="359.69" width="10.18" height="8.66" fill="#F26B43"/>
<rect x="166.43" y="359.69" width="10.18" height="8.66" fill="#E2402F"/>
<rect x="176.55" y="359.69" width="10.18" height="8.66" fill="#F26B43"/>
<rect x="186.68" y="359.69" width="10.18" height="8.66" fill="#F26B43"/>
<rect x="196.80" y="359.69" width="10.18" height="8.66" fill="#FDB772"/>
<rect x="206.93" y="359.69" width="10.18" height="8.66" fill="#F26B43"/>
<rect x="217.05" y="359.69" width="10.18" height="8.66" fill="#FBF3C4"/>
<rect x="227.18" y="359.69" width="10.18" height="8.66" fill="#2C6FAE"/>
<line x1="166.43" y1="299.40" x2="166.43" y2="368.30" stroke="#7a8a96" stroke-width="0.25" opacity="0.45"/>
<line x1="156.30" y1="308.01" x2="237.30" y2="308.01" stroke="#7a8a96" stroke-width="0.25" opacity="0.45"/>
<line x1="176.55" y1="299.40" x2="176.55" y2="368.30" stroke="#7a8a96" stroke-width="0.25" opacity="0.45"/>
<line x1="156.30" y1="316.62" x2="237.30" y2="316.62" stroke="#7a8a96" stroke-width="0.25" opacity="0.45"/>
<line x1="186.68" y1="299.40" x2="186.68" y2="368.30" stroke="#7a8a96" stroke-width="0.25" opacity="0.45"/>
<line x1="156.30" y1="325.24" x2="237.30" y2="325.24" stroke="#7a8a96" stroke-width="0.25" opacity="0.45"/>
<line x1="196.80" y1="299.40" x2="196.80" y2="368.30" stroke="#7a8a96" stroke-width="0.25" opacity="0.45"/>
<line x1="156.30" y1="333.85" x2="237.30" y2="333.85" stroke="#7a8a96" stroke-width="0.25" opacity="0.45"/>
<line x1="206.93" y1="299.40" x2="206.93" y2="368.30" stroke="#7a8a96" stroke-width="0.25" opacity="0.45"/>
<line x1="156.30" y1="342.46" x2="237.30" y2="342.46" stroke="#7a8a96" stroke-width="0.25" opacity="0.45"/>
<line x1="217.05" y1="299.40" x2="217.05" y2="368.30" stroke="#7a8a96" stroke-width="0.25" opacity="0.45"/>
<line x1="156.30" y1="351.07" x2="237.30" y2="351.07" stroke="#7a8a96" stroke-width="0.25" opacity="0.45"/>
<line x1="227.18" y1="299.40" x2="227.18" y2="368.30" stroke="#7a8a96" stroke-width="0.25" opacity="0.45"/>
<line x1="156.30" y1="359.69" x2="237.30" y2="359.69" stroke="#7a8a96" stroke-width="0.25" opacity="0.45"/>
<text x="238.80" y="305.21" font-size="4.3" stroke="#000" stroke-width="0.19">VCT-2</text>
<text transform="translate(162.86 370.20) rotate(-90)" font-size="4.25" text-anchor="end" stroke="#000" stroke-width="0.19">VCT-2</text>
<text x="238.80" y="313.82" font-size="4.3" stroke="#000" stroke-width="0.19">VCT-1</text>
<text transform="translate(172.99 370.20) rotate(-90)" font-size="4.25" text-anchor="end" stroke="#000" stroke-width="0.19">VCT-1</text>
<text x="238.80" y="322.43" font-size="4.3" stroke="#000" stroke-width="0.19">VCT-3</text>
<text transform="translate(183.11 370.20) rotate(-90)" font-size="4.25" text-anchor="end" stroke="#000" stroke-width="0.19">VCT-3</text>
<text x="238.80" y="331.04" font-size="4.3" stroke="#000" stroke-width="0.19">VCT-4</text>
<text transform="translate(193.24 370.20) rotate(-90)" font-size="4.25" text-anchor="end" stroke="#000" stroke-width="0.19">VCT-4</text>
<text x="238.80" y="339.66" font-size="4.3" stroke="#000" stroke-width="0.19">VCT-5</text>
<text transform="translate(203.36 370.20) rotate(-90)" font-size="4.25" text-anchor="end" stroke="#000" stroke-width="0.19">VCT-5</text>
<text x="238.80" y="348.27" font-size="4.3" stroke="#000" stroke-width="0.19">SCT</text>
<text transform="translate(213.49 370.20) rotate(-90)" font-size="4.25" text-anchor="end" stroke="#000" stroke-width="0.19">SCT</text>
<text x="238.80" y="356.88" font-size="4.3" stroke="#000" stroke-width="0.19">EVT-2</text>
<text transform="translate(223.61 370.20) rotate(-90)" font-size="4.25" text-anchor="end" stroke="#000" stroke-width="0.19">EVT-2</text>
<text x="238.80" y="365.49" font-size="4.3" stroke="#000" stroke-width="0.19">EVT-1</text>
<text transform="translate(233.74 370.20) rotate(-90)" font-size="4.25" text-anchor="end" stroke="#000" stroke-width="0.19">EVT-1</text>
<path d="M161.4 299.09999999999997V297.09999999999997H171.5V299.09999999999997M166.4 297.09999999999997V295.9H181.6V299.09999999999997M174.0 295.9V293.79999999999995H191.7V299.09999999999997M201.9 299.09999999999997V292.7H212.0V299.09999999999997M182.9 293.79999999999995V289.99999999999994H206.9V292.7M222.1 299.09999999999997V293.2H232.2V299.09999999999997M194.9 289.99999999999994V285.99999999999994H227.2V293.2" fill="none" stroke="#9a9a9a" stroke-width="0.45"/>
<path d="M156.0 303.7H154.1V312.3H156.0M154.1 308.0H152.9V320.9H156.0M152.9 314.5H150.9V329.5H156.0M156.0 338.2H149.9V346.8H156.0M150.9 322.0H147.3V342.5H149.9M156.0 355.4H150.4V364.0H156.0M147.3 332.2H143.5V359.7H150.4" fill="none" stroke="#9a9a9a" stroke-width="0.45"/>
<defs><linearGradient id="fg" x1="0" y1="0" x2="0" y2="1"><stop offset="0" stop-color="#E2402F"/><stop offset="0.2" stop-color="#F98E5A"/><stop offset="0.4" stop-color="#FDDC9C"/><stop offset="0.55" stop-color="#FBF3C4"/><stop offset="0.7" stop-color="#C5DEE6"/><stop offset="0.85" stop-color="#6BA6CF"/><stop offset="1" stop-color="#2C6FAE"/></linearGradient></defs>
<rect x="259.50" y="312.00" width="3.70" height="29.80" fill="url(#fg)"/>
<text x="264.40" y="317.75" font-size="3.0" stroke="#000" stroke-width="0.12">1.5</text>
<text x="264.40" y="325.35" font-size="3.0" stroke="#000" stroke-width="0.12">1</text>
<text x="264.40" y="333.75" font-size="3.0" stroke="#000" stroke-width="0.12">0.5</text>
<text x="264.40" y="341.45" font-size="3.0" stroke="#000" stroke-width="0.12">0</text></g>
<g id="panelG"><text x="287.60" y="286.50" font-size="8.2" stroke="#000" stroke-width="0.27">G</text>
<text x="352.60" y="295.60" font-size="5.83" text-anchor="middle" stroke="#000" stroke-width="0.17">Syncytin-related gene set</text>
<line x1="308.90" y1="297.40" x2="308.90" y2="365.40" stroke="#222" stroke-width="0.6"/>
<line x1="308.60" y1="365.40" x2="398.60" y2="365.40" stroke="#222" stroke-width="0.6"/>
<line x1="307.40" y1="355.10" x2="308.90" y2="355.10" stroke="#222" stroke-width="0.5"/>
<text x="306.30" y="356.60" font-size="4.2" text-anchor="end" stroke="#000" stroke-width="0.15">0.0</text>
<line x1="307.40" y1="340.75" x2="308.90" y2="340.75" stroke="#222" stroke-width="0.5"/>
<text x="306.30" y="342.25" font-size="4.2" text-anchor="end" stroke="#000" stroke-width="0.15">0.5</text>
<line x1="307.40" y1="326.40" x2="308.90" y2="326.40" stroke="#222" stroke-width="0.5"/>
<text x="306.30" y="327.90" font-size="4.2" text-anchor="end" stroke="#000" stroke-width="0.15">1.0</text>
<line x1="307.40" y1="312.05" x2="308.90" y2="312.05" stroke="#222" stroke-width="0.5"/>
<text x="306.30" y="313.55" font-size="4.2" text-anchor="end" stroke="#000" stroke-width="0.15">1.5</text>
<line x1="307.40" y1="297.70" x2="308.90" y2="297.70" stroke="#222" stroke-width="0.5"/>
<text x="306.30" y="299.20" font-size="4.2" text-anchor="end" stroke="#000" stroke-width="0.15">2.0</text>
<line x1="314.50" y1="355.10" x2="314.50" y2="324.97" stroke="#9a9a9a" stroke-width="0.75" stroke-dasharray="0.5 0.3" opacity="0.7"/>
<line x1="325.55" y1="355.10" x2="325.55" y2="339.89" stroke="#9a9a9a" stroke-width="0.75" stroke-dasharray="0.5 0.3" opacity="0.7"/>
<line x1="336.60" y1="355.10" x2="336.60" y2="309.18" stroke="#9a9a9a" stroke-width="0.75" stroke-dasharray="0.5 0.3" opacity="0.7"/>
<line x1="347.65" y1="355.10" x2="347.65" y2="342.76" stroke="#9a9a9a" stroke-width="0.75" stroke-dasharray="0.5 0.3" opacity="0.7"/>
<line x1="358.70" y1="355.10" x2="358.70" y2="345.06" stroke="#9a9a9a" stroke-width="0.75" stroke-dasharray="0.5 0.3" opacity="0.7"/>
<line x1="369.75" y1="355.10" x2="369.75" y2="342.76" stroke="#9a9a9a" stroke-width="0.75" stroke-dasharray="0.5 0.3" opacity="0.7"/>
<line x1="380.80" y1="355.10" x2="380.80" y2="345.06" stroke="#9a9a9a" stroke-width="0.75" stroke-dasharray="0.5 0.3" opacity="0.7"/>
<line x1="391.85" y1="355.10" x2="391.85" y2="299.71" stroke="#9a9a9a" stroke-width="0.75" stroke-dasharray="0.5 0.3" opacity="0.7"/>
<path d="M314.55 363.71C314.64 363.23 314.71 361.61 315.00 360.84C315.29 360.07 315.85 359.74 316.30 359.12C316.75 358.50 317.38 357.68 317.70 357.11C318.02 356.54 318.23 356.20 318.20 355.67C318.17 355.15 317.87 354.48 317.50 353.95C317.13 353.43 316.40 353.09 316.00 352.52C315.60 351.94 315.32 351.51 315.10 350.51C314.88 349.50 314.80 347.88 314.70 346.49C314.60 345.10 314.57 342.90 314.53 342.19C314.49 341.47 314.51 341.47 314.47 342.19C314.43 342.90 314.40 345.10 314.30 346.49C314.20 347.88 314.12 349.50 313.90 350.51C313.68 351.51 313.40 351.94 313.00 352.52C312.60 353.09 311.87 353.43 311.50 353.95C311.13 354.48 310.83 355.15 310.80 355.67C310.77 356.20 310.98 356.54 311.30 357.11C311.62 357.68 312.25 358.50 312.70 359.12C313.15 359.74 313.71 360.07 314.00 360.84C314.29 361.61 314.36 363.23 314.45 363.71C314.54 364.19 314.46 364.19 314.55 363.71Z" fill="#F8766D"/>
<path d="M325.60 360.98C325.67 360.65 325.76 359.59 325.90 358.97C326.04 358.36 325.89 357.66 326.45 357.31C327.00 356.96 328.61 357.05 329.23 356.90C329.85 356.74 330.15 356.56 330.15 356.39C330.15 356.22 329.85 356.04 329.23 355.89C328.61 355.73 327.00 355.87 326.45 355.47C325.90 355.08 326.08 354.33 325.95 353.52C325.82 352.72 325.73 351.51 325.67 350.65C325.61 349.79 325.60 348.74 325.58 348.36C325.56 347.97 325.55 347.97 325.52 348.36C325.50 348.74 325.49 349.79 325.43 350.65C325.37 351.51 325.28 352.72 325.15 353.52C325.02 354.33 325.20 355.08 324.65 355.47C324.10 355.87 322.49 355.73 321.87 355.89C321.25 356.04 320.95 356.22 320.95 356.39C320.95 356.56 321.25 356.74 321.87 356.90C322.49 357.05 324.10 356.96 324.65 357.31C325.21 357.66 325.06 358.36 325.20 358.97C325.34 359.59 325.43 360.65 325.50 360.98C325.57 361.32 325.53 361.32 325.60 360.98Z" fill="#D98E1A"/>
<path d="M336.80 358.83C337.37 358.69 338.97 358.45 339.80 357.97C340.63 357.49 341.35 356.82 341.80 355.96C342.25 355.10 342.50 353.90 342.50 352.80C342.50 351.70 342.15 350.89 341.80 349.36C341.45 347.83 340.83 345.63 340.40 343.62C339.97 341.61 339.57 339.46 339.20 337.31C338.83 335.15 338.48 332.76 338.20 330.71C337.92 328.65 337.70 326.64 337.50 324.97C337.30 323.29 337.14 322.10 337.00 320.66C336.86 319.23 336.73 317.07 336.65 316.36C336.58 315.64 336.62 315.64 336.55 316.36C336.48 317.07 336.34 319.23 336.20 320.66C336.06 322.10 335.90 323.29 335.70 324.97C335.50 326.64 335.28 328.65 335.00 330.71C334.72 332.76 334.37 335.15 334.00 337.31C333.63 339.46 333.23 341.61 332.80 343.62C332.37 345.63 331.75 347.83 331.40 349.36C331.05 350.89 330.70 351.70 330.70 352.80C330.70 353.90 330.95 355.10 331.40 355.96C331.85 356.82 332.57 357.49 333.40 357.97C334.23 358.45 335.83 358.69 336.40 358.83C336.97 358.97 336.23 358.97 336.80 358.83Z" fill="#4FAE2E"/>
<path d="M347.70 361.13C347.77 360.79 347.86 359.69 348.00 359.12C348.14 358.54 348.07 358.01 348.55 357.68C349.02 357.36 350.33 357.36 350.85 357.17C351.37 356.98 351.65 356.75 351.65 356.54C351.65 356.32 351.37 356.09 350.85 355.90C350.33 355.71 349.02 355.76 348.55 355.39C348.08 355.01 348.18 354.43 348.05 353.67C347.92 352.90 347.83 351.66 347.77 350.80C347.71 349.93 347.70 348.88 347.68 348.50C347.65 348.12 347.64 348.12 347.62 348.50C347.60 348.88 347.59 349.93 347.53 350.80C347.47 351.66 347.38 352.90 347.25 353.67C347.12 354.43 347.22 355.01 346.75 355.39C346.28 355.76 344.97 355.71 344.45 355.90C343.93 356.09 343.65 356.32 343.65 356.54C343.65 356.75 343.93 356.98 344.45 357.17C344.97 357.36 346.27 357.36 346.75 357.68C347.23 358.01 347.16 358.54 347.30 359.12C347.44 359.69 347.53 360.79 347.60 361.13C347.67 361.46 347.63 361.46 347.70 361.13Z" fill="#00B871"/>
<path d="M358.75 361.27C358.82 360.94 358.91 359.82 359.05 359.26C359.19 358.71 359.12 358.26 359.60 357.94C360.07 357.63 361.38 357.58 361.90 357.37C362.42 357.16 362.70 356.91 362.70 356.68C362.70 356.45 362.42 356.19 361.90 355.98C361.38 355.77 360.07 355.78 359.60 355.42C359.13 355.05 359.23 354.55 359.10 353.81C358.97 353.06 358.88 351.80 358.82 350.94C358.76 350.08 358.75 349.03 358.73 348.64C358.70 348.26 358.69 348.26 358.67 348.64C358.65 349.03 358.64 350.08 358.58 350.94C358.52 351.80 358.43 353.06 358.30 353.81C358.17 354.55 358.27 355.05 357.80 355.42C357.33 355.78 356.02 355.77 355.50 355.98C354.98 356.19 354.70 356.45 354.70 356.68C354.70 356.91 354.98 357.16 355.50 357.37C356.02 357.58 357.33 357.63 357.80 357.94C358.27 358.26 358.21 358.71 358.35 359.26C358.49 359.82 358.58 360.94 358.65 361.27C358.72 361.61 358.68 361.61 358.75 361.27Z" fill="#00BDC2"/>
<path d="M369.80 360.98C369.87 360.65 369.96 359.55 370.10 358.97C370.24 358.40 370.17 357.86 370.65 357.54C371.12 357.21 372.43 357.21 372.95 357.02C373.47 356.83 373.75 356.60 373.75 356.39C373.75 356.18 373.47 355.95 372.95 355.76C372.43 355.57 371.12 355.62 370.65 355.24C370.18 354.87 370.28 354.29 370.15 353.52C370.02 352.76 369.93 351.51 369.87 350.65C369.81 349.79 369.80 348.74 369.78 348.36C369.75 347.97 369.75 347.97 369.72 348.36C369.70 348.74 369.69 349.79 369.63 350.65C369.57 351.51 369.48 352.76 369.35 353.52C369.22 354.29 369.32 354.87 368.85 355.24C368.38 355.62 367.07 355.57 366.55 355.76C366.03 355.95 365.75 356.18 365.75 356.39C365.75 356.60 366.03 356.83 366.55 357.02C367.07 357.21 368.38 357.21 368.85 357.54C369.33 357.86 369.26 358.40 369.40 358.97C369.54 359.55 369.63 360.65 369.70 360.98C369.77 361.32 369.73 361.32 369.80 360.98Z" fill="#1C96DC"/>
<path d="M380.85 361.70C380.92 361.37 381.01 360.17 381.15 359.69C381.29 359.21 381.21 359.10 381.70 358.83C382.19 358.56 383.55 358.34 384.08 358.06C384.61 357.77 384.90 357.42 384.90 357.11C384.90 356.79 384.61 356.45 384.08 356.16C383.55 355.87 382.18 355.71 381.70 355.39C381.22 355.07 381.33 354.91 381.20 354.24C381.07 353.57 380.98 352.23 380.92 351.37C380.86 350.51 380.85 349.46 380.83 349.07C380.81 348.69 380.80 348.69 380.77 349.07C380.75 349.46 380.74 350.51 380.68 351.37C380.62 352.23 380.53 353.57 380.40 354.24C380.27 354.91 380.38 355.07 379.90 355.39C379.42 355.71 378.05 355.87 377.52 356.16C376.99 356.45 376.70 356.79 376.70 357.11C376.70 357.42 376.99 357.77 377.52 358.06C378.05 358.34 379.41 358.56 379.90 358.83C380.39 359.10 380.31 359.21 380.45 359.69C380.59 360.17 380.68 361.37 380.75 361.70C380.82 362.04 380.78 362.04 380.85 361.70Z" fill="#9F6FCB"/>
<path d="M392.05 359.98C392.52 359.84 393.72 359.50 394.45 359.12C395.18 358.74 396.02 358.21 396.45 357.68C396.88 357.16 397.08 356.58 397.05 355.96C397.02 355.34 396.62 354.67 396.25 353.95C395.88 353.23 395.27 352.56 394.85 351.66C394.43 350.75 394.06 349.84 393.75 348.50C393.44 347.16 393.20 345.39 393.00 343.62C392.80 341.85 392.68 339.79 392.55 337.88C392.43 335.97 392.34 334.05 392.25 332.14C392.16 330.23 392.06 328.07 392.00 326.40C391.94 324.73 391.90 322.81 391.87 322.10C391.84 321.38 391.86 321.38 391.83 322.10C391.80 322.81 391.76 324.73 391.70 326.40C391.64 328.07 391.54 330.23 391.45 332.14C391.36 334.05 391.28 335.97 391.15 337.88C391.03 339.79 390.90 341.85 390.70 343.62C390.50 345.39 390.26 347.16 389.95 348.50C389.64 349.84 389.27 350.75 388.85 351.66C388.43 352.56 387.82 353.23 387.45 353.95C387.08 354.67 386.68 355.34 386.65 355.96C386.62 356.58 386.82 357.16 387.25 357.68C387.68 358.21 388.52 358.74 389.25 359.12C389.98 359.50 391.18 359.84 391.65 359.98C392.12 360.12 391.58 360.12 392.05 359.98Z" fill="#EF5BA8"/>
<text transform="translate(316.00 367.60) rotate(-90)" font-size="4.35" text-anchor="end" stroke="#000" stroke-width="0.19">EVT-1</text>
<text transform="translate(327.05 367.60) rotate(-90)" font-size="4.35" text-anchor="end" stroke="#000" stroke-width="0.19">EVT-2</text>
<text transform="translate(338.10 367.60) rotate(-90)" font-size="4.35" text-anchor="end" stroke="#000" stroke-width="0.19">SCT</text>
<text transform="translate(349.15 367.60) rotate(-90)" font-size="4.35" text-anchor="end" stroke="#000" stroke-width="0.19">VCT-1</text>
<text transform="translate(360.20 367.60) rotate(-90)" font-size="4.35" text-anchor="end" stroke="#000" stroke-width="0.19">VCT-2</text>
<text transform="translate(371.25 367.60) rotate(-90)" font-size="4.35" text-anchor="end" stroke="#000" stroke-width="0.19">VCT-3</text>
<text transform="translate(382.30 367.60) rotate(-90)" font-size="4.35" text-anchor="end" stroke="#000" stroke-width="0.19">VCT-4</text>
<text transform="translate(393.35 367.60) rotate(-90)" font-size="4.35" text-anchor="end" stroke="#000" stroke-width="0.19">VCT-5</text>
<circle cx="406.3" cy="295.50" r="1.55" fill="#F8766D"/>
<text x="410.20" y="296.90" font-size="4.0" stroke="#000" stroke-width="0.13">EVT-1</text>
<circle cx="406.3" cy="301.64" r="1.55" fill="#D98E1A"/>
<text x="410.20" y="303.04" font-size="4.0" stroke="#000" stroke-width="0.13">EVT-2</text>
<circle cx="406.3" cy="307.78" r="1.55" fill="#4FAE2E"/>
<text x="410.20" y="309.18" font-size="4.0" stroke="#000" stroke-width="0.13">SCT</text>
<circle cx="406.3" cy="313.92" r="1.55" fill="#00B871"/>
<text x="410.20" y="315.32" font-size="4.0" stroke="#000" stroke-width="0.13">VCT-1</text>
<circle cx="406.3" cy="320.06" r="1.55" fill="#00BDC2"/>
<text x="410.20" y="321.46" font-size="4.0" stroke="#000" stroke-width="0.13">VCT-2</text>
<circle cx="406.3" cy="326.20" r="1.55" fill="#1C96DC"/>
<text x="410.20" y="327.60" font-size="4.0" stroke="#000" stroke-width="0.13">VCT-3</text>
<circle cx="406.3" cy="332.34" r="1.55" fill="#9F6FCB"/>
<text x="410.20" y="333.74" font-size="4.0" stroke="#000" stroke-width="0.13">VCT-4</text>
<circle cx="406.3" cy="338.48" r="1.55" fill="#EF5BA8"/>
<text x="410.20" y="339.88" font-size="4.0" stroke="#000" stroke-width="0.13">VCT-5</text></g>
<g id="panelH"><text x="3.50" y="400.40" font-size="8.2" stroke="#000" stroke-width="0.27">H</text>
<defs><filter id="b3" x="-10%" y="-10%" width="120%" height="120%"><feGaussianBlur stdDeviation="0.35"/></filter><filter id="b6" x="-10%" y="-10%" width="120%" height="120%"><feGaussianBlur stdDeviation="0.6"/></filter><filter id="b12" x="-10%" y="-10%" width="120%" height="120%"><feGaussianBlur stdDeviation="1.3"/></filter></defs>
<clipPath id="hc1"><rect x="21.4" y="406.8" width="78.00" height="60.50"/></clipPath>
<rect x="21.40" y="406.80" width="78.00" height="60.50" fill="#000"/>
<g clip-path="url(#hc1)"><g filter="url(#b3)"><ellipse cx="50.5" cy="415.0" rx="1.53" ry="0.92" transform="rotate(152 50.5 415.0)" fill="#1f48c4" opacity="0.93"/><ellipse cx="69.0" cy="450.5" rx="1.62" ry="1.26" transform="rotate(3 69.0 450.5)" fill="#1f48c4" opacity="0.67"/><ellipse cx="97.1" cy="463.9" rx="1.39" ry="0.71" transform="rotate(180 97.1 463.9)" fill="#1f48c4" opacity="0.87"/><ellipse cx="34.0" cy="411.6" rx="1.63" ry="1.21" transform="rotate(117 34.0 411.6)" fill="#3068f4" opacity="0.66"/><ellipse cx="94.9" cy="465.5" rx="1.30" ry="1.07" transform="rotate(82 94.9 465.5)" fill="#3068f4" opacity="0.79"/><ellipse cx="57.5" cy="421.5" rx="1.36" ry="1.00" transform="rotate(145 57.5 421.5)" fill="#2a60f0" opacity="0.69"/><ellipse cx="63.9" cy="449.1" rx="1.51" ry="0.94" transform="rotate(26 63.9 449.1)" fill="#1f48c4" opacity="0.75"/><ellipse cx="61.5" cy="447.2" rx="1.45" ry="0.97" transform="rotate(48 61.5 447.2)" fill="#2a60f0" opacity="0.71"/><ellipse cx="91.8" cy="465.0" rx="1.60" ry="1.07" transform="rotate(99 91.8 465.0)" fill="#2452dc" opacity="0.85"/><ellipse cx="58.9" cy="432.5" rx="1.70" ry="0.96" transform="rotate(31 58.9 432.5)" fill="#3068f4" opacity="0.94"/><ellipse cx="77.2" cy="457.9" rx="1.40" ry="0.78" transform="rotate(166 77.2 457.9)" fill="#2452dc" opacity="0.92"/><ellipse cx="58.7" cy="439.9" rx="1.23" ry="0.84" transform="rotate(118 58.7 439.9)" fill="#2452dc" opacity="0.79"/><ellipse cx="78.4" cy="454.6" rx="1.48" ry="1.00" transform="rotate(120 78.4 454.6)" fill="#2452dc" opacity="0.71"/><ellipse cx="38.7" cy="409.9" rx="1.53" ry="1.16" transform="rotate(10 38.7 409.9)" fill="#3068f4" opacity="0.67"/><ellipse cx="56.8" cy="425.3" rx="1.23" ry="0.72" transform="rotate(71 56.8 425.3)" fill="#3068f4" opacity="0.88"/><ellipse cx="47.1" cy="415.2" rx="1.80" ry="1.20" transform="rotate(45 47.1 415.2)" fill="#1f48c4" opacity="0.66"/><ellipse cx="53.1" cy="420.6" rx="1.49" ry="0.83" transform="rotate(66 53.1 420.6)" fill="#1f48c4" opacity="0.82"/><ellipse cx="70.4" cy="453.1" rx="1.31" ry="0.99" transform="rotate(69 70.4 453.1)" fill="#2452dc" opacity="0.98"/><ellipse cx="33.0" cy="409.0" rx="1.46" ry="0.86" transform="rotate(172 33.0 409.0)" fill="#1f48c4" opacity="0.74"/><ellipse cx="56.4" cy="443.7" rx="1.85" ry="1.01" transform="rotate(26 56.4 443.7)" fill="#1f48c4" opacity="0.68"/><ellipse cx="48.6" cy="412.1" rx="1.30" ry="0.78" transform="rotate(55 48.6 412.1)" fill="#3068f4" opacity="0.79"/><ellipse cx="66.8" cy="452.2" rx="1.82" ry="1.41" transform="rotate(1 66.8 452.2)" fill="#1f48c4" opacity="0.95"/><ellipse cx="90.0" cy="462.8" rx="1.80" ry="1.05" transform="rotate(28 90.0 462.8)" fill="#3068f4" opacity="0.94"/><ellipse cx="75.9" cy="453.8" rx="1.68" ry="1.14" transform="rotate(132 75.9 453.8)" fill="#3068f4" opacity="0.75"/><ellipse cx="81.2" cy="458.4" rx="1.65" ry="0.86" transform="rotate(147 81.2 458.4)" fill="#2452dc" opacity="0.77"/><ellipse cx="59.6" cy="443.3" rx="1.26" ry="0.66" transform="rotate(147 59.6 443.3)" fill="#1f48c4" opacity="0.83"/><ellipse cx="85.4" cy="459.0" rx="1.58" ry="1.06" transform="rotate(129 85.4 459.0)" fill="#2452dc" opacity="0.92"/><ellipse cx="88.5" cy="460.8" rx="1.58" ry="1.07" transform="rotate(55 88.5 460.8)" fill="#1f48c4" opacity="0.94"/><ellipse cx="30.3" cy="408.6" rx="1.36" ry="1.10" transform="rotate(129 30.3 408.6)" fill="#2a60f0" opacity="0.84"/><ellipse cx="43.1" cy="413.2" rx="1.33" ry="0.87" transform="rotate(122 43.1 413.2)" fill="#3068f4" opacity="0.87"/><ellipse cx="39.7" cy="412.2" rx="1.46" ry="0.86" transform="rotate(152 39.7 412.2)" fill="#2452dc" opacity="0.96"/><ellipse cx="51.2" cy="418.2" rx="1.37" ry="0.85" transform="rotate(113 51.2 418.2)" fill="#3068f4" opacity="0.66"/><ellipse cx="30.3" cy="411.6" rx="1.32" ry="1.11" transform="rotate(34 30.3 411.6)" fill="#3068f4" opacity="0.96"/><ellipse cx="74.7" cy="456.1" rx="1.86" ry="1.27" transform="rotate(9 74.7 456.1)" fill="#2452dc" opacity="0.80"/><ellipse cx="73.3" cy="453.1" rx="1.66" ry="1.31" transform="rotate(105 73.3 453.1)" fill="#1f48c4" opacity="0.96"/><ellipse cx="59.9" cy="435.2" rx="1.32" ry="0.79" transform="rotate(115 59.9 435.2)" fill="#2a60f0" opacity="0.96"/><ellipse cx="43.3" cy="410.3" rx="1.49" ry="0.87" transform="rotate(36 43.3 410.3)" fill="#2452dc" opacity="0.90"/><ellipse cx="57.5" cy="427.8" rx="1.37" ry="1.06" transform="rotate(162 57.5 427.8)" fill="#2a60f0" opacity="0.99"/><ellipse cx="56.5" cy="437.6" rx="1.39" ry="0.99" transform="rotate(63 56.5 437.6)" fill="#3068f4" opacity="0.85"/><ellipse cx="86.0" cy="461.8" rx="1.79" ry="1.03" transform="rotate(96 86.0 461.8)" fill="#3068f4" opacity="0.96"/><ellipse cx="55.2" cy="419.3" rx="1.54" ry="0.98" transform="rotate(88 55.2 419.3)" fill="#3068f4" opacity="0.66"/><ellipse cx="94.8" cy="463.0" rx="1.33" ry="0.73" transform="rotate(6 94.8 463.0)" fill="#3068f4" opacity="0.85"/><ellipse cx="57.2" cy="434.2" rx="1.62" ry="0.81" transform="rotate(152 57.2 434.2)" fill="#3068f4" opacity="0.67"/><ellipse cx="82.8" cy="461.0" rx="1.87" ry="1.45" transform="rotate(162 82.8 461.0)" fill="#2a60f0" opacity="0.77"/><ellipse cx="36.1" cy="409.7" rx="1.36" ry="0.69" transform="rotate(28 36.1 409.7)" fill="#2452dc" opacity="0.73"/><ellipse cx="46.2" cy="410.9" rx="1.76" ry="1.21" transform="rotate(15 46.2 410.9)" fill="#2452dc" opacity="0.73"/><ellipse cx="60.3" cy="429.1" rx="1.43" ry="0.76" transform="rotate(58 60.3 429.1)" fill="#2452dc" opacity="0.91"/><ellipse cx="54.7" cy="422.7" rx="1.97" ry="1.16" transform="rotate(64 54.7 422.7)" fill="#1f48c4" opacity="0.72"/><ellipse cx="55.0" cy="441.2" rx="1.64" ry="0.98" transform="rotate(1 55.0 441.2)" fill="#1f48c4" opacity="0.94"/><ellipse cx="83.5" cy="457.5" rx="1.91" ry="1.54" transform="rotate(178 83.5 457.5)" fill="#1f48c4" opacity="0.68"/><ellipse cx="59.2" cy="446.0" rx="2.00" ry="1.59" transform="rotate(71 59.2 446.0)" fill="#2452dc" opacity="0.80"/><ellipse cx="53.3" cy="416.8" rx="1.87" ry="1.12" transform="rotate(148 53.3 416.8)" fill="#1f48c4" opacity="0.66"/><ellipse cx="66.8" cy="449.2" rx="1.84" ry="1.07" transform="rotate(147 66.8 449.2)" fill="#2a60f0" opacity="0.71"/><ellipse cx="97.6" cy="466.9" rx="1.75" ry="1.39" transform="rotate(44 97.6 466.9)" fill="#1f48c4" opacity="0.93"/><ellipse cx="58.7" cy="423.7" rx="1.98" ry="1.50" transform="rotate(61 58.7 423.7)" fill="#3068f4" opacity="0.73"/><ellipse cx="72.2" cy="455.3" rx="1.89" ry="1.20" transform="rotate(57 72.2 455.3)" fill="#2452dc" opacity="0.78"/><ellipse cx="80.7" cy="456.0" rx="1.59" ry="1.03" transform="rotate(106 80.7 456.0)" fill="#2452dc" opacity="0.92"/><ellipse cx="92.6" cy="461.6" rx="1.77" ry="1.15" transform="rotate(133 92.6 461.6)" fill="#1f48c4" opacity="0.66"/><ellipse cx="41.0" cy="409.1" rx="1.34" ry="0.86" transform="rotate(24 41.0 409.1)" fill="#2452dc" opacity="0.89"/><ellipse cx="59.4" cy="426.1" rx="1.32" ry="0.74" transform="rotate(105 59.4 426.1)" fill="#2a60f0" opacity="0.99"/><ellipse cx="57.7" cy="430.4" rx="1.70" ry="1.30" transform="rotate(85 57.7 430.4)" fill="#2452dc" opacity="0.85"/></g><g filter="url(#b3)"><ellipse cx="42.1" cy="461.4" rx="1.85" ry="0.94" transform="rotate(138 42.1 461.4)" fill="#2452dc" opacity="0.70"/><ellipse cx="29.9" cy="430.3" rx="1.42" ry="0.76" transform="rotate(14 29.9 430.3)" fill="#1f48c4" opacity="0.68"/><ellipse cx="29.3" cy="434.4" rx="1.33" ry="0.89" transform="rotate(151 29.3 434.4)" fill="#2a60f0" opacity="0.76"/><ellipse cx="36.8" cy="457.7" rx="1.29" ry="0.73" transform="rotate(141 36.8 457.7)" fill="#2452dc" opacity="0.68"/><ellipse cx="26.9" cy="424.5" rx="1.35" ry="0.94" transform="rotate(144 26.9 424.5)" fill="#2452dc" opacity="0.84"/><ellipse cx="26.0" cy="419.3" rx="1.53" ry="1.17" transform="rotate(34 26.0 419.3)" fill="#1f48c4" opacity="0.70"/><ellipse cx="39.6" cy="458.7" rx="1.31" ry="1.09" transform="rotate(100 39.6 458.7)" fill="#2452dc" opacity="0.98"/><ellipse cx="32.2" cy="447.8" rx="1.76" ry="1.24" transform="rotate(110 32.2 447.8)" fill="#3068f4" opacity="0.67"/><ellipse cx="34.2" cy="453.7" rx="1.94" ry="1.42" transform="rotate(29 34.2 453.7)" fill="#2a60f0" opacity="1.00"/><ellipse cx="28.4" cy="437.4" rx="1.27" ry="0.96" transform="rotate(38 28.4 437.4)" fill="#2a60f0" opacity="0.74"/><ellipse cx="30.2" cy="445.4" rx="1.66" ry="1.12" transform="rotate(104 30.2 445.4)" fill="#2a60f0" opacity="0.80"/><ellipse cx="27.9" cy="441.8" rx="1.28" ry="0.99" transform="rotate(112 27.9 441.8)" fill="#2a60f0" opacity="0.83"/><ellipse cx="47.0" cy="465.4" rx="1.57" ry="0.82" transform="rotate(35 47.0 465.4)" fill="#2452dc" opacity="0.93"/><ellipse cx="27.9" cy="428.1" rx="1.84" ry="0.95" transform="rotate(116 27.9 428.1)" fill="#2452dc" opacity="0.82"/><ellipse cx="45.0" cy="466.6" rx="1.29" ry="0.81" transform="rotate(162 45.0 466.6)" fill="#1f48c4" opacity="0.77"/><ellipse cx="45.3" cy="463.3" rx="1.69" ry="0.96" transform="rotate(39 45.3 463.3)" fill="#2452dc" opacity="0.91"/><ellipse cx="26.8" cy="435.3" rx="1.86" ry="1.17" transform="rotate(144 26.8 435.3)" fill="#2a60f0" opacity="0.70"/><ellipse cx="30.8" cy="441.5" rx="1.33" ry="0.94" transform="rotate(6 30.8 441.5)" fill="#1f48c4" opacity="0.83"/><ellipse cx="26.0" cy="422.1" rx="1.50" ry="0.76" transform="rotate(46 26.0 422.1)" fill="#1f48c4" opacity="0.83"/><ellipse cx="35.0" cy="450.8" rx="1.32" ry="0.75" transform="rotate(103 35.0 450.8)" fill="#1f48c4" opacity="0.75"/><ellipse cx="30.2" cy="426.7" rx="1.71" ry="0.98" transform="rotate(103 30.2 426.7)" fill="#1f48c4" opacity="0.74"/><ellipse cx="37.9" cy="455.4" rx="1.59" ry="1.13" transform="rotate(119 37.9 455.4)" fill="#3068f4" opacity="0.93"/><ellipse cx="42.7" cy="465.2" rx="1.76" ry="0.93" transform="rotate(138 42.7 465.2)" fill="#3068f4" opacity="0.95"/><ellipse cx="32.6" cy="451.1" rx="1.30" ry="1.10" transform="rotate(148 32.6 451.1)" fill="#3068f4" opacity="0.70"/><ellipse cx="28.7" cy="422.3" rx="1.50" ry="1.21" transform="rotate(44 28.7 422.3)" fill="#1f48c4" opacity="0.77"/><ellipse cx="27.4" cy="432.2" rx="1.29" ry="0.89" transform="rotate(141 27.4 432.2)" fill="#1f48c4" opacity="0.69"/><ellipse cx="39.5" cy="461.5" rx="1.90" ry="1.38" transform="rotate(66 39.5 461.5)" fill="#3068f4" opacity="0.99"/><ellipse cx="27.3" cy="417.3" rx="1.63" ry="1.08" transform="rotate(128 27.3 417.3)" fill="#1f48c4" opacity="0.81"/><ellipse cx="36.5" cy="452.9" rx="1.72" ry="1.25" transform="rotate(125 36.5 452.9)" fill="#1f48c4" opacity="0.89"/><ellipse cx="30.5" cy="439.0" rx="1.27" ry="0.97" transform="rotate(102 30.5 439.0)" fill="#1f48c4" opacity="0.97"/></g><g filter="url(#b3)"><ellipse cx="41.8" cy="428.9" rx="1.19" ry="0.62" transform="rotate(146 41.8 428.9)" fill="#1f45b8" opacity="0.75"/><ellipse cx="60.9" cy="460.4" rx="1.42" ry="0.98" transform="rotate(99 60.9 460.4)" fill="#2450d0" opacity="0.94"/><ellipse cx="53.2" cy="452.7" rx="1.10" ry="0.76" transform="rotate(167 53.2 452.7)" fill="#2450d0" opacity="0.79"/><ellipse cx="54.6" cy="431.1" rx="1.62" ry="0.85" transform="rotate(110 54.6 431.1)" fill="#2450d0" opacity="0.89"/><ellipse cx="48.5" cy="458.9" rx="1.10" ry="0.57" transform="rotate(100 48.5 458.9)" fill="#1c3da6" opacity="0.82"/><ellipse cx="49.3" cy="441.6" rx="1.18" ry="0.60" transform="rotate(32 49.3 441.6)" fill="#2450d0" opacity="0.75"/><ellipse cx="32.7" cy="423.8" rx="1.56" ry="1.05" transform="rotate(175 32.7 423.8)" fill="#1c3da6" opacity="0.93"/><ellipse cx="40.0" cy="417.0" rx="1.06" ry="0.85" transform="rotate(117 40.0 417.0)" fill="#2a5fe6" opacity="0.67"/><ellipse cx="35.4" cy="434.0" rx="1.61" ry="1.17" transform="rotate(172 35.4 434.0)" fill="#2a5fe6" opacity="0.66"/><ellipse cx="47.4" cy="465.8" rx="1.65" ry="1.01" transform="rotate(15 47.4 465.8)" fill="#2450d0" opacity="0.73"/><ellipse cx="54.2" cy="464.9" rx="1.47" ry="1.20" transform="rotate(167 54.2 464.9)" fill="#1f45b8" opacity="0.66"/><ellipse cx="37.6" cy="450.2" rx="1.66" ry="1.41" transform="rotate(11 37.6 450.2)" fill="#1f45b8" opacity="0.80"/><ellipse cx="35.4" cy="417.8" rx="1.52" ry="1.18" transform="rotate(26 35.4 417.8)" fill="#1c3da6" opacity="0.72"/><ellipse cx="39.0" cy="432.4" rx="1.41" ry="1.08" transform="rotate(0 39.0 432.4)" fill="#1c3da6" opacity="0.83"/><ellipse cx="47.9" cy="447.5" rx="1.65" ry="1.03" transform="rotate(91 47.9 447.5)" fill="#1c3da6" opacity="0.66"/><ellipse cx="57.7" cy="455.5" rx="1.08" ry="0.74" transform="rotate(157 57.7 455.5)" fill="#1c3da6" opacity="0.81"/><ellipse cx="47.5" cy="435.5" rx="1.53" ry="0.84" transform="rotate(40 47.5 435.5)" fill="#2450d0" opacity="0.74"/><ellipse cx="34.6" cy="438.4" rx="1.18" ry="0.98" transform="rotate(153 34.6 438.4)" fill="#1c3da6" opacity="0.93"/><ellipse cx="72.1" cy="463.1" rx="1.69" ry="1.02" transform="rotate(65 72.1 463.1)" fill="#1f45b8" opacity="0.94"/><ellipse cx="37.9" cy="437.9" rx="1.42" ry="1.05" transform="rotate(37 37.9 437.9)" fill="#2a5fe6" opacity="0.76"/><ellipse cx="43.7" cy="463.9" rx="1.50" ry="1.15" transform="rotate(92 43.7 463.9)" fill="#2450d0" opacity="0.68"/><ellipse cx="47.2" cy="426.1" rx="1.56" ry="1.05" transform="rotate(89 47.2 426.1)" fill="#2450d0" opacity="0.88"/><ellipse cx="43.7" cy="442.8" rx="1.49" ry="0.97" transform="rotate(113 43.7 442.8)" fill="#2a5fe6" opacity="0.90"/><ellipse cx="58.8" cy="463.7" rx="1.30" ry="0.67" transform="rotate(5 58.8 463.7)" fill="#2450d0" opacity="0.79"/><ellipse cx="67.1" cy="463.2" rx="1.32" ry="0.84" transform="rotate(175 67.1 463.2)" fill="#2450d0" opacity="0.76"/><ellipse cx="43.6" cy="458.7" rx="1.10" ry="0.61" transform="rotate(70 43.6 458.7)" fill="#2450d0" opacity="0.94"/><ellipse cx="46.5" cy="432.5" rx="1.45" ry="0.76" transform="rotate(72 46.5 432.5)" fill="#1f45b8" opacity="0.67"/><ellipse cx="76.4" cy="465.9" rx="1.40" ry="0.91" transform="rotate(8 76.4 465.9)" fill="#2a5fe6" opacity="0.74"/><ellipse cx="42.2" cy="425.4" rx="1.39" ry="1.14" transform="rotate(40 42.2 425.4)" fill="#2450d0" opacity="0.68"/><ellipse cx="46.2" cy="438.9" rx="1.45" ry="1.11" transform="rotate(150 46.2 438.9)" fill="#2a5fe6" opacity="0.85"/><ellipse cx="50.3" cy="464.2" rx="1.08" ry="0.78" transform="rotate(75 50.3 464.2)" fill="#1c3da6" opacity="0.87"/><ellipse cx="52.6" cy="457.3" rx="1.25" ry="1.02" transform="rotate(77 52.6 457.3)" fill="#2450d0" opacity="0.66"/><ellipse cx="63.4" cy="456.5" rx="1.60" ry="0.81" transform="rotate(172 63.4 456.5)" fill="#1c3da6" opacity="0.73"/><ellipse cx="44.3" cy="454.7" rx="1.44" ry="0.80" transform="rotate(8 44.3 454.7)" fill="#2a5fe6" opacity="0.94"/><ellipse cx="65.6" cy="460.0" rx="1.40" ry="0.72" transform="rotate(113 65.6 460.0)" fill="#2450d0" opacity="0.75"/><ellipse cx="36.7" cy="426.4" rx="1.63" ry="1.38" transform="rotate(145 36.7 426.4)" fill="#1c3da6" opacity="0.76"/><ellipse cx="57.7" cy="460.1" rx="1.64" ry="1.32" transform="rotate(162 57.7 460.1)" fill="#2450d0" opacity="0.99"/><ellipse cx="49.3" cy="430.2" rx="1.69" ry="1.05" transform="rotate(64 49.3 430.2)" fill="#1c3da6" opacity="0.94"/></g><g filter="url(#b3)"><ellipse cx="24.5" cy="410.6" rx="1.45" ry="1.01" transform="rotate(180 24.5 410.6)" fill="#2a60f0" opacity="0.81"/><ellipse cx="21.6" cy="416.4" rx="1.11" ry="0.67" transform="rotate(0 21.6 416.4)" fill="#1f48c4" opacity="0.86"/><ellipse cx="21.2" cy="413.9" rx="1.37" ry="1.15" transform="rotate(161 21.2 413.9)" fill="#2452dc" opacity="0.84"/><ellipse cx="27.0" cy="413.5" rx="1.10" ry="0.81" transform="rotate(41 27.0 413.5)" fill="#2a60f0" opacity="0.86"/><ellipse cx="25.5" cy="408.4" rx="1.70" ry="1.35" transform="rotate(36 25.5 408.4)" fill="#2a60f0" opacity="0.96"/><ellipse cx="21.9" cy="407.6" rx="1.08" ry="0.71" transform="rotate(25 21.9 407.6)" fill="#3068f4" opacity="0.90"/><ellipse cx="24.9" cy="414.2" rx="1.40" ry="1.14" transform="rotate(91 24.9 414.2)" fill="#2452dc" opacity="0.79"/><ellipse cx="27.3" cy="409.3" rx="1.18" ry="0.94" transform="rotate(21 27.3 409.3)" fill="#3068f4" opacity="0.69"/></g><path d="M78.8 455.2h0M80.6 458.4h0M86.4 459.2h0M67.3 450.3h0M37.1 411.2h0M33.5 408.9h0M79.7 455.6h0M56.1 440.5h0M59.6 447.1h0M60 447.3h0M41.5 409.2h0M77.4 457.6h0M36.1 410.1h0M73.6 452.5h0M59.3 428.3h0M59.5 427.7h0M58.1 437.9h0M86.8 459.8h0M54.4 419.1h0M54.7 420.2h0M96.5 465.5h0M35.1 411.2h0M57.9 431.8h0M58 440.7h0M44.4 410.3h0M54.2 420.5h0M35.4 454.8h0M41.7 463.9h0M41.4 462h0M27.4 434.8h0M39.7 459.3h0M34.9 451.5h0M26.5 435.3h0M35.5 454.7h0M25.4 420.1h0M37.9 456.7h0M27 438.4h0M28.8 426.1h0" stroke="#d6cc20" stroke-width="0.7" stroke-linecap="round" fill="none" stroke-opacity="0.9"/><path d="M64.8 454.5q1.2 0.2 1.6 1.4" stroke="#f2e61e" stroke-width="0.6" fill="none"/><path transform="translate(47.5 456.5) rotate(-35) scale(0.95)" d="M0 0L-2.6 -1.2L-2.0 -0.35L-4.2 -0.35L-4.2 0.35L-2.0 0.35L-2.6 1.2Z" fill="#fff"/><path transform="translate(65.2 456.5) rotate(-50) scale(0.95)" d="M0 0L-2.6 -1.2L-2.0 -0.35L-4.2 -0.35L-4.2 0.35L-2.0 0.35L-2.6 1.2Z" fill="#fff"/><rect x="92.20" y="464.80" width="5.40" height="0.80" fill="#eee"/></g>
<text x="97.9" y="413.4" font-size="4.85" text-anchor="end" fill="#1e6fe0">DAPI</text>
<text x="82.7" y="413.4" font-size="4.85" text-anchor="end" fill="#f2e61e">CLIP1</text>
<clipPath id="hc2"><rect x="107.0" y="406.8" width="77.90" height="60.50"/></clipPath>
<rect x="107.00" y="406.80" width="77.90" height="60.50" fill="#000"/>
<g clip-path="url(#hc2)"><path d="M105.0 405.0C106.2 402.0 110.4 406.0 112.2 407.5C113.9 409.0 114.9 412.1 115.6 414.2C116.3 416.3 116.8 418.5 116.4 420.3C116.1 422.1 114.9 423.9 113.6 425.0C112.3 426.1 110.1 427.0 108.7 427.0C107.3 427.1 105.6 429.1 105.0 425.4C104.4 421.7 103.8 408.0 105.0 405.0Z" fill="#a8162c" filter="url(#b3)"/><path d="M105.0 405.0C106.2 402.0 110.4 406.0 112.2 407.5C113.9 409.0 114.9 412.1 115.6 414.2C116.3 416.3 116.8 418.5 116.4 420.3C116.1 422.1 114.9 423.9 113.6 425.0C112.3 426.1 110.1 427.0 108.7 427.0C107.3 427.1 105.6 429.1 105.0 425.4C104.4 421.7 103.8 408.0 105.0 405.0Z" fill="none" stroke="#f0283a" stroke-width="0.9" filter="url(#b3)"/><path d="M131.5 466.6C130.5 465.7 127.3 463.2 125.4 461.1C123.5 459.0 121.7 456.5 120.3 453.9C119.0 451.4 118.1 448.5 117.3 445.8C116.4 443.1 115.4 440.4 115.2 437.6C115.1 434.9 115.7 432.0 116.2 429.5C116.8 426.9 117.3 424.7 118.3 422.4C119.3 420.0 120.5 417.3 122.4 415.6C124.2 414.0 127.3 412.8 129.5 412.4C131.7 412.0 133.7 412.2 135.6 413.2C137.5 414.2 139.3 416.4 140.7 418.3C142.1 420.1 143.2 422.2 143.7 424.4C144.3 426.6 144.1 429.4 144.0 431.5C143.8 433.7 142.3 435.2 142.7 437.2C143.2 439.3 144.9 441.5 146.8 443.7C148.7 446.0 151.4 448.7 153.9 450.9C156.5 453.1 159.4 455.0 162.1 456.8C164.8 458.6 166.5 460.4 170.2 461.7C174.0 463.0 182.1 464.1 184.5 464.5" stroke="#86142c" stroke-width="3.6" fill="none" stroke-linecap="round" filter="url(#b3)" opacity="0.9"/><path d="M130.5 467.8C129.4 466.8 126.1 464.3 124.2 462.1C122.3 460.0 120.3 457.3 118.9 454.7C117.5 452.0 116.6 449.1 115.7 446.3C114.9 443.4 113.8 440.6 113.6 437.7C113.5 434.9 114.1 431.8 114.7 429.2C115.2 426.5 115.7 424.2 116.8 421.7C117.9 419.3 119.2 416.3 121.3 414.4C123.4 412.6 126.7 411.2 129.2 410.8C131.7 410.4 134.2 410.7 136.3 411.8C138.5 412.9 140.5 415.3 142.0 417.3C143.5 419.4 144.7 421.6 145.3 424.0C145.9 426.4 145.7 429.5 145.5 431.7C145.4 433.8 143.9 435.0 144.3 436.9C144.7 438.7 146.3 440.6 148.0 442.7C149.8 444.9 152.5 447.5 155.0 449.7C157.5 451.8 160.3 453.7 163.0 455.5C165.6 457.2 167.1 458.9 170.8 460.2C174.4 461.4 182.5 462.5 184.8 463.0" stroke="#ec2a40" stroke-width="0.9" fill="none" filter="url(#b3)"/><path d="M132.6 465.4C131.6 464.5 128.4 462.0 126.6 460.0C124.8 458.0 123.0 455.6 121.7 453.2C120.4 450.7 119.6 447.9 118.8 445.3C118.0 442.7 117.0 440.1 116.8 437.5C116.7 435.0 117.3 432.2 117.8 429.8C118.3 427.4 118.8 425.2 119.7 423.0C120.7 420.8 121.7 418.3 123.4 416.8C125.1 415.3 127.9 414.3 129.8 413.9C131.7 413.6 133.2 413.7 134.9 414.6C136.5 415.5 138.2 417.5 139.4 419.2C140.6 420.9 141.7 422.7 142.2 424.8C142.7 426.8 142.5 429.3 142.4 431.4C142.2 433.5 140.6 435.4 141.2 437.6C141.7 439.8 143.6 442.3 145.6 444.8C147.5 447.2 150.3 449.9 152.9 452.1C155.5 454.3 158.4 456.3 161.2 458.1C164.0 460.0 165.9 461.9 169.7 463.2C173.5 464.5 181.8 465.6 184.2 466.1" stroke="#d8243c" stroke-width="0.7" fill="none" filter="url(#b3)" opacity="0.9"/><path d="M105.4 452.9C105.9 454.1 107.4 457.7 108.1 460.0C108.8 462.4 109.3 466.0 109.5 467.2" stroke="#86142c" stroke-width="3.6" fill="none" stroke-linecap="round" filter="url(#b3)" opacity="0.9"/><path d="M106.9 452.4C107.4 453.6 108.9 457.2 109.6 459.6C110.3 462.0 110.8 465.7 111.1 466.9" stroke="#ec2a40" stroke-width="0.9" fill="none" filter="url(#b3)"/><path d="M103.9 453.5C104.4 454.6 105.9 458.2 106.6 460.5C107.2 462.8 107.7 466.3 108.0 467.5" stroke="#d8243c" stroke-width="0.7" fill="none" filter="url(#b3)" opacity="0.9"/><g filter="url(#b3)"><ellipse cx="135.1" cy="462.2" rx="1.66" ry="1.28" transform="rotate(120 135.1 462.2)" fill="#1c3da6" opacity="0.86"/><ellipse cx="128.8" cy="438.4" rx="1.08" ry="0.67" transform="rotate(10 128.8 438.4)" fill="#1f45b8" opacity="0.67"/><ellipse cx="130.2" cy="445.1" rx="1.43" ry="0.88" transform="rotate(75 130.2 445.1)" fill="#2450d0" opacity="0.75"/><ellipse cx="119.3" cy="443.8" rx="1.61" ry="1.08" transform="rotate(4 119.3 443.8)" fill="#1c3da6" opacity="0.74"/><ellipse cx="138.4" cy="451.3" rx="1.34" ry="0.97" transform="rotate(81 138.4 451.3)" fill="#2450d0" opacity="0.95"/><ellipse cx="122.8" cy="445.6" rx="1.49" ry="0.79" transform="rotate(6 122.8 445.6)" fill="#1f45b8" opacity="0.74"/><ellipse cx="136.8" cy="467.2" rx="1.31" ry="0.69" transform="rotate(116 136.8 467.2)" fill="#1c3da6" opacity="0.71"/><ellipse cx="136.5" cy="420.3" rx="1.44" ry="1.01" transform="rotate(66 136.5 420.3)" fill="#2450d0" opacity="0.87"/><ellipse cx="155.7" cy="458.3" rx="1.55" ry="1.18" transform="rotate(74 155.7 458.3)" fill="#1f45b8" opacity="0.94"/><ellipse cx="123.3" cy="434.3" rx="1.58" ry="1.20" transform="rotate(54 123.3 434.3)" fill="#2450d0" opacity="0.68"/><ellipse cx="119.7" cy="428.1" rx="1.02" ry="0.81" transform="rotate(59 119.7 428.1)" fill="#1c3da6" opacity="0.70"/><ellipse cx="127.7" cy="424.0" rx="1.07" ry="0.81" transform="rotate(42 127.7 424.0)" fill="#1c3da6" opacity="0.75"/><ellipse cx="140.1" cy="442.6" rx="1.31" ry="0.99" transform="rotate(29 140.1 442.6)" fill="#1c3da6" opacity="0.69"/><ellipse cx="147.1" cy="466.5" rx="1.62" ry="0.86" transform="rotate(146 147.1 466.5)" fill="#2a5fe6" opacity="0.90"/><ellipse cx="139.2" cy="445.5" rx="1.60" ry="1.05" transform="rotate(65 139.2 445.5)" fill="#1f45b8" opacity="0.80"/><ellipse cx="119.0" cy="439.5" rx="1.12" ry="0.71" transform="rotate(167 119.0 439.5)" fill="#1f45b8" opacity="0.92"/><ellipse cx="165.6" cy="462.9" rx="1.46" ry="1.21" transform="rotate(125 165.6 462.9)" fill="#2a5fe6" opacity="0.91"/><ellipse cx="152.5" cy="466.3" rx="1.51" ry="0.81" transform="rotate(101 152.5 466.3)" fill="#2450d0" opacity="0.88"/><ellipse cx="127.2" cy="441.5" rx="1.18" ry="0.69" transform="rotate(12 127.2 441.5)" fill="#2a5fe6" opacity="0.73"/><ellipse cx="136.8" cy="429.6" rx="1.58" ry="1.14" transform="rotate(135 136.8 429.6)" fill="#2a5fe6" opacity="0.69"/><ellipse cx="141.3" cy="447.8" rx="1.65" ry="0.90" transform="rotate(140 141.3 447.8)" fill="#1f45b8" opacity="0.76"/><ellipse cx="133.4" cy="433.1" rx="1.07" ry="0.76" transform="rotate(157 133.4 433.1)" fill="#2a5fe6" opacity="0.69"/><ellipse cx="137.0" cy="436.0" rx="1.66" ry="1.40" transform="rotate(139 137.0 436.0)" fill="#2a5fe6" opacity="0.65"/><ellipse cx="133.9" cy="422.1" rx="1.00" ry="0.67" transform="rotate(128 133.9 422.1)" fill="#1f45b8" opacity="0.94"/><ellipse cx="139.1" cy="433.2" rx="1.18" ry="0.60" transform="rotate(33 139.1 433.2)" fill="#1f45b8" opacity="0.92"/><ellipse cx="150.0" cy="456.6" rx="1.27" ry="0.65" transform="rotate(31 150.0 456.6)" fill="#2a5fe6" opacity="0.67"/><ellipse cx="123.5" cy="421.0" rx="1.35" ry="1.08" transform="rotate(171 123.5 421.0)" fill="#2450d0" opacity="0.91"/><ellipse cx="156.3" cy="465.5" rx="1.51" ry="1.21" transform="rotate(155 156.3 465.5)" fill="#2a5fe6" opacity="0.78"/><ellipse cx="150.7" cy="460.5" rx="1.13" ry="0.68" transform="rotate(38 150.7 460.5)" fill="#1c3da6" opacity="0.81"/><ellipse cx="128.7" cy="430.8" rx="1.39" ry="1.07" transform="rotate(160 128.7 430.8)" fill="#2450d0" opacity="0.79"/><ellipse cx="127.3" cy="449.5" rx="1.31" ry="0.76" transform="rotate(47 127.3 449.5)" fill="#2450d0" opacity="0.72"/><ellipse cx="132.7" cy="429.9" rx="1.19" ry="0.87" transform="rotate(26 132.7 429.9)" fill="#2a5fe6" opacity="0.81"/><ellipse cx="132.6" cy="449.4" rx="1.66" ry="0.91" transform="rotate(107 132.6 449.4)" fill="#1c3da6" opacity="0.91"/><ellipse cx="123.7" cy="454.9" rx="1.10" ry="0.86" transform="rotate(43 123.7 454.9)" fill="#1f45b8" opacity="0.94"/><ellipse cx="126.0" cy="456.9" rx="1.12" ry="0.81" transform="rotate(15 126.0 456.9)" fill="#1c3da6" opacity="0.77"/><ellipse cx="139.2" cy="427.5" rx="1.65" ry="1.36" transform="rotate(108 139.2 427.5)" fill="#2a5fe6" opacity="0.77"/></g><g filter="url(#b3)"><ellipse cx="108.6" cy="416.6" rx="1.45" ry="0.86" transform="rotate(2 108.6 416.6)" fill="#2c50e0" opacity="0.74"/><ellipse cx="107.5" cy="406.0" rx="1.42" ry="0.88" transform="rotate(97 107.5 406.0)" fill="#3050e0" opacity="0.88"/><ellipse cx="106.2" cy="422.1" rx="1.15" ry="0.72" transform="rotate(73 106.2 422.1)" fill="#3050e0" opacity="0.79"/><ellipse cx="112.9" cy="416.2" rx="1.08" ry="0.57" transform="rotate(126 112.9 416.2)" fill="#3b46d8" opacity="0.93"/><ellipse cx="112.9" cy="409.8" rx="1.31" ry="0.89" transform="rotate(66 112.9 409.8)" fill="#3050e0" opacity="1.00"/><ellipse cx="107.8" cy="409.0" rx="1.40" ry="0.89" transform="rotate(69 107.8 409.0)" fill="#3b46d8" opacity="0.84"/><ellipse cx="106.6" cy="425.0" rx="1.41" ry="0.92" transform="rotate(76 106.6 425.0)" fill="#3050e0" opacity="0.77"/><ellipse cx="113.7" cy="413.6" rx="1.10" ry="0.77" transform="rotate(19 113.7 413.6)" fill="#2c50e0" opacity="0.86"/><ellipse cx="109.1" cy="422.8" rx="1.19" ry="0.63" transform="rotate(176 109.1 422.8)" fill="#2c50e0" opacity="0.99"/><ellipse cx="105.2" cy="408.6" rx="1.18" ry="0.93" transform="rotate(85 105.2 408.6)" fill="#3b46d8" opacity="0.78"/><ellipse cx="115.3" cy="416.4" rx="1.12" ry="0.57" transform="rotate(156 115.3 416.4)" fill="#3050e0" opacity="0.69"/><ellipse cx="116.2" cy="419.0" rx="1.36" ry="0.77" transform="rotate(161 116.2 419.0)" fill="#3b46d8" opacity="0.90"/><ellipse cx="110.5" cy="409.9" rx="1.33" ry="0.86" transform="rotate(46 110.5 409.9)" fill="#3b46d8" opacity="0.77"/><ellipse cx="112.5" cy="422.3" rx="1.31" ry="0.82" transform="rotate(142 112.5 422.3)" fill="#3050e0" opacity="0.83"/><ellipse cx="109.9" cy="407.1" rx="1.01" ry="0.78" transform="rotate(21 109.9 407.1)" fill="#3b46d8" opacity="0.99"/><ellipse cx="106.2" cy="412.1" rx="1.15" ry="0.72" transform="rotate(79 106.2 412.1)" fill="#3b46d8" opacity="0.82"/></g><g filter="url(#b3)"><ellipse cx="117.0" cy="424.7" rx="1.50" ry="1.15" transform="rotate(162 117.0 424.7)" fill="#4a40d0" opacity="0.82"/><ellipse cx="167.0" cy="459.4" rx="1.15" ry="0.60" transform="rotate(73 167.0 459.4)" fill="#2c50e0" opacity="1.00"/><ellipse cx="143.2" cy="438.2" rx="1.03" ry="0.64" transform="rotate(53 143.2 438.2)" fill="#3b46d8" opacity="0.78"/><ellipse cx="116.2" cy="430.5" rx="1.19" ry="0.67" transform="rotate(136 116.2 430.5)" fill="#4a40d0" opacity="0.70"/><ellipse cx="146.8" cy="443.1" rx="1.14" ry="0.84" transform="rotate(158 146.8 443.1)" fill="#2c50e0" opacity="0.73"/><ellipse cx="170.2" cy="462.1" rx="1.45" ry="1.08" transform="rotate(100 170.2 462.1)" fill="#2c50e0" opacity="0.87"/><ellipse cx="161.5" cy="456.7" rx="1.03" ry="0.57" transform="rotate(79 161.5 456.7)" fill="#3050e0" opacity="0.93"/><ellipse cx="181.7" cy="463.4" rx="1.10" ry="0.59" transform="rotate(74 181.7 463.4)" fill="#2c50e0" opacity="0.94"/><ellipse cx="143.6" cy="435.3" rx="1.21" ry="0.87" transform="rotate(109 143.6 435.3)" fill="#4a40d0" opacity="0.97"/><ellipse cx="117.3" cy="447.4" rx="1.23" ry="0.93" transform="rotate(166 117.3 447.4)" fill="#4a40d0" opacity="0.97"/><ellipse cx="115.7" cy="442.9" rx="1.30" ry="0.72" transform="rotate(81 115.7 442.9)" fill="#4a40d0" opacity="0.93"/><ellipse cx="163.5" cy="457.4" rx="1.05" ry="0.80" transform="rotate(176 163.5 457.4)" fill="#3050e0" opacity="0.78"/><ellipse cx="143.3" cy="431.0" rx="1.18" ry="0.77" transform="rotate(21 143.3 431.0)" fill="#2c50e0" opacity="0.72"/><ellipse cx="175.2" cy="462.2" rx="1.09" ry="0.65" transform="rotate(114 175.2 462.2)" fill="#2c50e0" opacity="0.95"/><ellipse cx="172.1" cy="462.8" rx="1.28" ry="0.83" transform="rotate(124 172.1 462.8)" fill="#3050e0" opacity="0.86"/><ellipse cx="139.9" cy="418.4" rx="1.07" ry="0.70" transform="rotate(47 139.9 418.4)" fill="#3050e0" opacity="0.72"/><ellipse cx="130.0" cy="412.2" rx="1.10" ry="0.77" transform="rotate(136 130.0 412.2)" fill="#4a40d0" opacity="0.82"/><ellipse cx="144.4" cy="426.9" rx="1.00" ry="0.74" transform="rotate(56 144.4 426.9)" fill="#3b46d8" opacity="0.92"/><ellipse cx="116.1" cy="432.6" rx="1.45" ry="1.16" transform="rotate(116 116.1 432.6)" fill="#2c50e0" opacity="0.91"/><ellipse cx="158.7" cy="454.6" rx="1.37" ry="0.82" transform="rotate(93 158.7 454.6)" fill="#2c50e0" opacity="0.88"/><ellipse cx="142.4" cy="423.3" rx="1.23" ry="0.75" transform="rotate(131 142.4 423.3)" fill="#3b46d8" opacity="0.91"/><ellipse cx="124.5" cy="414.0" rx="1.02" ry="0.68" transform="rotate(5 124.5 414.0)" fill="#4a40d0" opacity="0.79"/><ellipse cx="124.8" cy="459.6" rx="1.05" ry="0.66" transform="rotate(100 124.8 459.6)" fill="#4a40d0" opacity="0.96"/><ellipse cx="144.4" cy="433.2" rx="1.28" ry="0.90" transform="rotate(138 144.4 433.2)" fill="#3b46d8" opacity="0.68"/><ellipse cx="126.6" cy="461.3" rx="1.33" ry="0.67" transform="rotate(19 126.6 461.3)" fill="#2c50e0" opacity="0.84"/><ellipse cx="144.0" cy="440.1" rx="1.14" ry="0.58" transform="rotate(154 144.0 440.1)" fill="#3050e0" opacity="0.98"/><ellipse cx="121.3" cy="418.1" rx="1.02" ry="0.75" transform="rotate(89 121.3 418.1)" fill="#4a40d0" opacity="0.73"/><ellipse cx="115.7" cy="436.1" rx="1.01" ry="0.82" transform="rotate(92 115.7 436.1)" fill="#2c50e0" opacity="0.76"/><ellipse cx="155.0" cy="451.9" rx="1.00" ry="0.70" transform="rotate(32 155.0 451.9)" fill="#3b46d8" opacity="0.68"/><ellipse cx="151.1" cy="447.3" rx="1.47" ry="0.75" transform="rotate(119 151.1 447.3)" fill="#3050e0" opacity="0.93"/><ellipse cx="120.7" cy="453.3" rx="1.09" ry="0.91" transform="rotate(26 120.7 453.3)" fill="#3b46d8" opacity="0.91"/><ellipse cx="136.4" cy="413.1" rx="1.10" ry="0.93" transform="rotate(132 136.4 413.1)" fill="#3b46d8" opacity="1.00"/><ellipse cx="153.9" cy="450.2" rx="1.40" ry="0.78" transform="rotate(147 153.9 450.2)" fill="#4a40d0" opacity="0.90"/><ellipse cx="138.6" cy="416.7" rx="1.34" ry="0.92" transform="rotate(154 138.6 416.7)" fill="#3b46d8" opacity="0.92"/><ellipse cx="115.6" cy="440.8" rx="1.33" ry="0.79" transform="rotate(113 115.6 440.8)" fill="#3050e0" opacity="0.72"/><ellipse cx="117.0" cy="427.5" rx="1.21" ry="0.62" transform="rotate(127 117.0 427.5)" fill="#3b46d8" opacity="0.97"/><ellipse cx="115.3" cy="438.2" rx="1.24" ry="0.69" transform="rotate(104 115.3 438.2)" fill="#4a40d0" opacity="0.98"/><ellipse cx="179.7" cy="462.8" rx="1.31" ry="0.89" transform="rotate(15 179.7 462.8)" fill="#4a40d0" opacity="0.89"/><ellipse cx="130.9" cy="465.7" rx="1.24" ry="0.65" transform="rotate(8 130.9 465.7)" fill="#3b46d8" opacity="0.98"/><ellipse cx="168.7" cy="460.4" rx="1.17" ry="0.70" transform="rotate(82 168.7 460.4)" fill="#3050e0" opacity="0.97"/><ellipse cx="127.4" cy="412.9" rx="1.23" ry="0.71" transform="rotate(76 127.4 412.9)" fill="#3050e0" opacity="0.75"/><ellipse cx="118.2" cy="449.8" rx="1.12" ry="0.59" transform="rotate(89 118.2 449.8)" fill="#3050e0" opacity="1.00"/><ellipse cx="123.1" cy="458.3" rx="1.47" ry="0.87" transform="rotate(76 123.1 458.3)" fill="#4a40d0" opacity="0.92"/><ellipse cx="122.6" cy="456.1" rx="1.34" ry="0.89" transform="rotate(46 122.6 456.1)" fill="#3b46d8" opacity="0.75"/><ellipse cx="122.7" cy="415.2" rx="1.36" ry="1.07" transform="rotate(23 122.7 415.2)" fill="#4a40d0" opacity="0.66"/><ellipse cx="117.7" cy="422.0" rx="1.15" ry="0.78" transform="rotate(148 117.7 422.0)" fill="#3b46d8" opacity="0.99"/><ellipse cx="133.0" cy="413.4" rx="1.45" ry="0.81" transform="rotate(180 133.0 413.4)" fill="#3050e0" opacity="0.83"/><ellipse cx="148.2" cy="445.2" rx="1.04" ry="0.72" transform="rotate(179 148.2 445.2)" fill="#2c50e0" opacity="0.79"/><ellipse cx="177.2" cy="462.5" rx="1.28" ry="0.80" transform="rotate(112 177.2 462.5)" fill="#3b46d8" opacity="0.72"/><ellipse cx="118.8" cy="420.2" rx="1.18" ry="0.76" transform="rotate(146 118.8 420.2)" fill="#4a40d0" opacity="0.71"/><ellipse cx="128.9" cy="464.9" rx="1.40" ry="0.91" transform="rotate(100 128.9 464.9)" fill="#4a40d0" opacity="0.97"/><ellipse cx="157.1" cy="453.4" rx="1.02" ry="0.67" transform="rotate(77 157.1 453.4)" fill="#4a40d0" opacity="0.82"/><ellipse cx="126.8" cy="463.4" rx="1.23" ry="0.74" transform="rotate(36 126.8 463.4)" fill="#3050e0" opacity="0.79"/><ellipse cx="141.2" cy="420.4" rx="1.09" ry="0.84" transform="rotate(118 141.2 420.4)" fill="#3050e0" opacity="0.86"/><ellipse cx="116.9" cy="444.8" rx="1.23" ry="0.90" transform="rotate(87 116.9 444.8)" fill="#2c50e0" opacity="0.94"/><ellipse cx="164.9" cy="458.9" rx="1.28" ry="0.87" transform="rotate(14 164.9 458.9)" fill="#3b46d8" opacity="0.70"/><ellipse cx="137.2" cy="415.2" rx="1.25" ry="0.74" transform="rotate(11 137.2 415.2)" fill="#3b46d8" opacity="0.90"/><ellipse cx="183.6" cy="463.8" rx="1.32" ry="0.95" transform="rotate(58 183.6 463.8)" fill="#3050e0" opacity="0.68"/><ellipse cx="143.8" cy="424.9" rx="1.34" ry="0.79" transform="rotate(163 143.8 424.9)" fill="#3b46d8" opacity="0.88"/><ellipse cx="152.0" cy="449.2" rx="1.29" ry="0.74" transform="rotate(103 152.0 449.2)" fill="#4a40d0" opacity="0.88"/><ellipse cx="143.2" cy="429.0" rx="1.47" ry="0.87" transform="rotate(158 143.2 429.0)" fill="#4a40d0" opacity="0.96"/><ellipse cx="118.7" cy="451.8" rx="1.06" ry="0.66" transform="rotate(49 118.7 451.8)" fill="#3050e0" opacity="0.70"/><ellipse cx="145.3" cy="441.6" rx="1.14" ry="0.77" transform="rotate(74 145.3 441.6)" fill="#2c50e0" opacity="0.69"/><ellipse cx="120.3" cy="455.2" rx="1.10" ry="0.84" transform="rotate(22 120.3 455.2)" fill="#4a40d0" opacity="0.81"/></g><g filter="url(#b3)"><ellipse cx="108.4" cy="464.2" rx="1.30" ry="0.73" transform="rotate(166 108.4 464.2)" fill="#4a40d0" opacity="0.72"/><ellipse cx="105.7" cy="455.5" rx="1.20" ry="0.88" transform="rotate(99 105.7 455.5)" fill="#3b46d8" opacity="0.87"/><ellipse cx="107.3" cy="459.2" rx="1.27" ry="0.89" transform="rotate(44 107.3 459.2)" fill="#4a40d0" opacity="0.92"/><ellipse cx="108.3" cy="462.1" rx="1.38" ry="1.17" transform="rotate(124 108.3 462.1)" fill="#3b46d8" opacity="1.00"/><ellipse cx="110.1" cy="466.5" rx="1.42" ry="0.91" transform="rotate(134 110.1 466.5)" fill="#2c50e0" opacity="0.68"/><ellipse cx="107.5" cy="457.0" rx="1.38" ry="0.91" transform="rotate(11 107.5 457.0)" fill="#3b46d8" opacity="0.77"/><ellipse cx="105.5" cy="453.5" rx="1.02" ry="0.73" transform="rotate(20 105.5 453.5)" fill="#2c50e0" opacity="0.88"/></g><path d="M150.3 455.6C150.5 455.0 151.3 454.0 151.9 453.9C152.5 453.9 153.8 454.5 153.9 455.2C154.1 455.8 153.5 457.3 152.9 457.6C152.4 457.9 151.1 457.5 150.7 457.2C150.2 456.9 150.1 456.1 150.3 455.6Z" stroke="#f2e61e" stroke-width="0.6" fill="none"/><path d="M142.9 433.6C143.2 433.8 144.2 435.0 144.8 435.2C145.3 435.4 146.0 434.9 146.2 434.8" stroke="#f6a020" stroke-width="0.8" fill="none"/><path transform="translate(134.0 457.6) rotate(-35) scale(0.95)" d="M0 0L-2.6 -1.2L-2.0 -0.35L-4.2 -0.35L-4.2 0.35L-2.0 0.35L-2.6 1.2Z" fill="#fff"/><path transform="translate(151.9 457.6) rotate(-50) scale(0.95)" d="M0 0L-2.6 -1.2L-2.0 -0.35L-4.2 -0.35L-4.2 0.35L-2.0 0.35L-2.6 1.2Z" fill="#fff"/><rect x="133.0" y="441.7" width="27.7" height="20.4" fill="none" stroke="#fff" stroke-width="0.55" stroke-dasharray="1 0.8"/><rect x="178.00" y="464.80" width="5.40" height="0.80" fill="#eee"/></g>
<text x="183.3" y="413.3" font-size="4.85" text-anchor="end" fill="#1e6fe0">DAPI</text>
<text x="169.9" y="413.3" font-size="4.85" text-anchor="end" fill="#ee1c2e">EGFR</text>
<text x="155.0" y="413.3" font-size="4.85" text-anchor="end" fill="#f2e61e">CLIP1</text>
<path d="M160.7 441.7L184.9 414.5" stroke="#e8e8e8" stroke-width="0.55" stroke-dasharray="1.3 1.2" fill="none"/>
<path d="M184.9 414.5L191.8 406.8" stroke="#3a3a3a" stroke-width="0.6" stroke-dasharray="1.3 1.0" fill="none"/>
<path d="M160.7 462.1L184.9 465.4" stroke="#e8e8e8" stroke-width="0.55" stroke-dasharray="1.3 1.2" fill="none"/>
<path d="M184.9 465.4L191.8 466.3" stroke="#3a3a3a" stroke-width="0.6" stroke-dasharray="1.3 1.0" fill="none"/>
<clipPath id="hc3"><rect x="192.1" y="406.3" width="78.00" height="60.30"/></clipPath>
<rect x="192.10" y="406.30" width="78.00" height="60.30" fill="#000"/>
<g clip-path="url(#hc3)"><path d="M209.1 419.1C210.3 416.5 215.0 410.7 218.2 409.4C221.4 408.2 225.7 409.5 228.3 411.5C230.9 413.4 231.6 418.2 233.9 421.1C236.3 424.0 239.3 426.3 242.4 428.8C245.5 431.2 249.1 433.3 252.5 435.8C255.8 438.3 259.3 441.6 262.5 443.9C265.7 446.2 270.1 446.1 271.6 449.7C273.1 453.3 274.1 462.8 271.6 465.4C269.1 468.1 260.3 466.6 256.5 465.4C252.6 464.3 251.0 461.0 248.4 458.4C245.8 455.8 243.3 452.5 240.8 449.7C238.3 446.9 235.9 444.2 233.3 441.7C230.7 439.2 227.8 437.0 225.3 434.8C222.7 432.7 220.6 430.4 218.2 428.8C215.9 427.2 212.7 426.8 211.2 425.2C209.7 423.5 208.0 421.7 209.1 419.1Z" fill="#8c1a4c" opacity="0.85" filter="url(#b12)"/><path d="M193.6 426.8C194.7 427.1 197.8 428.5 200.1 428.8C202.3 429.0 205.0 427.8 207.1 428.2C209.3 428.6 212.2 430.7 213.2 431.2" stroke="#a0204c" stroke-width="3.5" fill="none" filter="url(#b12)" opacity="0.8"/><path d="M212.2 415.5C213.2 414.6 215.6 410.8 218.2 410.3C220.8 409.7 225.3 410.4 227.9 412.3C230.4 414.1 231.2 418.7 233.5 421.5C235.9 424.3 238.9 426.7 242.0 429.2C245.1 431.6 248.7 433.7 252.0 436.2C255.4 438.8 258.9 442.0 262.1 444.3C265.4 446.6 270.0 449.2 271.6 450.1" stroke="#ee3c70" stroke-width="1.5" fill="none" filter="url(#b6)"/><path d="M194.0 426.8C195.4 427.8 199.1 431.5 202.1 433.2C205.1 434.9 209.1 435.3 212.2 436.8C215.2 438.4 217.5 440.5 220.2 442.5C222.9 444.4 225.3 446.7 228.3 448.5C231.3 450.3 235.3 451.2 238.4 453.4C241.4 455.5 243.4 459.5 246.4 461.4C249.4 463.3 252.3 464.1 256.5 464.6C260.7 465.2 269.1 464.6 271.6 464.6" stroke="#c02a58" stroke-width="1.0" fill="none" filter="url(#b6)" opacity="0.6"/><g filter="url(#b3)"><circle cx="211.8" cy="423.4" r="3.06" fill="none" stroke="#ff4f86" stroke-width="0.7" opacity="0.75"/><ellipse cx="211.8" cy="423.4" rx="2.56" ry="2.20" transform="rotate(72 211.8 423.4)" fill="#2c4fe4" opacity="0.95"/><circle cx="262.6" cy="454.5" r="3.61" fill="none" stroke="#ff4f86" stroke-width="0.7" opacity="0.75"/><ellipse cx="262.6" cy="454.5" rx="3.11" ry="2.45" transform="rotate(163 262.6 454.5)" fill="#2c4fe4" opacity="0.95"/><circle cx="246.2" cy="453.1" r="3.45" fill="none" stroke="#ff4f86" stroke-width="0.7" opacity="0.75"/><ellipse cx="246.2" cy="453.1" rx="2.95" ry="2.42" transform="rotate(166 246.2 453.1)" fill="#2c4fe4" opacity="0.95"/><circle cx="218.3" cy="413.5" r="3.13" fill="none" stroke="#ff4f86" stroke-width="0.7" opacity="0.75"/><ellipse cx="218.3" cy="413.5" rx="2.63" ry="2.17" transform="rotate(95 218.3 413.5)" fill="#2c4fe4" opacity="0.95"/><circle cx="238.8" cy="435.5" r="3.03" fill="none" stroke="#ff4f86" stroke-width="0.7" opacity="0.75"/><ellipse cx="238.8" cy="435.5" rx="2.53" ry="2.01" transform="rotate(76 238.8 435.5)" fill="#2c4fe4" opacity="0.95"/><circle cx="221.1" cy="437.5" r="3.38" fill="none" stroke="#ff4f86" stroke-width="0.7" opacity="0.75"/><ellipse cx="221.1" cy="437.5" rx="2.88" ry="2.67" transform="rotate(101 221.1 437.5)" fill="#2c4fe4" opacity="0.95"/><circle cx="199.3" cy="425.5" r="3.38" fill="none" stroke="#ff4f86" stroke-width="0.7" opacity="0.75"/><ellipse cx="199.3" cy="425.5" rx="2.88" ry="2.45" transform="rotate(30 199.3 425.5)" fill="#2c4fe4" opacity="0.95"/><circle cx="245.5" cy="436.6" r="3.50" fill="none" stroke="#ff4f86" stroke-width="0.7" opacity="0.75"/><ellipse cx="245.5" cy="436.6" rx="3.00" ry="2.38" transform="rotate(163 245.5 436.6)" fill="#2c4fe4" opacity="0.95"/><circle cx="212.1" cy="429.3" r="3.44" fill="none" stroke="#ff4f86" stroke-width="0.7" opacity="0.75"/><ellipse cx="212.1" cy="429.3" rx="2.94" ry="2.52" transform="rotate(134 212.1 429.3)" fill="#2c4fe4" opacity="0.95"/><circle cx="252.4" cy="444.9" r="3.58" fill="none" stroke="#ff4f86" stroke-width="0.7" opacity="0.75"/><ellipse cx="252.4" cy="444.9" rx="3.08" ry="2.78" transform="rotate(30 252.4 444.9)" fill="#2c4fe4" opacity="0.95"/><circle cx="259.4" cy="460.0" r="3.66" fill="none" stroke="#ff4f86" stroke-width="0.7" opacity="0.75"/><ellipse cx="259.4" cy="460.0" rx="3.16" ry="2.67" transform="rotate(112 259.4 460.0)" fill="#2c4fe4" opacity="0.95"/><circle cx="234.3" cy="437.7" r="3.47" fill="none" stroke="#ff4f86" stroke-width="0.7" opacity="0.75"/><ellipse cx="234.3" cy="437.7" rx="2.97" ry="2.48" transform="rotate(126 234.3 437.7)" fill="#2c4fe4" opacity="0.95"/><circle cx="223.8" cy="427.2" r="3.19" fill="none" stroke="#ff4f86" stroke-width="0.7" opacity="0.75"/><ellipse cx="223.8" cy="427.2" rx="2.69" ry="2.10" transform="rotate(59 223.8 427.2)" fill="#2c4fe4" opacity="0.95"/><circle cx="202.1" cy="431.1" r="3.32" fill="none" stroke="#ff4f86" stroke-width="0.7" opacity="0.75"/><ellipse cx="202.1" cy="431.1" rx="2.82" ry="2.62" transform="rotate(127 202.1 431.1)" fill="#2c4fe4" opacity="0.95"/><circle cx="226.8" cy="439.0" r="3.58" fill="none" stroke="#ff4f86" stroke-width="0.7" opacity="0.75"/><ellipse cx="226.8" cy="439.0" rx="3.08" ry="2.44" transform="rotate(42 226.8 439.0)" fill="#2c4fe4" opacity="0.95"/><circle cx="252.7" cy="459.1" r="3.34" fill="none" stroke="#ff4f86" stroke-width="0.7" opacity="0.75"/><ellipse cx="252.7" cy="459.1" rx="2.84" ry="2.24" transform="rotate(59 252.7 459.1)" fill="#2c4fe4" opacity="0.95"/><circle cx="228.1" cy="433.8" r="3.43" fill="none" stroke="#ff4f86" stroke-width="0.7" opacity="0.75"/><ellipse cx="228.1" cy="433.8" rx="2.93" ry="2.67" transform="rotate(87 228.1 433.8)" fill="#2c4fe4" opacity="0.95"/><circle cx="228.8" cy="421.4" r="3.20" fill="none" stroke="#ff4f86" stroke-width="0.7" opacity="0.75"/><ellipse cx="228.8" cy="421.4" rx="2.70" ry="2.15" transform="rotate(172 228.8 421.4)" fill="#2c4fe4" opacity="0.95"/><circle cx="215.5" cy="418.1" r="3.20" fill="none" stroke="#ff4f86" stroke-width="0.7" opacity="0.75"/><ellipse cx="215.5" cy="418.1" rx="2.70" ry="2.34" transform="rotate(101 215.5 418.1)" fill="#2c4fe4" opacity="0.95"/><circle cx="216.5" cy="434.1" r="3.04" fill="none" stroke="#ff4f86" stroke-width="0.7" opacity="0.75"/><ellipse cx="216.5" cy="434.1" rx="2.54" ry="2.28" transform="rotate(159 216.5 434.1)" fill="#2c4fe4" opacity="0.95"/><circle cx="257.0" cy="446.9" r="3.03" fill="none" stroke="#ff4f86" stroke-width="0.7" opacity="0.75"/><ellipse cx="257.0" cy="446.9" rx="2.53" ry="2.07" transform="rotate(33 257.0 446.9)" fill="#2c4fe4" opacity="0.95"/><circle cx="239.9" cy="449.6" r="3.52" fill="none" stroke="#ff4f86" stroke-width="0.7" opacity="0.75"/><ellipse cx="239.9" cy="449.6" rx="3.02" ry="2.66" transform="rotate(53 239.9 449.6)" fill="#2c4fe4" opacity="0.95"/><circle cx="232.7" cy="445.1" r="3.49" fill="none" stroke="#ff4f86" stroke-width="0.7" opacity="0.75"/><ellipse cx="232.7" cy="445.1" rx="2.99" ry="2.76" transform="rotate(91 232.7 445.1)" fill="#2c4fe4" opacity="0.95"/><circle cx="205.8" cy="424.6" r="3.41" fill="none" stroke="#ff4f86" stroke-width="0.7" opacity="0.75"/><ellipse cx="205.8" cy="424.6" rx="2.91" ry="2.71" transform="rotate(92 205.8 424.6)" fill="#2c4fe4" opacity="0.95"/><circle cx="230.6" cy="427.9" r="3.07" fill="none" stroke="#ff4f86" stroke-width="0.7" opacity="0.75"/><ellipse cx="230.6" cy="427.9" rx="2.57" ry="2.35" transform="rotate(152 230.6 427.9)" fill="#2c4fe4" opacity="0.95"/><circle cx="220.5" cy="421.6" r="3.01" fill="none" stroke="#ff4f86" stroke-width="0.7" opacity="0.75"/><ellipse cx="220.5" cy="421.6" rx="2.51" ry="2.28" transform="rotate(73 220.5 421.6)" fill="#2c4fe4" opacity="0.95"/><circle cx="257.8" cy="453.2" r="3.39" fill="none" stroke="#ff4f86" stroke-width="0.7" opacity="0.75"/><ellipse cx="257.8" cy="453.2" rx="2.89" ry="2.65" transform="rotate(82 257.8 453.2)" fill="#2c4fe4" opacity="0.95"/><circle cx="240.6" cy="444.4" r="3.60" fill="none" stroke="#ff4f86" stroke-width="0.7" opacity="0.75"/><ellipse cx="240.6" cy="444.4" rx="3.10" ry="2.90" transform="rotate(79 240.6 444.4)" fill="#2c4fe4" opacity="0.95"/><circle cx="265.7" cy="460.1" r="3.17" fill="none" stroke="#ff4f86" stroke-width="0.7" opacity="0.75"/><ellipse cx="265.7" cy="460.1" rx="2.67" ry="2.20" transform="rotate(2 265.7 460.1)" fill="#2c4fe4" opacity="0.95"/><circle cx="218.2" cy="426.3" r="3.63" fill="none" stroke="#ff4f86" stroke-width="0.7" opacity="0.75"/><ellipse cx="218.2" cy="426.3" rx="3.13" ry="2.54" transform="rotate(172 218.2 426.3)" fill="#2c4fe4" opacity="0.95"/><circle cx="265.5" cy="449.6" r="3.27" fill="none" stroke="#ff4f86" stroke-width="0.7" opacity="0.75"/><ellipse cx="265.5" cy="449.6" rx="2.77" ry="2.48" transform="rotate(71 265.5 449.6)" fill="#2c4fe4" opacity="0.95"/><circle cx="207.2" cy="429.9" r="3.17" fill="none" stroke="#ff4f86" stroke-width="0.7" opacity="0.75"/><ellipse cx="207.2" cy="429.9" rx="2.67" ry="2.24" transform="rotate(45 207.2 429.9)" fill="#2c4fe4" opacity="0.95"/><circle cx="236.3" cy="428.2" r="3.03" fill="none" stroke="#ff4f86" stroke-width="0.7" opacity="0.75"/><ellipse cx="236.3" cy="428.2" rx="2.53" ry="2.28" transform="rotate(77 236.3 428.2)" fill="#2c4fe4" opacity="0.95"/><circle cx="226.3" cy="416.2" r="3.09" fill="none" stroke="#ff4f86" stroke-width="0.7" opacity="0.75"/><ellipse cx="226.3" cy="416.2" rx="2.59" ry="2.32" transform="rotate(36 226.3 416.2)" fill="#2c4fe4" opacity="0.95"/><circle cx="248.9" cy="440.9" r="3.14" fill="none" stroke="#ff4f86" stroke-width="0.7" opacity="0.75"/><ellipse cx="248.9" cy="440.9" rx="2.64" ry="2.17" transform="rotate(6 248.9 440.9)" fill="#2c4fe4" opacity="0.95"/><circle cx="252.8" cy="452.8" r="3.59" fill="none" stroke="#ff4f86" stroke-width="0.7" opacity="0.75"/><ellipse cx="252.8" cy="452.8" rx="3.09" ry="2.72" transform="rotate(152 252.8 452.8)" fill="#2c4fe4" opacity="0.95"/><circle cx="233.7" cy="432.8" r="3.28" fill="none" stroke="#ff4f86" stroke-width="0.7" opacity="0.75"/><ellipse cx="233.7" cy="432.8" rx="2.78" ry="2.53" transform="rotate(104 233.7 432.8)" fill="#2c4fe4" opacity="0.95"/><circle cx="223.2" cy="432.3" r="3.54" fill="none" stroke="#ff4f86" stroke-width="0.7" opacity="0.75"/><ellipse cx="223.2" cy="432.3" rx="3.04" ry="2.54" transform="rotate(102 223.2 432.3)" fill="#2c4fe4" opacity="0.95"/><circle cx="247.3" cy="447.4" r="3.05" fill="none" stroke="#ff4f86" stroke-width="0.7" opacity="0.75"/><ellipse cx="247.3" cy="447.4" rx="2.55" ry="2.32" transform="rotate(11 247.3 447.4)" fill="#2c4fe4" opacity="0.95"/><circle cx="269.4" cy="452.9" r="3.22" fill="none" stroke="#ff4f86" stroke-width="0.7" opacity="0.75"/><ellipse cx="269.4" cy="452.9" rx="2.72" ry="2.47" transform="rotate(137 269.4 452.9)" fill="#2c4fe4" opacity="0.95"/><ellipse cx="212.2" cy="441.7" rx="2.42" ry="1.93" transform="rotate(63 212.2 441.7)" fill="#2448d8" opacity="0.9"/><ellipse cx="220.2" cy="450.9" rx="2.62" ry="2.09" transform="rotate(86 220.2 450.9)" fill="#2448d8" opacity="0.9"/><ellipse cx="213.8" cy="455.0" rx="2.22" ry="1.77" transform="rotate(108 213.8 455.0)" fill="#2448d8" opacity="0.9"/><ellipse cx="200.1" cy="456.4" rx="2.62" ry="2.09" transform="rotate(96 200.1 456.4)" fill="#2448d8" opacity="0.9"/><ellipse cx="205.7" cy="461.8" rx="2.22" ry="1.77" transform="rotate(37 205.7 461.8)" fill="#2448d8" opacity="0.9"/><ellipse cx="195.0" cy="455.0" rx="2.01" ry="1.61" transform="rotate(94 195.0 455.0)" fill="#2448d8" opacity="0.9"/><ellipse cx="203.1" cy="443.3" rx="1.81" ry="1.45" transform="rotate(117 203.1 443.3)" fill="#2448d8" opacity="0.9"/></g><circle cx="246.8" cy="457.0" r="3.3" fill="none" stroke="#ffb020" stroke-width="1.2" filter="url(#b6)"/><path d="M197.1 428.8C197.6 429.5 199.1 432.4 200.5 433.2C201.8 434.0 204.0 433.9 205.1 433.6C206.2 433.3 206.8 431.6 207.1 431.2" stroke="#ff9a20" stroke-width="1.3" fill="none" filter="url(#b6)"/><path d="M233.3 440.3C234.2 440.8 237.1 441.9 238.4 443.3C239.6 444.6 240.4 447.5 240.8 448.3" stroke="#ffa020" stroke-width="1.1" fill="none" filter="url(#b6)"/><path d="M218.2 410.3C219.4 410.5 223.5 410.7 225.3 411.5C227.0 412.3 228.1 414.5 228.7 415.1" stroke="#ffb030" stroke-width="1.0" fill="none" filter="url(#b6)"/><path d="M248.4 461.4C249.8 461.7 253.8 463.2 256.5 463.4C259.2 463.6 263.2 462.8 264.5 462.6" stroke="#ff9020" stroke-width="1.2" fill="none" filter="url(#b6)"/><path d="M254.5 448.3C255.5 448.8 258.5 450.1 260.5 451.3C262.5 452.6 265.5 455.0 266.5 455.8" stroke="#ff8030" stroke-width="1.0" fill="none" filter="url(#b6)"/><rect x="263.00" y="463.90" width="5.40" height="0.80" fill="#eee"/></g>
<text x="268.6" y="413.2" font-size="4.85" text-anchor="end" fill="#1e6fe0">DAPI</text>
<text x="255.2" y="413.2" font-size="4.85" text-anchor="end" fill="#ee1c2e">EGFR</text>
<text x="240.3" y="413.2" font-size="4.85" text-anchor="end" fill="#f2e61e">CLIP1</text>
<clipPath id="hc4"><rect x="21.4" y="479.2" width="78.00" height="60.40"/></clipPath>
<rect x="21.40" y="479.20" width="78.00" height="60.40" fill="#000"/>
<g clip-path="url(#hc4)"><g filter="url(#b3)"><ellipse cx="97.2" cy="533.9" rx="1.44" ry="0.73" transform="rotate(80 97.2 533.9)" fill="#2a60f0" opacity="0.88"/><ellipse cx="65.3" cy="494.9" rx="1.22" ry="0.97" transform="rotate(10 65.3 494.9)" fill="#1f48c4" opacity="0.67"/><ellipse cx="94.7" cy="512.0" rx="1.03" ry="0.73" transform="rotate(72 94.7 512.0)" fill="#3068f4" opacity="0.70"/><ellipse cx="89.5" cy="503.9" rx="1.26" ry="0.92" transform="rotate(116 89.5 503.9)" fill="#3068f4" opacity="0.77"/><ellipse cx="37.4" cy="503.0" rx="1.17" ry="0.59" transform="rotate(99 37.4 503.0)" fill="#3068f4" opacity="0.89"/><ellipse cx="61.6" cy="494.4" rx="1.43" ry="0.95" transform="rotate(140 61.6 494.4)" fill="#2a60f0" opacity="0.76"/><ellipse cx="98.1" cy="530.3" rx="1.18" ry="0.73" transform="rotate(135 98.1 530.3)" fill="#2a60f0" opacity="0.78"/><ellipse cx="57.0" cy="496.2" rx="1.05" ry="0.55" transform="rotate(146 57.0 496.2)" fill="#3068f4" opacity="0.69"/><ellipse cx="81.8" cy="498.8" rx="1.05" ry="0.83" transform="rotate(53 81.8 498.8)" fill="#1f48c4" opacity="0.72"/><ellipse cx="45.6" cy="498.4" rx="1.15" ry="0.80" transform="rotate(50 45.6 498.4)" fill="#1f48c4" opacity="0.69"/><ellipse cx="30.7" cy="504.4" rx="1.50" ry="1.03" transform="rotate(44 30.7 504.4)" fill="#2452dc" opacity="0.98"/><ellipse cx="97.5" cy="540.0" rx="1.54" ry="1.23" transform="rotate(96 97.5 540.0)" fill="#2452dc" opacity="0.92"/><ellipse cx="42.5" cy="498.6" rx="1.33" ry="1.08" transform="rotate(10 42.5 498.6)" fill="#2452dc" opacity="0.66"/><ellipse cx="48.0" cy="497.5" rx="1.08" ry="0.90" transform="rotate(35 48.0 497.5)" fill="#2452dc" opacity="0.87"/><ellipse cx="24.3" cy="506.7" rx="1.21" ry="0.74" transform="rotate(52 24.3 506.7)" fill="#2452dc" opacity="0.90"/><ellipse cx="86.8" cy="502.8" rx="1.48" ry="0.74" transform="rotate(51 86.8 502.8)" fill="#3068f4" opacity="0.94"/><ellipse cx="38.7" cy="501.2" rx="1.07" ry="0.65" transform="rotate(171 38.7 501.2)" fill="#1f48c4" opacity="0.68"/><ellipse cx="75.8" cy="497.3" rx="1.51" ry="1.17" transform="rotate(122 75.8 497.3)" fill="#2452dc" opacity="0.83"/><ellipse cx="52.0" cy="496.8" rx="1.48" ry="0.98" transform="rotate(86 52.0 496.8)" fill="#2a60f0" opacity="0.76"/><ellipse cx="95.1" cy="518.9" rx="1.38" ry="1.11" transform="rotate(63 95.1 518.9)" fill="#2452dc" opacity="0.65"/><ellipse cx="92.2" cy="510.2" rx="1.12" ry="0.80" transform="rotate(115 92.2 510.2)" fill="#2a60f0" opacity="0.96"/><ellipse cx="97.2" cy="522.6" rx="1.56" ry="1.26" transform="rotate(164 97.2 522.6)" fill="#2a60f0" opacity="0.88"/><ellipse cx="84.7" cy="500.8" rx="1.11" ry="0.85" transform="rotate(23 84.7 500.8)" fill="#3068f4" opacity="0.91"/><ellipse cx="67.9" cy="495.6" rx="1.10" ry="0.70" transform="rotate(175 67.9 495.6)" fill="#2452dc" opacity="0.92"/><ellipse cx="34.6" cy="503.0" rx="1.22" ry="0.92" transform="rotate(125 34.6 503.0)" fill="#1f48c4" opacity="0.74"/><ellipse cx="97.4" cy="525.7" rx="1.41" ry="0.93" transform="rotate(20 97.4 525.7)" fill="#2a60f0" opacity="0.72"/><ellipse cx="96.5" cy="528.3" rx="1.02" ry="0.71" transform="rotate(55 96.5 528.3)" fill="#2452dc" opacity="0.98"/><ellipse cx="94.9" cy="514.8" rx="1.38" ry="0.85" transform="rotate(65 94.9 514.8)" fill="#2452dc" opacity="0.87"/><ellipse cx="98.5" cy="535.9" rx="1.60" ry="0.98" transform="rotate(35 98.5 535.9)" fill="#1f48c4" opacity="0.73"/><ellipse cx="90.2" cy="506.2" rx="1.18" ry="0.81" transform="rotate(79 90.2 506.2)" fill="#2452dc" opacity="0.73"/><ellipse cx="71.0" cy="495.0" rx="1.39" ry="0.71" transform="rotate(120 71.0 495.0)" fill="#2a60f0" opacity="0.67"/><ellipse cx="97.0" cy="520.1" rx="1.03" ry="0.85" transform="rotate(18 97.0 520.1)" fill="#1f48c4" opacity="0.68"/><ellipse cx="22.7" cy="508.4" rx="1.28" ry="0.98" transform="rotate(6 22.7 508.4)" fill="#2a60f0" opacity="0.88"/><ellipse cx="19.7" cy="509.4" rx="1.32" ry="0.87" transform="rotate(36 19.7 509.4)" fill="#3068f4" opacity="0.95"/><ellipse cx="78.4" cy="497.6" rx="1.38" ry="0.91" transform="rotate(126 78.4 497.6)" fill="#2452dc" opacity="0.73"/><ellipse cx="27.7" cy="505.3" rx="1.05" ry="0.69" transform="rotate(10 27.7 505.3)" fill="#2452dc" opacity="0.99"/><ellipse cx="59.0" cy="495.1" rx="1.06" ry="0.61" transform="rotate(178 59.0 495.1)" fill="#2a60f0" opacity="0.66"/><ellipse cx="54.3" cy="495.1" rx="1.22" ry="0.71" transform="rotate(102 54.3 495.1)" fill="#1f48c4" opacity="0.86"/><ellipse cx="72.8" cy="496.9" rx="1.32" ry="0.75" transform="rotate(47 72.8 496.9)" fill="#2452dc" opacity="0.68"/><ellipse cx="41.1" cy="501.3" rx="1.01" ry="0.75" transform="rotate(97 41.1 501.3)" fill="#2452dc" opacity="0.96"/><ellipse cx="96.3" cy="516.6" rx="1.18" ry="0.78" transform="rotate(85 96.3 516.6)" fill="#1f48c4" opacity="0.80"/><ellipse cx="92.7" cy="507.7" rx="1.17" ry="0.75" transform="rotate(76 92.7 507.7)" fill="#2a60f0" opacity="0.70"/><ellipse cx="32.9" cy="504.7" rx="1.19" ry="0.94" transform="rotate(137 32.9 504.7)" fill="#1f48c4" opacity="0.70"/><ellipse cx="20.6" cy="507.2" rx="1.47" ry="1.21" transform="rotate(28 20.6 507.2)" fill="#1f48c4" opacity="0.89"/><ellipse cx="49.7" cy="496.1" rx="1.13" ry="0.75" transform="rotate(134 49.7 496.1)" fill="#2a60f0" opacity="0.75"/><ellipse cx="97.0" cy="537.5" rx="1.07" ry="0.57" transform="rotate(125 97.0 537.5)" fill="#3068f4" opacity="0.92"/></g><g filter="url(#b3)"><ellipse cx="89.3" cy="525.2" rx="1.03" ry="0.78" transform="rotate(28 89.3 525.2)" fill="#2a5fe6" opacity="0.88"/><ellipse cx="93.5" cy="539.4" rx="1.25" ry="0.87" transform="rotate(158 93.5 539.4)" fill="#2450d0" opacity="0.67"/><ellipse cx="42.4" cy="503.3" rx="1.18" ry="0.72" transform="rotate(174 42.4 503.3)" fill="#1f45b8" opacity="0.67"/><ellipse cx="74.6" cy="501.4" rx="1.35" ry="0.71" transform="rotate(164 74.6 501.4)" fill="#2450d0" opacity="0.72"/><ellipse cx="83.0" cy="504.1" rx="1.23" ry="1.03" transform="rotate(47 83.0 504.1)" fill="#1f45b8" opacity="0.68"/><ellipse cx="87.0" cy="508.0" rx="1.47" ry="1.00" transform="rotate(89 87.0 508.0)" fill="#1f45b8" opacity="0.86"/><ellipse cx="92.9" cy="527.3" rx="1.49" ry="0.83" transform="rotate(85 92.9 527.3)" fill="#1f45b8" opacity="0.74"/><ellipse cx="33.6" cy="508.1" rx="1.13" ry="0.70" transform="rotate(168 33.6 508.1)" fill="#1f45b8" opacity="0.89"/><ellipse cx="45.4" cy="504.4" rx="1.30" ry="0.72" transform="rotate(26 45.4 504.4)" fill="#2a5fe6" opacity="0.91"/><ellipse cx="91.1" cy="532.6" rx="1.42" ry="0.82" transform="rotate(53 91.1 532.6)" fill="#1f45b8" opacity="0.98"/><ellipse cx="68.0" cy="499.6" rx="1.42" ry="1.10" transform="rotate(124 68.0 499.6)" fill="#2a5fe6" opacity="0.67"/><ellipse cx="40.6" cy="508.8" rx="1.01" ry="0.54" transform="rotate(116 40.6 508.8)" fill="#2a5fe6" opacity="0.69"/><ellipse cx="29.5" cy="512.0" rx="1.59" ry="1.26" transform="rotate(71 29.5 512.0)" fill="#1f45b8" opacity="0.73"/><ellipse cx="89.2" cy="521.0" rx="1.23" ry="0.77" transform="rotate(172 89.2 521.0)" fill="#2a5fe6" opacity="0.94"/><ellipse cx="90.7" cy="516.4" rx="1.04" ry="0.79" transform="rotate(93 90.7 516.4)" fill="#2a5fe6" opacity="0.96"/><ellipse cx="83.6" cy="507.0" rx="1.48" ry="0.87" transform="rotate(94 83.6 507.0)" fill="#2450d0" opacity="0.94"/><ellipse cx="63.3" cy="500.0" rx="1.24" ry="0.90" transform="rotate(126 63.3 500.0)" fill="#1f45b8" opacity="0.81"/><ellipse cx="58.9" cy="502.3" rx="1.39" ry="0.74" transform="rotate(51 58.9 502.3)" fill="#1f45b8" opacity="0.76"/><ellipse cx="88.4" cy="512.8" rx="1.42" ry="1.11" transform="rotate(39 88.4 512.8)" fill="#2450d0" opacity="0.91"/><ellipse cx="90.7" cy="540.5" rx="1.05" ry="0.55" transform="rotate(155 90.7 540.5)" fill="#1f45b8" opacity="0.72"/><ellipse cx="49.5" cy="503.9" rx="1.30" ry="0.96" transform="rotate(131 49.5 503.9)" fill="#2450d0" opacity="0.97"/><ellipse cx="70.8" cy="500.0" rx="1.56" ry="1.08" transform="rotate(125 70.8 500.0)" fill="#2450d0" opacity="0.81"/><ellipse cx="78.5" cy="505.1" rx="1.30" ry="0.79" transform="rotate(155 78.5 505.1)" fill="#2a5fe6" opacity="0.78"/><ellipse cx="25.6" cy="510.2" rx="1.59" ry="1.00" transform="rotate(136 25.6 510.2)" fill="#2a5fe6" opacity="0.66"/><ellipse cx="39.3" cy="505.4" rx="1.54" ry="0.82" transform="rotate(63 39.3 505.4)" fill="#1f45b8" opacity="0.97"/><ellipse cx="55.4" cy="502.6" rx="1.19" ry="0.68" transform="rotate(148 55.4 502.6)" fill="#2450d0" opacity="0.87"/><ellipse cx="22.7" cy="512.8" rx="1.51" ry="1.08" transform="rotate(168 22.7 512.8)" fill="#2450d0" opacity="1.00"/><ellipse cx="92.3" cy="518.9" rx="1.33" ry="0.70" transform="rotate(14 92.3 518.9)" fill="#2450d0" opacity="0.81"/></g><g filter="url(#b3)"><ellipse cx="44.5" cy="532.0" rx="1.29" ry="0.74" transform="rotate(16 44.5 532.0)" fill="#2a5fe6" opacity="0.77"/><ellipse cx="58.8" cy="540.1" rx="0.92" ry="0.56" transform="rotate(104 58.8 540.1)" fill="#1c3da6" opacity="0.84"/><ellipse cx="52.6" cy="505.7" rx="1.19" ry="0.72" transform="rotate(97 52.6 505.7)" fill="#2450d0" opacity="0.70"/><ellipse cx="31.7" cy="532.6" rx="1.36" ry="0.94" transform="rotate(139 31.7 532.6)" fill="#2a5fe6" opacity="0.92"/><ellipse cx="56.1" cy="535.1" rx="1.40" ry="1.18" transform="rotate(16 56.1 535.1)" fill="#1c3da6" opacity="0.89"/><ellipse cx="73.9" cy="508.8" rx="1.22" ry="0.66" transform="rotate(88 73.9 508.8)" fill="#2450d0" opacity="0.82"/><ellipse cx="71.2" cy="538.4" rx="1.33" ry="0.66" transform="rotate(79 71.2 538.4)" fill="#2450d0" opacity="0.89"/><ellipse cx="83.5" cy="523.7" rx="1.49" ry="0.84" transform="rotate(118 83.5 523.7)" fill="#2a5fe6" opacity="0.90"/><ellipse cx="57.0" cy="520.8" rx="1.46" ry="0.90" transform="rotate(45 57.0 520.8)" fill="#2a5fe6" opacity="0.93"/><ellipse cx="24.7" cy="523.0" rx="1.47" ry="1.16" transform="rotate(86 24.7 523.0)" fill="#2450d0" opacity="0.88"/><ellipse cx="73.9" cy="541.2" rx="1.01" ry="0.82" transform="rotate(115 73.9 541.2)" fill="#2a5fe6" opacity="0.76"/><ellipse cx="72.1" cy="514.3" rx="1.49" ry="1.00" transform="rotate(144 72.1 514.3)" fill="#1f45b8" opacity="0.91"/><ellipse cx="51.7" cy="532.4" rx="1.04" ry="0.58" transform="rotate(114 51.7 532.4)" fill="#1f45b8" opacity="0.97"/><ellipse cx="64.6" cy="514.7" rx="1.14" ry="0.77" transform="rotate(109 64.6 514.7)" fill="#1f45b8" opacity="0.96"/><ellipse cx="42.3" cy="537.2" rx="1.47" ry="1.20" transform="rotate(40 42.3 537.2)" fill="#2450d0" opacity="0.72"/><ellipse cx="65.4" cy="542.2" rx="1.13" ry="0.65" transform="rotate(152 65.4 542.2)" fill="#1f45b8" opacity="0.71"/><ellipse cx="76.6" cy="505.8" rx="1.10" ry="0.61" transform="rotate(4 76.6 505.8)" fill="#1f45b8" opacity="0.89"/><ellipse cx="41.6" cy="524.1" rx="1.13" ry="0.75" transform="rotate(132 41.6 524.1)" fill="#1f45b8" opacity="0.82"/><ellipse cx="40.8" cy="541.5" rx="1.16" ry="0.63" transform="rotate(0 40.8 541.5)" fill="#2a5fe6" opacity="0.85"/><ellipse cx="89.4" cy="538.6" rx="1.13" ry="0.62" transform="rotate(60 89.4 538.6)" fill="#2450d0" opacity="0.82"/><ellipse cx="40.9" cy="517.0" rx="1.14" ry="0.78" transform="rotate(119 40.9 517.0)" fill="#2450d0" opacity="0.74"/><ellipse cx="25.8" cy="534.8" rx="0.95" ry="0.63" transform="rotate(87 25.8 534.8)" fill="#2a5fe6" opacity="0.70"/><ellipse cx="46.7" cy="515.1" rx="1.41" ry="0.84" transform="rotate(86 46.7 515.1)" fill="#1f45b8" opacity="0.93"/><ellipse cx="37.7" cy="523.4" rx="1.00" ry="0.72" transform="rotate(97 37.7 523.4)" fill="#1c3da6" opacity="0.89"/><ellipse cx="53.3" cy="518.8" rx="1.41" ry="0.93" transform="rotate(76 53.3 518.8)" fill="#1f45b8" opacity="0.93"/><ellipse cx="85.8" cy="529.9" rx="1.40" ry="1.01" transform="rotate(55 85.8 529.9)" fill="#2450d0" opacity="0.89"/><ellipse cx="22.9" cy="538.2" rx="1.39" ry="0.90" transform="rotate(138 22.9 538.2)" fill="#2450d0" opacity="0.81"/><ellipse cx="36.4" cy="539.4" rx="1.30" ry="0.73" transform="rotate(153 36.4 539.4)" fill="#2450d0" opacity="0.79"/><ellipse cx="57.0" cy="524.7" rx="1.39" ry="0.87" transform="rotate(4 57.0 524.7)" fill="#2a5fe6" opacity="0.92"/><ellipse cx="84.0" cy="511.1" rx="1.26" ry="1.03" transform="rotate(91 84.0 511.1)" fill="#1f45b8" opacity="0.79"/><ellipse cx="79.6" cy="537.0" rx="1.30" ry="0.69" transform="rotate(123 79.6 537.0)" fill="#1f45b8" opacity="0.72"/><ellipse cx="49.0" cy="508.0" rx="1.13" ry="0.67" transform="rotate(141 49.0 508.0)" fill="#1c3da6" opacity="0.88"/><ellipse cx="45.9" cy="521.3" rx="1.21" ry="0.99" transform="rotate(142 45.9 521.3)" fill="#1f45b8" opacity="0.77"/><ellipse cx="26.0" cy="519.3" rx="1.03" ry="0.69" transform="rotate(32 26.0 519.3)" fill="#1f45b8" opacity="0.66"/><ellipse cx="80.7" cy="528.8" rx="1.22" ry="0.68" transform="rotate(77 80.7 528.8)" fill="#1f45b8" opacity="0.77"/><ellipse cx="58.5" cy="516.3" rx="1.50" ry="1.03" transform="rotate(9 58.5 516.3)" fill="#1c3da6" opacity="0.84"/></g><path d="M20.1 510.7C20.5 510.6 20.5 510.6 22.2 510.0C23.8 509.3 27.3 507.9 29.9 507.0C32.6 506.1 35.3 505.6 38.0 504.4C40.6 503.3 43.3 501.1 45.8 500.0C48.4 499.0 50.4 498.6 53.2 498.1C56.0 497.6 59.7 497.1 62.7 497.1C65.7 497.1 69.9 497.8 71.3 497.9" stroke="#f2e61e" stroke-width="0.8" fill="none" stroke-dasharray="3.5 0.8 1.8 0.6 2.5 1.0" opacity="0.95" filter="url(#b3)"/><path d="M78.3 496.2h0M79 498.8h0M28 506.2h0M67.8 496.6h0M95.2 512.4h0M36.1 500.7h0M66.9 494.6h0M79.6 495.6h0M48.6 495.7h0M81.4 499.6h0M48.6 495.7h0M20.3 509.6h0M50.8 494.3h0M57.6 496.5h0M24.3 505.3h0M99.7 529.7h0M55.6 497.3h0M50.4 498.5h0M31 503.6h0M89.3 506.2h0M94.8 514.8h0M98.5 538h0" stroke="#cfc520" stroke-width="0.6" stroke-linecap="round" fill="none" stroke-opacity="0.8"/><path d="M32.9 530.1h0M23.2 537.9h0M52 511.2h0M72.7 542.7h0M68.3 538.8h0M32.4 511.3h0M32 512h0M69.4 503.1h0M82 536.1h0M48 516h0M49.1 519.4h0M45.5 505.3h0M58.9 505h0M54.9 504.2h0M62.7 512.4h0M59.8 502.3h0M38.6 541.8h0M65.8 527.1h0M61.1 537.6h0M57 537.4h0M22.6 530h0M46.2 540.9h0M64.4 538.5h0M36.3 527.7h0M65.1 505.4h0M55.2 509.5h0M78.4 534.2h0M75.1 522.3h0M70.3 537.7h0M47.1 517.3h0M79.4 505.8h0M66.3 535.6h0M48.4 505.8h0M51.6 505.7h0" stroke="#a8a018" stroke-width="0.5" stroke-linecap="round" fill="none" stroke-opacity="0.7"/><path transform="translate(35.4 510.6) rotate(-115) scale(1.0)" d="M0 0L-2.6 -1.2L-2.0 -0.35L-4.2 -0.35L-4.2 0.35L-2.0 0.35L-2.6 1.2Z" fill="#fff"/><path transform="translate(43.5 507.6) rotate(-120) scale(1.0)" d="M0 0L-2.6 -1.2L-2.0 -0.35L-4.2 -0.35L-4.2 0.35L-2.0 0.35L-2.6 1.2Z" fill="#fff"/><path transform="translate(49.0 504.8) rotate(-135) scale(1.0)" d="M0 0L-2.6 -1.2L-2.0 -0.35L-4.2 -0.35L-4.2 0.35L-2.0 0.35L-2.6 1.2Z" fill="#fff"/><path transform="translate(63.4 504.6) rotate(-95) scale(1.0)" d="M0 0L-2.6 -1.2L-2.0 -0.35L-4.2 -0.35L-4.2 0.35L-2.0 0.35L-2.6 1.2Z" fill="#fff"/><path transform="translate(70.8 503.4) rotate(-100) scale(1.0)" d="M0 0L-2.6 -1.2L-2.0 -0.35L-4.2 -0.35L-4.2 0.35L-2.0 0.35L-2.6 1.2Z" fill="#fff"/><rect x="92.20" y="536.80" width="5.40" height="0.80" fill="#eee"/></g>
<text x="97.9" y="485.9" font-size="4.85" text-anchor="end" fill="#1e6fe0">DAPI</text>
<text x="82.7" y="485.9" font-size="4.85" text-anchor="end" fill="#f2e61e">CLIP1</text>
<clipPath id="hc5"><rect x="107.0" y="479.2" width="78.00" height="60.40"/></clipPath>
<rect x="107.00" y="479.20" width="78.00" height="60.40" fill="#000"/>
<g clip-path="url(#hc5)"><path d="M105.0 508.8C105.3 508.7 105.4 508.7 107.0 508.1C108.6 507.5 112.2 506.0 114.8 505.1C117.4 504.2 120.1 503.7 122.7 502.6C125.3 501.4 128.0 499.3 130.6 498.2C133.2 497.1 135.4 496.6 138.4 496.1C141.4 495.6 145.2 495.1 148.3 495.1C151.4 495.1 154.3 495.4 157.1 495.9C159.9 496.4 162.4 497.1 165.0 498.2C167.6 499.2 170.4 500.6 172.5 502.2C174.6 503.8 176.4 505.8 177.8 508.1C179.2 510.4 180.2 512.9 181.1 515.9C181.9 518.9 182.5 522.8 182.9 526.4C183.3 530.0 183.4 534.6 183.5 537.2C183.6 539.8 183.6 541.4 183.6 542.2" stroke="#801428" stroke-width="3.8" fill="none" opacity="0.85" filter="url(#b3)"/><path d="M104.4 507.0C104.7 506.9 104.7 506.9 106.3 506.3C108.0 505.7 111.6 504.2 114.2 503.3C116.8 502.4 119.3 502.0 121.9 500.9C124.6 499.7 127.2 497.5 129.9 496.4C132.6 495.3 135.0 494.8 138.1 494.2C141.1 493.7 145.1 493.2 148.3 493.2C151.5 493.2 154.5 493.5 157.4 494.0C160.4 494.6 163.0 495.3 165.7 496.4C168.4 497.6 171.4 498.9 173.7 500.7C175.9 502.5 177.9 504.6 179.4 507.1C181.0 509.5 182.0 512.2 182.9 515.4C183.8 518.6 184.4 522.6 184.8 526.2C185.2 529.8 185.3 534.5 185.4 537.1C185.5 539.8 185.5 541.3 185.5 542.2" stroke="#f02236" stroke-width="1.1" fill="none" filter="url(#b3)"/><path d="M105.6 510.6C106.0 510.5 106.0 510.5 107.7 509.9C109.3 509.3 112.8 507.8 115.4 506.9C118.1 506.0 120.8 505.5 123.5 504.3C126.1 503.2 128.8 501.0 131.3 500.0C133.9 498.9 135.9 498.5 138.7 498.0C141.6 497.5 145.3 497.0 148.3 497.0C151.3 497.0 154.1 497.3 156.8 497.8C159.4 498.3 161.8 499.0 164.3 500.0C166.7 500.9 169.4 502.2 171.3 503.7C173.3 505.2 174.9 507.0 176.2 509.1C177.5 511.2 178.5 513.5 179.3 516.4C180.1 519.3 180.6 523.1 181.0 526.6C181.4 530.1 181.5 534.7 181.6 537.3C181.7 539.9 181.7 541.4 181.7 542.2" stroke="#e02034" stroke-width="0.9" fill="none" filter="url(#b3)" opacity="0.9"/><g filter="url(#b3)"><ellipse cx="127.6" cy="499.0" rx="1.50" ry="0.86" transform="rotate(179 127.6 499.0)" fill="#2a60f0" opacity="0.75"/><ellipse cx="118.0" cy="503.3" rx="1.28" ry="0.88" transform="rotate(6 118.0 503.3)" fill="#2a60f0" opacity="0.88"/><ellipse cx="122.7" cy="501.5" rx="1.36" ry="0.91" transform="rotate(116 122.7 501.5)" fill="#2a60f0" opacity="0.72"/><ellipse cx="181.2" cy="516.4" rx="1.08" ry="0.73" transform="rotate(177 181.2 516.4)" fill="#2452dc" opacity="0.98"/><ellipse cx="115.8" cy="504.8" rx="1.00" ry="0.79" transform="rotate(158 115.8 504.8)" fill="#2452dc" opacity="0.73"/><ellipse cx="135.9" cy="496.6" rx="1.30" ry="0.92" transform="rotate(161 135.9 496.6)" fill="#1f48c4" opacity="0.92"/><ellipse cx="180.0" cy="512.9" rx="1.33" ry="0.71" transform="rotate(57 180.0 512.9)" fill="#2452dc" opacity="0.84"/><ellipse cx="110.8" cy="506.3" rx="1.24" ry="0.77" transform="rotate(36 110.8 506.3)" fill="#3068f4" opacity="0.79"/><ellipse cx="183.7" cy="531.0" rx="1.44" ry="1.03" transform="rotate(30 183.7 531.0)" fill="#3068f4" opacity="0.77"/><ellipse cx="151.0" cy="494.5" rx="1.40" ry="0.72" transform="rotate(172 151.0 494.5)" fill="#1f48c4" opacity="0.82"/><ellipse cx="184.4" cy="541.2" rx="1.48" ry="1.21" transform="rotate(69 184.4 541.2)" fill="#2452dc" opacity="0.87"/><ellipse cx="174.8" cy="503.7" rx="1.11" ry="0.80" transform="rotate(60 174.8 503.7)" fill="#2452dc" opacity="0.66"/><ellipse cx="178.5" cy="510.1" rx="1.42" ry="0.80" transform="rotate(132 178.5 510.1)" fill="#2a60f0" opacity="0.77"/><ellipse cx="182.9" cy="537.7" rx="1.40" ry="1.10" transform="rotate(113 182.9 537.7)" fill="#3068f4" opacity="0.75"/><ellipse cx="133.0" cy="497.3" rx="1.12" ry="0.61" transform="rotate(114 133.0 497.3)" fill="#2a60f0" opacity="0.91"/><ellipse cx="106.7" cy="508.9" rx="1.29" ry="0.93" transform="rotate(100 106.7 508.9)" fill="#1f48c4" opacity="0.91"/><ellipse cx="125.3" cy="501.1" rx="1.27" ry="0.78" transform="rotate(174 125.3 501.1)" fill="#2a60f0" opacity="0.69"/><ellipse cx="140.9" cy="495.0" rx="1.55" ry="0.81" transform="rotate(130 140.9 495.0)" fill="#1f48c4" opacity="0.79"/><ellipse cx="168.6" cy="501.0" rx="1.49" ry="0.76" transform="rotate(70 168.6 501.0)" fill="#1f48c4" opacity="0.80"/><ellipse cx="171.3" cy="501.2" rx="1.06" ry="0.81" transform="rotate(40 171.3 501.2)" fill="#2452dc" opacity="0.81"/><ellipse cx="181.9" cy="526.5" rx="1.31" ry="0.69" transform="rotate(136 181.9 526.5)" fill="#1f48c4" opacity="0.73"/><ellipse cx="166.1" cy="499.4" rx="1.41" ry="0.94" transform="rotate(46 166.1 499.4)" fill="#1f48c4" opacity="0.94"/><ellipse cx="153.9" cy="496.5" rx="1.09" ry="0.65" transform="rotate(143 153.9 496.5)" fill="#2a60f0" opacity="0.81"/><ellipse cx="183.2" cy="534.1" rx="1.02" ry="0.74" transform="rotate(167 183.2 534.1)" fill="#1f48c4" opacity="0.94"/><ellipse cx="181.8" cy="519.4" rx="1.14" ry="0.86" transform="rotate(3 181.8 519.4)" fill="#2a60f0" opacity="0.83"/><ellipse cx="156.1" cy="495.7" rx="1.26" ry="0.96" transform="rotate(138 156.1 495.7)" fill="#2a60f0" opacity="0.71"/><ellipse cx="163.7" cy="497.2" rx="1.47" ry="1.00" transform="rotate(172 163.7 497.2)" fill="#2452dc" opacity="0.75"/><ellipse cx="161.4" cy="497.8" rx="1.01" ry="0.57" transform="rotate(169 161.4 497.8)" fill="#1f48c4" opacity="0.67"/><ellipse cx="147.7" cy="494.4" rx="1.38" ry="0.78" transform="rotate(114 147.7 494.4)" fill="#3068f4" opacity="0.83"/><ellipse cx="158.5" cy="496.8" rx="1.23" ry="0.65" transform="rotate(63 158.5 496.8)" fill="#2a60f0" opacity="0.79"/><ellipse cx="181.8" cy="523.5" rx="1.28" ry="0.65" transform="rotate(132 181.8 523.5)" fill="#2452dc" opacity="0.93"/><ellipse cx="176.8" cy="506.9" rx="1.53" ry="1.20" transform="rotate(122 176.8 506.9)" fill="#2452dc" opacity="0.84"/><ellipse cx="120.5" cy="502.4" rx="1.48" ry="0.84" transform="rotate(35 120.5 502.4)" fill="#2452dc" opacity="0.98"/><ellipse cx="182.1" cy="529.0" rx="1.25" ry="1.04" transform="rotate(137 182.1 529.0)" fill="#2a60f0" opacity="0.95"/><ellipse cx="145.8" cy="496.3" rx="1.25" ry="0.82" transform="rotate(11 145.8 496.3)" fill="#2452dc" opacity="0.72"/><ellipse cx="130.6" cy="498.3" rx="1.59" ry="1.09" transform="rotate(107 130.6 498.3)" fill="#1f48c4" opacity="0.97"/><ellipse cx="138.5" cy="497.0" rx="1.08" ry="0.56" transform="rotate(178 138.5 497.0)" fill="#2a60f0" opacity="0.89"/><ellipse cx="143.6" cy="495.1" rx="1.60" ry="0.95" transform="rotate(131 143.6 495.1)" fill="#3068f4" opacity="0.70"/><ellipse cx="109.1" cy="507.9" rx="1.56" ry="1.20" transform="rotate(77 109.1 507.9)" fill="#2a60f0" opacity="0.90"/><ellipse cx="113.1" cy="506.5" rx="1.46" ry="1.22" transform="rotate(140 113.1 506.5)" fill="#2452dc" opacity="0.81"/><ellipse cx="149.3" cy="496.0" rx="1.29" ry="0.71" transform="rotate(61 149.3 496.0)" fill="#2a60f0" opacity="0.84"/><ellipse cx="104.7" cy="507.9" rx="1.06" ry="0.71" transform="rotate(57 104.7 507.9)" fill="#3068f4" opacity="0.96"/><ellipse cx="183.0" cy="521.2" rx="1.03" ry="0.84" transform="rotate(65 183.0 521.2)" fill="#2a60f0" opacity="0.99"/><ellipse cx="172.5" cy="503.6" rx="1.26" ry="0.69" transform="rotate(64 172.5 503.6)" fill="#2a60f0" opacity="0.89"/><ellipse cx="174.6" cy="506.0" rx="1.09" ry="0.58" transform="rotate(154 174.6 506.0)" fill="#2a60f0" opacity="0.67"/></g><g filter="url(#b3)"><ellipse cx="131.4" cy="506.4" rx="1.58" ry="1.09" transform="rotate(165 131.4 506.4)" fill="#2450d0" opacity="0.98"/><ellipse cx="110.6" cy="514.8" rx="1.54" ry="1.14" transform="rotate(11 110.6 514.8)" fill="#2a5fe6" opacity="0.95"/><ellipse cx="147.3" cy="500.5" rx="1.15" ry="0.78" transform="rotate(82 147.3 500.5)" fill="#2450d0" opacity="0.76"/><ellipse cx="141.1" cy="503.5" rx="1.16" ry="0.62" transform="rotate(175 141.1 503.5)" fill="#2a5fe6" opacity="0.88"/><ellipse cx="127.6" cy="504.9" rx="1.17" ry="0.61" transform="rotate(148 127.6 504.9)" fill="#1f45b8" opacity="0.67"/><ellipse cx="143.7" cy="499.5" rx="1.54" ry="0.90" transform="rotate(3 143.7 499.5)" fill="#2a5fe6" opacity="0.86"/><ellipse cx="106.8" cy="512.1" rx="1.51" ry="1.10" transform="rotate(179 106.8 512.1)" fill="#2450d0" opacity="1.00"/><ellipse cx="179.6" cy="533.2" rx="1.31" ry="0.84" transform="rotate(103 179.6 533.2)" fill="#2450d0" opacity="0.68"/><ellipse cx="124.6" cy="508.4" rx="1.23" ry="0.68" transform="rotate(143 124.6 508.4)" fill="#1f45b8" opacity="0.91"/><ellipse cx="123.2" cy="505.8" rx="1.46" ry="0.98" transform="rotate(84 123.2 505.8)" fill="#2450d0" opacity="0.91"/><ellipse cx="137.3" cy="499.9" rx="1.57" ry="0.96" transform="rotate(17 137.3 499.9)" fill="#1f45b8" opacity="0.69"/><ellipse cx="160.7" cy="503.5" rx="1.03" ry="0.58" transform="rotate(74 160.7 503.5)" fill="#1f45b8" opacity="1.00"/><ellipse cx="176.9" cy="514.6" rx="1.46" ry="0.73" transform="rotate(130 176.9 514.6)" fill="#1f45b8" opacity="0.93"/><ellipse cx="175.3" cy="522.7" rx="1.40" ry="0.91" transform="rotate(122 175.3 522.7)" fill="#2a5fe6" opacity="0.81"/><ellipse cx="136.2" cy="504.3" rx="1.10" ry="0.58" transform="rotate(144 136.2 504.3)" fill="#2450d0" opacity="0.74"/><ellipse cx="178.0" cy="540.7" rx="1.42" ry="0.79" transform="rotate(19 178.0 540.7)" fill="#2450d0" opacity="0.81"/><ellipse cx="172.0" cy="513.2" rx="1.05" ry="0.58" transform="rotate(164 172.0 513.2)" fill="#2450d0" opacity="0.92"/><ellipse cx="177.6" cy="527.5" rx="1.05" ry="0.58" transform="rotate(113 177.6 527.5)" fill="#2450d0" opacity="0.87"/><ellipse cx="116.5" cy="511.4" rx="1.01" ry="0.53" transform="rotate(165 116.5 511.4)" fill="#2a5fe6" opacity="0.71"/><ellipse cx="140.6" cy="499.3" rx="1.10" ry="0.59" transform="rotate(32 140.6 499.3)" fill="#2a5fe6" opacity="0.84"/><ellipse cx="156.7" cy="501.0" rx="1.00" ry="0.55" transform="rotate(88 156.7 501.0)" fill="#1f45b8" opacity="0.87"/><ellipse cx="176.3" cy="533.9" rx="1.42" ry="0.97" transform="rotate(155 176.3 533.9)" fill="#2450d0" opacity="0.78"/><ellipse cx="167.4" cy="504.4" rx="1.38" ry="1.05" transform="rotate(113 167.4 504.4)" fill="#2a5fe6" opacity="0.86"/><ellipse cx="121.0" cy="510.5" rx="1.22" ry="0.71" transform="rotate(7 121.0 510.5)" fill="#2a5fe6" opacity="0.67"/><ellipse cx="171.0" cy="507.5" rx="1.23" ry="0.69" transform="rotate(164 171.0 507.5)" fill="#2450d0" opacity="0.80"/><ellipse cx="150.4" cy="501.3" rx="1.03" ry="0.79" transform="rotate(141 150.4 501.3)" fill="#2450d0" opacity="0.71"/><ellipse cx="174.4" cy="517.4" rx="1.08" ry="0.85" transform="rotate(157 174.4 517.4)" fill="#2a5fe6" opacity="0.67"/><ellipse cx="179.0" cy="524.7" rx="1.51" ry="1.13" transform="rotate(52 179.0 524.7)" fill="#1f45b8" opacity="0.71"/></g><g filter="url(#b3)"><ellipse cx="143.0" cy="531.2" rx="1.32" ry="0.87" transform="rotate(145 143.0 531.2)" fill="#2450d0" opacity="0.95"/><ellipse cx="148.9" cy="523.3" rx="1.01" ry="0.55" transform="rotate(139 148.9 523.3)" fill="#2450d0" opacity="0.69"/><ellipse cx="161.4" cy="510.9" rx="1.39" ry="0.98" transform="rotate(78 161.4 510.9)" fill="#1f45b8" opacity="0.79"/><ellipse cx="156.7" cy="516.0" rx="1.13" ry="0.90" transform="rotate(20 156.7 516.0)" fill="#2450d0" opacity="0.79"/><ellipse cx="151.5" cy="507.4" rx="1.18" ry="0.71" transform="rotate(94 151.5 507.4)" fill="#2450d0" opacity="0.74"/><ellipse cx="144.9" cy="535.8" rx="1.43" ry="1.01" transform="rotate(91 144.9 535.8)" fill="#2a5fe6" opacity="0.91"/><ellipse cx="161.5" cy="523.0" rx="0.92" ry="0.71" transform="rotate(93 161.5 523.0)" fill="#2a5fe6" opacity="0.81"/><ellipse cx="108.4" cy="519.1" rx="1.12" ry="0.81" transform="rotate(152 108.4 519.1)" fill="#2a5fe6" opacity="0.74"/><ellipse cx="171.6" cy="522.1" rx="1.20" ry="0.67" transform="rotate(68 171.6 522.1)" fill="#1c3da6" opacity="0.79"/><ellipse cx="175.1" cy="537.9" rx="1.45" ry="1.14" transform="rotate(155 175.1 537.9)" fill="#2a5fe6" opacity="0.66"/><ellipse cx="140.0" cy="520.3" rx="1.11" ry="0.77" transform="rotate(155 140.0 520.3)" fill="#1f45b8" opacity="0.70"/><ellipse cx="159.0" cy="543.0" rx="1.25" ry="1.00" transform="rotate(123 159.0 543.0)" fill="#2450d0" opacity="0.78"/><ellipse cx="165.9" cy="523.1" rx="1.33" ry="0.83" transform="rotate(60 165.9 523.1)" fill="#2a5fe6" opacity="0.96"/><ellipse cx="129.8" cy="518.4" rx="1.12" ry="0.64" transform="rotate(8 129.8 518.4)" fill="#1f45b8" opacity="0.98"/><ellipse cx="107.7" cy="529.8" rx="0.95" ry="0.51" transform="rotate(69 107.7 529.8)" fill="#1c3da6" opacity="0.96"/><ellipse cx="111.3" cy="521.9" rx="1.42" ry="0.76" transform="rotate(57 111.3 521.9)" fill="#1f45b8" opacity="0.67"/><ellipse cx="125.8" cy="516.3" rx="1.40" ry="1.12" transform="rotate(35 125.8 516.3)" fill="#1f45b8" opacity="0.70"/><ellipse cx="158.3" cy="538.7" rx="1.00" ry="0.60" transform="rotate(99 158.3 538.7)" fill="#2a5fe6" opacity="0.82"/><ellipse cx="134.5" cy="507.6" rx="1.46" ry="1.00" transform="rotate(146 134.5 507.6)" fill="#1f45b8" opacity="0.94"/><ellipse cx="172.8" cy="527.3" rx="1.44" ry="0.96" transform="rotate(57 172.8 527.3)" fill="#2a5fe6" opacity="1.00"/><ellipse cx="168.9" cy="512.3" rx="0.98" ry="0.71" transform="rotate(45 168.9 512.3)" fill="#2450d0" opacity="0.69"/><ellipse cx="163.7" cy="530.1" rx="1.33" ry="0.79" transform="rotate(151 163.7 530.1)" fill="#2450d0" opacity="1.00"/><ellipse cx="168.0" cy="535.8" rx="1.08" ry="0.63" transform="rotate(95 168.0 535.8)" fill="#1f45b8" opacity="0.78"/><ellipse cx="123.0" cy="526.8" rx="1.43" ry="0.78" transform="rotate(102 123.0 526.8)" fill="#2450d0" opacity="0.66"/><ellipse cx="159.4" cy="528.9" rx="0.96" ry="0.67" transform="rotate(138 159.4 528.9)" fill="#2450d0" opacity="0.94"/><ellipse cx="162.3" cy="541.1" rx="1.34" ry="1.12" transform="rotate(107 162.3 541.1)" fill="#1c3da6" opacity="0.88"/><ellipse cx="127.7" cy="534.8" rx="0.97" ry="0.61" transform="rotate(17 127.7 534.8)" fill="#1f45b8" opacity="0.87"/><ellipse cx="108.6" cy="539.0" rx="1.02" ry="0.51" transform="rotate(17 108.6 539.0)" fill="#2a5fe6" opacity="0.80"/><ellipse cx="120.7" cy="523.6" rx="1.20" ry="0.91" transform="rotate(133 120.7 523.6)" fill="#2450d0" opacity="0.85"/><ellipse cx="164.5" cy="534.0" rx="1.30" ry="0.85" transform="rotate(179 164.5 534.0)" fill="#2450d0" opacity="0.73"/><ellipse cx="138.5" cy="508.4" rx="1.06" ry="0.59" transform="rotate(180 138.5 508.4)" fill="#2450d0" opacity="0.75"/><ellipse cx="119.3" cy="527.9" rx="0.95" ry="0.54" transform="rotate(58 119.3 527.9)" fill="#1f45b8" opacity="0.68"/><ellipse cx="124.6" cy="530.4" rx="0.94" ry="0.56" transform="rotate(123 124.6 530.4)" fill="#2a5fe6" opacity="0.69"/><ellipse cx="155.6" cy="531.7" rx="1.22" ry="0.69" transform="rotate(178 155.6 531.7)" fill="#2450d0" opacity="0.84"/><ellipse cx="138.7" cy="514.1" rx="1.12" ry="0.62" transform="rotate(123 138.7 514.1)" fill="#1f45b8" opacity="0.96"/><ellipse cx="137.5" cy="527.2" rx="0.90" ry="0.64" transform="rotate(20 137.5 527.2)" fill="#1c3da6" opacity="0.91"/></g><path d="M105.1 509.2C105.5 509.1 105.5 509.1 107.1 508.5C108.8 507.9 112.3 506.4 114.9 505.5C117.6 504.6 120.2 504.1 122.9 503.0C125.5 501.8 128.2 499.6 130.8 498.6C133.4 497.5 135.5 497.0 138.5 496.5C141.4 496.0 145.2 495.5 148.3 495.5C151.4 495.5 155.6 496.2 157.1 496.3" stroke="#ffd21e" stroke-width="1.0" fill="none" stroke-dasharray="3.5 0.8 1.8 0.6 2.5 1.0" opacity="0.95" filter="url(#b3)"/><path d="M107.4 509.2C108.7 508.7 112.6 507.2 115.2 506.2C117.8 505.3 120.5 504.9 123.2 503.7C125.8 502.5 128.5 500.4 131.1 499.3C133.6 498.2 137.4 497.6 138.7 497.3" stroke="#ff8a20" stroke-width="0.8" fill="none" stroke-dasharray="2 1.5" opacity="0.9"/><path d="M171.3 503.2h0M137.1 498.9h0M116.6 503.9h0M184.1 534.1h0M107 506.6h0M126.9 500.8h0M158 494.6h0M138.3 495.5h0M175.4 503.1h0M121.8 504.8h0M177.9 511.5h0M168.7 497.6h0M161.9 497.8h0M117.6 501.9h0M183.2 540.7h0M178.3 515.4h0M157.1 497.9h0M115.6 502.4h0M124.6 501.9h0M120.5 500.8h0M184.7 527.8h0M184.4 540.7h0" stroke="#e05a20" stroke-width="0.6" stroke-linecap="round" fill="none" stroke-opacity="0.8"/><path d="M107.8 516.8h0M124.9 522.5h0M112.9 542.3h0M171.9 517.1h0M142.1 509.6h0M175.7 539.6h0M153.3 506.7h0M134.1 509.8h0M131.8 518.4h0M107.7 536.6h0M111.6 514.8h0M163.6 509h0M150.9 536.2h0M109.6 513.4h0M109.9 516.1h0M132.1 505h0M119.6 526.4h0M114.5 537.6h0M149.5 514.1h0M142 512h0M132.4 542.9h0M128.8 529.2h0M107.8 522.1h0M146 501.8h0M160.5 518.6h0M114.6 542.7h0M150.6 521.6h0M156.7 503h0M113.1 521.4h0M157.4 513.9h0M162.2 517.8h0M157.7 510.2h0M131.3 519.3h0M145.2 515.5h0M110.4 530.9h0M129.7 513.3h0" stroke="#b03020" stroke-width="0.5" stroke-linecap="round" fill="none" stroke-opacity="0.7"/><path transform="translate(121.0 510.8) rotate(-115) scale(1.0)" d="M0 0L-2.6 -1.2L-2.0 -0.35L-4.2 -0.35L-4.2 0.35L-2.0 0.35L-2.6 1.2Z" fill="#fff"/><path transform="translate(129.1 507.8) rotate(-120) scale(1.0)" d="M0 0L-2.6 -1.2L-2.0 -0.35L-4.2 -0.35L-4.2 0.35L-2.0 0.35L-2.6 1.2Z" fill="#fff"/><path transform="translate(134.6 505.0) rotate(-135) scale(1.0)" d="M0 0L-2.6 -1.2L-2.0 -0.35L-4.2 -0.35L-4.2 0.35L-2.0 0.35L-2.6 1.2Z" fill="#fff"/><path transform="translate(149.0 504.8) rotate(-95) scale(1.0)" d="M0 0L-2.6 -1.2L-2.0 -0.35L-4.2 -0.35L-4.2 0.35L-2.0 0.35L-2.6 1.2Z" fill="#fff"/><path transform="translate(156.4 503.6) rotate(-100) scale(1.0)" d="M0 0L-2.6 -1.2L-2.0 -0.35L-4.2 -0.35L-4.2 0.35L-2.0 0.35L-2.6 1.2Z" fill="#fff"/><rect x="178.00" y="536.80" width="5.40" height="0.80" fill="#eee"/></g>
<text x="183.6" y="485.8" font-size="4.85" text-anchor="end" fill="#1e6fe0">DAPI</text>
<text x="170.2" y="485.8" font-size="4.85" text-anchor="end" fill="#ee1c2e">EGFR</text>
<text x="155.3" y="485.8" font-size="4.85" text-anchor="end" fill="#f2e61e">CLIP1</text>
<text x="98.20" y="474.10" font-size="4.7" text-anchor="end" stroke="#000" stroke-width="0.17">6W-1</text>
<text x="108.30" y="474.10" font-size="4.7" stroke="#000" stroke-width="0.17">20X</text>
<text x="217.60" y="473.80" font-size="4.7" stroke="#000" stroke-width="0.17">6W-1</text>
<text x="239.60" y="473.80" font-size="4.7" stroke="#000" stroke-width="0.17">60X</text>
<text x="98.20" y="546.50" font-size="4.7" text-anchor="end" stroke="#000" stroke-width="0.17">6W-2</text>
<text x="108.30" y="546.50" font-size="4.7" stroke="#000" stroke-width="0.17">20X</text></g>
<g id="panelI"><text x="290.30" y="400.50" font-size="8.2" stroke="#000" stroke-width="0.27">I</text>
<rect x="322.90" y="453.23" width="2.18" height="6.27" fill="#111111"/>
<rect x="325.33" y="438.18" width="2.18" height="21.32" fill="#F2332E"/>
<line x1="326.44" y1="438.18" x2="326.44" y2="436.61" stroke="#222" stroke-width="0.35"/>
<line x1="325.84" y1="436.61" x2="327.04" y2="436.61" stroke="#222" stroke-width="0.35"/>
<rect x="327.76" y="444.45" width="2.18" height="15.05" fill="#22BB45"/>
<line x1="328.87" y1="444.45" x2="328.87" y2="443.20" stroke="#222" stroke-width="0.35"/>
<line x1="328.27" y1="443.20" x2="329.47" y2="443.20" stroke="#222" stroke-width="0.35"/>
<rect x="330.19" y="446.96" width="2.18" height="12.54" fill="#8645A8"/>
<line x1="331.30" y1="446.96" x2="331.30" y2="446.02" stroke="#222" stroke-width="0.35"/>
<line x1="330.70" y1="446.02" x2="331.90" y2="446.02" stroke="#222" stroke-width="0.35"/>
<rect x="332.62" y="437.56" width="2.18" height="21.94" fill="#1E5DB5"/>
<line x1="333.73" y1="437.56" x2="333.73" y2="435.67" stroke="#222" stroke-width="0.35"/>
<line x1="333.13" y1="435.67" x2="334.33" y2="435.67" stroke="#222" stroke-width="0.35"/>
<rect x="340.00" y="453.23" width="2.18" height="6.27" fill="#111111"/>
<rect x="342.43" y="443.20" width="2.18" height="16.30" fill="#F2332E"/>
<line x1="343.54" y1="443.20" x2="343.54" y2="441.32" stroke="#222" stroke-width="0.35"/>
<line x1="342.94" y1="441.32" x2="344.14" y2="441.32" stroke="#222" stroke-width="0.35"/>
<rect x="344.86" y="441.94" width="2.18" height="17.56" fill="#22BB45"/>
<line x1="345.97" y1="441.94" x2="345.97" y2="439.75" stroke="#222" stroke-width="0.35"/>
<line x1="345.38" y1="439.75" x2="346.57" y2="439.75" stroke="#222" stroke-width="0.35"/>
<rect x="347.29" y="421.88" width="2.18" height="37.62" fill="#8645A8"/>
<rect x="347.29" y="415.94" width="2.18" height="1.06" fill="#8645A8"/>
<line x1="348.40" y1="415.94" x2="348.40" y2="414.53" stroke="#222" stroke-width="0.35"/>
<line x1="347.81" y1="414.53" x2="349.00" y2="414.53" stroke="#222" stroke-width="0.35"/>
<rect x="349.72" y="421.88" width="2.18" height="37.62" fill="#1E5DB5"/>
<rect x="349.72" y="408.31" width="2.18" height="8.69" fill="#1E5DB5"/>
<line x1="350.83" y1="408.31" x2="350.83" y2="405.49" stroke="#222" stroke-width="0.35"/>
<line x1="350.24" y1="405.49" x2="351.44" y2="405.49" stroke="#222" stroke-width="0.35"/>
<rect x="357.20" y="453.23" width="2.18" height="6.27" fill="#111111"/>
<rect x="359.63" y="442.57" width="2.18" height="16.93" fill="#F2332E"/>
<line x1="360.74" y1="442.57" x2="360.74" y2="441.00" stroke="#222" stroke-width="0.35"/>
<line x1="360.14" y1="441.00" x2="361.34" y2="441.00" stroke="#222" stroke-width="0.35"/>
<rect x="362.06" y="436.93" width="2.18" height="22.57" fill="#22BB45"/>
<line x1="363.17" y1="436.93" x2="363.17" y2="435.05" stroke="#222" stroke-width="0.35"/>
<line x1="362.57" y1="435.05" x2="363.77" y2="435.05" stroke="#222" stroke-width="0.35"/>
<rect x="364.49" y="430.03" width="2.18" height="29.47" fill="#8645A8"/>
<line x1="365.60" y1="430.03" x2="365.60" y2="426.90" stroke="#222" stroke-width="0.35"/>
<line x1="365.00" y1="426.90" x2="366.20" y2="426.90" stroke="#222" stroke-width="0.35"/>
<rect x="366.92" y="421.88" width="2.18" height="37.62" fill="#1E5DB5"/>
<rect x="366.92" y="410.50" width="2.18" height="6.50" fill="#1E5DB5"/>
<line x1="368.03" y1="410.50" x2="368.03" y2="408.24" stroke="#222" stroke-width="0.35"/>
<line x1="367.44" y1="408.24" x2="368.63" y2="408.24" stroke="#222" stroke-width="0.35"/>
<rect x="374.30" y="453.23" width="2.18" height="6.27" fill="#111111"/>
<rect x="376.73" y="450.10" width="2.18" height="9.40" fill="#F2332E"/>
<line x1="377.84" y1="450.10" x2="377.84" y2="448.53" stroke="#222" stroke-width="0.35"/>
<line x1="377.25" y1="448.53" x2="378.44" y2="448.53" stroke="#222" stroke-width="0.35"/>
<rect x="379.16" y="449.47" width="2.18" height="10.03" fill="#22BB45"/>
<line x1="380.27" y1="449.47" x2="380.27" y2="448.21" stroke="#222" stroke-width="0.35"/>
<line x1="379.68" y1="448.21" x2="380.88" y2="448.21" stroke="#222" stroke-width="0.35"/>
<rect x="381.59" y="451.35" width="2.18" height="8.15" fill="#8645A8"/>
<line x1="382.70" y1="451.35" x2="382.70" y2="449.78" stroke="#222" stroke-width="0.35"/>
<line x1="382.11" y1="449.78" x2="383.31" y2="449.78" stroke="#222" stroke-width="0.35"/>
<rect x="384.02" y="441.94" width="2.18" height="17.56" fill="#1E5DB5"/>
<line x1="385.13" y1="441.94" x2="385.13" y2="440.06" stroke="#222" stroke-width="0.35"/>
<line x1="384.54" y1="440.06" x2="385.74" y2="440.06" stroke="#222" stroke-width="0.35"/>
<rect x="391.40" y="453.23" width="2.18" height="6.27" fill="#111111"/>
<rect x="393.83" y="448.21" width="2.18" height="11.29" fill="#F2332E"/>
<line x1="394.94" y1="448.21" x2="394.94" y2="446.96" stroke="#222" stroke-width="0.35"/>
<line x1="394.34" y1="446.96" x2="395.54" y2="446.96" stroke="#222" stroke-width="0.35"/>
<rect x="396.26" y="449.47" width="2.18" height="10.03" fill="#22BB45"/>
<line x1="397.37" y1="449.47" x2="397.37" y2="448.53" stroke="#222" stroke-width="0.35"/>
<line x1="396.77" y1="448.53" x2="397.97" y2="448.53" stroke="#222" stroke-width="0.35"/>
<rect x="398.69" y="445.08" width="2.18" height="14.42" fill="#8645A8"/>
<line x1="399.80" y1="445.08" x2="399.80" y2="443.51" stroke="#222" stroke-width="0.35"/>
<line x1="399.20" y1="443.51" x2="400.40" y2="443.51" stroke="#222" stroke-width="0.35"/>
<rect x="401.12" y="436.93" width="2.18" height="22.57" fill="#1E5DB5"/>
<line x1="402.23" y1="436.93" x2="402.23" y2="435.05" stroke="#222" stroke-width="0.35"/>
<line x1="401.63" y1="435.05" x2="402.83" y2="435.05" stroke="#222" stroke-width="0.35"/>
<line x1="322.50" y1="421.60" x2="322.50" y2="459.80" stroke="#111" stroke-width="0.7"/>
<line x1="322.50" y1="404.20" x2="322.50" y2="417.20" stroke="#111" stroke-width="0.7"/>
<line x1="322.20" y1="459.50" x2="405.80" y2="459.50" stroke="#111" stroke-width="0.7"/>
<line x1="319.90" y1="459.50" x2="322.50" y2="459.50" stroke="#111" stroke-width="0.6"/>
<text x="319.40" y="461.00" font-size="4.3" text-anchor="end" stroke="#000" stroke-width="0.15">0</text>
<line x1="319.90" y1="446.96" x2="322.50" y2="446.96" stroke="#111" stroke-width="0.6"/>
<text x="319.40" y="448.46" font-size="4.3" text-anchor="end" stroke="#000" stroke-width="0.15">2</text>
<line x1="319.90" y1="434.42" x2="322.50" y2="434.42" stroke="#111" stroke-width="0.6"/>
<text x="319.40" y="435.92" font-size="4.3" text-anchor="end" stroke="#000" stroke-width="0.15">4</text>
<line x1="319.90" y1="421.88" x2="322.50" y2="421.88" stroke="#111" stroke-width="0.6"/>
<text x="319.40" y="423.38" font-size="4.3" text-anchor="end" stroke="#000" stroke-width="0.15">6</text>
<line x1="319.90" y1="415.40" x2="322.50" y2="415.40" stroke="#111" stroke-width="0.6"/>
<text x="319.40" y="416.90" font-size="4.3" text-anchor="end" stroke="#000" stroke-width="0.15">10</text>
<line x1="319.90" y1="409.95" x2="322.50" y2="409.95" stroke="#111" stroke-width="0.6"/>
<text x="319.40" y="411.45" font-size="4.3" text-anchor="end" stroke="#000" stroke-width="0.15">20</text>
<line x1="319.90" y1="404.50" x2="322.50" y2="404.50" stroke="#111" stroke-width="0.6"/>
<text x="319.40" y="406.00" font-size="4.3" text-anchor="end" stroke="#000" stroke-width="0.15">30</text>
<line x1="321.30" y1="417.30" x2="323.70" y2="416.70" stroke="#111" stroke-width="0.5"/>
<line x1="321.30" y1="421.30" x2="323.70" y2="420.70" stroke="#111" stroke-width="0.5"/>
<text transform="translate(307.00 434.60) rotate(-90)" font-size="3.79" text-anchor="middle" stroke="#000" stroke-width="0.15">mRNA relative expression</text>
<text transform="translate(311.10 434.50) rotate(-90)" font-size="3.79" text-anchor="middle" stroke="#000" stroke-width="0.15">level (fold of change)</text>
<line x1="328.87" y1="459.50" x2="328.87" y2="461.70" stroke="#111" stroke-width="0.6"/>
<text transform="translate(331.37 462.60) rotate(-45)" font-size="4.35" text-anchor="end" stroke="#000" stroke-width="0.17">ERVFRD-1</text>
<line x1="345.97" y1="459.50" x2="345.97" y2="461.70" stroke="#111" stroke-width="0.6"/>
<text transform="translate(348.47 462.60) rotate(-45)" font-size="4.35" text-anchor="end" stroke="#000" stroke-width="0.17">CGA</text>
<line x1="363.17" y1="459.50" x2="363.17" y2="461.70" stroke="#111" stroke-width="0.6"/>
<text transform="translate(365.67 462.60) rotate(-45)" font-size="4.35" text-anchor="end" stroke="#000" stroke-width="0.17">CGB</text>
<line x1="380.27" y1="459.50" x2="380.27" y2="461.70" stroke="#111" stroke-width="0.6"/>
<text transform="translate(382.77 462.60) rotate(-45)" font-size="4.35" text-anchor="end" stroke="#000" stroke-width="0.17">TBX3</text>
<line x1="397.37" y1="459.50" x2="397.37" y2="461.70" stroke="#111" stroke-width="0.6"/>
<text transform="translate(399.87 462.60) rotate(-45)" font-size="4.35" text-anchor="end" stroke="#000" stroke-width="0.17">CLIP1</text>
<rect x="408.20" y="406.00" width="7.00" height="3.80" fill="#111111"/>
<text x="416.40" y="409.50" font-size="4.4" stroke="#000" stroke-width="0.15">0h</text>
<rect x="408.20" y="411.06" width="7.00" height="3.80" fill="#F2332E"/>
<text x="416.40" y="414.56" font-size="4.4" stroke="#000" stroke-width="0.15">6h</text>
<rect x="408.20" y="416.12" width="7.00" height="3.80" fill="#22BB45"/>
<text x="416.40" y="419.62" font-size="4.4" stroke="#000" stroke-width="0.15">12h</text>
<rect x="408.20" y="421.18" width="7.00" height="3.80" fill="#8645A8"/>
<text x="416.40" y="424.68" font-size="4.4" stroke="#000" stroke-width="0.15">24h</text>
<rect x="408.20" y="426.24" width="7.00" height="3.80" fill="#1E5DB5"/>
<text x="416.40" y="429.74" font-size="4.4" stroke="#000" stroke-width="0.15">48h</text></g>
<g id="panelJ"><text x="287.50" y="495.60" font-size="8.2" stroke="#000" stroke-width="0.27">J</text>
<defs><filter id="jb" x="-5%" y="-20%" width="110%" height="140%"><feGaussianBlur stdDeviation="0.5 0.35"/></filter></defs>
<clipPath id="jc0"><rect x="337.4" y="500.5" width="42.70" height="7.50"/></clipPath>
<rect x="337.40" y="500.50" width="42.70" height="7.50" fill="#a9a9a9"/>
<g clip-path="url(#jc0)"><g filter="url(#jb)"><rect x="338.00" y="502.68" width="7.34" height="3.15" rx="0.8" fill="rgb(50,50,50)" opacity="0.58"/><rect x="346.54" y="502.68" width="7.34" height="3.15" rx="0.8" fill="rgb(50,50,50)" opacity="0.58"/><rect x="355.08" y="502.68" width="7.34" height="3.15" rx="0.8" fill="rgb(39,39,39)" opacity="0.68"/><rect x="363.62" y="502.68" width="7.34" height="3.15" rx="0.8" fill="rgb(19,19,19)" opacity="0.84"/><rect x="372.16" y="502.68" width="7.34" height="3.15" rx="0.8" fill="rgb(15,15,15)" opacity="0.87"/></g></g>
<rect x="337.4" y="500.5" width="42.70" height="7.50" fill="none" stroke="#111" stroke-width="0.6"/>
<text x="336.00" y="505.75" font-size="4.25" text-anchor="end" stroke="#000" stroke-width="0.19">CLIP1</text>
<text x="381.20" y="505.30" font-size="2.95" stroke="#000" stroke-width="0.15">- 161kDa</text>
<clipPath id="jc1"><rect x="337.4" y="510.3" width="42.70" height="6.20"/></clipPath>
<rect x="337.40" y="510.30" width="42.70" height="6.20" fill="#dedede"/>
<g clip-path="url(#jc1)"><g filter="url(#jb)"><rect x="338.00" y="512.10" width="7.34" height="2.60" rx="0.8" fill="rgb(54,54,54)" opacity="0.54"/><rect x="346.54" y="512.10" width="7.34" height="2.60" rx="0.8" fill="rgb(7,7,7)" opacity="0.94"/><rect x="355.08" y="512.10" width="7.34" height="2.60" rx="0.8" fill="rgb(7,7,7)" opacity="0.94"/><rect x="363.62" y="512.10" width="7.34" height="2.60" rx="0.8" fill="rgb(11,11,11)" opacity="0.90"/><rect x="372.16" y="512.10" width="7.34" height="2.60" rx="0.8" fill="rgb(7,7,7)" opacity="0.94"/></g></g>
<rect x="337.4" y="510.3" width="42.70" height="6.20" fill="none" stroke="#111" stroke-width="0.6"/>
<text x="336.00" y="514.90" font-size="4.25" text-anchor="end" stroke="#000" stroke-width="0.19">TBX3</text>
<text x="381.20" y="514.45" font-size="2.95" stroke="#000" stroke-width="0.15">- 79kDa</text>
<clipPath id="jc2"><rect x="337.4" y="518.7" width="42.70" height="7.10"/></clipPath>
<rect x="337.40" y="518.70" width="42.70" height="7.10" fill="#7e7e7e"/>
<g clip-path="url(#jc2)"><g filter="url(#jb)"><rect x="338.00" y="520.76" width="7.34" height="2.98" rx="0.8" fill="rgb(47,47,47)" opacity="0.61"/><rect x="346.54" y="520.76" width="7.34" height="2.98" rx="0.8" fill="rgb(43,43,43)" opacity="0.64"/><rect x="355.08" y="520.76" width="7.34" height="2.98" rx="0.8" fill="rgb(23,23,23)" opacity="0.80"/><rect x="363.62" y="520.76" width="7.34" height="2.98" rx="0.8" fill="rgb(19,19,19)" opacity="0.84"/><rect x="372.16" y="520.76" width="7.34" height="2.98" rx="0.8" fill="rgb(15,15,15)" opacity="0.87"/></g></g>
<rect x="337.4" y="518.7" width="42.70" height="7.10" fill="none" stroke="#111" stroke-width="0.6"/>
<text x="336.00" y="523.75" font-size="4.25" text-anchor="end" stroke="#000" stroke-width="0.19">ERVFRD-1</text>
<text x="381.20" y="523.30" font-size="2.95" stroke="#000" stroke-width="0.15">- 60kDa</text>
<clipPath id="jc3"><rect x="337.4" y="528.6" width="42.70" height="5.60"/></clipPath>
<rect x="337.40" y="528.60" width="42.70" height="5.60" fill="#e6e6e6"/>
<g clip-path="url(#jc3)"><g filter="url(#jb)"><rect x="338.00" y="530.50" width="7.34" height="1.79" rx="0.8" fill="rgb(7,7,7)" opacity="0.94"/><rect x="346.54" y="530.50" width="7.34" height="1.79" rx="0.8" fill="rgb(6,6,6)" opacity="0.95"/><rect x="355.08" y="530.50" width="7.34" height="1.79" rx="0.8" fill="rgb(3,3,3)" opacity="0.97"/><rect x="363.62" y="530.50" width="7.34" height="1.79" rx="0.8" fill="rgb(3,3,3)" opacity="0.97"/><rect x="372.16" y="530.50" width="7.34" height="1.79" rx="0.8" fill="rgb(3,3,3)" opacity="0.97"/></g></g>
<rect x="337.4" y="528.6" width="42.70" height="5.60" fill="none" stroke="#111" stroke-width="0.6"/>
<text x="336.00" y="532.90" font-size="4.25" text-anchor="end" stroke="#000" stroke-width="0.19">GAPDH</text>
<text x="381.20" y="532.45" font-size="2.95" stroke="#000" stroke-width="0.15">- 37kDa</text>
<text transform="translate(340.87 499.40) rotate(-45)" font-size="3.6" stroke="#000" stroke-width="0.13">0h</text>
<text transform="translate(349.41 499.40) rotate(-45)" font-size="3.6" stroke="#000" stroke-width="0.13">6h</text>
<text transform="translate(357.95 499.40) rotate(-45)" font-size="3.6" stroke="#000" stroke-width="0.13">12h</text>
<text transform="translate(366.49 499.40) rotate(-45)" font-size="3.6" stroke="#000" stroke-width="0.13">24h</text>
<text transform="translate(375.03 499.40) rotate(-45)" font-size="3.6" stroke="#000" stroke-width="0.13">48h</text></g>
</svg>
</body></html>
